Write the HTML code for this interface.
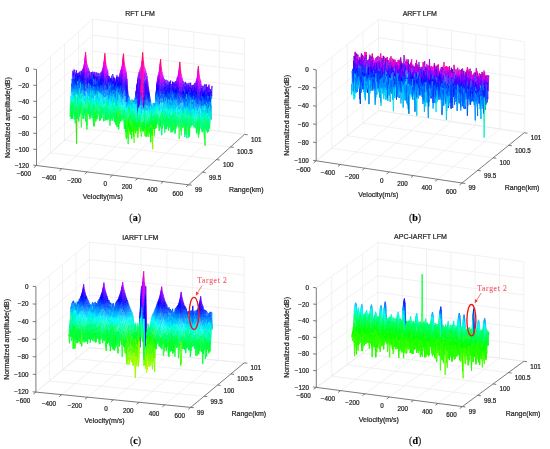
<!DOCTYPE html>
<html><head><meta charset="utf-8"><title>Range-velocity maps</title>
<style>
html,body{margin:0;padding:0;background:#fff;width:550px;height:449px;overflow:hidden}
svg{display:block}
.grid{stroke:#e8e8e8;stroke-width:.6;fill:none}
.ax{stroke:#5a5a5a;stroke-width:.8;fill:none}
.srf path{fill:none;stroke-width:7;stroke-linecap:butt}
.srf{filter:url(#bl)}
text{font-family:"Liberation Sans",Arial,sans-serif;fill:#262626;stroke:#262626;stroke-width:.22px}
.tk{font-size:6.3px}
.lb{font-size:7px}
.ti{font-size:7px;fill:#262626}
.cap{font-family:"Liberation Serif","Times New Roman",serif;font-size:10px;fill:#333}
.tg{font-family:"Liberation Serif","Noto Serif CJK SC",serif;font-size:7.6px;letter-spacing:.66px;fill:#f25563;stroke:#f25563;stroke-width:.1px}
.ar{stroke:#f03c3c;stroke-width:.7;fill:none}
.ah{fill:#f03c3c}
.el{fill:none;stroke:#ee1515;stroke-width:1.35}
.h0{stroke:#ff1300}
.h1{stroke:#ff3900}
.h2{stroke:#ff6000}
.h3{stroke:#ff8600}
.h4{stroke:#ffac00}
.h5{stroke:#ffd200}
.h6{stroke:#fff900}
.h7{stroke:#dfff00}
.h8{stroke:#b9ff00}
.h9{stroke:#93ff00}
.h10{stroke:#6cff00}
.h11{stroke:#46ff00}
.h12{stroke:#20ff00}
.h13{stroke:#00ff06}
.h14{stroke:#00ff2d}
.h15{stroke:#00ff53}
.h16{stroke:#00ff79}
.h17{stroke:#00ff9f}
.h18{stroke:#00ffc6}
.h19{stroke:#00ffec}
.h20{stroke:#00ecff}
.h21{stroke:#00c6ff}
.h22{stroke:#009fff}
.h23{stroke:#0079ff}
.h24{stroke:#0053ff}
.h25{stroke:#002dff}
.h26{stroke:#0006ff}
.h27{stroke:#2000ff}
.h28{stroke:#4600ff}
.h29{stroke:#6c00ff}
.h30{stroke:#9300ff}
.h31{stroke:#b900ff}
.h32{stroke:#df00ff}
.h33{stroke:#ff00f9}
.h34{stroke:#ff00d2}
.h35{stroke:#ff00ac}
.h36{stroke:#ff0086}
.h37{stroke:#ff0060}
.h38{stroke:#ff0039}
.h39{stroke:#ff0013}
</style></head><body>
<svg width="550" height="449" viewBox="0 0 550 449">
<defs><filter id="bl" x="-5%" y="-5%" width="110%" height="110%"><feGaussianBlur stdDeviation="3.5"/></filter></defs>
<path class="grid" d="M36.5 165.5L92.5 115.1M61.8 168.7L117.8 118.3M87.2 171.9L143.2 121.5M112.5 175.2L168.5 124.8M137.8 178.4L193.8 128M163.2 181.6L219.2 131.2M50.5 152.9L202.5 172.2M64.5 140.3L216.5 159.6M78.5 127.7L230.5 147M92.5 115.1L244.5 134.4M92.5 115.1L92.5 19.1M117.8 118.3L117.8 22.3M143.2 121.5L143.2 25.5M168.5 124.8L168.5 28.8M193.8 128L193.8 32M219.2 131.2L219.2 35.2M244.5 134.4L244.5 38.4M92.5 115.1L244.5 134.4M92.5 99.1L244.5 118.4M92.5 83.1L244.5 102.4M92.5 67.1L244.5 86.4M92.5 51.1L244.5 70.4M92.5 35.1L244.5 54.4M92.5 19.1L244.5 38.4M50.5 152.9L50.5 56.9M64.5 140.3L64.5 44.3M78.5 127.7L78.5 31.7M36.5 165.5L92.5 115.1M36.5 149.5L92.5 99.1M36.5 133.5L92.5 83.1M36.5 117.5L92.5 67.1M36.5 101.5L92.5 51.1M36.5 85.5L92.5 35.1M36.5 69.5L92.5 19.1"/>
<g class="srf" transform="scale(0.1)"><path class="h17" d="M1313 1134l7-138"/><path class="h19" d="M1527 1127l7-46"/><path class="h20" d="M1327 1075l7-72m200 78l7 15m0 0l8-30"/><path class="h21" d="M1299 1025l7-27m36 46l7-32m164 57l7 6m0 0l7 52m22-61l7-69"/><path class="h22" d="M1149 961l7-151m150 188l7 136m21-131l8 41m7-32l7-54"/><path class="h23" d="M1284 969l8-2m0 0l7 58m21-29l7 79m179-75l7 69"/><path class="h24" d="M785 861l7-135m314 175l7-130m243 187l7-51m136 66l7 27m50-3l7-63"/><path class="h25" d="M970 862l8-133m14 126l7-119m278 172l7 61m786 20l7-69"/><path class="h26" d="M756 801l7-99m336 134l7 65m257 6l7-51m122 68l7 49m64-39l7-97m143 74l7 10m0 0l7-104"/><path class="h27" d="M806 778l7-70m107 98l8-89m7 74l7-71m200 98l7 143m550-56l7-99"/><path class="h28" d="M735 758l7-62m7 56l7 49m14-59l8-4m0 0l7 123m35-111l8-61m78 85l7-53m43 60l7-57m122 55l7 13m0 0l7 44m57-26l7-26m14 27l8-43m7 38l7-69m171 119l7-52m107 67l8 53m371-37l7-56m28 73l8-76m171 92l7-62m14 60l7 12m0 0l8-17m0 0l7-54"/><path class="h29" d="M728 707l7 51m57-32l7-10m0 0l7 62m307-7l7-14m0 0l7-16m8 27l7 50m21-34l7-31m15 15l7 38m78-16l7 118m100-104l7-53m186 86l7-65m107 65l7-21m50 42l8-39m14 35l7-72m71 85l7-43m29 46l7-20m29 24l7-23m7 26l7-30m7 28l7-46m72 42l7-13m14 14l7-29"/><path class="h30" d="M742 696l7 56m14-50l7 40m43-34l7 42m72-40l7 14m0 0l7 50m7-53l7 85m8-89l7 74m7-71l7 2m0 0l7 59m7-57l7 138m8-133l7 4m0 0l7 122m7-119l7-10m0 0l7 11m0 0l7-29m107 33l8 27m35-15l7 58m22-74l7-31m271 110l7 55m165-72l7 6m0 0l7-6m0 0l7 8m0 0l7 2m0 0l7 28m7-21l8 89m7-99l7 105m14-94l7 7m0 0l7 34m8-39l7-7m0 0l7 42m85-30l8-3m0 0l7 66m7-56l7 39m7-20l7-22m0 0l7 76m8-76l7 46m7-23l7 26m7-30l7 28m15-34l7-30m50 38l7 22m7-13l7 1m0 0l7 13m14-11l8-17m21 14l7-12"/><path class="h31" d="M828 689l7-13m0 0l7-34m36 32l7 13m0 0l7 23m128-2l7-23m50 19l8 75m299-28l8-30m78 41l7 54m100-44l7-25m50 25l7 18m0 0l8 9m178 8l7 6m0 0l7 54m107-38l8 12m7-30l7-31m78 63l7 18m8-17l7 145m21-143l7 72"/><path class="h32" d="M842 642l7-36m21 39l8 29m149 11l8-30m35 34l7 15m129 2l7-14m0 0l7-31m36 34l7 29m0 0l7 66m122-69l7-23m64 32l7 32m114-15l7-30m36 30l7 25m136 10l7-15m0 0l7-25m36 36l7 29m171-20l8 18m0 0l7 44"/><path class="h33" d="M1035 655l7-36m21 39l7 31m150-28l7-39m172 76l7-20m50 27l7 25m128-13l8-38m21 40l7 28m157-5l7-38m22 41l7 33m150 2l7-35"/><path class="h34" d="M849 606l7-85m7 86l7 38m172-26l7-85m7 86l7 38m186 6l7 31m150-17l7-16m0 0l7-53m22 57l7 17m0 0l7 22m521 40l7-85m7 87l7 40"/><path class="h35" d="M1227 622l8-85m7 88l7 39m350 15l7-86m7 87l7 39m171-15l7-85m8 86l7 40"/><path class="h36" d="M1420 609l7-84m7 86l8 55"/><path class="h37" d="M856 521l7 86m186-73l7 86m928 40l7 87"/><path class="h38" d="M1235 537l7 88m364-32l7 87m185-61l8 86"/><path class="h39" d="M1427 525l7 86"/><path class="h18" d="M1306 998l-2 128 7-99"/><path class="h19" d="M1520 1075l-2 46 8-29"/><path class="h20" d="M1527 1127l-1-35 7-60m8 64l-1 5 7-5l2-30-2 30 7-29"/><path class="h21" d="M1284 969l-1 54 7-40m9 42l-2 18 7 83m9 8l-2-107 8 23l1-54-1 54 7-28m16 22l-2-1 7-20m166 46l-2-16 7 68m38-124l-2 70 7-83"/><path class="h22" d="M1327 1075l-1-53 7 0l1-19-1 19 7 21m9-31l-2 11 7-47m180 105l-1-49 7 69"/><path class="h23" d="M992 855l-2 60 7-80m116-64l-1 162 7-87m173 121l-2 16 7 60m209-43l-2 22 7 31"/><path class="h24" d="M1127 741l-1 168 7-112m23 13l-2 92 7-22m195 78l-2 18 7-52m138 49l-2 12 7 37m59-88l-2 50 7-126"/><path class="h25" d="M906 774l-2 69 8-28m251-31l-2 96 8-112m16 0l-2 118 7-116m87 138l-1 15 7 100m423-217l-2 147 7-110m180-15l-1 135 7-95m23-17l-2 136 7-129"/><path class="h26" d="M785 861l-2-54 7-79m123-7l-1 94 7-4l1-5-1 5 7-60m73-15l-2 99 7-72m116-6l-1 89 7 63m51-98l-1 42 7 33m180 21l-2 17 8-53m123 53l-2 15 7 46m187-148l-1 85 7-75m151 20l-1 77 7-83m9-40l-2 127 7-36m187-69l-1 129 7-46"/><path class="h27" d="M763 702l-1 83 7-54m9 7l-2 37 7 32m187 55l-1-71 7-21m37-33l-1 63 7-77m80 113l-2-21 7-33m566 25l-2 77 7-37m45 74l-2-11 7-14l2-79-2 79 8-19m130 10l-2 25 7-65m9 23l-2 36 8-59m51 0l-2 83 8-9l1-46-1 46 7-58m73 8l-2 62 7-43m73 28l-1 21 7-46m16-34l-2 98"/><path class="h28" d="M728 707l-2 29 7-10m23 75l-1-60 7 44m37-69l-2 52 8-7l1 17-1-17 7-2l1-51-1 51 7 3l1-12-1 12 7-38m123-2l-2 51 7-12m9-37l-1 42 7 25m9-62l-2 41 7-6m123 137l-2-119 8 151m23-165l-2 29 7-20m230 79l-1 15 7-52l1-15-1 15 7-52m101 104l-1 15 7 53m80-102l-2 21 8-65m80 12l-2 70 7-47m73-4l-1 53 7-41m16-24l-2 53 7-28m152 37l-2 27 7 86m123-115l-1 31 7 69m8-111l-1 65 7-18l2-64-2 64 7-36m16-14l-2 53 8-36m23 38l-2 15 7 29"/><path class="h29" d="M735 758l-2-32 7 7l2-37-2 37 7-11l2 30-2-30 8 19m15 1l-1-11 7 44m16-49l-2 2 7 40m31-79l-2 35 7-27m52-10l-2 43 7 3l2-23-2 23 7 13l2-22-2 22 7 97m24-126l-2 34 7-6l2 46-2-46 7-1l2-24-2 24 7 29m9 8l-2-20 8 5m23-33l-2 31 7 151m16-189l-2 37 8 37m73-21l-2-14 7-4l2 31-2-31 7 54m45 3l-2-41 7 6l2 178-2-178 7 119m16-149l-1 15 7 85m16-47l-2-36 7-5m73 25l-1 22 7 111m387-124l-2 29 7 56m9-75l-2 38 8 75m8-106l-1 31 7-21m16 85l-2-68 7 67m23-52l-1-22 7 7l2-24-2 24 7 22m9-11l-2-17 7-32m80 19l-1 37 7 87m44-44l-1-36 7 13l2-53-2 53 7 20m37-72l-1 34 7-24m73 19l-2 32 7-24m73 64l-1-37 7 35"/><path class="h30" d="M835 676l-2 21 7-33m38 10l-2 31 7 25m137-22l-1 15 7-13m51-6l-1 42 7 19m116-28l-2 28 7-34m180 20l-1 16 7-2l2-44-2 44 7-23m66-12l-2 44 7 4l2-16-2 16 8 54l1-16-1 16 7 54m151-114l-1 29 7 17l1-28-1 28 7 3l2-22-2 22 7 54m45 30l-2-79 7 127m130-140l-1 27 7 104m30-113l-2 16 7 59m9-56l-1-3 7 116m37-86l-2-19 7 72m24-89l-2-2 7 0l2-28-2 28 7-38m45 48l-2 17 7 67m16-74l-2 7 8 37m30 86l-2-117 7-1l2 49-2-49 7 40m9-65l-1 29 7 64"/><path class="h31" d="M870 645l-1 28 7 32m151-20l-1 25 7-31m37 10l-1 26 7 31m130-40l-2 25 7-15l2-24-2 24 8-31m44 39l-2 23 8 65m130-114l-2 44 7-20m52-17l-2 44 7 25m116-2l-1 21 7-22l1-24-1 24 7-31m37 7l-1 30 7 24m137-19l-2 23 7-10l2-28-2 28 8-29m37 12l-2 22 7 14l2-7-2 7 8 26m173-35l-2 29 7 32"/><path class="h32" d="M842 642l-2 22 7-34m188 25l-2 24 7-37m23 16l-1 26 7 31m187-20l-2 23 7 29m145-69l-2 44 7-16m38-23l-2 44 7 22m137-32l-1 23 7-38m23 17l-2 26 8 32m158-35l-1 24 7-38m23 17l-2 26 7 29m152-20l-2 21 7-34m23 20l-1 18 7 29"/><path class="h33" d="M849 606l-2 24 8-85m8 62l-1 23 7 43m173-54l-2 23 7-85m9 63l-2 23 8 41m158-23l-1 24 7-40m23 19l-2 23 7 31m159-56l-2 44 7-53m24 13l-2 43 7 18m530 18l-2 22 7-83m9 63l-1 23 7 35"/><path class="h34" d="M1227 622l-1 23 7-84m9 64l-2 23 7 39m352-8l-2 23 7-85m9 63l-2 24 7 41m173-41l-1 24 7-85m9 62l-2 25 7 41"/><path class="h35" d="M1420 609l-2 44 8-84m8 42l-1 44 7 54"/><path class="h36" d="M856 521l-1 24 7 85m1122 30l-2 24 8 86"/><path class="h37" d="M1049 534l-2 23 7 86m181-106l-2 24 7 87m366-55l-2 24 7 87m187-85l-1 24 7 87"/><path class="h38" d="M1427 525l-1 44 7 86"/><path class="h16" d="M1304 1126l-1 43 7-126"/><path class="h17" d="M1326 1022l-2 129 7-15"/><path class="h18" d="M1333 1022l-2 114 7-49"/><path class="h19" d="M1126 909l-2 139 7-208m159 143l-2 110 7-31m45-19l-2 44 7-56"/><path class="h20" d="M1297 1043l-2 19 8 107m223-77l-2-7 7-38"/><path class="h21" d="M1311 1027l-1 16 7-15m187-6l-1 37 7 9l1-15-1 15 7-11l1 64-1-64 7 28"/><path class="h22" d="M1319 1050l-2-22 7 123m23-128l-2 8 8-44m180 45l-2 15 7 0l2 54-2-54 7-11l2 60-2-60 7-3l2 34-2-34 8-38"/><path class="h23" d="M747 722l-1 153 7-88m9-2l-2 102 7-138m516 274l-2-50 7 120m66-117l-1 11 7-48m137 46l-2 22 8 52m151-184l-2 119 8-137"/><path class="h24" d="M919 811l-2 69 7-8l2-121-2 121 7-70m630 182l-1 11 7-120m187-10l-2 112 7-69"/><path class="h25" d="M812 759l-2 84 7-34m166-45l-2 85 8-28m8 14l-1 40 7-81m273 129l-2-1 7 51m80-49l-1 15 7-52m123 52l-2 17 7 51m352-146l-2 112 7-100m16-26l-1 129 7-12l1-58-1 58 7-49m151-49l-1 128 7-76m44-7l-1 84 7-26m9-30l-2 74 7-88"/><path class="h26" d="M819 762l-2 47 7-60m73-3l-1 67 7-51m9 53l-2 6 7 59m73 35l-1-94 7 54m101-60l-1 23 7-45m30 4l-2 43 7-51m559 37l-2 91 7-62m31 22l-2 43 7-51m102 75l-2-3 7 32m59-92l-2 70 7-74m159-5l-2 98 8-56m16-39l-2 94 7 44m23-56l-2 22"/><path class="h27" d="M733 726l-1 36 7-16m16-5l-2 46 7 100m45-126l-2 30 7 52m123-98l-2 57 8 5l1-63-1 63 7-38m16-3l-2 40 7-33m9-3l-2 48 7 31m31-49l-2 19 7-57m66 3l-2 55 7-36m59-1l-1 44 7 6l1 69-1-69 7-4l1 51-1-51 7-10l2-51-2 51 7-21m9 88l-2-53 7-15m181 53l-2 16 7-52m109 51l-2 16 7 54m202-109l-2 41 7 29m66-80l-2 71 8-78m66 10l-2 68 7 33m45-94l-2 68 7-37m9-10l-2 56 7 27m45-88l-2 66 7-62"/><path class="h28" d="M726 736l-2 8 8 18m8-29l-1 13 7 129m23-144l-2 18 7-1l2 27-2-27 7 14l2 45-2-45 8-4l1-30-1 30 7-8l1 18-1-18 7 41m23-67l-2 25 7-33m59 17l-1 27 7 53m8 30l-1-81 7 59m37-48l-1-4 7 0l1-8-1 8 7 37m9-15l-2-18 7 45m30-55l-1 31 7 25m80-58l-2 23 8 54m8-56l-1 11 7-5l2 145-2-145 7-2l2 60-2-60 7 262m16-271l-2 12 8 38m30 26l-2-55 7 35m9-63l-2 48 8-30m73 24l-2 18 7 92m102-103l-2 16 7-52m187 75l-1 17 7-59m87 12l-1 29 7-11m8 1l-1 19 7-12m37 56l-1-32 7-24m16-18l-2 33 7 4l2-30-2 30 7 104m109-65l-2-29 8 93m58-118l-1 50 7-30m9 43l-2-12 7 20m80-39l-1 28 7 76m9-91l-2 15 7-19m9 27l-2-2 7-30m16-23l-1 43 7 81m23-102l-2 32 7-9l2 12-2-12 7 63"/><path class="h29" d="M883 730l-2 17 8 13m130-37l-2 39 7-36m173 39l-1 23 7-34m187 11l-2 44 7-23m66-12l-1 44 7-25m9 39l-2 16 7 54m159-84l-2 25 7 2l2-24-2 24 7 149m16-110l-1-38 7 20m9 56l-2-68 7 34m16 65l-2-98 8-3l1-9-1 9 7 26m8 18l-1-42 7 66m94-106l-1 39 7 55m23 40l-2-75 7 10m31 80l-2-85 7 46m16-23l-2-24 8 5l1 105-1-105 7 26m8 22l-1-52 7 31m16-70l-2 28 7-13m52 12l-2 18 7 1l2 48-2-48 8 33m23 54l-2-73 7 25m9-16l-2-14 7 76"/><path class="h30" d="M833 697l-2 19 8-28m37 17l-2 12 7 30m145-37l-2 16 7-22m38 11l-2 23 7 13l2-5-2 5 7 69m123-89l-1 23 7-20m51 13l-1 22 7 61m116-63l-2 16 7 26m9-67l-2 44 8-20m51-17l-1 44 7 25m8-40l-1 15 7 55m102-55l-2 23 7-24m52 9l-2 19 7 23m130-38l-1 25 7-18m44-12l-1 26 7 27m137-14l-2 15 8-29m37 9l-2 21 7 29"/><path class="h31" d="M840 664l-1 24 7-34m23 19l-2 22 7 22m159-38l-2 25 7-39m24 19l-2 25 7 29m144-22l-1 18 7-26m37 10l-1 23 7 28m144-47l-1 44 7-16l1-44-1 44 7-53m23 12l-2 44 7 18l2-44-2 44 8 22m130-22l-2 21 7-28m30-19l-1 22 7 27l2-17-2 17 7 26m144-25l-1 17 7-21l2-25-2 25 7-39m23 19l-2 21 8 34m151-25l-1 24 7-33m23 13l-2 23 7 27"/><path class="h32" d="M847 630l-1 24 7-86m9 62l-2 25 7 40m352-10l-2 23 7-39m23 18l-1 23 7 31m337-1l-2 24 7-40m380 43l-1 25 7-84m9 62l-2 23 7 35"/><path class="h33" d="M1040 642l-2 23 8-84m8 62l-1 25 7 41m166-64l-2 24 7-85m9 64l-2 23 8 39m351-8l-2 22 7-84m9 64l-1 23 7 40m173-39l-2 24 7-85m9 63l-2 23 7 39"/><path class="h35" d="M855 545l-2 23 7 87m558-2l-1 44 7-84m9 42l-2 44 7 54m544-69l-1 24 7 85"/><path class="h36" d="M1047 557l-1 24 7 87m180-107l-2 23 7 87m188-102l-2 44 7 86m173-82l-2 23 8 87m187-84l-2 24 7 86"/><path class="h17" d="M1317 1028l-2 118 7-102"/><path class="h18" d="M1538 1047l-1 105 7-96"/><path class="h19" d="M1338 1087l-1 1 7-29m180 26l-2 38 7-56m373-116l-1 182 7-229"/><path class="h20" d="M1281 973l-1 81 7-39m23 28l-2 14 7 89m16-10l-1-53 7 5"/><path class="h21" d="M1295 1062l-1-18 7 1l2 124-2-124 7 12m16 94l-2-107 8 39m15-52l-1 28 7-58m159 67l-2-5 7 13l2-19-2 19 7 47m9-76l-2 20 8 85m544-157l-2 113 7-186"/><path class="h22" d="M810 843l-2 85 8-110m472 275l-1-78 7 29m209 15l-2-8 7 12m37-27l-1 20 7-7l1-16-1 16 7-36m152-161l-2 187 7-162"/><path class="h23" d="M1353 987l-2 14 7-46m137 52l-1 18 7 26m59-56l-2 18 7-115m487 26l-1 131 7-132"/><path class="h24" d="M903 762l-2 126 7-98m95 4l-2 92 7-89m266 125l-2 23 8 109m387-208l-2 142 7-106m59 38l-2 60 7-95"/><path class="h25" d="M724 744l-1 94 7-46m9-46l-2 89 7-43m180 80l-1-23 7-11m23-69l-2 88 7 15l2-66-2 66 7-57m395 124l-2 16 7-52m123 53l-1 15 7 54m194-137l-2 50 8-63m165 8l-1 78 7-67m30 30l-2 67 8 142m30-255l-2 102 7-29m95 43l-2-5 7-69"/><path class="h26" d="M732 762l-2 30 7 43m9 40l-2-83 7-5m9 100l-2-72 8-44m8-23l-1 71 7-46m37 36l-1 9 7-67m108 51l-1 36 7-47m9-22l-2 67 7 21m30-8l-1-25 7-26m9 77l-2-38 7 49m95-48l-2 22 7-45m9-27l-2 58 7-37m31 18l-2 22 7 13l2-29-2 29 7-45m16-19l-2 71 8-23m8-28l-1 43 7-34m173 60l-2 16 7-52m109 51l-2 15 8 54m258-98l-1 61 7-18m80-8l-2 35 7-9l2 7-2-7 8-42m80 16l-2 40 7 32m9-71l-2 42 7-50m173 78l-1 10"/><path class="h27" d="M753 787l-2 0 7 28m9-66l-1 22 7 48m8-57l-1 11 7 4l2-19-2 19 7-2l2-25-2 25 7 10l2 6-2-6 7 143m81-168l-2 45 7 1l2 7-2-7 7 82m9-67l-2-31 7 6l2 84-2-84 8 53m16-42l-2-16 7 45m23-63l-2 42 8-10l1 13-1-13 7 19m9-3l-2-23 7 39m87-17l-1-2 7-7l1-27-1 27 7 49m9-67l-2 22 7 31m16 202l-2-215 8-22m51 22l-1 13 7 15m9-73l-2 39 7-46m66 49l-2 19 7 96m295-70l-2 23 7-63m66 8l-2 50 8-14m16-22l-2 25 7 106m16-134l-2 55 7 29m66 39l-1-61 7-19l1 11-1-11 7-30m109 97l-2-46 7-20"/><path class="h28" d="M824 749l-1 2 7-16m51 12l-1 24 7 34m123 14l-2-22 7-29m59-17l-1 40 7 27m37-32l-2 23 7 24m9 7l-1-29 7 3l1-25-1 25 7 35m16-20l-2-12 7-1l2 3-2-3 7 53m202-34l-2 16 7-53m9 11l-1 44 7-24l1-43-1 43 7-19m52-17l-2 44 7 25l2-44-2 44 7-53m9 39l-2 15 7 54m166-72l-1 34 7-9l1 124-1-124 7 12m16-16l-2 16 7 27m16 8l-1-42 7 7l1-27-1 27 7 157m9-161l-2-1 7 0l2-23-2 23 7 103m9-111l-2 16 8 49m101 39l-1-81 7 1l1-20-1 20 7 68m9 15l-2-82 7 24m9-3l-2-17 7 3l2-23-2 23 7 90m16-114l-1 27 7-6l2-16-2 16 7 50m23-19l-2-28 8-17m58 0l-1 15 7 6l1-20-1 20 7 8l2 5-2-5 7 76m9-71l-2 2 7 0l2-21-2 21 8 135m8-161l-1 29 7-8l1 55-1-55 7 18l2-19-2 19 7 175m9-139l-2-47 7 14l2 77-2-77 8-17l1 6-1-6 7 17l1-20-1 20 7 53"/><path class="h29" d="M831 716l-1 19 7-24m37 6l-1 35 7 19m137-9l-2 6 8-17l1-25-1 25 7-25m37 12l-2 17 8 36m130-37l-2 27 7-20m52 8l-2 21 7 59m116-66l-2 15 8 55m16-87l-2 44 7-17m37-22l-1 44 7 22m16-44l-2 16 7 54m102-47l-2 19 7-20m45-21l-2 29 7 22l2-25-2 25 7 48m131-63l-2 37 7-31m52 17l-2 12 7 78m123-76l-1 17 7-2l1-28-1 28 7-34m37 7l-1 21 7 23"/><path class="h30" d="M839 688l-2 23 7-33m23 17l-1 24 7 33m158-48l-1 22 7-36m23 19l-2 23 7 23m145-21l-2 27 7-30m38 10l-2 22 7 27m152-40l-2 43 7-52m23 12l-1 44 7 18m137-23l-2 23 8-29m187 26l-2 24 7-22m38 12l-2 20 7 19m145-40l-2 23 7-34m23 14l-2 24 8 24"/><path class="h31" d="M846 654l-2 24 7-86m9 63l-2 23 8 41m351-11l-2 23 7-38m24 17l-2 23 7 30m337 1l-1 22 7-38m23 19l-2 24 7 32m159-32l-2 23 7-39m23 17l-1 22 7 32m159-54l-2 22 7-83m9 62l-2 25 7 34"/><path class="h32" d="M1038 665l-1 25 7-85m9 63l-2 24 7 40m166-63l-2 24 8-85m365 116l-1 24 7-84m9 63l-2 24 7 40m173-39l-2 23 8-85m8 63l-1 24 7 37"/><path class="h33" d="M1238 671l-1 23 7 39"/><path class="h34" d="M853 568l-2 24 7 86"/><path class="h35" d="M1046 581l-2 24 7 87m366 5l-2 44 7-84l2-44-2 44 7 85l2-43-2 43 8 55m165-157l-1 24 7 87m187-84l-1 23 7 87m180-69l-2 23 7 87"/><path class="h36" d="M1231 584l-1 24 7 86"/><path class="h18" d="M1544 1056l-2 103 7-102"/><path class="h19" d="M1315 1146l-1-60 7-4m9 1l-2 8 7-24m187 56l-1 3 7-19m9 45l-2-33 7 40"/><path class="h20" d="M937 791l-2 188 7-110m359 176l-2 17 7 2l2-7-2 7 8 22m8-42l-1 38 7 9m9-3l-2-21 7-6m159-10l-2 39 7 15l2-42-2 42 7-21m16-17l-1 40 7 12"/><path class="h21" d="M1172 869l-1 118 7-121m102 188l-2-18 7-3l2-18-2 18 7 19l2-8-2 8 7 10m45-3l-2 2 7-41m166 56l-2 8 8 42m30-77l-2 8 7-36m288-129l-2 198 7-142"/><path class="h22" d="M958 872l-1 76 7-49m137-84l-2 135 8-2l1-102-1 102 7-76m237 129l-2 19 7-49m138 54l-2 6 7 59m180-181l-1 111 7-76m208 47l-1 67 7-124"/><path class="h23" d="M744 792l-2 98 8-89m37-24l-2 128 7-75m16 98l-1-28 7-58m280 18l-2 64 7 26m23-117l-1 95 7-85m144 102l-1 40 7 51m280-23l-2 8 7-106"/><path class="h24" d="M773 819l-2 35 7-45m187 6l-1 84 7 1l2-95-2 95 7-40m187-44l-1 103 7 68m16-126l-2 47 7-58m166 105l-2 16 8-52m123 52l-2 16 7 44m252-97l-2 50 7-25m109 2l-2 53 7-73m202-26l-2 108 7-64"/><path class="h25" d="M758 815l-1 11 7 19l2-74-2 74 7 9m23-79l-2 55 8-18m16 6l-2 24 7-64m80 110l-1-35 7-43m16 39l-2 17 7-52m16 22l-2 33 8-2l1-10-1 10 7 81m23-124l-2 36 7 2l2-64-2 64 7-5l2-20-2 20 7-31m81-8l-2 64 7-45m30-28l-1 63 7 56m23-79l-2 45 7-57m509 45l-2 70 7-24m23 10l-1 6 7-39m23-28l-2 67 8-32m30 4l-2 43 7-35m259-19l-2 103 7-71m88-1l-2 62 7-39"/><path class="h26" d="M723 838l-2-47 7 19l2-18-2 18 7-15l2 40-2-40 7 95m9-103l-1 14 7 25m23-53l-2 36 7 96m16-120l-1 27 7 88m108-104l-1 24 7 46m87-69l-1 30 7-31m116 15l-2 32 7-7m23-19l-1 37 7 65m16-73l-2 20 7 42m80-59l-1 25 7 111m94-82l-1 16 7-53m108 51l-1 15 7 55m80-89l-2 17 8-58m80 13l-2 46 7 36m9 36l-2-60 8-33m30-13l-2 51 7-34m23 81l-1-47 7 3l1-51-1 51 7 48m16-87l-2 27 7-48m88 17l-2 55 7 66m9-120l-2 47 7-2l2-21-2 21 8-18m30-17l-2 39 7 26l2-71-2 71 7-12l2-9-2 9 8-33m8 27l-1 0 7-29m116 1l-2 54 7 46m38-104l-2 57 7 22"/><path class="h27" d="M823 751l-2 27 7-16m59 43l-2 1 7 6l2-6-2 6 8 41m8-63l-1 20 7 10m16 18l-2-24 7 165m66-93l-2-60 8 1m66-36l-2 20 7 71m9-71l-2 26 7 87m45-110l-2 22 7 58m9-32l-2-25 8 17m37-27l-2 23 7-40m437 83l-1 4 7-4l2-14-2 14 7 23m23-34l-1 13 7 125m16-145l-2 30 7 28m9 106l-2-140 7 45m9-67l-1 35 7 21m101 10l-1-33 7 4l1 20-1-20 7 176m37-192l-1 23 7 1l1-21-1 21 7 136m9 75l-2-199 7 9m23 37l-1-56 7 27m8-50l-1 21 7 0l2-38-2 38 7-17m66 8l-2 24 7 3l2 49-2-49 8 2l1-22-1 22 7 0l1-22-1 22 7-3l2 116-2-116 7 38m16-44l-2 26 7-1l2 150-2-150 8 1l1-37-1 37 7-17l1-6-1 6 7 34m16 13l-2-30"/><path class="h28" d="M830 735l-2 27 7-24m38 14l-2 24 7 6l2-11-2 11 7 24m130-38l-1 28 7-15l2-30-2 30 7-33m37 7l-1 33 7 23m130-30l-2 29 8-27m51 7l-2 23 8 61m108-23l-1 15 7-52m9 39l-2 43 7-23l2-44-2 44 7-20l2-43-2 43 7-16l2-44-2 44 8-53m23 13l-2 44 7 18l2-44-2 44 7 22l2-44-2 44 7 24l2-43-2 43 8-80m8 38l-1 16 7 53m94-97l-1 22 7-23m51 11l-1 15 7 37m130-30l-2 9 7-16m52 5l-2 20 8 25m130-28l-2 23 7-33m38 4l-2 37 7 1l2-15-2 15 7 94"/><path class="h29" d="M837 711l-2 27 7-38m24 19l-2 22 7 35m187-44l-1 24 7 32m144-27l-1 22 7-29m37 9l-2 23 7 27m123-15l-1 16 7 82m80-87l-1 16 7 54m108-64l-1 19 7-26m37 15l-1 25 7 12m144-24l-2 24 8-26m37 12l-2 20 7 19m145-37l-2 24 7-32m23 12l-1 30 7 31"/><path class="h30" d="M844 678l-2 22 8-84m8 62l-1 24 7 39m166-15l-2 22 7-34m180 17l-1 23 7-38m23 17l-2 25 7 28m338 0l-2 22 7-36m23 19l-2 24 8 33m158-34l-1 20 7-35m23 15l-2 26 7 26"/><path class="h31" d="M1037 690l-2 24 7-86m9 64l-2 23 8 41m537-8l-2 24 7-85m9 64l-2 23 7 41m173-40l-1 24 7-85m9 63l-2 24 7 39m166-26l-2 26 8-85m8 63l-1 24 7 40"/><path class="h32" d="M1222 693l-1 23 7-85m9 63l-2 24 7 40"/><path class="h34" d="M851 592l-1 24 7 86m187-97l-2 23 7 87m745-25l-2 24 7 87m180-70l-1 24 7 87"/><path class="h35" d="M1230 608l-2 23 7 87m180 23l-1 43 7-84l1-43-1 43 7 86l1-44-1 44 7 55m166-177l-2 23 7 87"/><path class="h15" d="M1321 1082l-2 117 7-88"/><path class="h17" d="M778 809l-1 237 7-192m744 253l-2 70 7 3l2-61-2 61 7-29m9-94l-1 112 7-143"/><path class="h18" d="M1314 1086l-2 29 7 84m223-40l-2-8 8 18m565-210l-2 236"/><path class="h19" d="M1328 1091l-2 20 7-36m173 30l-1 13 7-19"/><path class="h20" d="M1107 948l-2 76 7-127m173 136l-2 46 8-1l1-26-1 26 7-10l1-6-1 6 7 4l1-8-1 8 7 43m23-48l-2 8 8-9l1-5-1 5 7-34m151 58l-1-1 7 29m8-34l-1 15 7 0l2 27-2-27 7 78"/><path class="h21" d="M1092 924l-1 60 7 8l1-42-1 42 7 32m52-170l-2 132 7-76m116 126l-2 9 7 34"/><path class="h22" d="M721 791l-2 117 8-90m358 19l-1 117 7 30m180 1l-2 29 7 31m73-25l-1 12 7-48m137 47l-2 24 8 34m180-69l-2 14 7-56m38-66l-2 114 7 24l2-117-2 117 7-115m352 24l-2 139 7-133"/><path class="h23" d="M735 795l-1 94 7 7l1-6-1 6 7-80m23 38l-2 31 8 161m173-179l-2 47 7-47m601 154l-1 5 7-93m144-34l-1 111 7-61m151-8l-1 93 7-94m16-18l-2 112 7-76m180 1l-1 92 7-5l1-88-1 88 7 52m23-100l-2 67 7 130"/><path class="h24" d="M764 845l-2 29 7 11m16 20l-1-51 7-23m9-19l-2 68 7-57m116 43l-2 6 7-26m188 26l-2 25 7-34m9-20l-2 79 7-21l2-65-2 65 8-39m23 57l-2-9 7-22m187 83l-1 13 7-50m123 53l-2 14 7 54m166-103l-1 15 7-5m23-18l-2 34 7-46m216 11l-2 57 8-45m8 2l-1 43 7-46m16-32l-2 80 7-47m66 53l-1 21 7-67"/><path class="h25" d="M792 830l-1 1 7 49m16-38l-2 1 7-40m81 50l-2 14 7-17l2-40-2 40 7-12m16-24l-2 32 8 15l1 118-1-118 7-15m16 102l-2-81 7-24m9 57l-2-42 7-13m16 12l-1 20 7-31m173 141l-2-99 7-19m16-19l-1 45 7-63m166 87l-2 15 7-52m109 50l-2 16 7 53m159-108l-2 49 7 7l2-33-2 33 8 18m8-39l-1 34 7-37m30 8l-2 22 8 55m8-66l-1 5 7 77m30-67l-2-7 8-24m294 11l-2 51 7-29m45 15l-2 23 7 66"/><path class="h26" d="M728 810l-1 8 7 71m16-88l-2 15 7 5l2 5-2-5 7 53m45 26l-2-77 7 20m73-37l-1 21 7 8l1-23-1 23 7 32m16-47l-2 18 7 34m23-3l-1-23 7 68m16-15l-2-56 7 15m9 2l-2-15 8 2l1 15-1-15 7 30m8-51l-1 20 7-4l2-15-2 15 7-24m66 64l-2-29 8 101m37-26l-2-65 7 59m16-28l-1-32 7 0l1-25-1 25 7 124m23-120l-2 3 7 6l2 33-2-33 8 20m73-21l-2 15 7 125m294-99l-1 18 7-54m66 18l-2 32 7 13m31-47l-2 30 7 109m16-129l-2 27 7 23m38-19l-2-1 7-8l2 57-2-57 7 25m9-28l-1 4 7-14m66-4l-2 37 7-2l2-31-2 31 7-7l2 152-2-152 7 21l2-11-2 11 8-16l1 71-1-71 7 91m8-95l-1 1 7 2l2-21-2 21 7 92m9 24l-2-100 7-9l2-15-2 15 7 51m9-31l-1-14 7 45m9-76l-2 30 7 5l2-8-2 8 7 43m9-80l-2 33 7-23m66 5l-1 25 7 6l1-28-1 28 7-4l2-22-2 22 7 0l2-22-2 22 7 26m16 33l-1-59 7 87"/><path class="h27" d="M821 778l-2 25 8-11l1-30-1 30 7-33m37 17l-2 12 7 18l2-24-2 24 8 21m130-31l-2 22 7-11l2-26-2 26 7-31m45 35l-2 10 7 32m123-43l-1 22 7-25m266 72l-2 15 7 54m152-88l-2 39 7 30m130-53l-1 38 7-22m51-7l-1 30 7 32m130-42l-2 27 8-34m37 15l-2 25 7 1l2-25-2 25 8 90m44-52l-2-16 8 3m30-22l-2 23 7 34"/><path class="h28" d="M835 738l-1 21 7-34m23 16l-2 25 7 22m195 0l-2 18 7 15m138-38l-2 24 7-30m37 9l-1 24 7 24l1-21-1 21 7 55m109-23l-2 16 7-53l2-15-2 15 7 111l2-44-2 44 7-23l2-44-2 44 8-20l1-44-1 44 7-16l1-44-1 44 7-53m23 13l-2 44 7 18l2-44-2 44 8 21l1-43-1 43 7 26l1-45-1 45 7-110l2-15-2 15 7 54m102-37l-2 22 7-22l2-23-2 23 7-25m38 16l-2 15 7 36m144-39l-1 32 7-32m37 6l-1 27 7 22m144-43l-1 26 7-35m23 19l-2 21 7 35"/><path class="h29" d="M1028 748l-2 28 8-40m23 20l-2 20 7 30m152-52l-2 23 7-37m366 68l-2 24 7-37m23 20l-1 21 7 27m159-29l-2 26 7-38m23 18l-1 26 7 27"/><path class="h30" d="M842 700l-1 25 7-86m9 63l-2 24 7 40m173-52l-1 22 7-84m8 63l-1 24 7 37m187-18l-1 21 7 31m358-36l-1 24 7 38m173-37l-2 23 7-85m9 64l-2 24 8 41m165-26l-1 23 7-85m9 64l-2 21 7 40"/><path class="h31" d="M1221 716l-2 24 7-85m9 63l-2 23 8 38m351-7l-2 23 8-84"/><path class="h33" d="M850 616l-2 23 7 87m187-98l-1 24 7 87m930 16l-2 23 7 85"/><path class="h34" d="M1228 631l-2 24 7 86m366-54l-1 24 7 87m187-84l-2 23 7 88"/><path class="h35" d="M1414 784l-2 44 7-84l2-44-2 44 7 86l2-44-2 44 7 55"/><path class="h15" d="M1512 1099l-2 135 7-118"/><path class="h17" d="M1283 1079l-1 62 7-63m37 33l-1 40 7-43"/><path class="h18" d="M1305 1072l-2 59 7-34m9 102l-2-73 8 25m544-211l-2 219 7-166"/><path class="h19" d="M805 823l-2 170 8-150m351 67l-2 134 8-25m108 26l-1 41 7 55m16-73l-2 20 7 43m9-16l-2-18 7 29m16-51l-1 33 7-25m166 35l-2 16 7 100m9-135l-2 17 7-5m9 69l-1-56 7 0l1 27-1-27 7-7l2 52-2-52 7-67m87-108l-1 175 7-169m287 11l-2 182 8-172"/><path class="h20" d="M905 850l-2 137 8-122m173 89l-2 55 7-94m66 71l-2 37 7 21m9-156l-1 131 7-75m116 134l-2 0 7 10m45-22l-2 17 7-29m152 35l-2 19 7 26m23 43l-2-66 8 13"/><path class="h21" d="M891 835l-2 122 7-69m23-16l-1 98 7-107m423 169l-2 22 7-54m137 55l-1 11 7 42m244-181l-1 141 7-88m144-22l-1 143 7-65"/><path class="h22" d="M734 889l-2 17 7-31m359 117l-2-28 7-83m80-6l-1 94 7-57m80 102l-2 2 8 70m280-60l-2 24 7-98m166 98l-2-9 7-91m152 84l-2 40 8 27m15-101l-1 74 7-98m201 219l-1-110"/><path class="h23" d="M727 818l-2 78 7 10m59-75l-2 58 7-11m138-17l-2 59 7-59m37-16l-1 71 7-48m9 9l-2 54 7-53m9-36l-2 70 7-64m109 15l-1 76 7-31m8-7l-1 27 7-33m37-26l-1 75 7 25m173 15l-2 16 7-50m123 51l-1 15 7 50m223-117l-2 67 7 8l2 2-2-2 7 17m138-7l-2 8 7 117m30-210l-1 87 7 38m116-112l-2 89 7-4l2-79-2 79 7-56m16-1l-1 53 7-8m23 11l-2 25 7-80m16 8l-1 54 7-52"/><path class="h24" d="M741 896l-2-21 7-24m16 23l-1-6 7-23m30 35l-2-2 7 115m81-166l-2 58 7 72m9-90l-2 21 7 99m45-73l-2-21 7-21m9-29l-1 37 7 17l1-39-1 39 7 19m101-63l-1 45 7 111m9-25l-2-69 7 49m30-42l-1-14 7 20m59-33l-2 17 7-58m459 113l-2 14 7-4l2-15-2 15 7-32m16 33l-1 13 7-20l1-39-1 39 7 22l1-38-1 38 7-26m44-15l-1 28 7-3m301-16l-1 74 7-33m9 49l-2-30 7 50"/><path class="h25" d="M719 908l-1-71 7 59m23-80l-2 35 7-8l2-22-2 22 8 25m8 17l-1-40 7-1l2 202-2-202 7 6l2 4-2-4 7 39m23-46l-1 0 7-6l1-34-1 34 7-26m87 27l-1 27 7 105m8-124l-1 17 7 57m9-74l-2 15 7 32m9-26l-2 5 8 8m23-33l-2 21 7 63m9-85l-2 32 7 34m102 112l-2-143 7 0l2 16-2-16 8 58m23-77l-2 33 7 2l2-35-2 35 7 126m109-134l-2 20 7 107m95-82l-2 16 7-53m109 51l-2 16 8 52m80-83l-2 19 7-53m80 50l-1-1 7 33m16-56l-2 20 7 0l2 89-2-89 8 46m23 19l-2-43 7 49m23-81l-2 15 8 118m16-140l-2 49 7-44m66 14l-2 34 7-7l2-29-2 29 8 6l1-42-1 42 7-4l1-17-1 17 7-10l2-23-2 23 7 76m16-100l-2 51 7 81m31-119l-2 21 7 2l2 22-2-22 7 17l2-41-2 41 7 146m81-112l-2-41 7 63m16-87l-2 27 7-7m24-20l-2 38 7 19m23-56l-2 42 8 46m8 12l-1-64 7 84"/><path class="h26" d="M827 792l-2 19 7-28m37 5l-1 27 7 23l1-32-1 32 7 47m130-67l-2 30 8-19m51-8l-1 41 7 36m551 1l-2 16 8 16l1-2-1 2 7 186m123-203l-2 19 7-22m52 4l-2 34 7 32m116 21l-1-33 7-13l1-1-1 1 7-13m51-4l-1 28 7 21m30-24l-2 20 8 59m37 55l-2-107 7 16"/><path class="h27" d="M834 759l-2 24 7-36m23 19l-1 20 7 29m151-8l-1 22 7-31m37 8l-2 30 8 26m130-30l-2 22 7-26m52 6l-2 21 7 54m209-15l-2 16 7 54m95-85l-2 20 7-17l2-25-2 25 8-27m37 8l-2 26 7 26m145-23l-2 19 7-26m38 8l-2 19 7 37m137-17l-1 11 7-23m37 18l-1 14 7 15"/><path class="h28" d="M1026 776l-1 22 7-37m23 15l-2 26 7 34m145-29l-2 21 7-27m38 9l-2 23 7 22m116 27l-2 15 8-52l1-16-1 16 7 138l1-43-1 43 7-22l1-44-1 44 7-20l2-44-2 44 7-16l2-44-2 44 7-53m23 13l-1 43 7 18l1-43-1 43 7 22l2-44-2 44 7 25l2-43-2 43 7-137l2-16-2 16 7 54m116-78l-1 23 7-37m23 18l-2 24 7 29m159-29l-2 25 7-39m24 20l-2 20 7 26m152-14l-2 22 7-33m23 16l-2 24 8 25"/><path class="h29" d="M841 725l-2 22 7-84m9 63l-2 23 8 37m173-50l-2 25 7-86m9 64l-2 22 7 41m159-25l-2 24 8-37m23 15l-2 25 7 29m723 30l-2 24 7-85m9 61l-2 26 7 38"/><path class="h30" d="M1219 740l-1 24 7-86m8 63l-1 24 7 39m351-9l-1 23 7-84m9 64l-2 23 7 39m173-38l-2 24 8-85m8 64l-1 22 7 39"/><path class="h32" d="M848 639l-2 24 7 86m188-97l-2 23 7 86m930 17l-2 24 7 87"/><path class="h33" d="M1226 655l-1 23 7 87m366-54l-2 23 7 87m187-84l-1 24 7 86"/><path class="h35" d="M1412 828l-2 44 7-84l2-44-2 44 8 86l1-44-1 44 7 54"/><path class="h13" d="M1317 1126l-1 129 7-143"/><path class="h14" d="M1289 1078l-2 145 7 17l2-152-2 152 8 3l1-112-1 112 7-107"/><path class="h15" d="M1282 1141l-2 55 7 27"/><path class="h16" d="M1517 1116l-1 102 7-65m9-29l-2 82 7-82m9-7l-2 85 7-133"/><path class="h17" d="M1510 1234l-1-39 7 23"/><path class="h18" d="M903 987l-1 53 7-158m401 215l-1 39 7 119m208-144l-1 42 7 53"/><path class="h19" d="M975 916l-2 121 7-89m345 203l-2-39 7-4l2 0-2 0 7-6l2-19-2 19 7-32m152 38l-2 24 7-10l2 12-2-12 8 73m30-71l-2 0 7 78m366-226l-2 168 7-127m9-22l-1 145 7-90"/><path class="h20" d="M796 878l-1 88 7-73m116 77l-2 21 7-74m252 27l-2 83 7-108m95 167l-2-23 7 133m66-142l-2 16 7-53m716 4l-2 128 8-21"/><path class="h21" d="M753 843l-1 103 7-79m30 22l-1 51 7 26m144-105l-2 98 8-54m173 34l-2 51 7-84m144 110l-1 6 7 41m216 3l-2 16 7 50m59-82l-2 19 8-95m294-8l-2 112 7-85m45 81l-2 31 7 39m166-73l-1 57 7-89"/><path class="h22" d="M739 875l-1 32 7-15m30-48l-2 86 7 3l2-83-2 83 8 7m23-97l-2 87 7-83m80 41l-1 60 7 92m51-168l-1 71 7-47m9 1l-2 52 7 88m9-169l-2 80 7-41m159-10l-2 61 8 20l1 45-1-45 7-16l1 82-1-82 7-50m187 88l-2 17 8-52m123 51l-2 17 7 49m230-58l-1 20 7-60m8-34l-1 104 7-73m137 12l-1 69 7-58m158-20l-1 96 7-19m16-59l-2 85 7 62m23-142l-1 81 7-19"/><path class="h23" d="M725 896l-2 6 7-39m16-12l-1 41 7 54m51 47l-1-100 7 37m73-45l-2 11 7 13l2 48-2-48 8 39m30-85l-2 54 7-20m16-4l-1 12 7 38m144 21l-2-14 8-9l1-60-1 60 7-32m30-14l-2 37 7 26m516 19l-2 36 8-36m30 16l-2 7 7 15l2-48-2 48 7-35m181 121l-2-54 7-9l2-2-2 2 7 67m30 36l-1-91 7-27m80 28l-2 8 8-54m23 38l-2 18 7-34m45 26l-2 16 7-53m9 69l-2-17"/><path class="h24" d="M718 837l-2 23 7 42m9 4l-2-43 8 44m23-39l-2-1 7-1l2-21-2 21 7 64m138-65l-2 17 7 109m16-71l-2-23 7 62m24-79l-2 16 7 53m23-18l-2-24 8-3l1-26-1 26 7-13l1 21-1-21 7-29m73 147l-2-106 7-1l2 13-2-13 7 48m16-69l-1 28 7 81m9-82l-2-2 7 14l2 8-2-8 7 12m31 87l-2-107 7 115m9-58l-2-50 7-9l2 2-2-2 7-36m166 76l-1 15 7-52m108 51l-1 16 7 53m80-81l-1 22 7-52m66 9l-2 53 7 0l2 133-2-133 7-14l2-22-2 22 7-4m16-21l-1 32 7 6l1-38-1 38 7-10l2 18-2-18 7-4m23 47l-2-36 8 64m8-3l-1-57 7 70m9 14l-2-87 7 12l2-13-2 13 7 7l2-23-2 23 7-34m73 8l-1 32 7-20m30 173l-2-141 8 44m8 12l-1-70 7 43m30-69l-2 39 8 123m16-171l-2 54 7-24m109 36l-2-8 7 60m23-96l-1 48 7 49"/><path class="h25" d="M818 837l-2 10 7-6l2-30-2 30 7-34m45 31l-2 28 7 30m130-48l-1 14 7-12m52 12l-2 8 7 24l2 4-2-4 7 9m180 6l-1 21 7 92m358-107l-1 24 7 45m23-3l-2-15 7 47m31-42l-2-2 7 31m66-67l-2 33 8-29m51 12l-1 16 7 12l1 4-1-4 7 29m9-26l-2 6 7 5l2-15-2 15 7 87m9-36l-2-49 7 25m81-62l-2 43 7-31m45-16l-2 32 7 17l2-34-2 34 7 11l2-24-2 24 7 47m9-12l-1-42 7 8l1-22-1 22 7 67m66-79l-2 15 7 52"/><path class="h26" d="M868 815l-2 24 7 27m145-37l-2 21 7-30m37 16l-1 15 7 19m130-16l-2 20 8-20m51 1l-1 20 7 55m208-20l-1 16 7 54m94-81l-1 23 7-18m44-15l-1 23 7 27m144-28l-1 26 7-32m37 7l-2 33 8 20m137-22l-2 25 7-19"/><path class="h27" d="M832 783l-2 24 7-37m24 16l-2 27 7 26m159-41l-2 22 7-36m23 18l-1 21 7 28m144-23l-1 26 7-29m37 8l-2 21 8 21m322 7l-1 22 7-26m30-18l-2 26 8 26m158-27l-1 20 7-36m23 17l-2 25 7 34m152-25l-2 29 7-39m23 17l-1 25 7 32"/><path class="h28" d="M839 747l-2 23 8-83m8 62l-1 23 7 41m173-52l-2 23 7-85m9 62l-1 25 7 37m158-22l-1 24 7-38m23 17l-2 23 7 27m123 43l-1 16 7-52l2-16-2 16 7 164l2-42-2 42 7-20l2-44-2 44 7-21l2-43-2 43 7-15l2-44-2 44 8-53m23 12l-2 44 7 18l2-44-2 44 7 21l2-43-2 43 7 24l2-42-2 42 8-164l1-15-1 15 7 55m116-71l-2 23 7-36m380 45l-2 23 8-84m8 63l-1 22 7 41"/><path class="h29" d="M1218 764l-2 23 7-85m9 63l-2 23 7 39m352-9l-2 24 7-85m9 64l-2 24 7 41m173-40l-1 23 7-84m9 62l-2 23 7 41"/><path class="h31" d="M846 663l-1 24 7 85m1122 30l-1 24 7 85"/><path class="h32" d="M1039 675l-2 24 8 87m180-108l-2 24 7 86m366-54l-2 23 7 88m188-84l-2 24 7 85"/><path class="h35" d="M1410 872l-1 44 7-84l1-44-1 44 7 86l2-44-2 44 7 54"/><path class="h14" d="M1323 1112l-2 134 7-65"/><path class="h16" d="M1330 1108l-2 73 8-33"/><path class="h17" d="M1166 912l-2 193 7-168m109 259l-2-55 8-31m8 130l-1-93 7-10m230 69l-2-13 7-57m380-119l-1 196 7-195m173 51l-2 152 7-52"/><path class="h18" d="M987 907l-1 158 7-145m309 323l-2-106 7-5l2 4-2-4 7 4l2 119-2-119 7 110m16-144l-1 46 7-50m151 34l-1 13 7 8l1-31-1 31 7 0l2 42-2-42 7-11m9 11l-2 2 7 38"/><path class="h19" d="M795 966l-2 29 7-100m116 96l-2 40 8-124m8-10l-1 122 7-107m330 110l-2 55 7 8l2-22-2 22 7 56m9 82l-1-113 7 37m51-77l-1 28 7-55m166 175l-2-76 7 13m16-31l-2 12 8-14l1 80-1-80 7-37m158-105l-1 130 7-104m137 72l-1 59 7-126m23-7l-2 143 7-73m173 13l-1 93 7-140m37-24l-2 153 8-78"/><path class="h20" d="M745 892l-2 86 7-90m230 60l-1 55 7 62m130-75l-2 38 7-29m38-37l-2 72 7 71m323-23l-2 20 8 43m173-168l-2 117 7-99m30 20l-1 81 7 14"/><path class="h21" d="M880 896l-1 59 7-47m16 132l-2-69 7-66m173-2l-1 90 7-27m37-60l-2 93 8-62m51-18l-1 92 7-82m165 88l-1 26 7-50m123 40l-2 28 7 41m66-33l-1 16 7-82m101 10l-1 38 7 43m30-94l-1 73 7 23m323-91l-2 115 7-88"/><path class="h22" d="M716 860l-2 49 8-21m58 45l-1 1 7-16l2 22-2-22 7 77m102-47l-2-15 7 38m45-66l-2 49 7 2l2-13-2 13 7-31m9 24l-2-6 7-31m102-18l-2 63 8 36m8-91l-1 64 7-1l1-15-1 15 7-28m544 33l-1 76 7-17l1-63-1 63 7 22m73 3l-2-15 7 12l2-70-2 70 7 10l2-68-2 68 8-58m94-12l-2 71 8 75m37-90l-2 27 7-10l2-26-2 26 8-48m30 34l-2 13 7-21m80 17l-1 13 7 48m52 8l-2-50 7-42m9 52l-2 8 7 125m16-153l-1 23"/><path class="h23" d="M723 902l-1-14 7 1l1-26-1 26 7 0l2 18-2-18 7 89m9-32l-2-58 7 7l2-28-2 28 7 7l2-36-2 36 8-12l1 40-1-40 7 44m23-41l-2 2 7 13l2 22-2-22 7-13l2-48-2 48 8-34m65 48l-1-1 7 25m16-51l-2 23 7 126m9-114l-1-10 7 112m8-60l-1-47 7 42m16-58l-2 29 7 18m9 94l-2-125 8 91m16-99l-2 16 7 12l2-41-2 41 7-17l2-53-2 53 7-31m88 57l-2-4 7-9l2-19-2 19 7 100m16-108l-1 17 7 4l1-9-1 9 7-5l1 22-1-22 7-3l2 45-2-45 7 101m16-7l-2-90 8 74m80-81l-2 33 7 114m95-112l-2 28 7-53m109 40l-2 27 7 54m81-87l-2 29 7-51m73 32l-2 27 8 35m37-73l-2 35 7-15m31 51l-2-38 7-3m102-26l-2 50 7-17m9-24l-2 42 7 34m95-39l-2 19 7-30m59-11l-2 45 8 3l1-37-1 37 7 23m30-11l-2-15 7-5"/><path class="h24" d="M866 839l-2 31 8 11l1-15-1 15 7 74m180-104l-2 44 7 12l2-37-2 37 7 50m116-47l-1 19 7-11l1-44-1 44 7-30m423 51l-2 29 7 15l2 1-2-1 7 28m38-28l-2 12 7 13m9-39l-2 24 8 80m30-89l-2 19 7 36m23-39l-1 3 7-26m59-12l-2 35 7 27m9-21l-2 4 7 18m23-35l-1 18 7 4l1 3-1-3 7-2l2 49-2-49 7 134m23-42l-1-89 7 3l1 125-1-125 7 194m9-73l-2-122 7 45m16-64l-2 13 8-17m80 18l-2 19 7-1l2 49-2-49 7 15m9-19l-2 14 8 139m8-31l-1-109 7 38m9-39l-2-3 7 60"/><path class="h25" d="M823 841l-1 20 7-22l1-32-1 32 7-33m23 7l-2 34 7 23m152-20l-2 34 7-27m181-3l-2 34 7-28m45 15l-2 33 7 55m209-37l-2 27 7 54m95-85l-2 30 7-14l2-34-2 34 7-25m38-1l-2 31 7 25m137-2l-1 11 7-2l2-38-2 38 7-37m37 7l-1 29 7 26m137-32l-1 27 7-11l1-35-1 35 7-40m30 40l-2 28 7 34"/><path class="h26" d="M1023 820l-2 37 8-39m23 5l-2 34 7 38m152-70l-2 35 7-37m30 31l-1 34 7 20m330-30l-2 35 7-37m23 10l-1 36 7 21m159-38l-2 33 7-34m23 7l-1 36 7 27m180-22l-2 31 7 29"/><path class="h27" d="M837 770l-1 36 7-84m9 50l-2 37 7 38m173-63l-1 34 7-84m9 52l-2 35 7 36m187-30l-1 34 7 27m551-18l-2 37 8 40m165-37l-1 34 7-83m9 50l-2 37 7 35"/><path class="h28" d="M1216 787l-2 36 7-86m9 51l-2 35 8 38m130 52l-2 27 7-52l2-27-2 27 7 184l2-47-2 47 8-26l1-41-1 41 7-17l1-45-1 45 7-17l1-43-1 43 7-52m23 12l-2 43 8 19l1-44-1 44 7 19l1-42-1 42 7 27l1-45-1 45 7-181l2-28-2 28 7 54m123-111l-2 34 8-83m8 52l-1 35 7 42m173-53l-2 35 7-84"/><path class="h30" d="M845 687l-2 35 7 87m187-110l-1 35 7 87m930 5l-2 35 7 87"/><path class="h31" d="M1223 702l-2 35 7 86m366-66l-1 36 7 87m187-95l-2 35 7 87"/><path class="h35" d="M1409 916l-2 44 7-84l2-44-2 44 7 86l2-44-2 44 7 53"/><path class="h12" d="M1278 1141l-1 154 7-155"/><path class="h13" d="M1514 1142l-2 148 8-130m8 33l-1 106 7-135"/><path class="h14" d="M1507 1153l-2 102 7 35"/><path class="h16" d="M800 895l-1 183 7-144m494 203l-2 38 7-37m16 108l-1-60 7-39m173 6l-2 53 7 49"/><path class="h17" d="M1550 1085l-2 84 7-108m345-45l-2 180 7-58"/><path class="h18" d="M907 905l-1 133 7-101m9-30l-2 136 7-86m44-45l-1 135 7-28m309 91l-2 30 7-1l2 8-2-8 7 36m9-43l-2 6 8 7l1-9-1 9 7 41m8-5l-1-34 7-13l2 14-2-14 7 12l2-48-2 48 7-56m145 55l-2 22 7 39m23-51l-1 5 7 139m8-163l-1 28 7-22m102-96l-2 96 7 15l2-128-2 128 7-66m387-45l-1 137 7-47"/><path class="h19" d="M793 995l-2 16 8 67m187-13l-2-19 7-27m173 86l-1-40 7-57m94 69l-1 3 7 18l1-13-1 13 7 197m208-193l-1 40 7 25m52-45l-2 20 7 27m294-107l-1 73 7-31m59-85l-2 119 7-32"/><path class="h20" d="M779 934l-2 45 7-13m95-11l-2 34 7-25m16 7l-2 16 8 51m73-35l-2 16 7 27m9-126l-2 99 7-27m88-26l-2 45 7-22m16-61l-2 92 8-61m8 40l-1 37 7-66m223 73l-2 47 7-47m123 18l-1 46 7 35m173-91l-2 40 7-51m23-47l-1 103 7-77m51 42l-1 34 7-16m102 58l-2-33 7-70m9-19l-2 90 7-52m180-12l-1 95 7-79"/><path class="h21" d="M743 978l-2-30 8-23m23-35l-2 51 7 38m9-61l-2 48 7 45m95-103l-2 56 7 5l2-36-2 36 7 18m38-75l-2 71 7-50m59-1l-2 60 8-60m87 33l-2 24 7-38m38-10l-2 68 7-45m16 70l-2-30 8 61m8-128l-1 71 7-6l2 9-2-9 7-9l2-64-2 64 7-46m66 16l-2 58 8 59m294-77l-2 58 7-52m152-3l-2 60 7 7l2-70-2 70 8-39m23-31l-2 76 7-24m73-45l-2 81 8-3l1-60-1 60 7 47m37 12l-2-55 8-29m30 150l-2-107 7-62m159-8l-2 93 7-42m16 82l-1-42 7-3l2-33-2 33"/><path class="h22" d="M714 909l-1 21 7-20l2-22-2 22 7 13l2-34-2 34 7-8l2-26-2 26 7 33m9-60l-1 37 7-12l1-18-1 18 7 5l1-16-1 16 7 23m37-33l-1 26 7-24m59-29l-2 47 7 61m37 42l-1-94 7 106m9-24l-2-62 7 26m16-27l-2-15 8-6m8 8l-1-3 7 107m94-140l-1 43 7-5m44 83l-1-69 7 77m9-99l-2 33 7 39m9-73l-2 28 7-2l2-29-2 29 7 42m202-11l-2 50 7-53m109 17l-1 49 7 51m151-124l-1 40 7 2l1-14-1 14 7 117m23-48l-2-54 7 0l2-45-2 45 8-14m51 13l-1-5 7-11m23-46l-2 78 7-50m59 22l-2 39 7 25m45-78l-2 40 7 39m9-18l-1-11 7-23m44 2l-1 37 7 7l1-74-1 74 7-20l2-71-2 71 7-45m52 28l-2 24 7 12l2-13-2 13 7-25m66 36l-2-9 8-4l1 138-1-138 7 44"/><path class="h23" d="M814 895l-1 15 7-6l2-43-2 43 7-6l2-59-2 59 7-37m23-14l-1 60 7 6l1-43-1 43 7 15m73 26l-2-21 7 8m9-16l-1 10 7 5m44-25l-1 17 7 11l1-59-1 59 7-27m37-21l-1 51 7 4m8 7l-1-12 7 5l2 43-2-43 7 61m16-74l-2 14 7 69m88-102l-2 29 7 1l2-60-2 60 7-29m45-11l-2 52 7 61m309-69l-2 57 7-14l2-57-2 57 8-27m44 0l-2 43 8 12m51-15l-1 18 7 70m9-23l-2-54 7 1l2 76-2-76 7 8l2 82-2-82 7 38m23-15l-1-28 7 72m66-121l-2 55 7-8l2-21-2 21 7 45m38-55l-2 23 7 71m30-41l-1-24 7 156m23-178l-2 26 7 0l2 19-2-19 8 35m58-67l-1 55 7-19l1-2-1 2 7 25m16 47l-2-60 7 0l2-28-2 28 8-3l1-26-1 26 7 126m16-3l-2-123 7 1l2-18-2 18 7 6l2 14-2-14 7 65"/><path class="h24" d="M1021 857l-1 59 7-43m23-16l-2 50 8 39m151-86l-2 59 8-41m30 10l-2 52 7 20m216-7l-2 50 8 53m108-143l-1 55 7-34m23-12l-2 57 7 10l2-46-2 46 7 22m145-36l-2 30 7-15l2-52-2 52 8-28m23-15l-2 57 7 25m152-45l-2 37 7-25m23-13l-1 45 7 39"/><path class="h25" d="M836 806l-2 55 7-81m9 29l-2 56 8 42m173-89l-2 55 7-81m9 29l-2 54 7 32m188-46l-2 54 7 25m359-60l-2 58 7 41m173-75l-1 58 7-84m180 66l-2 52 7-77m9 29l-2 51 8 29"/><path class="h26" d="M1214 823l-1 55 7-83m8 28l-1 58 7 34m351-39l-1 58 7-84m201 57l-1 54 7 43"/><path class="h28" d="M843 722l-2 58 7 85m188-131l-2 58 7 83m323 65l-2 50 8-52l1-50-1 50 7 177l1-43-1 43 7-28l2-41-2 41 7-15l2-43-2 43 7-17l2-43-2 43 7-52m23 12l-1 44 7 19l2-44-2 44 7 19l2-44-2 44 7 22l2-39-2 39 7-170l2-50-2 50 7 54m509-142l-2 58 7 80"/><path class="h29" d="M1221 737l-1 58 7 86m366-88l-2 57 7 88m187-118l-1 58 7 83"/><path class="h35" d="M1407 960l-2 43 7-83l2-44-2 44 8 85l1-43-1 43 7 54"/><path class="h6" d="M1284 1140l-2 302 7-287"/><path class="h11" d="M1512 1290l-1 58 7-104"/><path class="h13" d="M1305 1138l-1 131 7-102"/><path class="h14" d="M1327 1147l-2 92 7-60"/><path class="h15" d="M1520 1160l-2 84 7-48m16-54l-2 93 7-104m552-4l-2 156 7-192"/><path class="h16" d="M756 913l-2 161 7-126m537 227l-1 7 7 87m16-83l-2 4 7 49m9-105l-2 45 7 4l2-37-2 37 8-43m137 2l-2 56 7-27m45-7l-2 43 7 28m509-99l-2 103 7-79m9-102l-2 183 8-149"/><path class="h17" d="M791 1011l-1 59 7-123m137 36l-2 109 8-82m337 285l-2-139 7 286m9-303l-2 16 8 27m16-37l-2 22 7 23m173-23l-2 4 7 27l2 8-2-8 8 0l1 57-1-57 7 150m16-49l-2-103 7 11"/><path class="h18" d="M806 934l-2 115 7-110m137 2l-1 130 7-104m216 41l-2 68 7-55m88 59l-2 29 7 8l2-19-2 19 7 39m73-66l-1 50 7-49m23 24l-2 21 7-13m59-26l-2 45 7 13l2-36-2 36 8-156m23 108l-2 41 7 50m145-175l-2 117 7-16m30-84l-1 99 7-96m158 48l-1 90 7-32"/><path class="h19" d="M877 989l-2 40 8 5l1-70-1 70 7-20l1-45-1 45 7-11m16-66l-2 92 7-74m45-15l-2 88 7-68m23 59l-1 24 7 5l1-56-1 56 7-24m73-74l-2 106 7 3l2-48-2 48 8-50m37-39l-2 74 7-62m252 105l-2 36 7-15l2-36-2 36 8-13m37-17l-2 35 7 29m109 27l-2-38 8-31m80-75l-2 99 7-41m9 74l-2-42 8 18l1-42-1 42 7 6m173-51l-2 61 7-52m95-18l-2 88 7-89m95-21l-2 106 7-42m16-64l-2 103 7 81m31-158l-2 86 7 114"/><path class="h20" d="M713 930l-2 51 7-44m23 11l-1 20 7-5m73-59l-2 89 7-65m38-15l-2 74 7-1l2-58-2 58 7 43m23-42l-1 16 7 4l2 31-2-31 7 22m30-96l-1 77 7 61m37-25l-2-35 8 32m16-111l-2 92 7-29m59-50l-2 74 7 37m16-67l-1 20 7-18m16-32l-2 53 7 0m23-48l-1 64 7-46m30 20l-2 19 7-2m9-72l-2 88 8-31m58 17l-1 28 7 60m94-66l-1 48 7-51m37 15l-1 40 7-48m23 12l-2 40 7 14m38-57l-2 50 7 42m80-87l-1 39 7-37m80 79l-2-59 7 32m38-19l-2 10 7-24m30-9l-1 25 7-47m9-28l-2 94 7-26l2 4-2-4 7-45m66-25l-1 99 7-47m44 32l-1 13 7-49m23-29l-2 90 7-39m52-25l-2 62 7-52m45-28l-2 94 7-63m23-19l-1 75 7 28m44-34l-1 7 7 10l1-59-1 59 7 23"/><path class="h21" d="M720 910l-2 27 7 22l2-36-2 36 8-18l1-26-1 26 7 27m9-43l-2 38 7 111m9-156l-2 30 7-6l2-1-2 1 7 2l2 35-2-35 8-5m16 139l-2-131 7 102m52-142l-2 57 7 23m66-30l-2 13 7 122m24-157l-2 32 7 61m16-9l-2-48 7 40m31-68l-2 52 7-45m80 1l-1 40 7-17m16 62l-2-24 7 32m59-51l-2 26 7 16m9-87l-1 56 7-37m44-7l-1 63 7 26m308-40l-1 54 7-19m109-18l-2 51 7 29m9-87l-2 63 7-35m66-42l-1 73 7-47m37-2l-2 54 8 37m30 15l-2-38 7-37m52 136l-2-105 7-26m16-21l-1 54 7-1l1-53-1 53 7 70m87-107l-1 57 7 18m16 48l-2-62 7 118"/><path class="h22" d="M784 966l-1-27 7 131m23-160l-2 29 7 54m9-95l-2 30 8-9m87 124l-2-88 7 15m45 77l-2-87 7 11m45-55l-2 34 7-24m23-19l-1 63 7 3l2-27-2 27 7-7l2-16-2 16 7 53m37 1l-1-46 7 38m23-3l-2-27 8 46m8-66l-1 20 7-2l1 24-1-24 7 6l2 79-2-79 7 90m73-136l-2 43 8 40m115-33l-1 50 7-52m37 15l-1 44 7-84m9 42l-2 44 7 50m37-96l-1 49 7 54m101-111l-1 49 7-17l2-59-2 59 7-43m23-5l-1 42 7 0l1-32-1 32 7 6l1-16-1 16 7 113m44-100l-1 3 7 34m23-57l-2 27 7 4l2-23-2 23 8 4l1 11-1-11 7 43m9-64l-2 17 7 66m16-38l-2-33 7 1l2 8-2-8 8 31m58-12l-1 7 7 108m23-77l-2-44 7 15l2-41-2 41 8 43m8-65l-1 16 7 2l1 21-1-21 7-10l2 2-2-2 7 69m16 8l-2-73 8 8l1 33-1-33 7 25m23-12l-2-8 7 50m9-107l-2 55 7-21m31 12l-2 17 7 58m9-69l-2 6 7 3l2 3-2-3 8 35m51-53l-1 28 7 44m30-12l-2-33"/><path class="h23" d="M834 861l-1 58 7-82m8 28l-1 51 7 48m173-91l-2 53 7-77m9 26l-1 61 7 34m158-51l-1 48 7-29m23-23l-2 56 7 12m359-45l-2 57 8 26m165-31l-1 41 7-15l2-54-2 54 7-81m9 26l-2 59 7 24l2-40-2 40 7 39m159-87l-2 59 8-80m8 24l-1 44 7 19l2-34-2 34 7 22"/><path class="h24" d="M1213 878l-2 60 7-85m9 28l-2 57 7 33m138-33l-2 50 7 148m80-187l-1 50 7 53m123-118l-2 50 7-76"/><path class="h25" d="M1412 920l-1 43 7 86"/><path class="h26" d="M841 780l-1 57 7 79m187-124l-2 57 8 87m929-17l-1 56 7 68"/><path class="h27" d="M1220 795l-2 58 7 85m366-88l-2 58 7 87m188-117l-2 57 7 85"/><path class="h11" d="M1275 1156l-1 155 7-91"/><path class="h14" d="M797 947l-2 211 7-155m680 195l-1 66 7-75m23 159l-2-92 7-46m23 25l-1 29 7-100"/><path class="h15" d="M1282 1442l-1-222 7 1l1-66-1 66 7-35m9 83l-2-42 7-19l2-41-2 41 7 10l2-28-2 28 7-12l2 33-2-33 8-24m8 1l-1 45 7-70m358-107l-1 177 7-149m23 38l-2 110 8-156"/><path class="h16" d="M1182 1019l-1 123 7-104m109 144l-2 4 7 41m30-48l-1 3 7 46m37-92l-2 62 8-27m65-16l-1 40 7-147m23 100l-2 56 8 60m15-66l-1 16 7-22m16 52l-2-34 7-23"/><path class="h17" d="M740 968l-2 99 7-108m38-20l-2 135 7-102m23-33l-2 117 8-41m315-33l-1 117 7-89m123 99l-2 33 7 7l2-32-2 32 8 162m73-171l-2 18 7-26m30-9l-1 48 7-27m101 27l-1 18 7 25m9-16l-2-6 7 64m16-60l-2-9 8-5l1 25-1-25 7 82m87-124l-2 32 7-52m45-43l-2 92 7-74m416 188l-2-58 8-115"/><path class="h18" d="M768 942l-1 98 7-42m87-11l-2 56 8-54m73 21l-2 40 7-5l2 26-2-26 7-42m209-17l-2 107 7-8l2-9-2 9 8-52m80 16l-2 52 7 41m95-51l-2 41 7-45m30 21l-1 36 7-1l2-48-2 48 7-54m23 10l-2 49 8 10l1-45-1 45 7 4l1-20-1 20 7 33m23-89l-2 50 7 48m73-73l-1 33 7 0l2-64-2 64 7-76m80-5l-1 69 7-53m101-53l-1 103 7-77m116-3l-2 97 7-79m116-3l-2 97 8 4l1-43-1 43 7-41"/><path class="h19" d="M718 937l-1 60 7 12l1-50-1 50 7-51m30-10l-1 55 7 37m8-96l-1 54 7 76m23-25l-2-46 7 53m9-63l-1 22 7-49m137 62l-2-4 8-13m37 13l-2 17 7-27m9-64l-1 78 7-51m23-7l-2 63 7-42m9-25l-2 81 7-31m24-7l-2 39 7-25m152 0l-2 56 7 22m380 23l-2-4 8 32m165-69l-1 63 7 0l2-26-2 26 7-56m95-17l-2 78 7-26m94-43l-1 83 7-65m23 21l-2 41 8-58m30 32l-2 52 7-58"/><path class="h20" d="M711 981l-1-18 7 34m73 73l-2-98 7 186m73-172l-1 3 7-17m9 62l-2-47 7-1l2 28-2-28 7-11m59-8l-2 36 7 21m9-64l-1 51 7-25m8 25l-1-4 7-22m9 63l-2-46 7 39m9-46l-2 19 8 14m51-9l-2-3 8-15m23-10l-2 32 7 4l2-53-2 53 7 9l2-24-2 24 7-5l2-19-2 19 8-18m23-31l-2 45 7-17m23 11l-1 12 7 109m8-107l-1 3 7-32m9-39l-2 64 7-51m30 3l-1 55 7 41m116-39l-2 47 7-50m38 10l-2 42 7-82m9 42l-2 44 7 55m38-96l-2 50 7 54m95-93l-2 25 7 10l2-54-2 54 7-42m31-35l-2 69 7-21m9-42l-2 60 7 85m23-57l-1-16 7-16l2 50-2-50 7 12l2 44-2-44 7-25m16 36l-2-11 8-21m8-27l-1 60 7 121m23-177l-2 40 7 136m31-149l-2 30 7-37m59 110l-2-65 7-29m9 10l-2 29 8-45m51 10l-1 40 7-43m16 10l-2 27 7-34m30-15l-1 67 7-30m44-34l-1 65 7 21"/><path class="h21" d="M733 941l-2 17 7 109m9-104l-2-4 7 4l2 111-2-111 8 40m65-75l-1 38 7-1l2-46-2 46 7-73m9 24l-2 41 7 7l2 0-2 0 7 79m16-14l-1-57 7 15m16 16l-2-28 7 6l2 26-2-26 7-1l2 49-2-49 8 0l1-25-1 25 7-1l1-9-1 9 7 9l1 104-1-104 7 62m37-79l-1 15 7 21m9 36l-2-58 7 17m30-76l-1 51 7-72m9 31l-2 41 7 56m9-60l-2 18 7 56m16 9l-1-55 7-2l1 60-1-60 7 49m37-4l-1-31 7 86m9-71l-2-18 7 17m9-47l-2 30 7 83m38-89l-2 2 7 25m30-60l-1 34 7 33m337-11l-2 29 7-11m31-24l-2 48 7 18m52-44l-2 27 7 99m16-87l-1-8 7 33m16-52l-2 24 7-8l2 27-2-27 7 20m16 0l-1-20 7 78m8-102l-1 25 7 36m9-77l-2 40 7-13m23-14l-1 34 7 68m16-73l-2 17 7 26m9 33l-2-62 7 39m9-66l-1 21 7 5l1-11-1 11 7 13l2 19-2-19 7 67m9-95l-2 16 7 6l2-32-2 32 7-3l2 40-2-40 8 41m8-66l-1 23 7 63m16-54l-2-6 7 8l2 68-2-68 7-9m9 38l-1-32 7 47m8-88l-1 58 7-78m9 8l-2 62 7-13m45 43l-2-30 7-2l2 60-2-60 7 59m16-2l-1-44 7-3l1 128-1-128 7 4l2-25-2 25 7 71m9-42l-2-16 7-21"/><path class="h22" d="M1211 938l-2 42 7-70m9 28l-1 51 7 16m137-17l-2 49 7 161m81-199l-2 49 7 54m123-118l-2 61 8-79m8 29l-1 49 7 46m173-74l-2 42 7-67m9 29l-1 38 7 20m144 0l-2 12 8 6m37-34l-2 30 7 89m31-64l-2-17 7 5m23 134l-1-135 7 12m37 53l-2-60 7 116m9-134l-1 19"/><path class="h23" d="M1411 963l-2 44 7 86"/><path class="h24" d="M840 837l-2 55 7 65m187-108l-1 56 7 72m744-42l-2 56 8 67m180-83l-2 60 7 70"/><path class="h25" d="M1218 853l-2 57 8 79m365-81l-1 58 7 78"/><path class="h9" d="M1274 1311l-2 64 7-199"/><path class="h11" d="M1295 1186l-2 134 7-131"/><path class="h12" d="M1174 1033l-2 228 7-218m316 171l-2 115 7-123"/><path class="h13" d="M1066 1016l-1 183 7-151m451 139l-1 99 7-86"/><path class="h14" d="M1338 1228l-2 12 7 2l2-84-2 84 7-65m23 21l-1 49 7-23m680-111l-2 191 7-166"/><path class="h15" d="M745 959l-1 157 7-64m123-80l-2 146 7-119m30-19l-1 163 7-97m223-36l-2 158 7-58m123 39l-1 45 7 181m44-157l-1 9 7-30m59-26l-2 53 7-24m52-38l-2 64 7-6m38 44l-2-23 7-15m23 30l-2-16 8-22m30-54l-2 81 7-84"/><path class="h16" d="M809 1056l-1 37 7-70m80-48l-1 133 7-103m380 215l-2-44 7 8l2 37-2-37 7 136m9-93l-2-38 8 3l1 16-1-16 7 35m8-21l-1-9 7 7l2-22-2 22 7 36m52-96l-2 56 7-22m52 17l-2 25 7-123m16 59l-1 45 7 8l1-5-1 5 7 32m9-52l-2 37 7 103m9-137l-2 14 7 34m9-30l-1 8 7 68m351-199l-1 132 7-109m37 15l-2 123 7-73m81-31l-2 106 7-71m45-63l-2 145 7 43"/><path class="h17" d="M717 997l-2 56 7-67m30-23l-1 89 7-38m109-25l-2 92 7 37m137-104l-1 80 7-6l2-60-2 60 7-76m123 15l-2 83 8-58m37-14l-2 74 7-80m52 47l-2 46 7-32m102 39l-2 45 8-41m37 7l-2 35 7-43m23 13l-1 42 7-4l2-28-2 28 7 40m95-44l-2 18 7-2l2 66-2-66 7 47m87-125l-1 51 7-89m187 34l-1 81 7-92m16-24l-2 133 7-73m59 10l-2 52 7 45m73-67l-1 49 7-100"/><path class="h18" d="M781 1074l-2-28 7-58m131-8l-2 66 7-28m16 32l-2 2 7-45m38 0l-2 56 7-46m9-15l-2 52 8-14m87 8l-2 21 7 6l2-52-2 52 8-53m8 14l-1 37 7 18l1-60-1 60 7-56m44 50l-1-4 7 180m87-119l-1-15 7 67m94-107l-1 49 7-50m94 16l-2 50 8 49m87-37l-2-3 7-49m116 57l-1-6 7-68m87-24l-2 81 8-20m151-41l-2 84 8 11l1-87-1 87 7-17m87-64l-2 79 8-58m44 62l-2 4 8-22m8-61l-1 88 7 12l1 16-1-16 7-67"/><path class="h19" d="M760 1003l-2 11 7-26m9 10l-2 5 7 43m38-31l-2 8 7-22m9-36l-2 47 7-68m9 13l-1 56 7-20m73-14l-2 39 7 15l2-45-2 45 7 19m66-11l-1-1 7 54m30-117l-2 67 7-31m9-22l-1 50 7-3l1 9-1-9 7 161m9-198l-2 47 7-28m73-10l-1 42 7 6l1 35-1-35 7 23m66-76l-2 62 7-1l2-28-2 28 7 59m9-24l-2-8 8 34m144-38l-2 46 8-84m8 42l-1 40 7 57m137-102l-2 24 8-3l1-11-1 11 7-28m23-37l-2 62 7 8l2-24-2 24 7-7l2-38-2 38 8 10l1-30-1 30 7 5l1 50-1-50 7 49m23-88l-2 40 7 10l2-38-2 38 8-46m58 4l-1 32 7-32m16 58l-2-16 7-38m9 13l-2 41 7 3m9-94l-1 74 7-81m58 75l-1 21 7 67m9-128l-2 55 7 14l2-56-2 56 7-20m23-45l-1 62 7-7l2-14-2 14 7-34m37-21l-1 79 7-54m9 28l-2 5 7 9l2-44-2 44 7-78m16 13l-1 62 7 76m23-65l-2 14 7-49m31-26l-2 75 7 82m30-131l-1 40 7 27"/><path class="h20" d="M710 963l-2 18 7 72m9-44l-2-23 7 4l2-32-2 32 7-1l2 78-2-78 8 127m23-76l-2-52 7 15m16-31l-2 16 8 13l1 157-1-157 7-12l1 14-1-14 7 104m16-127l-2 35 7 11m23-48l-1 29 7 1l1 49-1-49 7 87m16-94l-2 12 7 6l2-19-2 19 8 103m8-127l-1 24 7 138m37-98l-2-38 8-1l1-3-1 3 7 13l1 5-1-5 7-6l2-2-2 2 7-5l2-22-2 22 7 55m9-78l-2 32 7 37m31-77l-2 35 7-48m16 69l-2-20 8 28m30-42l-2 21 7 49m16-42l-1-5 7 51m16-60l-2 22 7-10l2 74-2-74 7 143m45-26l-2-99 7 69m9-106l-2 26 7 12l2-13-2 13 8-24m16-31l-2 60 7 18m137-30l-1 49 7 161m80-199l-2 49 7 55m116-96l-1 25 7-10m59 81l-2-70 7 2l2 15-2-15 7 39m16-53l-1 17 7 76m8-68l-1 0 7-8m9 20l-2-16 7 2l2 135-2-135 7 0l2-14-2 14 7-1l2-21-2 21 8 31m80 23l-2-43 7 3l2 40-2-40 7 2l2-18-2 18 8 89m44-31l-2-31 8 84m101-114l-2 33 8 16m16 31l-2-55 7 120m16-150l-2 30 7 54m16-22l-1-29 7 46m23-62l-2 21 7 54m31-82l-2 32"/><path class="h21" d="M1209 980l-1 40 7-52m365 77l-1 26 7-47m102 50l-2 13 7 4m37 136l-1-136 7 1l2-21-2 21 7 41m9-61l-2 23 7 54m31-91l-2 32 7 6l2-18-2 18 7 7m30-16l-1 18 7 42m44-54l-1 17 7 42m16-64l-2 23 7 92m38-107l-2 19 7 33m80-45l-1 23 7 7"/><path class="h22" d="M838 892l-2 52 8 69m187-108l-2 59 7 80m373-37l-1 44 7 82m173-167l-2 58 7 82m187-115l-1 60 7 39m180-55l-2 44 7 59"/><path class="h23" d="M1216 910l-1 58 7 81"/><path class="h9" d="M1265 1194l-2 181 7-104"/><path class="h10" d="M1543 1245l-2 118 8-203"/><path class="h12" d="M744 1116l-2 79 7-183m23-9l-1 186 7-30m480-32l-2 159 7 89m459-252l-2 198 7-181"/><path class="h13" d="M1272 1375l-2-104 7-78m45 4l-2 68 7-52m16 29l-1 42 7-43m23 6l-2 39 7-78m66 12l-1 64 7-139m23 64l-2 98 7-11l2-55-2 55 7-63"/><path class="h14" d="M779 1046l-1 113 7-86m80 8l-2 70 7-116m95-22l-2 163 7-140m380 141l-1 64 7-66m159 43l-2 44 7-42m130-97l-1 124 7-113m201 21l-1 118 7-73m180-21l-2 131 7-87m23-31l-1 115 7-153"/><path class="h15" d="M1079 1020l-2 127 8-91m201 128l-2 25 8-6m8-14l-1 27 7-12m23 0l-2 9 7 3l2 24-2-24 8 68m87-98l-2 53 7 2l2-15-2 15 8 43m23-83l-2 27 7 79m16-81l-2 7 8 9l1 87-1-87 7 4l1-40-1 40 7 12l1-18-1 18 7 4m16-62l-2 40 7-36m166-111l-1 156 7-117m173-22l-2 146 7-71m145-59l-2 166 7-140"/><path class="h16" d="M794 1001l-2 94 7-72m59-29l-2 109 7 48m95-132l-2 87 7 70m80-163l-1 115 7-15m80-88l-2 124 8-31m37 143l-2-126 7-20m102 61l-2 17 7 16m9 111l-1-117 7 13m9-24l-2 12 7-2l2 25-2-25 7 63m59-41l-2-16 7-6l2-2-2 2 8 8l1-32-1 32 7-43m23 23l-2 26 7 23m30-87l-1 50 7 26m59 58l-2-66 7 20m30-128l-1 86 7-44m59-32l-2 68 7-63m59-40l-2 123 7-52m138-53l-2 116 7-58m80 85l-1-6 7-44m73-68l-2 121 7-87"/><path class="h17" d="M722 986l-1 84 7-53m58-29l-1 85 7 22m30-94l-2 64 8-29m16-23l-2 74 7-42m66 1l-2 34 7-55m59 38l-1 32 7 0l1-78-1 78 7-49m23 42l-2 8 7-62m16 10l-1 63 7 21m9-87l-2 72 7-42m80 97l-1-50 7-68m23 31l-2 47 7 7m9-92l-2 72 8-44m51-5l-1 61 7-25m116 34l-2 39 7-41m37 1l-1 32 7-73m9 39l-2 47 7 36m116-18l-2 6 7 159m31-282l-2 97 7-66m30-5l-1 55 7 2l2-47-2 47 7 26m144-38l-1 36 7-11m52 20l-2 3 7 21m37-86l-1 65 7-47m30-42l-2 99 8-51m80 71l-2-19 7 40m30-67l-1 29 7 79m23-31l-2-38 7-69m45-12l-2 88"/><path class="h18" d="M765 988l-2 51 8 150m58-177l-1 24 7-43m16 0l-2 52 7 58m38 5l-2-44 7-17l2-42-2 42 7-16m45-25l-2 49 7 51m102-68l-2 33 7-26m30 30l-1 12 7-39m9 25l-2 6 7-8l2 20-2-20 7-19m109 15l-2 21 8 39m8-2l-1-23 7 13l1-22-1 22 7 171m109-200l-2 48 7 152m80-189l-1 48 7 57m94-41l-1-1 7 38m9-89l-2 45 7 24m30-64l-1 23 7 25m87-71l-2 67 8 91m15-157l-1 63 7 166m52-189l-2 45 7-86m30 15l-1 62 7-21m23 0l-2 16 7-32m45 21l-2 33 7-50m30 40l-1 23 7 2l2-14-2 14 7-58m152 55l-2 11 7-47"/><path class="h19" d="M708 981l-2 21 7 9l2 42-2-42 8 59m8-80l-1 27 7-7l1-21-1 21 7 185m9-143l-2-40 7-5l2 7-2-7 7 32m38-50l-2 34 7 0l2 70-2-70 7-8l2 8-2-8 7 50m52 53l-2-83 8-14l1-22-1 22 7 1l1-17-1 17 7 42m16 79l-2-112 7 49m9-62l-2 7 8 21l1-13-1 13 7-8l1 14-1-14 7 3l1-34-1 34 7 14m23-47l-2 28 8 59m15-41l-1-8 7-11l2 5-2-5 7 5l2 54-2-54 7 56m9-84l-2 22 8-27m37 192l-2-154 7 12l2-9-2 9 7 90m9-78l-1-13 7 31m9-65l-2 26 7 31m16-44l-2 17 7 97m16-39l-1-60 7 1l2 1-2-1 7 6l2 1-2-1 7 71m23-16l-1-41 7 0l1-39-1 39 7 9l1-36-1 36 7-27m373 18l-2 41 7-45m9 39l-2 6 8 25m30 34l-2-44 7-4l2-41-2 41 7-14m16 24l-1 1 7 0l2-47-2 47 7-23m9-16l-2 33 7 82m23-117l-1 39 7 23m16-64l-2 49 7-24m9 17l-2 0 8 3l1-41-1 41 7-18m30-28l-2 55 7-23m9-19l-2 52 8 13m8-60l-1 39 7 53m52 19l-2-66 7 103m30-53l-1-44 7 83m44-85l-1 12 7-22m37 103l-2-86 8-17m58-9l-1 48 7 121"/><path class="h20" d="M836 944l-1 49 7 94m187-123l-1 43 7 100m173-87l-2 33 7-32m9 28l-2 8 7 31m181-37l-2 43 7 86m230-96l-2 25 8 138m23-84l-2-52 7 17m59-36l-2 24 7 17m16 16l-1-31 7 70m30-92l-2 26 7 33m45 59l-2-83 7 5l2 5-2-5 8 137m37-128l-2-10 7 75m38-41l-2-27 7 2l2-29-2 29 7-3l2 7-2-7 8 28m8-90l-1 68 7 4l1-13-1 13 7-9l2 12-2-12 7 69m23-32l-1-32 7 3l1-20-1 20 7 63m16-80l-2 19 7 158m16-6l-2-150 8 32m16-16l-2-16 7 54m9 1l-2-48 7 69"/><path class="h21" d="M1215 968l-2 53 7 36m366-33l-2 43 7 45m188-61l-2 40 7 54"/><path class="h9" d="M870 1035l-1 260 7-207"/><path class="h10" d="M1306 1204l-2 145 7-13"/><path class="h11" d="M1277 1193l-1 136 7-65m16-48l-2 107 7 26m9-147l-2 134 8-113m529-87l-1 234 7-96m30-89l-1 193 7-170"/><path class="h12" d="M713 1011l-1 178 7-6l2-113-2 113 7-154m644 257l-1 24 7-31m58-38l-1 73 7-84m30 77l-2 18 8-4l1-25-1 25 7-56m166-18l-2 79 7-142"/><path class="h13" d="M942 1041l-2 144 7-132m316 322l-2-119 8-8m15-39l-1 55 7-7m59-16l-2 39 7-66m23-6l-1 71 7-60m137 1l-2 77 8-66m87-67l-2 107 7-142m195 18l-2 162 7-157"/><path class="h14" d="M792 1095l-2 61 7-120m138 2l-2 127 7 20m73-89l-1 86 7-111m37 0l-2 123 8-57m208 134l-1-23 7 81m16-126l-2 54 7 66m37-107l-1 28 7 17l2 23-2-23 7 19m73-64l-2 55 8-43m58 5l-1 32 7-24m16 17l-2 13 7-34m280-115l-1 157 7-28m59 22l-2 1 7-114m216-6l-2 173 7-140"/><path class="h15" d="M806 1023l-1 94 7 8l1-110-1 110 7-54m30-26l-2 77 8-4m8 33l-1-7 7 151m16-273l-2 110 7-86m202 41l-2 76 7-80m9-4l-2 78 8-65m130 10l-2 76 7-21m73 108l-1-42 7-5l1-5-1 5 7 26m51-42l-1 17 7 23l2-32-2 32 7-41m30 38l-1-11 7 86m9-30l-2-54 7-38m9 10l-2 47 7-6l2-15-2 15 7 82m24-83l-2-1 7 11l2-6-2 6 7 19m9-9l-2-25 7 60m16-93l-1 32 7-29m9-47l-2 80 7-82m16 20l-2 53 8-73m115 0l-1 79 7-96m101 14l-1 96 7-50m102-42l-2 114 7-99"/><path class="h16" d="M742 1195l-2-95 7-46m9-47l-1 87 7-62m80 55l-2 22 7 13m9-19l-1 15 7 26m44-113l-2 82 8-64m8-24l-1 77 7-30m30 34l-2 10 8-7l1 67-1-67 7-13m66 11l-2 19 7-57m23-24l-1 92 7-15l1-65-1 65 7-39m66-33l-2 89 7-53m38-15l-2 65 7-49m59 28l-2 42 7 5m102 13l-2 39 7-32m38-15l-2 34 7-64m9 43l-2 29 7 62m109-31l-1-9 7 5m8 127l-1-156 7 33m52-103l-2 53 7 3l2-31-2 31 7 78m116-131l-2 86 8-36m8-57l-1 79 7-71m9-23l-2 91 7 11l2-32-2 32 7-34m252 27l-2 46 7-80"/><path class="h17" d="M735 1010l-2 50 7 40m9-88l-2 42 8 40m16 95l-2-128 7-27m44 31l-1 6 7-34m52-16l-2 67 7 44m87-96l-1 60 7-14l2 13-2-13 7-25m9-11l-2 38 7-26m123-6l-1 65 7-44m30-16l-2 48 7-7m59-41l-1 69 7 4l1-42-1 42 7-29m23 185l-2-124 7 94m102-122l-2 48 8 128m80-165l-2 47 7 57m123-137l-1 46 7-19m8-27l-1 68 7 10m37-67l-1 65 7-14l1-65-1 65 7 152m9-192l-2 50 7 2l2-52-2 52 7-40m9-18l-2 53 8-46m51-19l-1 74 7 22m30-35l-2 9 7-28m31 10l-2 33 7 108m66-53l-2-60 8 182m8-243l-1 73 7-44m37-22l-2 70 8-25m73-37l-2 81 7 28m45-73l-2 54 7-60m30 50l-1 4"/><path class="h18" d="M706 1002l-1 30 7 157m16-172l-2 12 7 31m30-21l-1-7 7 29m9 98l-2-125 7 4l2 35-2-35 7 118m9-133l-2 13 8 81m23-81l-2 1 7-9m59 36l-2-18 7 21l2-20-2 20 7 46m9-33l-1-31 7 53m9-56l-2 26 7 93m16-110l-2-2 7 63m31-21l-2-38 7 27m9-49l-2 23 7 8l2-26-2 26 8 116m8-148l-1 37 7-24m16 81l-2-59 7-3l2 47-2-47 7 128m23-47l-1-64 7-11l2-16-2 16 7 91m9-115l-2 35 7 74m9-86l-1 21 7 25m16 1l-2-29 7 50m9-88l-2 35 7 19m9 23l-2-30 8-15l1 52-1-52 7 21l1 11-1-11 7 32m9-65l-2 16 7 3l2-10-2 10 7-4l2-33-2 33 7-20m24 61l-2-26 7 77m316 20l-2-40 7-14l2 10-2-10 7 87m16-164l-1 72 7 41m80-69l-2 35 7 35m38-26l-2 1 7-2l2 167-2-167 7 72m52-135l-2 67 8-13m58-14l-1 45 7 194m66-128l-2-68 7-13m9 39l-2 0 7 12m9-68l-1 43 7 4l1-50-1 50 7 10l2-32-2 32 7-39m73-10l-2 37 8 17l1 104-1-104 7-10l1 27-1-27 7-17"/><path class="h19" d="M835 993l-2 35 7 81m188-102l-2 40 7 79m94 23l-1-76 7 16m80-68l-2 45 8 60m187-32l-2 43 7 72m209-19l-2-61 8 4l1-6-1 6 7 55m51 22l-1-75 7 102m9 12l-2-108 7-2l2-7-2 7 7 17m38-20l-2 5 7 68m30-64l-1 0 7 134m30-79l-2-48 7-2l2 71-2-71 8 9l1 4-1-4 7 17m23 24l-2-40 7 0l2-7-2 7 7 36m23 14l-1-46 7 109m16-75l-2-37 7 39m38-53l-2 15 7 4l2-15-2 15 7 0l2-24-2 24 7 5l2 40-2-40 8 2l1 78-1-78 7-2l1-7-1 7 7 8l2-32-2 32 7 52m16 61l-2-113 7 10m23-35l-1 25 7 61m9 67l-2-127 7 147m9-119l-2-21 8 6l1-32-1 32 7 41"/><path class="h9" d="M1319 1223l-2 166 7-146"/><path class="h10" d="M1340 1261l-2 107 7-59"/><path class="h11" d="M755 1094l-2 139 7-168m544 284l-1-26 7-65m158 67l-1 39 7-113m44 46l-1 56 7-44m94-180l-1 222 7-109m244-82l-1 221 7-111m23-106l-2 204 7-162m145-10l-2 195 7-141"/><path class="h12" d="M1347 1280l-2 29 8-40m23 10l-2 28 7-1l2-87-2 87 7-35m109-19l-2 67 8-38m37-74l-2 121 7-47m166-125l-1 168 7-108m173-8l-2 128 7 32"/><path class="h13" d="M726 1029l-2 148 8-84m265-35l-1 151 7-108m101 56l-1 52 7-104m37-19l-1 136 7-71m8-53l-1 126 7-84m109 189l-2-70 7 18l2-13-2 13 7-42m138-7l-2 57 7-16m30-26l-1 62 7 59m59-133l-2 78 7-46m16-23l-2 41 7-102m9-35l-1 135 7-79m423-27l-2 170 7-64"/><path class="h14" d="M897 1067l-1 103 7-99m59 38l-2 63 7-66m52-35l-2 107 7-97m95 36l-2 69 7-83m80-17l-1 118 7-104m59 148l-2-17 7 28m16-2l-2-22 7 2l2 86-2-86 8 86m8 13l-1-78 7 131m9-171l-2 25 7-1l2 2-2-2 7 126m16-154l-1 55 7-41m30 14l-2 29 7-5l2-65-2 65 8-88m15 93l-1 3 7 11m9 29l-2-45 7 5l2-44-2 44 7-47m45 14l-2 41 7 37m9-48l-1 10 7-29m23-16l-2 27 7 65m38-170l-2 84 7-91m16 39l-2 66 7-7l2-56-2 56 8-50m65-18l-1 86 7-78m80 31l-1 67 7-121m30 85l-2 17 7-91m280 10l-1 130 7-89"/><path class="h15" d="M790 1156l-1-38 7 9l1-91-1 91 7-17m73-22l-2 36 7 15l2-7-2 7 8-14l1-79-1 79 7 45m30-98l-2 64 7-51m145-2l-2 89 7-78m102 42l-2 50 7-82m45-3l-2 79 7-44m23 120l-1-49 7 24m94-49l-1 46 7 14l2 68-2-68 7 65m37-98l-1 21 7 44m37-25l-1 4 7 52m16 16l-2-70 7 2l2 12-2-12 7 29m23-45l-1 15 7 101m109-220l-2 109 7-32m9-36l-2 59 7-73m45 77l-2-1 7-30m116 103l-2-50 8-51m58-12l-1 74 7-89m94-15l-1 116 7-89m16-22l-2 108 7-82m38 9l-2 68 7 117m30-64l-1-25 7 15"/><path class="h16" d="M733 1060l-1 33 7-41m30 9l-2 37 7-41m31 60l-2-7 7-47m16-26l-2 69 7-26m9 29l-1 7 7-31m23 210l-2-187 7 16m45-22l-2 21 7 13m52-54l-2 44 7-45m9 3l-1 51 7 74m51-143l-1 71 7-42m16 27l-2 0 7 50m16-9l-2-18 8-53m58 13l-1 46 7 73m9-141l-2 57 7-24m73 41l-1 4 7 27l1-26-1 26 7 19m187-15l-2 35 8 26m115-22l-1-31 7 42m16-62l-2 32 7 44m16 15l-1-72 7 152m16-163l-2 22 7 23m16-49l-2 19 8-10m37-52l-2 65 7-39m16-13l-1 62 7-52m9 26l-2 16 7 2l2 4-2-4 7 23l2-90-2 90 7-65m23-8l-1 65 7-27m44-46l-1 71 7 5l2-67-2 67 7-45m73-7l-2 58 8-30m115-13l-1 63 7 22m16-95l-2 71 7-48"/><path class="h17" d="M705 1032l-2 19 7 2l2 136-2-136 7 9l2 121-2-121 7 115m23-123l-1 14 7 165m9-201l-2 33 7 33m9-64l-2 23 7 1l2-20-2 20 8 60m23 7l-2-62 7-1m16-34l-2 52 8 36m8 6l-1-37 7-5l2 38-2-38 7-3l2 67-2-67 7 31m45-59l-2 47 7 27m16 42l-2-80 8 16l1 84-1-84 7-19l1-29-1 29 7-4m16 18l-2 10 7 20m30-60l-1 35 7-5l2 86-2-86 7 82m16-52l-2-32 7 5l2-30-2 30 8 38m8 57l-1-99 7 15l2 27-2-27 7 12m45-30l-2 13 7 81m9-113l-2 30 7 14l2-28-2 28 7-17m38 4l-2 12 7 70m38-60l-2-5 7 18l2-9-2 9 7 41m9-2l-2-42 8 25m158-24l-1 41 7 52m144-72l-2 21 8 100m101-93l-1 7 7-36m16-22l-2 54 7 47m95-91l-2 51 7-25m30-19l-1 56 7 13m80 52l-2-67 7 26m9-71l-1 41 7-14m23 3l-2 40 7-11l2-19-2 19 7-31m9-23l-1 45 7 71m51-103l-1 57 7 16m59-59l-2 35 7-21"/><path class="h18" d="M740 1100l-1-48 7 16m73 3l-2-9 7 44m80 7l-1-42 7 25m44 20l-1-38 7 94m23-115l-2 24 8 54m37-88l-2 34 7 13m52-22l-2 22 7 51m9-62l-1 9 7 117m37-70l-2-39 8 122m44-135l-2 17 8 6l1-20-1 20 7 94m8-138l-1 34 7 21m366 18l-2 12 7 61m59 114l-2-166 7 43m16-57l-1 11 7 110m30-128l-2 28 8 157m15-98l-1-62 7 42m23 3l-2-43 8 121m8-101l-1-20 7 57m16 56l-2-108 7 97m9-67l-2-24 7 82m31-83l-2 5 7-1l2 190-2-190 7 2l2 92-2-92 7-2l2-20-2 20 8 201m16-3l-2-197 7 155m37-136l-1-12 7 11l1 13-1-13 7-7l2-5-2 5 7 39m16-69l-2 27 8 22m15-40l-1 22 7 150m16-164l-2 18 7-2l2 36-2-36 8 8l1 56-1-56 7 33m37 4l-2-38 7-1l2-21-2 21 8 101m23-68l-2-27"/><path class="h3" d="M767 1098l-1 339 7-357"/><path class="h8" d="M1267 1231l-2 161 7-154"/><path class="h9" d="M1510 1252l-2 170 7-146m537-26l-1 207 7-234"/><path class="h11" d="M939 1101l-2 161 7-161m230 15l-2 155 8-101m8-66l-1 189 7-74m66-12l-2 113 7 72m259-83l-2 44 7-81"/><path class="h12" d="M724 1177l-1 11 7-98m59 28l-2 96 7-114m66-23l-2 139 8-122m294 130l-2 22 7-111m81 26l-2 128 7-88m52 122l-2-10 7-56m37 52l-1 5 7 0l2-45-2 45 7-48m52-36l-2 82 7-11m38-48l-2 62 7-43m30 10l-1 46 7-29m258-133l-1 168 7-133m287 190l-2-37 8 103"/><path class="h13" d="M760 1065l-2 102 8 270m65-357l-1 104 7 3l2-71-2 71 7-90m116 75l-2 43 7-109m38-5l-2 101 7-55m273 130l-1-4 7 2l1-40-1 40 7 12l1-50-1 50 7 26m116-39l-2 27 7-42m16 15l-1 19 7-33m51 59l-1-20 7 16l2-34-2 34 7 107m116-180l-2 40 7-28m31-61l-2 96 7 2l2-134-2 134 7-104m180-5l-1 134 7-86m109-19l-2 115 7-109"/><path class="h14" d="M824 1106l-1 45 7 33m80-88l-2 61 7-49m16-23l-1 100 7 77m137-90l-1 29 7-57m116-34l-2 109 7-81m73 121l-2-21 8 35m30-15l-2-1 7-8l2 140-2-140 7 2l2-8-2 8 8 11l1-20-1 20 7 1l1 105-1-105 7 51m16-86l-2 38 7-8l2-16-2 16 7 2l2 47-2-47 8 15l1 31-1-31 7-14l1 10-1-10 7-3l1 8-1-8 7-36m23 63l-2-26 7 17l2-7-2 7 8 17m8-66l-1 33 7 55m9-10l-2-33 7 11l2 81-2-81 7-9l2-23-2 23 7-4l2-17-2 17 8 58m30 25l-2-77 7 77m9-90l-2 9 8-29m94-33l-2 44 7-78m59 30l-1 68 7-87m9 137l-2-50 7-84m116 36l-2 50 7-66m52 126l-2-55 7-30m131-15l-2 86 7-50m37-71l-1 111 7-70m16-14l-2 87 7-75"/><path class="h15" d="M703 1051l-2 71 7-4l2-65-2 65 8-10l1-46-1 46 7 80m80-78l-2 26 7-10l2-63-2 63 8-35m58 33l-1 8 7-33m116 110l-2-49 7 42m9-106l-2 51 7 4l2 27-2-27 8-3l1-67-1 67 7-39m8-10l-1 51 7-36m23 8l-2 51 8 28m15-56l-1 12 7-40m87 69l-1-16 7 123m23-193l-2 72 7-9m23-27l-1 60 7 93m9-101l-2 13 7 119m280 8l-1-85 7 2l1 36-1-36 7-41m37 8l-1 7 7-41m130-14l-2 69 7-12m9-13l-2 28 8-46m37 6l-2 51 7-44m16-26l-1 88 7-68m73-16l-2 79 7 21m31-79l-2 59 7-12m30-29l-1 59 7-58m30 122l-2-53 7-68m24-19l-2 73 7 46"/><path class="h16" d="M732 1093l-2-3 7 5l2-43-2 43 7-14m9 152l-2-129 7 63m38-40l-2-27 7 36m16-74l-1 29 7 60m23-66l-2 12 7-1l2-16-2 16 7 120m23-77l-1-40 7 6l2 20-2-20 7-10m9-24l-2 48 7 38m9-34l-2-15 8 21l1 7-1-7 7 56m23-107l-2 41 7 96m16-89l-1-6 7-15m9 30l-2-18 7 43m59-65l-2 40 7-15m23-26l-1 50 7 13m16 52l-2-57 7-32m9 66l-2-45 8-17m15-24l-1 55 7-24m73-10l-2 42 7-22m9 39l-1-23 7 39m166-18l-2 44 7 90m144-133l-1 25 7-18m9 14l-2 6 7-30m30 73l-1-47 7-26m37-16l-1 48 7-18m80 16l-2 15 7 15m38-13l-2 11 7 13m38-39l-2 36 7-16l2-7-2 7 7 48m30-96l-1 50 7-18m30 156l-2-117 8-41m8 22l-1 21 7 8m9-73l-2 61 7-5l2-45-2 45 7-22m73-27l-1 73 7 8m16-24l-2 20 7-46"/><path class="h17" d="M746 1068l-2 13 7 23m23-47l-1 23 7 3l1-25-1 25 7 131m80-106l-1-14 7 38m23 38l-2-75 7 24m45-37l-2 19 7 18m16-13l-2 0 8 14m8-39l-1 24 7 12m44-23l-1 15 7 41m9-13l-2-23 7 21m9-25l-2 10 7 53m31-81l-2 25 7 35m9-47l-2 15 7 21m9-38l-1 21 7-1l1-6-1 6 7 32m9 67l-2-91 7-7l2 27-2-27 7 122m9-106l-2-5 7 136m31-67l-2-66 7 34m16-33l-2 2 8 16m330 122l-2-93 7 20m9 36l-2-66 7-7l2-18-2 18 8 50m8 37l-1-78 7 24m9-3l-2-23 7 9l2 166-2-166 7 97m16-49l-2-57 8 32m8-5l-1-13 7 99m16-22l-2-80 7-5l2 7-2-7 7 7l2 47-2-47 8 85m8-107l-1 20 7 87m9-58l-2-26 7 43m23-2l-1-41 7 144m9-47l-2-86 7-8l2-27-2 27 7 41m16-63l-2 32 8-9l1 74-1-74 7 71m8-6l-1-62 7 47m23-63l-2 29 8-9l1-21-1 21 7 115m16 65l-2-169 7-8l2 66-2-66 7 56m23-54l-1 4 7 43m30-61l-2 30 7 3l2 6-2-6 8 54m8-90l-1 32 7 105m9-44l-2-65 7 8l2-32-2 32 7 65m9-11l-2-57 8 10l1-35-1 35 7 36m30 6l-2-48 7 128m16-152l-1 21 7 89m9-10l-2-60 7-16l2 91-2-91 7 89m9-108l-2 33"/><path class="h6" d="M1529 1272l-1 221 7-204"/><path class="h8" d="M1344 1314l-2 114 7-153"/><path class="h9" d="M1287 1275l-2 121 7-94"/><path class="h10" d="M816 1091l-2 182 7-142m559 144l-2 103 7-45m30-32l-1 65 7-85m373-87l-2 195 7-171"/><path class="h11" d="M873 1132l-2 124 7-134m66-21l-2 161 8-59m322 35l-1 86 7-66m80 8l-2 68 8-64m23-9l-2 72 7-63m59 45l-2 43 7 6l2-92-2 92 8-50m15-44l-1 86 7 14l2-42-2 42 7-49m323-77l-2 110 7-92m166 28l-1 86 7-60"/><path class="h12" d="M1101 1152l-2 103 8-77m65 93l-1-22 7-97m116 135l-2 15 7 6l2 5-2-5 7-33m9-26l-1 55 7 15l1-68-1 68 7-8l2-49-2 49 7-34m94-1l-1 36 7-35m37-3l-1 67 7 15m16-57l-2 22 7-38m95-105l-2 131 7-25m130-63l-1 96 7-18m123-69l-2 116 7-86m30-9l-1 103 7-112"/><path class="h13" d="M701 1122l-1 43 7-7m9-50l-2 67 7-57m30-14l-1 63 7-45m23-39l-2 104 7-74m116 6l-1 73 7-42m44-31l-1 84 7-79m16-4l-2 73 7-52m59 9l-2 62 7-65m9-12l-2 74 8-15m137 25l-2 19 7-40m52 3l-2 66 7-10l2 63-2-63 8-10m44 10l-2 18 8 29m23-41l-2 14 7 151m9-114l-2-39 7 59m16-74l-1 24 7 94m30-66l-2-8 8 62m51-83l-1 31 7 27m66-98l-2 46 7-4l2-40-2 40 7-11m9-88l-2 101 7-79m38-6l-2 82 7-75m45-19l-2 93 7 2l2 4-2-4 7-82m23-14l-1 117 7-96m44 26l-1 63 7-62m230-20l-2 119 8-65"/><path class="h14" d="M708 1118l-1 40 7 17m52 262l-2-289 7-42m23-6l-2 66 8-58m123 21l-2 51 7-59m9 141l-2-98 7 98m59-60l-2-23 8-41m51-18l-1 74 7-27m23-10l-2 37 7-45m31-25l-2 83 7-34m16-42l-2 80 7-30m9 65l-1-43 7 3l1-71-1 71 7 43m30-111l-2 60 8 18l1-44-1 44 7-53m8-22l-1 66 7-23m37 208l-1-145 7 77m9-51l-2-15 7 138m80-138l-1 12 7 14m23-26l-2 12 7-10l2-38-2 38 7 44m16-45l-1 22 7 31m9-19l-2-16 7 3l2-20-2 20 7 78m52-43l-2-32 7 2l2 137-2-137 7 2l2-11-2 11 8-9l1 75-1-75 7 215m23-289l-2 70 7 13m31-68l-2 47 7 43m166-108l-2 76 7-42m66 41l-1 1 7-22m16 61l-2-34 7 64m137-124l-1 94 7-69m80-21l-2 88 8-16"/><path class="h15" d="M723 1188l-2-70 7-8l2-20-2 20 7-5m9-24l-2 46 8 40m8 0l-1-45 7 26m44-22l-1 3 7 144m9-122l-2-20 7 2l2 51-2-51 7-15m9-21l-2 52 8-24l1-29-1 29 7-10m30-10l-2 27 7 10l2-47-2 47 8 50m8-35l-1-7 7-30m51-14l-1 58 7 29m9-88l-2 36 7-13m80 45l-1-6 7-22m37-25l-1 58 7-36m16-19l-2 50 7-2l2-16-2 16 7 40m9-87l-2 57 8 22m30 90l-2-120 7 65m38-81l-2 27 7-4m9 109l-2-87 7 65m373 15l-1-45 7-25m8-36l-1 59 7 2l2-29-2 29 7 46m30-101l-1 73 7 51m37-73l-1 4 7 80m16-127l-2 47 7 27l2 70-2-70 7 13m16-43l-2 31 8-20l1 2-1-2 7-27m37 10l-2 34 8 15m8-67l-1 45 7-29m23-14l-2 48 7-31m66-7l-1 44 7-22m37-19l-1 46 7 105m23-108l-2 11 7 13l2-16-2 16 7-38m23 100l-1-58 7-50m9-23l-2 66 7-21m23 47l-1-17 7-28"/><path class="h16" d="M737 1095l-2 10 7 22m31-47l-2 26 7 81m9 27l-2-101 7 53m9-30l-1-28 7 21m30 58l-2-69 7 31m16 67l-1-101 7 10l2-31-2 31 7 131m9-157l-2 23 7 10m30-24l-1 12 7 60m9 5l-2-64 7 43m23 51l-1-91 7 40m23-47l-2 11 7 1l2 31-2-31 7 50m9-32l-1-9 7-3l1 16-1-16 7-4l2 17-2-17 7 2l2-24-2 24 7 79m9-98l-2 33 7 62m24-8l-2-56 7-7l2 6-2-6 7 56m9-77l-2 32 7 106m16-114l-1 1 7 65m59-37l-2-18 7 21m30-10l-1 0 7 44m16-11l-2-16 7 22m323 4l-2 2 8-11l1-21-1 21 7 13l1-41-1 41 7 56m23-90l-2 33 7-7l2-17-2 17 8 35m8 17l-1-42 7 23m30 56l-2-88 8 4l1-20-1 20 7 48m16 19l-2-64 7 19l2-42-2 42 7-15l2 60-2-60 7-4l2-20-2 20 8 27m44-44l-2 42 7 30m16-62l-1 15 7 171m9-124l-2-47 7 7l2-28-2 28 7 129m31-153l-2 25 7 56m23-78l-2 25 8 10l1 21-1-21 7-7l1 49-1-49 7 122m9-144l-2 32 7-6l2 17-2-17 7-3l2 28-2-28 7 1l2 15-2-15 8 5l1 5-1-5 7 27m8-41l-1 19 7-3l2 38-2-38 7-1l2-19-2 19 7 18l2 68-2-68 7 78m31-104l-2 15 7 32m16 43l-2-68 7-5l2 23-2-23 8 21l1-44-1 44 7 26m23 16l-2-44 7-4l2-22-2 22 7 50m16-74l-1 30"/><path class="h17" d="M2051 1457l-2-211 7 43"/></g>
<path class="ax" d="M36.5 69.5L36.5 165.5L188.5 184.8L244.5 134.4M36.5 165.5l-3.2 -0.4M36.5 149.5l-3.2 -0.4M36.5 133.5l-3.2 -0.4M36.5 117.5l-3.2 -0.4M36.5 101.5l-3.2 -0.4M36.5 85.5l-3.2 -0.4M36.5 69.5l-3.2 -0.4M36.5 165.5l-2.4 2.1M61.8 168.7l-2.4 2.1M87.2 171.9l-2.4 2.1M112.5 175.2l-2.4 2.1M137.8 178.4l-2.4 2.1M163.2 181.6l-2.4 2.1M188.5 184.8l-2.4 2.1M188.5 184.8l3.2 0.4M202.5 172.2l3.2 0.4M216.5 159.6l3.2 0.4M230.5 147l3.2 0.4M244.5 134.4l3.2 0.4"/>
<text class="tk" x="29.1" y="167.7" text-anchor="end">−120</text>
<text class="tk" x="29.1" y="151.7" text-anchor="end">−100</text>
<text class="tk" x="29.1" y="135.7" text-anchor="end">−80</text>
<text class="tk" x="29.1" y="119.7" text-anchor="end">−60</text>
<text class="tk" x="29.1" y="103.7" text-anchor="end">−40</text>
<text class="tk" x="29.1" y="87.7" text-anchor="end">−20</text>
<text class="tk" x="29.1" y="71.7" text-anchor="end">0</text>
<text class="tk" x="30.9" y="176.3" text-anchor="end">−600</text>
<text class="tk" x="56.2" y="179.5" text-anchor="end">−400</text>
<text class="tk" x="81.6" y="182.7" text-anchor="end">−200</text>
<text class="tk" x="106.9" y="185.9" text-anchor="end">0</text>
<text class="tk" x="132.2" y="189.2" text-anchor="end">200</text>
<text class="tk" x="157.6" y="192.4" text-anchor="end">400</text>
<text class="tk" x="182.9" y="195.6" text-anchor="end">600</text>
<text class="tk" x="194.9" y="192.2">99</text>
<text class="tk" x="208.9" y="179.6">99.5</text>
<text class="tk" x="222.9" y="167">100</text>
<text class="tk" x="236.9" y="154.4">100.5</text>
<text class="tk" x="250.9" y="141.8">101</text>
<text class="ti" x="140" y="16.2" text-anchor="middle">RFT LFM</text>
<text class="lb" x="102.7" y="199.4" text-anchor="middle">Velocity(m/s)</text>
<text class="lb" x="228.9" y="191.6">Range(km)</text>
<text class="lb" x="0" y="0" text-anchor="middle" transform="translate(9.6 117.6) rotate(-90)">Normalized amplitude(dB)</text>
<text class="cap" x="135.2" y="220.8" text-anchor="middle">(<tspan font-weight="bold" fill="#000">a</tspan>)</text>
<path class="grid" d="M316.2 160.8L378.5 110.5M340.5 164.5L402.8 114.2M364.8 168.2L427.1 117.9M389.1 171.9L451.4 121.6M413.4 175.6L475.7 125.3M437.7 179.3L500 129M331.8 148.2L477.6 170.4M347.3 135.7L493.1 157.8M362.9 123.1L508.7 145.3M378.5 110.5L524.3 132.7M378.5 110.5L378.5 19.5M402.8 114.2L402.8 23.2M427.1 117.9L427.1 26.9M451.4 121.6L451.4 30.6M475.7 125.3L475.7 34.3M500 129L500 38M524.3 132.7L524.3 41.7M378.5 110.5L524.3 132.7M378.5 92.3L524.3 114.5M378.5 74.1L524.3 96.3M378.5 55.9L524.3 78.1M378.5 37.7L524.3 59.9M378.5 19.5L524.3 41.7M331.8 148.2L331.8 57.2M347.3 135.7L347.3 44.7M362.9 123.1L362.9 32.1M316.2 160.8L378.5 110.5M316.2 142.6L378.5 92.3M316.2 124.4L378.5 74.1M316.2 106.2L378.5 55.9M316.2 88L378.5 37.7M316.2 69.8L378.5 19.5"/>
<g class="srf" transform="scale(0.1)"><path class="h21" d="M4832 1050l7-345"/><path class="h22" d="M4213 906l7-239m296 279l6-242"/><path class="h24" d="M4123 845l7-161m7 171l7-183m131 192l7-90"/><path class="h25" d="M4350 852l7-185"/><path class="h26" d="M3986 779l7-173m296 205l6-221m214 257l7 99"/><path class="h27" d="M3669 702l7-35m7 29l7-96m193 131l7-112m199 148l7-22m89 39l7-135m269 160l6-145m193 187l7-111m137 130l7-12m55 20l7-89"/><path class="h28" d="M3546 654l7-24m302 82l7-117m103 135l7-97m124 112l7-57m48 73l7-30m124 43l7 37m199-13l7-94m117 114l7-126m110 148l7-5m0 0l7-109m6 107l7-90m55 115l7-83m62 92l7-113"/><path class="h29" d="M3594 648l7-52m75 71l7 29m337 18l7-61m131 78l7-132m137 147l7-34m344 88l7 51m48-37l7-5m0 0l7-62"/><path class="h30" d="M3553 630l6-41m28 40l7 19m158 14l7-27m110 38l7-1m0 0l7 59m62-50l6-24m248 71l7-54m158 72l7 7m0 0l7-29m14 35l7-5m0 0l6-60m179 86l7-86m41 90l7-52"/><path class="h31" d="M3621 617l7-47m165 72l7-51m28 67l7-32m96 41l7-72m20 79l7 56m296-7l7-82m179 106l7-82"/><path class="h32" d="M3642 609l7-90m110 116l7-63m82 67l7 73m62-54l7-72m27 71l7 17m42-5l7-95m96 114l7-61m20 57l7 171m41-156l7 85m124-72l7-53m62 65l7-52m117 76l7 99m27-99l7-6m0 0l7-5m14 8l7-54m75 79l7 30m35-23l6-73m97 87l7-2m0 0l6 81m49-77l6-10"/><path class="h33" d="M3559 589l7-15m35 22l7-5m0 0l6-57m76 66l7-53m41 66l7 6m0 0l7 43m83-36l6-59m138 81l7 131m41-126l7-31m21 38l7-9m82 21l7 89m21-87l6 25m76-10l7 34m268 11l7 14m14-11l7-39m227 73l7 20m27-16l7-34m34 42l7 95m7-89l7 78"/><path class="h34" d="M3566 574l7-26m138 44l7-16m55 22l7-39m6 49l7 34m97-23l6 6m0 0l7-9m0 0l7-53m62 70l7 15m83 3l6-57m7 49l7-49m124 80l7 232m7-239l7 4m0 0l7-9m171 32l7-23m227 61l7 38m21-30l7-69m48 76l7 93"/><path class="h35" d="M3573 548l7-3m48 25l7-5m0 0l7 44m76-33l6 7m0 0l7-7m0 0l7 37m62-22l7-58m7 66l7-4m0 0l7 63m34-63l7 78m144-58l7 99m14-92l7-71m151 98l7 79m35-66l6-20m83 30l7 5m0 0l7-14m0 0l7-33m13 37l7 79m21-74l7 87m27-81l7 7m0 0l7 8m0 0l7-72m34 78l7-13m0 0l7 112m7-94l7 44m20-44l7 30m28-36l7 47m34-27l7-3m0 0l7 103m131-92l6 107m7-90l7-61m7 49l7 16m0 0l7 24m41-30l7 309"/><path class="h36" d="M3580 545l7 84m69-83l7-25m41 37l7 34m55-20l7 26m151-12l7 81m7-72l7 86m48-75l7 63m110-42l7-34m123 49l7-30m21 29l7 223m41-205l7 13m89-1l7 7m35-13l7 144m110-118l6-14m14 17l7 24m21-26l7-6m68 18l7-17"/><path class="h37" d="M3614 534l7 83m28-98l7 27m7-25l6 181m28-155l7 11m76 1l6 49m55-41l7 72m62-76l7 95m90-84l6 41m35-24l7 69m13-66l7 49m7-49l7 173m28-174l6 252m42-246l7 75m75-62l7 77m90-59l6 222m117-188l7 35m103-22l7 103m42-94l6 98m42-113l7 24m0 0l7 82m13-90l7 127m55-132l7 49m69-26l7 13m0 0l7 75"/><path class="h38" d="M3807 533l7 66m227-48l7 40m247-1l7 156m138-125l7 126"/><path class="h20" d="M3676 667l-1 254 6-313"/><path class="h21" d="M4791 791l-2 248 7-253"/><path class="h23" d="M3759 635l-2 174 7-138m1040 199l-1 94 7-201"/><path class="h25" d="M3704 558l-2 190 7-134m43 48l-2 110 7 37m250-235l-2 221 7-180m29-64l-2 262 7-130m366-12l-1 175 6-115"/><path class="h26" d="M3546 654l-2 59 7-194m118 183l-1 24 7 195m228-305l-1 132 6-54m174-100l-2 187 7-83m9 47l-2 42 7-63m408 123l-2 8 7-177m167 17l-2 182 7-152"/><path class="h27" d="M3780 559l-2 161 7-44m105-57l-2 118 7-20m63-43l-1 76 6-127m215 76l-1 83 7-70m311-8l-2 119 7-82m36 7l-2 74 7-173m160 38l-2 166 7-87m160 112l-1 6 6-131"/><path class="h28" d="M3580 545l-2 117 7-57m16-9l-2 64 7-21m187 3l-2 49 7-121m16 29l-2 108 7-125m64 149l-2-26 7 32m8-112l-1 92 7 31m235 107l-2-116 7-63m16 55l-2 19 7-59m84-79l-2 147 7-92m112 79l-2 30 7-117m36 35l-1 89 7 63m118-112l-2 84 7 4m92-136l-2 127 7-30m22 17l-2 27 7-109m160 57l-2 83 7-39"/><path class="h29" d="M3731 576l-1 93 6-19m30-78l-2 99 7-8m15-55l-1 68 6 15m119-128l-2 131 7-50m16 23l-2 38 7 2l2-112-2 112 7-26m29-48l-2 75 7-82m16-20l-2 110 7-8l2-39-2 39 7 87m22-142l-2 53 7-5m71-13l-2 36 7 7l2-104-2 104 7-56m112-4l-2 73 7-122m57 189l-2-51 7-21m15-27l-2 45 7-39m78 41l-2 7 7-55m77-12l-2 89 7-117m43 33l-1 88 6 26m30-120l-2 103 7-58m22 37l-1 12 6-88m9 14l-2 75 7-34"/><path class="h30" d="M3608 591l-2 48 7-9l1-96-1 96 6-84m16 19l-2 79 7-52m98 21l-2 37 7-45m30-7l-2 65 7 57m167-39l-2 0 7-83m84 24l-2 79 7 112m167-139l-2 52 7-7m29-77l-1 86 6 31m50-169l-1 149 6-75m23 8l-2 77 7-45m16-74l-2 118 7-19m373 18l-2 52 7 10l2 31-2-31 7-52m29-75l-2 122 7-92m57 29l-2 78 7-86"/><path class="h31" d="M3697 547l-2 82 7 119m160-153l-2 60 7-27m181-37l-2 92 7-44m36 128l-2-69 7 89m91-3l-1-72 6-21m9 37l-2-15 7 13m9 180l-2-187 7-6l2-46-2 46 7 31m125 108l-1-123 7-29m221-23l-1 89 7 26m49-8l-1-1 7-75m208 10l-2 89 7-16m29 76l-2-49 7 2l2-66-2 66"/><path class="h32" d="M3587 629l-2-24 7 0l2 43-2-43 7 55m208-127l-2 102 7 72m43 5l-2-71 7 14m208-61l-1 87 6-61m92-21l-2 92 7-37m22-5l-2 42 7 22m71-72l-2 72 7-20m43-34l-2 59 7 31m98-71l-2 53 7-62m64 129l-2-54 7 79m9-75l-2-7 7 114m64-164l-2 62 7 13m29-51l-2 44 7-19m188 49l-2-3 7 178m36-259l-2 93 7 9m9-14l-2-2 7-8"/><path class="h33" d="M3683 696l-2-88 7-15m23-1l-2 22 7 3l2-41-2 41 7-81m146 137l-2-45 7-3m43 33l-2-14 7-25m98 95l-2-63 7 55m92-113l-2 82 7-13m22 10l-2 4 7 4l2 81-2-81 7 70m119 114l-2-171 7-39m50 23l-2 27 7-2l2-39-2 39 7 46m57 6l-2-43 7 72m29-90l-2 28 7-22m112 38l-2 2 7 62m9-56l-2-2 7 10m43 65l-2-78 7-47m91 121l-2-48 7-15m146 32l-1 0 7 101"/><path class="h34" d="M3559 589l-1-15 6-26m78 61l-2-17 7-2l2-71-2 71 7-22m36 32l-2-7 7 36m50-10l-2-14 7 167m98-133l-2-19 7 21m23 31l-2-47 7 80m105 74l-2-135 7 72m132 129l-1-183 7-15m132 76l-2-44 7 34m91-46l-1 33 6 76m78-155l-2 78 7-21m9-13l-2 41 7 9l2 94-2-94 7-3l1-48-1 48 6 76m174-18l-2-27 7 84m64-18l-2-58 7 48m16 36l-2-78 7-23m43 37l-2-6 7 274m22-181l-1-95 6 95"/><path class="h35" d="M3566 574l-2-26 7 0m85-2l-2 22 7-20m167 110l-2-63 7-36m91 27l-2 33 7 86m36 25l-2-107 7 85m9-60l-2-22 7 18m29-29l-1 0 6 36m37 9l-2-21 7-25m70 70l-1-37 6 92m37-65l-2-20 7 128m77-93l-2-22 7 12m43 67l-2-82 7 93m284-63l-2 10 7 89m64 58l-2-133 7-1l2 23-2-23 7 10l2-56-2 56 7 150m9-100l-2-52 7-15m50 16l-2 8 7 7l1 92-1-92 6-15m23 21l-2-15 7 33m91 24l-2-36 7 65"/><path class="h36" d="M3573 548l-2 0 7 114m43-45l-2-71 7 6l2 18-2-18 7 92m30-123l-2 27 7 178m132-135l-2-21 7 65m16-40l-2-13 7 13m15-28l-1 22 6 31m105 37l-1-59 7 152m105-99l-2-37 7 67m8-38l-2-23 7 161m202-7l-2-120 7 106m84-7l-2-94 7-9m50 35l-2-16 7 52m16 26l-2-69 7 28m29-20l-2-15 7 73m30 202l-2-268 7 114m98-100l-2 1 7 120m15-81l-1-24 6 35m50-39l-1 6 6 143m57-110l-2-17 7 78m71 246l-2-317 7 65"/><path class="h37" d="M3553 630l-2-111 7 55m166 9l-1-47 7 133m105-43l-2-67 7 30m394 73l-2-40 7 106m139-4l-2-74 7-4l2 26-2-26 7 120m153-24l-2-93 7 90m222-8l-2-19 7 20"/><path class="h20" d="M4569 753l-2 285 7-310"/><path class="h21" d="M3613 630l-2 210 7-89m517-12l-1 197 6-274"/><path class="h23" d="M3743 605l-2 196 7-185m243 100l-2 127 7-205m277 55l-2 195 7-89"/><path class="h24" d="M3826 595l-2 193 7-45"/><path class="h25" d="M3571 548l-1 172 6-90m43-84l-1 205 7-83m387-53l-2 193 7-4l1-153-1 153 6-159m277 19l-1 193 7-84m435-39l-2 171 7-176"/><path class="h26" d="M3661 548l-2 165 7-97m15-8l-1 114 6-68m92 66l-2 13 7-99m29 73l-2 45 7-89m16-104l-2 184 7-88m676 23l-2 182 7-105m36 46l-2 56 7-105m325 68l-2 92"/><path class="h27" d="M3592 605l-2 75 7-23m174 6l-2 50 7 20m70-113l-1 112 7-118m77 91l-2 37 7-82m29-37l-1 131 6-71m71 130l-2-58 7-95m140 52l-2 69 7-159m15 104l-2 55 7-88m57 20l-2 90 7 85m9-234l-2 145 7-78m57 27l-2 59 7-155m22 7l-2 151 7-124m209 106l-2 54 7-88m29-65l-2 146 7-46m16-85l-2 137 7-83m15-44l-2 133 7-117m91-8l-1 147 7-6l1-63-1 63 6-102m16 0l-2 112 7-81m16 168l-2-97 7-125m15 77l-2 67 7-80m23-15l-2 95 7-87"/><path class="h28" d="M3585 605l-2 57 7 18m36-128l-1 116 6-46m23-54l-2 103 7 42m16 208l-2-240 7 41m29-108l-2 74 7-9l2-62-2 62 7-117m394 113l-2 66 7-31m29-30l-2 68 7 6l2-4-2 4 7-109m64 99l-2 12 7-67m15 70l-1 17 6-80m57 61l-1 16 6-44m9 20l-2 39 7-56m71-21l-2 77 7-15m29-52l-2 69 7-110m263 173l-1-21 6-82m71-18l-2 111 7 34"/><path class="h29" d="M3558 574l-2 77 7-94m36 103l-2-3 7-56m132 49l-1 20 6 131m64-166l-2 50 7 67m257-71l-2 34 7-4m284-11l-2 62 7-71m43 92l-2-10 7-11m91-21l-2 40 7-79m29 120l-1-31 6-54m9 2l-2 53 7 65m50-98l-2 45 7-16m78-63l-2 83 7-44"/><path class="h30" d="M3544 713l-2-80 7-30m29 59l-2-32 7 32m105-69l-2 61 7-39m9 133l-2-104 7 44m112-106l-2 81 7 125m236-174l-2 87 7 14m8-95l-1 91 7-66m43 17l-2 48 7-49m284 185l-2-84 7-20m43-27l-2 45 7-93m132 126l-2-13 7 24m9-64l-2 48 7 51m9-26l-2-20 7-25m187 90l-1-38 6 66m44-2l-2-63 7 1l1-69-1 69 6-26"/><path class="h31" d="M3633 644l-2-22 7-24m202-9l-2 66 7 77m15-77l-2 3 7 2l2-32-2 32 7-89m98 137l-2-25 7-22m264 67l-2-8 7 56m43-16l-2-39 7-61m22 58l-2 11 7 59m9-84l-2 28 7-11m84 10l-1 11 6-73m30 37l-2 46 7 8m194 67l-2-40 7 64m71-42l-2-19 7-27m57 276l-2-243 7-65m36 2l-2 73 7-14"/><path class="h32" d="M3551 519l-2 84 7 48m112 75l-2-110 7 65m112-5l-2-42 7-20m98 123l-2-80 7-25m43 75l-2-47 7-21m9-41l-2 63 7-36m22 1l-2 35 7-62m71 40l-2 36 7 26m36 86l-2-99 7-44m236 58l-2 19 7 86m153 16l-2-77 7 35m23 11l-2-37 7-63m36 51l-2 9 7 286m22-334l-1 54 6 22m37 3l-2-15 7 77m8-102l-1 19 6 25m188 11l-2-6 7-66m16 57l-2 16 7 22m15-3l-2-22 7 116"/><path class="h33" d="M3606 639l-2-38 7 239m29-248l-2 6 7-19m50 50l-2-14 7 29m30 25l-2-49 7 50m15 102l-2-156 7-35m291 102l-2-23 7 15m160 44l-2-26 7-22m16-49l-2 67 7 31m15-53l-2 29 7-24m133 94l-2-53 7 75m50-110l-2 41 7 33m36-8l-2-15 7 17m50-97l-2 88 7 55m133 85l-2-118 7 49m9-98l-2 54 7 68m36-75l-2 6 7 142"/><path class="h34" d="M3791 691l-1-77 6-12m57 39l-1-27 6 44m23 47l-2-80 7 32m9 60l-2-85 7-49m15 61l-2-14 7-8l2-3-2 3 7 120m16-61l-2-42 7 22m50 47l-2-70 7-45m22 113l-2-61 7-14m99 16l-2 14 7 275m8-260l-2-14 7 86m23-94l-2 8 7-16m22 67l-2-37 7 105m16-68l-2-42 7 85m139 20l-1-85 6 119m16-164l-2 49 7 18m188 53l-2-38 7 118m125-80l-2-16 7-39m9 88l-2-48 7 39m43-78l-2 53 7 78"/><path class="h35" d="M3564 548l-1 9 7 163m77-130l-2-11 7 92m105 138l-2-228 7 2l2 88-2-88 7 130m29-143l-2 32 7 83m105 9l-1-79 6 15m44 120l-2-125 7 129m70-53l-2-70 7 124m43 26l-1-136 6-14l2 67-2-67 7 57m9 36l-2-80 7-7l2 94-2-94 7 104m50-50l-2-46 7 17m9 120l-2-136 7 135m77-102l-2-7 7 131m30-64l-2-79 7 197m77-207l-2 36 7 9m98-24l-2 22 7 36m23 126l-2-153 7 158m153-143l-2 17 7-32m78 39l-2-12 7 144m57-110l-2-21 7 78"/><path class="h36" d="M3723 536l-2 26 7 58m174 128l-2-165 7 32m77 29l-2-45 7 244m360-114l-2-77 7 110m70-93l-2 0 7 121m9-91l-2-19 7 39m29 69l-1-115 6 20m50 125l-1-126 7 99m139-64l-2-25 7 57m36-8l-2-40 7 40m78 35l-2-55 7 136m43-60l-2-81 7 160"/><path class="h37" d="M3874 625l-2-54 7 54m126 170l-2-202 7 215m180-117l-1-69 6 54m271 36l-2-45 7 6"/><path class="h21" d="M4189 622l-2 335 7-166"/><path class="h22" d="M3948 661l-2 213 7-175"/><path class="h23" d="M4147 748l-2 122 7-167"/><path class="h24" d="M3549 603l-2 150 7-106m456 161l-2 17 7-120m318 16l-2 160 7-132m160 32l-2 135 7-123"/><path class="h25" d="M3583 662l-2 71 7-133m621 93l-2 131 7-88m57 152l-2-55 7-138m298 33l-2 148 7-103m77 78l-1 42 6-32"/><path class="h26" d="M3721 562l-2 165 7-148m187 51l-1 124 6-121m9 109l-2 22 7-145m30 135l-2 10 7-78m84-11l-2 102 7-22m84-93l-1 137 6 71m112-198l-1 149 6-34m37 70l-2-25 7-52m77-85l-2 145 7-147m353 212l-2-6 7-154m112 54l-2 108 7-125"/><path class="h27" d="M4023 645l-1 105 7-21m29-28l-2 54 7-4m22-120l-1 126 6 2l2-71-2 71 7 0l2-115-2 115 7-62m64-35l-2 115 7-54m22-47l-1 115 7-108m63 120l-2-16 7 46m78-181l-2 150 7-45m174-65l-2 138 7-31m15-7l-2 42 7-53m50 23l-2 33 7-134m57 31l-2 127 7-58m64-40l-2 95 7 41m23-32l-2 13 7-70m43-68l-2 143 7-87"/><path class="h28" d="M3576 630l-1 42 6 61m64-154l-2 90 7-20m140-35l-2 79 7-36m43-2l-2 44 7-47m187-21l-1 98 6-77m30 63l-2 36 7-72m64 257l-2-192 7 55m98-79l-2 59 7-64m64 58l-2 7 7-45m91 38l-2 10 7-72m15-42l-1 117 7-43m22 9l-2 44 7-32m64-9l-2 55 7 20m64-72l-2 59 7-30m98-23l-2 68 7-64m57 105l-2-37 7 44m43-13l-2-3 7 21"/><path class="h29" d="M3542 633l-2 18 7 102m9-102l-2-4 7-114m77 65l-2 68 7 3m133 64l-2-50 7-28m29 97l-2-74 7-23m140-30l-2 74 7 65m43-171l-2 115 7 117m119-164l-2 79 7 4m50 37l-2-32 7 208m63-261l-1 56 7 69m187-102l-2 66 7 11m29-103l-1 97 7-70m22-18l-2 91 7-9l2 76-2-76 7 26m16-19l-2 8 7-79m84 73l-2 10 7-16m16-25l-2 43 7-34m56-21l-1 66 7-15"/><path class="h30" d="M3652 671l-2-22 7-24m16 56l-2-26 7-55m15 15l-2 41 7-88m37 102l-2-8 7-29m249 210l-2-148 7-40m23 149l-2-99 7 45m139-105l-2 79 7 53m9-131l-2 77 7 26m36-78l-2 65 7-2l2 22-2-22 7 3l2-48-2 48 7 42m57-119l-2 79 7 93m29-100l-2 10 7 139m9-74l-2-58 7 53m9-40l-2-5 7-19m98 22l-2 4 7-24m29 6l-2 28 7 142m57-59l-2-76 7-89m36 88l-1 7 6 50m30-69l-2 19 7-31m36-54l-2 101 7-50m36-42l-1 90 6-47m50 11l-1 45 6-38m16 24l-2 21 7-48m43 23l-2 27 7-23m9 90l-2-54 7 75m22-111l-1 42 7-35"/><path class="h31" d="M3631 622l-1 3 6 41m30-50l-2 24 7 15m15-1l-1-18 6 20m16 32l-2-52 7-41m71 39l-2 21 7 38m8-91l-1 55 7-25m15 31l-2-8 7-3l2 136-2-136 7-9m36 17l-2 2 7-6m23-24l-2 33 7-22m43-4l-2 38 7 197m22-191l-1 3 7-64m105 23l-2 50 7 62m22-120l-2 60 7-6m43 63l-2-51 7 21m85 52l-2-61 7 37m63-23l-1 6 6-23m44-21l-2 47 7-39m29 89l-2-38 7 33m29 7l-1-47 6-6m147 109l-2-73 7 44m139-27l-2 5 7 63"/><path class="h32" d="M3659 713l-2-88 7 15m77 161l-1-168 7-10m84 120l-2-100 7 56m9 33l-2-80 7-14m22-67l-2 85 7-56m30 15l-2 46 7 93m70-155l-2 64 7 32m85 16l-2-32 7 16m36 46l-2-50 7-6l2 25-2-25 7 55m249-54l-2 41 7 113m57-160l-2 57 7 48m23-118l-2 73 7-5m98 303l-2-277 7 115m77-89l-1-16 7 122m160-73l-2-22 7-78m22 6l-2 70 7 36m36 80l-1-109"/><path class="h33" d="M3590 680l-2-80 7-23m153 39l-1 7 6 2l2-44-2 44 7 0l2-42-2 42 7-2l2 90-2-90 7 60m29 2l-1-53 6 46m44-64l-2 24 7-57m43 2l-2 60 7 18m91-23l-2 17 7 53m201 73l-1-98 6 141m71-25l-2-104 7-4m36 97l-2-76 7 30m147-69l-2 62 7 55m160 55l-2-89 7 49m43 3l-2-51 7 75m9 0l-2-64 7 48m70 27l-2-71 7-22m85 71l-2-39 7-17"/><path class="h34" d="M3597 657l-2-80 7 11l2 13-2-13 7-3l2 255-2-255 7-21m9 104l-2-89 7 46m50 97l-2-122 7 36m29 43l-2-84 7 132m201-105l-2 11 7 131m112-9l-2-103 7-8l2 16-2-16 7 133m236-56l-2-30 7 48m77 71l-1-111 6 28m37 35l-2-51 7 1l2 30-2-30 7 74m63-57l-1-9 6 54m50-37l-1-17 6 114m71 5l-2-100 7 64m57-44l-2-6 7 4m36-6l-2 3 7 41m71-64l-2 38 7 95m29-58l-2-36 7 49"/><path class="h35" d="M3570 720l-2-161 7 113m43 79l-2-187 7 15m105 41l-2-41 7 83m146-37l-2-25 7 5l2 52-2-52 7 60m43-5l-2-41 7 58m36-16l-1-39 6 41m408 50l-2-20 7 57m353-21l-2 16 7 91m29 41l-2-127 7 67m85 5l-2-57 7 73"/><path class="h36" d="M3563 557l-2-24 7 26m132 85l-2-76 7 68m153 22l-1-77 6 81m697 90l-2-60 7 69m43 27l-2-85 7 36"/><path class="h37" d="M4821 886l-1-166 6 50"/><path class="h18" d="M3691 656l-1 385 7-327"/><path class="h20" d="M4249 752l-2 248 7-243"/><path class="h21" d="M3685 636l-2 232 7 173m868-349l-2 325 7-249"/><path class="h22" d="M4723 795l-2 209 7-45"/><path class="h23" d="M4407 711l-2 208 7-74m318 13l-2 101 7-159m9-55l-2 220 7-197"/><path class="h24" d="M3843 652l-2 148 7-84m15-54l-1 145 7-109m194 53l-2 98 7-205m77 226l-1-16 7-161m696 139l-2 116 7-112"/><path class="h25" d="M3760 625l-2 127 7-123m270 23l-1 147 6 10l2-165-2 165 7-112m250 135l-2 15 7-165m126 61l-2 112 7-78m180-38l-2 157 7-155m30 30l-2 123 7-49m15-42l-2 89 7-109m16 49l-2 64 7-170m77 46l-1 138 6-129m16-12l-2 157 7-148"/><path class="h26" d="M3540 651l-2 48 7-24m43-75l-2 110 7-16m374-8l-2 94 7-124m442 56l-2 133 7 0l2-59-2 59 7 10m235 6l-1 21 6 10m119-75l-2 84 7 25"/><path class="h27" d="M3561 533l-2 147 7-87m29-16l-2 117 7-125m16-5l-2 129 7-15m77-110l-1 146 6-71m16 84l-2-19 7-108m463 357l-2-169 7-29m346-39l-2 117 7-42m43 22l-2 21 7-45m64 100l-2-48 7 37m180-86l-2 88 7 64"/><path class="h28" d="M3547 753l-2-78 7-40m71-56l-2 99 7-65m8 53l-1 7 7-56m29 38l-2 39 7-39m57 7l-2 29 7-28m112-25l-2 78 7 6l2-141-2 141 7 85m63-43l-1-50 6-59m9 22l-2 58 7-32m78 47l-2-23 7-59m167 123l-2-32 7-68m29 46l-2 25 7-56m222 58l-2 42 7-38m91 13l-2 35 7 201m85-212l-2 21 7 68m119-84l-2 34 7 66m91-128l-2 86 7-96"/><path class="h29" d="M3808 678l-1 8 6-48m16 5l-2 53 7-53m36 13l-1 42 6-5l2-93-2 93 7-37m64 218l-2-171 7-74m9 135l-2-60 7 76m29-125l-2 61 7-39m9 148l-2-106 7-48m71 86l-2-25 7-40m29-7l-2 42 7-31m36 28l-2 22 7-20m50 10l-2 12 7-28m37 101l-2-64 7-16m15-46l-2 67 7-7l2-64-2 64 7-80m57 127l-2-40 7-70m22 35l-1 49 7-14m22 21l-2-8 7 144m29-182l-1 40 6-26m44-31l-2 65 7 2l1-13-1 13 6-124m50 171l-1-39 6 21m50 21l-1-30 7-40m153 113l-2-44 7 8"/><path class="h30" d="M3554 647l-2-12 7 45m119-80l-2 55 7 213m57-235l-2 30 7-17m8-21l-1 33 6 94m16-69l-2-15 7 5l2-18-2 18 7-6l2 26-2-26 7-39m9 4l-2 40 7 14m173-23l-1 33 6 8l2-9-2 9 7 12m105 43l-1-46 6-12m37 98l-2-77 7 132m22-77l-2-51 7-34m91 95l-1-46 6-54m112 153l-1-78 6-20m9 8l-2 8 7 17m64-35l-2 28 7-35m57 97l-2-55 7-47m64 59l-2 6 7 14m222-87l-2 100 7-4m29 91l-2-71 7 32"/><path class="h31" d="M3575 672l-2-51 7-9m77 13l-2 15 7-22m43 18l-2 7 7-1l2-47-2 47 7 66m30-85l-2 23 7 12m139 7l-2 11 7-16m9 1l-2 15 7-20m139 121l-2-80 7-42m23 40l-2-1 7 38m22-35l-2 4 7-73m112 106l-2-14 7 42m16-47l-2 12 7 273m64-265l-2 3 7-34m70-11l-2 49 7 16m50 27l-2-34 7-14m30 53l-2-36 7 31m22 8l-2-33 7-8m57 9l-2 7 7-34m57 53l-2-9 7-29m43 4l-2 30 7-3m23 36l-2-25 7-9m29 117l-2-99 7 165m71-167l-2 7 7 15m8-50l-1 46 7-23m43 45l-2-20 7-36"/><path class="h32" d="M3581 733l-1-121 6 98m44-85l-2-12 7 60m8-4l-1-52 6-13m16 36l-2-22 7 76m153-42l-2-2 7 46m9 3l-2-56 7 157m43-195l-2 51 7 20m9-33l-2 17 7 16m9 78l-2-98 7-17m84 69l-2-31 7 42m9-14l-2-34 7 56m70 32l-1-67 7 21m29 27l-2-44 7-14m22 21l-1-10 6 53m78 33l-2-73 7 21m98 22l-2-29 7 42m105 34l-2-59 7 69m57-22l-2-32 7-17m91-32l-1 64 6 129m71-139l-2 23 7 116m23-95l-2-19 7 6l1-34-1 34 6 216m85-119l-2-90 7 10m22 14l-1-26 6 91"/><path class="h33" d="M3568 559l-2 34 7 28m36-36l-2 9 7 99m36-44l-2-45 7 36m112-17l-2 6 7 39m23-11l-2-29 7 44m15-17l-2-17 7 12m112-31l-2 36 7 80m37-113l-2 34 7 40m50 33l-2-61 7 131m98-55l-2-62 7 40m36 1l-2-31 7 0l2 57-2-57 7 96m16-105l-2 8 7 0l1 133-1-133 6 57m105-36l-1-8 7-31m8 208l-2-171 7 10m133 15l-2-2 7 21m43 56l-2-75 7 40m112-19l-2-7 7 77m112 10l-2-68 7 68m22-86l-2 31 7 120m16-37l-2-86 7 17"/><path class="h34" d="M3726 579l-2 21 7 91m187-58l-1 6 7 75m132 41l-2-100 7 194m208-16l-2-146 7 75m78-5l-2-65 7 4l2 42-2-42 7-3l2 6-2-6 7 83m160 23l-2-71 7 109m36 39l-2-142 7-20m43 89l-2-62 7 37m243-13l-2 7 7 46m9-15l-2-21"/><path class="h35" d="M3602 588l-2-19 7 25m346 105l-2-70 7 75m112-25l-2-35 7 50m215 45l-2-64 7 172m9-67l-2-98 7 56m15 4l-1-69 6 37m250 63l-2-59 7 124m112-70l-2-42 7 65"/><path class="h36" d="M4111 691l-2-63 7 99"/><path class="h37" d="M4496 916l-2-253 7 97"/><path class="h20" d="M3669 694l-2 195 7-277m937 284l-1 171 6-207m92-78l-2 266 7-258m125 94l-1 233 6-246"/><path class="h23" d="M3958 704l-2 142 7-141m71 94l-2 64 7-114m352 9l-2 172 7-179m484 31l-2 211"/><path class="h24" d="M3566 593l-2 178 7-188m449 144l-2 103 7-170m724 108l-2 173 7-157"/><path class="h25" d="M3648 604l-1 141 6-83m202 60l-2 59 7-101m9 18l-2 82 7 9l1-96-1 96 6-12l2-121-2 121 7-77m9-40l-2 125 7-164m23 93l-2 87 7-135m449 96l-2 107 7-177m118 68l-1 112 6-103m257 75l-2 78 7-166"/><path class="h26" d="M3614 693l-2 33 7-26m71 341l-2-319 7-126m36 95l-2 37 7 20l2-85-2 85 7 0l2-102-2 102 7-13l2-77-2 77 7-76m387 195l-2-45 7-54m57-64l-2 112 7-112m98 47l-2 83 7-108m160 41l-2 92 7-23m84-55l-2 94 7-79m64-34l-2 123 7-10m43-82l-2 102 7-61m91-40l-1 118 7-25m29-69l-2 101 7-146"/><path class="h27" d="M3580 612l-2 88 7-72m22-34l-2 107 7 25m9-48l-2 22 7-13m9-14l-2 18 7-69m70 20l-2 61 7-17m50-57l-2 93 7-47m78 41l-2 8 7 57m119-125l-2 103 7-32m22-50l-2 87 7-45m119-23l-2 78 7-44m57 58l-2-12 7-107m50 58l-2 70 7-96m9 56l-2 32 7-22m167 88l-2-39 7-46m29-2l-2 66 7-21m16-28l-2 38 7-26m119-30l-2 79 7 221m8-326l-2 119 7-25m16-9l-2 36 7-7l2 39-2-39 7-16m132 62l-1-27 6-80"/><path class="h28" d="M3628 613l-2 74 7 4m84 17l-2-22 7-2l2-84-2 84 7 44m50-55l-2 39 7-55m57 143l-2-98 7 22m91 11l-2-12 7 7l2-27-2 27 7-55m30 21l-2 31 7 2l1-25-1 25 6 3l2-16-2 16 7 32m43 45l-1-60 7-42m29-13l-2 47 7-82m16 54l-2 37 7-54m50-3l-2 62 7-125m22 62l-2 75 7 9m43-14l-2 10 7-101m30 70l-2 26 7 0l1-80-1 80 7-67m29-18l-2 101 7 38m22-111l-1 76 6-57m23-33l-2 89 7-2l2-90-2 90 7-5m98-45l-2 80 7 33m153-68l-2 57 7 37m23-27l-2-6 7 2l2 41-2-41 7-49m8-9l-2 56 7 43m43 122l-1-155 7-67m77 13l-2 62 7 49m36 42l-2-77 7-94"/><path class="h29" d="M3552 635l-2 11 7-17m36 65l-1-46 6-54m57 46l-2 22 7-6m43-13l-1 33 6 27m64-35l-2 7 7 37m112-36l-2 24 7 85m71-5l-2-75 7 54m36-40l-2 0 7-83m43 19l-2 75 7-9l2 128-2-128 7-34m43-59l-2 103 7 2l2-6-2 6 7 41m9-92l-2 48 7-22m36-16l-2 47 7 28m119 80l-2-91 7 27m50-91l-2 83 7 10m16-9l-2 2 7 91m36-24l-2-73 7-53m29 18l-2 53 7-60m37 57l-2 10 7-27m194 126l-2-75 7-46m50 190l-2-129 7 105m50-163l-2 52 7 27m30-64l-2 42 7 282"/><path class="h30" d="M3559 680l-2-51 7 142m98-153l-2 38 7 233m16-21l-2-211 7 65m70 30l-1-93 6 63m57-72l-1 20 6-40m37 177l-2-127 7 100m180-83l-1 10 6 23m112-4l-2-3 7 16m30-48l-2 39 7 73m77-48l-2-10 7-30m147 62l-2-7 7-17m56-90l-1 107 7 102m29-144l-2 49 7 8l2 52-2-52 7-39m29-12l-2 49 7-29"/><path class="h31" d="M3545 675l-2-57 7 28m36 64l-1-82 7 20m194 19l-2-10 7-26m16 55l-2-21 7-25m22 3l-2 20 7 39m71-46l-2 24 7-4l2-37-2 37 7 125m29-172l-2 46 7 171m181-124l-2-14 7 101m77-89l-2 3 7 49m174 3l-2-24 7-35m36 35l-1 2 6 37m64-38l-2 17 7-27m9 33l-2-6 7 8m139 115l-1-100 6 47m154-23l-2 3 7 16m36-63l-2 46 7-33"/><path class="h32" d="M3538 699l-2-90 7 9m99-1l-2 5 7 123m153-73l-2-26 7 19m8-27l-1 2 7 30m111-15l-1 11 6 57m133-79l-2 43 7 54m29-40l-1-5 6 35m181-56l-2 40 7 41m43-36l-2 9 7-1l2 34-2-34 7 47m201 41l-1-63 7 0l1 264-1-264 6 109m37-55l-2-39 7 78m91-120l-2 49 7-29m16 42l-2 2 7 59m8 110l-1-177 6-33m23 87l-2-52 7 138m29 4l-2-132 7 36"/><path class="h33" d="M3600 569l-2 25 7 107m71-46l-2-43 7 45m112-29l-2 3 7 15m29 50l-2-66 7 33m195 5l-2-8 7 203m180-115l-1-57 6 32m30 277l-2-299 7 88m22-27l-1-62 6 45m37-41l-2 9 7-12m84 218l-2-203 7 56m9 73l-2-126 7 97m29-10l-2-76 7 104m57-99l-2 7 7 27m23 26l-2-49 7 7m29-39l-2 40 7-33m9 72l-2-46 7 21"/><path class="h34" d="M3573 621l-2-38 7 117m119 14l-2-118 7 80m380 56l-2-73 7-2l2 35-2-35 7 93m98 9l-2-90 7 61m126-57l-2 28 7 85m373 5l-2-45 7 302m64-138l-2-154 7 143m77-63l-2-59 7-21m16 62l-2-33 7 208"/><path class="h35" d="M3903 676l-2-55 7 59m105-9l-2-35 7 194m215-124l-2-35 7 126m146-55l-1-50 6 238m195-92l-2-117 7 26m146 53l-2-51 7 87m78-16l-2-60 7 59m36 49l-2-112 7 62"/><path class="h36" d="M4157 746l-1-116 6 93"/><path class="h18" d="M3812 640l-2 384 7-202"/><path class="h20" d="M3860 680l-2 241 7-304"/><path class="h21" d="M4548 753l-2 263 7-173"/><path class="h22" d="M4094 750l-2 153 7-152m132-80l-2 251 7-176m64 37l-2 137 7-176m119 72l-2 135 7-141"/><path class="h23" d="M3578 700l-2 91 7-113m160 70l-2 80 7-27m71-131l-2 152 7-125m22 27l-2 102 7-100m497 49l-2 137 7-149m16 15l-2 133 7-61m297-11l-1 116 7-140m132 91l-2 70 7-127"/><path class="h24" d="M3612 726l-2 37 7-75m85-12l-2 121 7-123m43 61l-2 66 7-148m146-32l-2 208 7-83m140-39l-2 132 7-140m98 56l-2 89 7-125m119-19l-2 181 7-46m194 11l-2 64 7-50m64-114l-2 160 7 110"/><path class="h25" d="M3592 648l-2 104 7-58m77-82l-2 145 7-66m50 37l-2 34 7-96m160 119l-2-7 7 51m30-163l-2 135 7-108m29 12l-2 92 7-98m29 65l-1 40 6-29m57-54l-2 97 7-116m105 37l-1 85 6-97m78 62l-2 52 7-54m22-42l-1 90 6-43m92 77l-2-19 7-100m57 3l-2 116 7-136m118 129l-1 27 6-116m30-5l-2 135 7-147m15 104l-1 48 7-104"/><path class="h26" d="M3763 722l-1 22 7-59m187 161l-2-68 7 19m43-78l-2 56 7 7l2-146-2 146 7-67m23 34l-2 29 7 61m36-180l-2 136 7-25m77-47l-1 93 7 8m43-133l-2 118 7-111m50 69l-2 50 7 64m208-58l-2 37 7-12l2-51-2 51 7-108m153 115l-2 31 7-26m36-39l-2 72 7-33m30-11l-2 34 7-86"/><path class="h27" d="M3536 609l-1 84 7-133m29 23l-2 104 7 104m22-197l-1 100 6-62m30 59l-2 12 7-43m146-3l-2 74 7-4l2-96-2 96 7-114m43 89l-2 30 7 94m9-45l-2-55 7 195m50-241l-2 66 7-8l2-62-2 62 7-69m64 60l-2 35 7 2l1-34-1 34 7 38m91-147l-2 113 7 133m132-131l-1 30 6 120m57-207l-2 77 7-88m43 25l-1 89 6-67m195 34l-2 53 7 68m16-153l-2 90 7 46m15-135l-2 92 7-79m9-20l-2 95 7 61m57-64l-2 21 7-36m36-49l-2 85 7-52m50 133l-2-71 7-28m105-86l-2 144 7-82"/><path class="h28" d="M3585 628l-2 50 7 74m29-52l-2-12 7-25m23 82l-2-55 7-26m29-7l-2 34 7-27m9-68l-2 91 7 110m77-85l-2-3 7 22m98 46l-1-61 6-19m57 33l-1 5 6-51m85 179l-2-115 7 30m64-82l-2 55 7-33m8 15l-2 21 7-67m9 43l-2 26 7-13m57-74l-2 91 7-8m64 15l-2 20 7 30m167-47l-2 40 7 59m29-56l-2-9 7 106m36-141l-1 38 6-29m16-1l-2 50 7 11m222-54l-2 58 7 21l2 59-2-59 7-56m57 12l-2 41 7-60"/><path class="h29" d="M3626 687l-2-24 7 40m9-81l-2 38 7 30m8-28l-1 2 6-7m30 65l-2-58 7 23m15 16l-1-29 7-54m56 55l-1 10 6 24m50-79l-1 67 6-9l2-25-2 25 7 44m50-32l-2-3 7 81m126 52l-2-115 7-1l2-54-2 54 7 34m105-40l-2 35 7-46m57 33l-2 22 7-46m160 77l-2-2 7 130m84-181l-1 52 6-72m64 59l-2 24 7 34m85 240l-2-253 7 94m43-67l-2-17 7-42m15 100l-1-67 6 78m30-103l-2 37 7 56m57 16l-2-55 7-76m8 26l-1 39 6-47m9 71l-2-17 7 136m9-216l-2 89 7 11"/><path class="h30" d="M3550 646l-2-11 7-5l2-1-2 1 7-32m98 58l-2 1 7-21m57 48l-2-27 7 105m9-14l-2-82 7 162m194-105l-1-30 7 42m29 24l-2-60 7-11m132 43l-1-13 6 36m64 13l-2-40 7-20m57 90l-2-51 7-35m64 110l-2-77 7 0m9-43l-2 46 7-6m15-13l-2 23 7 161m9-127l-2-22 7 18m43-65l-2 51 7-26m92 131l-2-98 7 33m8-65l-2 36 7 15m105 42l-1-31 6-8l2 76-2-76 7 9l2 57-2-57 7 81m57-140l-2 62 7-26m29-33l-1 66 6-29m133-1l-2 45 7-6"/><path class="h31" d="M3605 701l-2-69 7 131m57 126l-2-253 7 121m85-98l-2-6 7 91m187-69l-2 9 7 94m23-51l-2-39 7 76m70-34l-1-31 6 119m9-131l-2 15 7-31m85-41l-2 89 7 97m153-103l-2 31 7 3m9 39l-2-45 7 77m50-126l-2 58 7 4l1 176-1-176 7-27m173 56l-2-10 7 73m154-64l-2 15 7 18m36-59l-2 51 7 37m64 273l-2-294 7 1l1 47-1-47 7-22m15 16l-2 0 7 12m9 163l-2-169"/><path class="h32" d="M3922 801l-2-132 7 132m215 8l-2-112 7 147m36-68l-2-69 7 53m16 43l-2-97 7 103m36-108l-2 10 7 130m160-69l-2-31 7-15m167-5l-2 46 7 75m78-50l-2-10 7 173m36 93l-2-266 7 45m29 9l-2-50 7 84m85-35l-2-35 7 23m15-46l-1 25 6 98"/><path class="h33" d="M3564 771l-2-173 7 89m146-1l-1-66 6 37m85 8l-2-34 7 393m263-283l-2-70 7 124m43-21l-2-87 7 69m91-33l-1-25 7 104m70-46l-2-52 7 216m98-169l-1-24 6 40m16-48l-2 7 7 225m22-161l-1-57 7 49m43-12l-2-30 7 34m105 72l-2-90 7 58m187 16l-2-44 7 54"/><path class="h34" d="M3798 646l-2-33 7 18m979 243l-2-106 7 65"/><path class="h35" d="M3543 618l-1-58 6 75m319 145l-2-163 7 4l2 168-2-168 7 95m579 118l-2-124 7 94"/><path class="h20" d="M3652 664l-2 225 7-110m290-95l-1 265 6-233m408 65l-2 221 7 30l2-121-2 121 7-118m277-54l-2 202 7-242"/><path class="h21" d="M3535 693l-2 151 7-128m201 112l-2 57 7-255m339 140l-2 147 7-193"/><path class="h22" d="M4119 687l-1 215 6-67m305-25l-2 135 7-210m277 92l-2 159 7-157"/><path class="h23" d="M3727 762l-2 62 7-46m133-161l-2 232 7-169m36 66l-2 114 7-168m201 62l-1 119 7 29m256-52l-2 64 7-128m298 29l-2 157 7 2l1-81-1 81 6-164"/><path class="h24" d="M3638 660l-2 112 7-129m15 14l-1 122 7-127m8 105l-2 17 7-84m9-26l-2 111 7-150m16 49l-2 111 7-167m256 81l-2 132 7-88m126 8l-2 85 7-57m43 65l-2 10 7-109m304-35l-1 202 6-37m112-29l-1 70 6-139m250 23l-2 155 7-78"/><path class="h25" d="M3555 630l-2 117 7-92m174 11l-2 112 7 107m16-232l-2 112 7 8l2-29-2 29 7-95m8 31l-1 67 6-161m99 101l-2 79 7-22m15 56l-2-47 7 78m57-63l-2-8 7 42m23-65l-2 28 7-101m132 63l-2 79 7-12l2-80-2 80 7-64m78-61l-2 129 7-39m194-62l-2 155 7-88m30-11l-2 83 7 47m8-108l-2 71 7-95m64 58l-2 64 7-111m250 42l-2 94 7-68m70-41l-2 116 7-87"/><path class="h26" d="M3542 560l-2 156 7-26m70-2l-2 45 7-100m215 99l-2 18 7-25m16 196l-2-154 7 82m22-152l-1 76 7-28m153 94l-2-49 7 3l2-94-2 94 7-137m22 139l-2-9 7 131m105-157l-2 50 7-15m50-84l-2 106 7-15m9-15l-2 25 7-13m43-55l-2 83 7-126m78 53l-2 90 7 8l2-125-2 125 7-29m105-16l-2 46 7-60m8 0l-2 60 7-46m85 7l-2 68 7-39m15-47l-1 76 6-38m9 52l-2-9 7 185m16-280l-2 106 7-117m29 37l-2 85 7-47m43 24l-2 20 7-45m71 15l-2 48 7 47m50-131l-2 81"/><path class="h27" d="M3548 635l-1 55 6 57m44-53l-2 15 7-50m249 67l-2 20 7 21m36 11l-1-33 6 37m119-67l-2 45 7-16m9 4l-2 25 7 1l2 4-2-4 7 16m29-119l-2 100 7 15m30-68l-2 61 7 94m84-121l-2 43 7-73m23 80l-2-14 7-4m22 57l-2-39 7 10m9 5l-2-18 7-48m15 41l-1 13 6-26m37-38l-2 59 7-9m70-24l-1 56 6-3l2-79-2 79 7 61m64-21l-2-17 7-60m112 120l-2-61 7-43m208 177l-2-100 7-5"/><path class="h28" d="M3679 691l-2-1 7 85m16 22l-2-98 7 86m91-172l-2 92 7-13m43 134l-2-101 7 21m92-11l-2-9 7 223m29-261l-2 55 7-22m29 61l-2-50 7 28m9-46l-2 30 7 29m112-76l-2 62 7 95m16-38l-2-52 7-28m15-29l-2 67 7 36m43 112l-1-138 6-77m57-3l-2 75 7-11m23-21l-2 50 7 3m9 18l-2-27 7-57m84 217l-2-158 7 152m71-171l-2 47 7 32m63-80l-1 54 7 89m43-8l-2-65 7-63m15 25l-2 29 7 43m64-95l-2 64 7 140m29-200l-1 56 6 48m9-48l-2 3 7-59m16 58l-2 18 7 4l2-98-2 98 7 61m8-141l-1 73 7-21m15 11l-2 22 7 37m16-85l-2 54 7-15l2-38-2 38 7 2l2-62-2 62 7-26"/><path class="h29" d="M3562 598l-2 57 7-23m9 159l-2-139 7-23m22 3l-1 27 6-18m23 62l-2-43 7 112m133-87l-2-7 7 98m15-49l-2-44 7 22m9-74l-2 61 7-16m146 102l-2-62 7 73m23-25l-2-43 7 73m15-19l-1-60 6 17m147-13l-2 26 7 19m139 156l-2-152 7 59m50-64l-2 6 7 233m23-252l-2 36 7 58m105-104l-2 54 7 27m15-43l-1 15 6 60m9-26l-2-20 7 95m16 114l-2-210 7-19m36 55l-2-27 7 27m64-18l-2-4 7 68m57-5l-2-54 7 6l2-38-2 38 7-24m70 29l-1-2 6 38m64-46l-2 17 7 58"/><path class="h30" d="M3590 752l-2-107 7 64m15 54l-2-122 7 92m50-97l-1 16 6 122m50-117l-1 12 6 155m85 200l-2-348 7 5l2 141-2-141 7-52m50-8l-2 59 7 115m36-57l-2-46 7-39m146 49l-2 14 7 55m23 132l-2-179 7 112m71-12l-2-88 7-9l1 0-1 0 6 47m30 35l-2-68 7 86m57 54l-2-130 7-2l2 86-2-86 7 56m187 105l-2-130 7 63m9 5l-2-65 7 11m50 112l-2-115 7 15m9 37l-2-56 7-10m43-21l-2 43 7 83m84-22l-2-50 7 83m37-78l-2-4 7 31m118 58l-1-62 6 96"/><path class="h31" d="M3569 687l-2-55 7 20m9 26l-2-49 7 16m36 18l-2-30 7 27m16 30l-2-47 7 246m277-88l-2-127 7 9l2 10-2-10 7 43m57 78l-2-111 7 22m201-9l-2 16 7 19m353 148l-2-112 7 50m15-60l-2 10 7 38m37-11l-2-24 7 92m139-65l-2 4 7 51"/><path class="h32" d="M3693 687l-2-62 7 74m538 47l-2-39 7 110m98-66l-1-17 7-3l1 181-1-181 6 38m92-36l-2 16 7 116"/><path class="h33" d="M3714 620l-2-2 7 51m29 132l-2-171 7 135m77-77l-1-44 6 106m85-81l-2-16 7 21m511 195l-2-134 7 14m229 206l-2-184 7 201m84-109l-2-77 7 25"/><path class="h34" d="M3782 731l-2-116 7 68m37 14l-2-68 7 15m228 174l-1-162 6 60m250 28l-2-43 7 96"/><path class="h20" d="M3533 844l-2 34 7-216m9 28l-2 218 7-176m710 67l-2 223 7-175"/><path class="h21" d="M3787 683l-1 193 6-25m621 30l-2 114 7-228"/><path class="h22" d="M3794 705l-2 146 7-32m78-24l-2 73 7-37m504 13l-2 106 7-155m50-46l-2 212 7-148m36-30l-2 175 7-143m387 90l-2 119"/><path class="h23" d="M3677 690l-2 129 7-97m215 60l-1 65 6-40m85-13l-2 59 7-71m70-66l-1 149 7-164m132 21l-2 170 7-91m153 201l-2-77 7-11l2 118-2-118 7-92m174-16l-2 143 7-47m208-116l-2 193 7-118"/><path class="h24" d="M3774 776l-2 36 7-104m22-16l-2 127 7-2l2-141-2 141 7-128m22 61l-1 59 7-83m22 123l-2-24 7-133m16 81l-2 58 7-118m284 14l-2 143 7-153m256 18l-2 154 7 72m16-49l-2-9 7-134m235 124l-1 42 6-14"/><path class="h25" d="M3553 747l-1-15 7-56m36 33l-2 33 7-85m153 108l-2 14 7-80m146 161l-2-53 7-77m16-56l-2 110 7-80m50 17l-2 98 7 34m16-138l-2 98 7-88m43 68l-2 35 7-11l2-161-2 161 7 48m29-141l-2 90 7 4l2 18-2-18 7-45m84 37l-2 19 7-41m78-37l-2 96 7-97m36-49l-2 168 7-130m64 47l-2 77 7 87m91-107l-2 43 7 72m71-171l-2 115 7-102m84 77l-2 17 7-86m37 166l-2-50 7-71m15-7l-2 75 7-20m43-56l-1 67 6 67"/><path class="h26" d="M3615 733l-1-12 6-27m16 78l-2-48 7-98m16 153l-2-51 7-27m70 77l-2-23 7-46m9-79l-2 115 7 34m167-126l-2 117 7 14m16-58l-2 57 7-6l2 172-2-172 7-1l1-60-1 60 6-32m9 87l-2-48 7-27m23-63l-2 89 7 31m22-69l-2 39 7-71m57 205l-2-123 7 20m57 40l-2-42 7-68m16-8l-2 72 7 62m235-50l-1 25 6 150m92-142l-2 10 7-34m70-52l-1 106 6-74m50 25l-1 40 6 20m16-74l-2 65 7-21m50 122l-2-85 7-43m71 69l-2-25 7-82m9 18l-2 78 7-54m15 46l-2 2 7-41"/><path class="h27" d="M3574 652l-2 42 7-23m29-30l-1 69 7 11m36 168l-2-185 7 24m9-76l-2 49 7-15m15 89l-2-53 7-89m9 66l-2 17 7-51m9-47l-2 91 7-30m8 145l-1-106 6 37m37-77l-2 51 7 83m57-168l-2 82 7 83m15-63l-2-16 7-60m119 73l-2 13 7 63m57-45l-2-7 7-50m64 62l-2-6 7-10m22 60l-2-47 7-31m57 50l-2-7 7 104m9-151l-2 60 7-16l2 42-2-42 7 19l2-16-2 16 7 4l2-24-2 24 7-5l1-96-1 96 7-37m43 39l-2-2 7-79m84 190l-2-92 7 41m23-40l-2-6 7 28m22 100l-2-109 7 53m105-98l-2 43 7 115m30-33l-2-56 7 23m43-103l-2 86 7-23m36 45l-2-24 7 7l2-100-2 100 7-60m50 24l-2 39 7-11l2-52-2 52 7 2l2-23-2 23 7-19m70 25l-2 18 7 21m50-63l-2 57 7 120"/><path class="h28" d="M3540 716l-2-54 7 246m15-253l-1 21 6-36m16-11l-2 42 7-22m36-16l-2 61 7-48m43 128l-1-88 6 133m64 66l-2-176 7 36m16 28l-2-74 7 30m15-114l-1 93 7 168m36-247l-2 81 7 16m15-1l-1 1 6 4m44 15l-2-32 7 134m15-155l-2 38 7 40m43 19l-2-45 7 39m147 90l-2-110 7-23m43 24l-2 4 7 40m132-40l-1 20 6-1l2 40-2-40 7 82m16-69l-2-15 7-40m64 107l-2-57 7 22m50 48l-2-52 7 90m15-123l-1 38 6 68m16-92l-2 21 7 6l2 0-2 0 7 42m9-70l-2 36 7-17l1 41-1-41 7-21m84 91l-2-57 7 1l2 17-2-17 7 40m9 6l-2-29 7 31m56-64l-1 43 7 82m22-106l-2 29 7 16m22 16l-1-44 7 66m15-101l-2 50 7-50m9 55l-2 3 7 33m22-26l-1-14 6 27m16 66l-2-86 7-16m9 9l-2 10 7-6l2-2-2 2 7-54m8 122l-1-53 6 23"/><path class="h29" d="M3602 659l-2-2 7 53m112-41l-2 10 7 39m91-37l-2 8 7 21m112-27l-2 21 7 79m70-51l-1-7 7-17m63 78l-2-48 7 56m37 108l-2-162 7 4l1 91-1-91 6 32m9-17l-2-14 7 67m9-67l-2-1 7 24m84 49l-1-51 6-35m9 81l-2-56 7 266m298-245l-2 23 7-11m22 26l-2-6 7-10m243 78l-2-24 7 19"/><path class="h30" d="M3567 632l-2 8 7 54m16-49l-2 4 7 93m36-82l-2-14 7 78m71 61l-2-120 7 44m160-29l-2 12 7 176m139-108l-1-52 6 75m9-10l-2-61 7 55m9 23l-2-73 7 111m229-79l-2 1 7 53m64-72l-2 24 7-17m70 55l-2-26 7 69m98-29l-1-16 6-3l2 114-2-114 7 46m30-7l-2-38 7 71m22-18l-2-43 7-21m50 284l-2-254 7 77m23 87l-2-161 7 113"/><path class="h31" d="M3856 767l-2-97 7 155m208-54l-1-70 6 37m105 36l-1-57 6 112m64-27l-2-71 7 25m64 41l-2-58 7 46m9 6l-2-46 7 6l2-17-2 17 7 4m118 120l-1-106 7 49m132-19l-2-21 7 47m167 37l-2-51 7 58m16-10l-2-39 7 96"/><path class="h32" d="M3643 643l-2-17 7 78m43-79l-2 8 7 83m593 63l-1-55 7 64m56-19l-1-31 6 187m498-87l-2-26 7 69"/><path class="h19" d="M3600 657l-2 335 7-320m476 122l-2 258 7-311m442 47l-1 290 6-249"/><path class="h20" d="M4068 701l-2 296 7-38l1-221-1 221 6 93m381-283l-2 266 7-216"/><path class="h21" d="M3682 722l-2 156 7-97m50-72l-1 160 6-108m436-44l-2 227 7-185m263 54l-2 182 7-74"/><path class="h22" d="M3586 649l-2 187 7-118m353 59l-2 112 7-80m284-6l-2 122 7-165m91-15l-2 200 7-53m360 43l-2 60 7-145m36 15l-2 141 7-83"/><path class="h23" d="M3641 626l-2 188 7-45m133-61l-2 133 7-46m50 14l-2 19 7-64m22 61l-2 16 7-119m71 61l-2 68 7 38m208-145l-2 138 7-14m153 1l-2 55 7-127m85 20l-2 96 7-103m311 48l-2 125 7-161"/><path class="h24" d="M3531 878l-2-102 7-42m84-40l-1 91 6-33m37-51l-2 77 7-143m22-2l-2 148 7-95m64 13l-2 115 7-50m23 112l-2-81 7-24m15 46l-2-12 7-92m36 17l-1 80 6-16m37-81l-2 118 7-5l2 21-2-21 7-111m8 15l-2 96 7-88m64 81l-2 15 7-3l2 22-2-22 7 8l2-57-2 57 7-130m160 59l-2 100 7-105m133 25l-2 92 7-78m36-51l-2 141 7-92m112 103l-2 18 7 114m36-214l-2 93 7-151m16 49l-2 105 7-12l2-114-2 114 7 173m15-129l-2-30 7-111m9-8l-2 127 7-75m71 22l-2 55 7-81m70 53l-2 49 7 33m16-120l-2 79 7 64"/><path class="h25" d="M3538 662l-2 72 7-100m16 42l-2 74 7-86m63-18l-2 106 7 14l2-42-2 42 7 48m9-110l-2 65 7-71m57 11l-2 51 7-34m29 19l-2 16 7-66m16 34l-2 35 7 17l2 31-2-31 7 60m15 10l-1-80 6-59m30 14l-2 48 7 54m22-158l-2 124 7 47m92-65l-2 33 7-156m15 103l-2 54 7 24m57-67l-2 49 7-54m57 56l-2-5 7-39m16-34l-2 97 7-48m77 103l-2-52 7-130m16 94l-2 48 7-32m64-96l-2 121 7 35m132-44l-2 37 7-102m78 58l-2 53 7 35m91-92l-2 86 7-28m50-19l-2 37 7-57m78 2l-2 77 7-63m57 2l-2 70 7-99m22 20l-2 95 7-54m23-13l-2 64 7-121"/><path class="h26" d="M3552 732l-2-9 7 27m36-8l-2-24 7 274m105-327l-2 80 7 15m112-50l-2 46 7 18m16-48l-2 38 7 46m84-106l-2 73 7 74m84-68l-1 17 6-58m23 86l-2-43 7-33m57 11l-2 45 7 29m77-49l-1 20 6 32m16-55l-2 44 7 23m9-44l-2 12 7 105m22-169l-2 67 7-6l2 205-2-205 7-21m119 154l-2-97 7-58m22 200l-1-138 7-110m56 139l-1-35 6 2l2 105-2-105 7-16m98-28l-1 64 6-24m23-23l-2 57 7-46m167 65l-2 3 7-72"/><path class="h27" d="M3717 679l-2 47 7-24m8 53l-1-26 7 140m139-1l-2-118 7-37m43 71l-2-28 7 21m112-60l-2 45 7 23m57-12l-2 1 7 34m16-64l-2 45 7-69m8 25l-2 40 7-20m30 105l-2-82 7 156m70-213l-1 62 6 30m16 24l-2-51 7-91m29 82l-1 15 6 122m16-139l-2 38 7 122m23-207l-2 82 7-48m8 142l-2-95 7-9l2 12-2-12 7 0m112 5l-2 22 7 77m71-125l-2 63 7 6l2 2-2-2 7-80m15 21l-2 50 7-3l2-68-2 68 7 65m23-68l-2 21 7 65m43-118l-2 49 7 3l2 61-2-61 7-21m84-31l-2 78 7-87m64 70l-2 22 7-47m9-35l-2 72 7 61"/><path class="h28" d="M3572 694l-2-19 7-4l2 0-2 0 7 165m23-126l-2-38 7-1m43 57l-2-30 7 80m15 41l-1-134 6 193m16-162l-2-30 7 59m23-27l-2-16 7 27m22 50l-2-84 7 119m43 5l-2-107 7 93m9-116l-2 24 7 43m50-64l-2 30 7 28m43 20l-2-32 7 18m43 27l-1-45 6 72m37-85l-2 12 7-49m15 24l-2 30 7 74m23 1l-2-65 7-42m84 102l-2-47 7 117m16-74l-2-45 7 25m112 15l-2-14 7 56m29-106l-2 58 7 26m23-68l-2 45 7 20m29 43l-2-53 7 43m9-58l-2 0 7 118m9-68l-2-35 7 47m57-39l-2 1 7 32m63-17l-2-5 7 90m78-53l-2-29 7 27m15 30l-1-46 7-17l1-23-1 23 6-24m16 64l-2-27 7 16m16-7l-2-11 7 153m8-74l-1-71 6 100m44-38l-2-52 7-37m43 93l-2-45 7 61m22-63l-2-9 7 88m43 76l-1-152"/><path class="h29" d="M3565 640l-1 24 6 11m44 46l-2-50 7 114m263 46l-2-118 7 118m15-24l-1-92 6 111m181-12l-2-73 7 72m91 16l-1-70 7 49m50-42l-2-6 7 33m111 132l-1-153 6 47m188 83l-2-94 7 119m263-17l-2-59 7 9m23 6l-2-19 7 37"/><path class="h30" d="M3545 908l-2-274 7 89m449 90l-2-104 7 28m428 152l-2-118 7-15m215 129l-2-78 7 94m64-27l-2-52 7 120m29 37l-1-156 6-6m30 3l-2 13 7 38m15 18l-1-56 6 18"/><path class="h31" d="M4061 865l-2-155 7 287m63-221l-1-56 6 65m305 176l-2-205 7 239m133-112l-2-105 7 95m180-12l-2-44 7 72m98 15l-1-80 7 48"/><path class="h32" d="M3669 686l-2-51 7 50m339 23l-2-20 7 112m187 1l-2-91 7 119m208-62l-1-20 6 126m78-10l-2-100 7 119m270-13l-2-67 7 103"/><path class="h33" d="M4274 750l-2-45 7 84"/><path class="h34" d="M3957 744l-1-91 7 85"/><path class="h19" d="M4485 837l-2 242 7-255"/><path class="h20" d="M3832 828l-2 108 7-120m442-27l-2 241 7-286"/><path class="h21" d="M3612 671l-2 190 7-182m194 34l-2 173 7-103m50-61l-2 187 7-98m92-73l-2 165 7-91m91-102l-2 232 7-144m401 21l-2 164 7-229m36 128l-2 134 7-120m119 33l-2 90 7-96m9-92l-2 177 7-137"/><path class="h22" d="M3701 745l-2 108 7-75m30 91l-2-8 7-100m84 13l-2 88 7 74m84-198l-1 137 6-137m271 70l-2 106 7-154m125 63l-2 111 7-95m367 156l-2 10 7-83m105 10l-2 91 7-169m50 91l-2 85 7-101"/><path class="h23" d="M3564 664l-2 138 7-104m36-26l-2 147 7 42m22-95l-1 36 6-100m30-67l-2 173 7-28m22-94l-2 128 7 39m16-127l-2 104 7-97m139 108l-1 5 6 63m23-78l-2 23 7-103m146 11l-2 123 7-31m71-17l-2 58 7-133m236 10l-2 150 7-91m139-68l-2 168 7 85m236-93l-2 64 7-101m15-69l-1 171 7-70m63 30l-2 38 7-117"/><path class="h24" d="M3536 734l-2 24 7-58m16 50l-2 36 7 16m15-131l-2 117 7-74m92-29l-2 95 7-30m160 14l-2 52 7-83m8 61l-1 28 7 24m15-96l-2 61 7-24m29 39l-1-12 7 61m36-66l-2 11 7-85m70 7l-1 113 6-46m16-24l-2 69 7-100m29 298l-1-199 7-118m56 30l-1 93 6-126m9 136l-2 0 7-6l2-99-2 99 7-35m91-10l-2 54 7-11m9-155l-2 174 7 151m23-228l-2 87 7-93m29 96l-2-2 7-71m36-9l-2 77 7-2l2-32-2 32 7-71m9 99l-2-6 7 8l2-105-2 105 7-88m36 168l-2-79 7-96m71 85l-2 5 7-90m43 38l-2 57 7-66m9 24l-2 42 7-25m77-46l-2 103 7-10l2-77-2 77 7-32"/><path class="h25" d="M3598 992l-2-251 7 78m77 59l-1-128 7-77m22 87l-2 18 7 52m16-101l-2 42 7 90m8-100l-1 0 6 12l2-78-2 78 7-7l2 48-2-48 7 21l2-23-2 23 7-51m9 105l-2-74 7-62m36 51l-2 27 7 79m57-149l-2 74 7 67m16-139l-2 75 7 24m63-4l-1 2 6-48m9 67l-2-33 7-41m9-48l-2 114 7-115m16 92l-2 25 7 30m8-39l-2-7 7 76m37 74l-2-122 7 16m29-45l-2 27 7 60m57-107l-2 39 7 23l2 94-2-94 7-32m22-108l-2 131 7-57m57 12l-2 64 7 19m160-108l-2 120 7-93m78 119l-2-21 7 14m29-102l-2 92 7-101m36 50l-1 41 7 20l1-64-1 64 6-96m37 34l-2 75 7 85m36-145l-2 42 7-10m16-45l-2 72 7 11l1 17-1-17 6-124m9 13l-2 97 7-72m43 42l-1 29 6-66"/><path class="h26" d="M3584 836l-2-122 7 16l2-12-2 12 7 11m195 30l-2-22 7-5m215-56l-2 93 7 44m50 172l-2-199 7 39m22-24l-2-5 7-7l2-27-2 27 7 34m78-76l-2 59 7 96m125-117l-1 40 6 97m9 11l-2-106 7 51m36-80l-1 29 6 48m160-58l-1 34 7 14l1 42-1-42 6 23m112 1l-2-18 7 64m23-105l-2 53 7 110m174-181l-2 105 7-94"/><path class="h27" d="M3529 776l-2-87 7 69m9-124l-2 66 7-8l2 31-2-31 7 94m15-111l-1 23 6 90m50-36l-1-48 7 98m8 12l-2-112 7 13l2 54-2-54 7-62m9 125l-2-70 7 100m57-106l-2 31 7 38m43 10l-2-45 7 31m22-55l-1 32 6-30m44 96l-2-77 7 89m43 4l-2-75 7 39m43 99l-2-125 7 56m29 14l-2-70 7 34m9 41l-2-82 7 66m133-103l-2 74 7-30m84 88l-2-45 7-35m23 21l-2 18 7-3l1 15-1-15 6 63m85-71l-2 19 7-58m15 58l-1 12 7 8m43 18l-2-30 7-25m8 71l-1-34 6 52m30 144l-2-202 7 150m15-130l-1-16 6 242m78-227l-2-11 7 74m9-137l-2 71 7 66m36-78l-2 14 7 7l2 6-2-6 7 161m22-212l-1 64 6 12m78 123l-2-134 7 115m9-127l-2 26 7-8l2-55-2 55 7 110m36-117l-2 23 7 129m15-172l-1 50 7-50"/><path class="h28" d="M3619 785l-2-106 7 25m160 91l-2-90 7 44m15 56l-2-91 7 172m112-130l-2-18 7-23m9 136l-2-115 7 28m16-111l-2 82 7 168m91-151l-2 2 7 188m64-153l-2-27 7 32m8-9l-1-21 7 94m70-29l-2-45 7 23m9 13l-2-48 7-9m9-3l-2 31 7 20m50 69l-2-87 7 96m8 35l-1-128 7 41m77-42l-2 19 7 93m23-160l-2 55 7 37m29 82l-2-101 7 13m36 81l-2-90 7 107m30 147l-2-258 7 43m77 20l-2-45 7 13m112 91l-2-95 7 25m43-70l-2 50 7 20l2 33-2-33 7-46m50 68l-2-25 7 1l2-23-2 23 7-7"/><path class="h29" d="M3687 781l-1-108 6 141m236-37l-2-62 7 21m153 5l-1-6 6 73m105 32l-1-80 6 81m30 84l-2-162 7 28m201-35l-2 42 7 118m160-5l-2-97 7 24m202-5l-2 21 7 47m8-41l-1-9 6 135m23-102l-2-21 7 167"/><path class="h30" d="M3653 698l-2-45 7 55m346 29l-2-29 7 73m139 101l-2-150 7 136m195-48l-2-59 7 161m201 5l-2-128 7 42m229-8l-2-7 7 68"/><path class="h31" d="M4286 845l-2-101 7 49m421 190l-2-174 7 110m154-47l-2-37"/><path class="h32" d="M4472 851l-2-97 7 83"/><path class="h18" d="M4422 839l-2 309 7-233"/><path class="h20" d="M3624 704l-2 190 7-98m15-81l-2 205 7-244m50 177l-2 81 7-168m209 109l-2 64 7-208m125 123l-2 100 7-193m759 93l-2 216 7-140"/><path class="h21" d="M3603 819l-2 40 7-175m477 51l-2 219 7-24l1-122-1 122 6-117m181 217l-2-77 7-173m215 151l-2 71 7-147m16 55l-2 88 7-179m105 200l-2 5 7-198m71 107l-2 113 7-48"/><path class="h22" d="M3582 714l-1 124 6-72m140 5l-2 93 7-91m22-7l-2 100 7-38m43-114l-1 149 7-4l1 27-1-27 6-149m160 54l-1 120 6-152m167 0l-1 188 6-37m57-99l-2 138 7-106m188 99l-2 29 7-109m71 2l-2 145 7-97m228-76l-1 189 7-125m50 45l-2 89 7-154"/><path class="h23" d="M3720 733l-2 90 7 41m36-77l-2 41 7 6l2-98-2 98 7 0l2-67-2 67 7-47m50 149l-2-81 7-117m29 171l-1-52 6-56m64-65l-2 121 7-58m57 24l-2 32 7-46m36 76l-1-16 6 85m16-12l-2-65 7-49m50 67l-2 3 7-80m36 50l-2 15 7-80m37-43l-2 129 7-97m98 97l-2 22 7-78m132-35l-2 128 7-60m23 117l-2-53 7-29m77-1l-1 41 6-67m16 41l-2 33 7-23m119 80l-2-36 7-91"/><path class="h24" d="M3527 689l-2 84 7-61m16-20l-2 92 7 0l2 2-2-2 7-102m9 16l-2 80 7-90m15 42l-2 36 7-82m37 118l-2-6 7-89m56 107l-1-10 6 130m147-201l-2 73 7-65m9 105l-2-35 7 46m318-39l-2 63 7-63m57-7l-2 60 7-41m15 30l-1 26 6-113m85 149l-2-34 7-38m29-36l-2 78 7 17l2-2-2 2 7 35m29-53l-1 24 6 11m16-106l-2 90 7-12l2-65-2 65 7 32m9-176l-2 147 7 81m15-158l-1 85 6 93m78-153l-2 76 7-52m91 64l-2 19 7-79m57-5l-2 74 7-82"/><path class="h25" d="M3617 679l-2 79 7 136m36-186l-2 59 7-102m43 113l-2-12 7 18l2 46-2-46 7 39m16 38l-2-88 7-21m8 21l-1-1 6 94m30-161l-2 82 7-39m9-4l-2 35 7 84m70-52l-2-10 7-33m9 86l-2-48 7-31m50-11l-2 35 7-55m16 159l-2-91 7-2l2 2-2-2 7 74m29-176l-2 101 7-38m9 54l-2-21 7 9l2 42-2-42 7-18m36 3l-2 30 7-20m36 27l-2-2 7 65m23-134l-2 80 7-67m36 73l-2-15 7 46m50-118l-2 89 7-18m22 37l-1-20 7 35m50-49l-2 29 7-7l1 75-1-75 6-62m23-36l-2 96 7 31m132 191l-1-194 7 24m43-46l-2 41 7-46m63-44l-1 87 6 11l2-74-2 74 7-19m37-22l-2 40 7-83m132-2l-2 97 7-20m23-2l-2 29 7-63m36 163l-2-93 7-20"/><path class="h26" d="M3534 758l-2-46 7-24m133 92l-2-33 7 4l2-1-2 1 7 0l2-78-2 78 7 53m50-43l-2-9 7 20m43-23l-2-1 7 31m29 83l-2-94 7 87m50-68l-2-19 7 38m9-55l-2 24 7-3l2 18-2-18 7 14l2 28-2-28 7 153m43-204l-2 41 7 36m70-3l-1-14 7 74m36-32l-2-29 7-30m22 23l-2 12 7 20m16-71l-2 56 7-5l2-19-2 19 7 31m29 18l-2-59 7 2l2 22-2-22 7 30m16 79l-2-96 7 71m22-82l-2 9 7-40m16 15l-2 43 7 37m9-63l-2 22 7 21m50-55l-2 37 7 33m50-35l-2 19 7-37m77 103l-2-50 7 44m105-111l-2 75 7-26m23 67l-2-42 7-16m29-6l-2 42 7-73m43 127l-2-51 7 60m112-84l-2 40 7 11m9-29l-2 9 7-6m64 32l-2-12 7-40"/><path class="h27" d="M3541 700l-2-12 7 96m91-82l-1 5 6 213m195-104l-2-78 7 68m9 16l-2-81 7 70m70-96l-2 36 7 106m57-100l-2 3 7 95m16-74l-2-10 7 33m64 49l-2-75 7 176m118-113l-1-49 6 130m85-129l-2 22 7 96m36-21l-2-61 7-29m43 85l-2-52 7 59m23-65l-2 8 7-25m91 206l-2-161 7-8l2 49-2-49 7 151m23-121l-2-19 7 83m15-100l-2 7 7 100m23-58l-2-33 7 9l2 44-2-44 7 35m77 4l-2-28 7-45m16 90l-2-44 7 168m15-127l-1-46 6-12m78 162l-2-126 7 173m36-200l-2 36 7 2l2-45-2 45 7 29"/><path class="h28" d="M3562 802l-2-120 7 96m8 10l-1-100 7 150m15-97l-2-57 7 175m9 2l-2-177 7 74m201 25l-2-73 7 58m98-30l-1-7 6 20m23 69l-2-76 7 32m98-22l-2 7 7 116m85-19l-2-81 7 143m77-148l-2 4 7 76m57-108l-2 36 7 35m36 24l-2-42 7 32m9-10l-2-19 7 57m23-18l-2-26 7-7l1 81-1-81 6 27m37-31l-2 8 7 338m105-328l-2-1 7 85m112 104l-2-155 7 58m77-64l-2 14 7 85m9 41l-2-123 7-3l2 25-2-25 7 0l2 17-2-17 7-14m64 4l-2 16 7-49m43 17l-2 42"/><path class="h29" d="M3651 653l-2 23 7 91m325 31l-2-66 7 28m284 119l-2-106 7 180m346-95l-2-38 7 204m9-101l-2-97 7 27m15 30l-1-55 6 68m23-1l-2-63 7 137m71 19l-2-141 7 160m8-155l-1 1 6 59m57-43l-2-17 7 54"/><path class="h30" d="M3665 808l-2-143 7 82"/><path class="h31" d="M4827 986l-1-168 6 34"/><path class="h18" d="M4151 883l-1 234 7-245"/><path class="h19" d="M3759 828l-1 145 6-175m1013 114l-1 247 6-202"/><path class="h20" d="M3615 758l-2 154 7-194m373 137l-2 124 7-89m23-77l-2 161 7-150"/><path class="h21" d="M3663 665l-2 217 7-26m311-124l-1 196 7-116m77 16l-2 104 7-145m160 65l-2 130 7-77m236-4l-2 88 7-148m16 68l-2 99 7-80m70 20l-2 50 7-89"/><path class="h22" d="M3670 747l-2 109 7-76m77 86l-1-4 7 111m77-235l-2 130 7-114m160 55l-2 81 7-120m78 184l-2-37 7-38m462-5l-1 109 6-26m30-100l-2 122 7-108m132-10l-1 145 6-83m92-56l-2 168 7-44"/><path class="h23" d="M3608 684l-2 119 7 109m23-205l-2 104 7-63m43 3l-2 74 7-11l2-10-2 10 7 20l1 100-1-100 7-7l1-61-1 61 6-102m16 139l-2-23 7-8l2-60-2 60 7-55m9-6l-2 68 7 22m57-3l-2-7 7-29m84-51l-2 91 7-83m16-49l-2 141 7-6l1-115-1 115 7-130m8 63l-2 54 7-80m9 3l-2 77 7-73m57 24l-2 67 7 103m22-20l-1-85 6-94m44 155l-2-51 7-81m77 37l-2 60 7-53m23-50l-2 103 7-81m29 20l-2 71 7-10l2-24-2 24 7-64m84-2l-2 99 7-101m23 23l-2 67 7-12m9-99l-2 116 7-98m153 80l-2 51 7-66m22-41l-2 109 7 41m50-105l-1 68 6-103m119 6l-2 127 7-151m50 63l-2 94 7-43m30-136l-2 173 7 7l1-146-1 146 7-38"/><path class="h24" d="M3525 773l-1-9 7-20m8-56l-2 97 7-26m43 7l-1 12 6 12l2-106-2 106 7-8l2 77-2-77 7 21m160 31l-2-36 7-26m30 91l-2-39 7 28m8-142l-1 113 6-54m9 86l-2-41 7 54m30-11l-2-39 7-75m8 25l-2 55 7-26m30 142l-2-112 7 45m50-62l-2 20 7-25m64 64l-2-28 7 28m36-91l-2 70 7 69m77-114l-1 69 6-43m50-13l-1 58 6-44m37 21l-2 18 7 21l2-4-2 4 7-58m8 121l-2-78 7-34m37 18l-2 42 7-69m43-19l-2 92 7 17m15-30l-1 17 6-103m43 120l-1-29 7-37m15 38l-2 10 7-43m36 137l-1-74 6-19l2-54-2 54 7-46m16-44l-2 104 7 32m16-14l-2-7 7 49m29-110l-2 62 7 44m16-78l-2 35 7-14m91-44l-2 77 7-65m84 33l-2 34 7 40m9-100l-2 57 7 23l2 93-2-93 7-98m29 27l-1 54 6-20m16-23l-2 67 7-90"/><path class="h25" d="M3532 712l-1 32 6 41m9-1l-2-25 7-37m9-40l-2 79 7-34m9-39l-2 50 7 0m50 58l-2-29 7 44m8 109l-1-172 6 15l2-87-2 87 7-6l2 10-2-10 7 125m16-131l-2 29 7 45m36-2l-2-46 7 64m16-89l-2 26 7 62m29-6l-2-62 7-18m71-13l-2 48 7-87m29 104l-2-9 7-20m85 107l-2-79 7 123m8-168l-1 52 6 167m37-184l-2 29 7 17m22 36l-2-61 7 116m43-99l-2 6 7-23m30-39l-2 52 7 11l2 80-2-80 7 277m15-312l-2 24 7 66m9-14l-2-39 7-48m9 95l-2-53 7 59m98 16l-2-41 7-46m9 42l-2-5 7 40m29-44l-2 15 7-76m57 39l-2 43 7-37m9 307l-2-258 7-39m22 59l-2-27 7 25m64 90l-2-99 7 24m16-65l-2 31 7 45m29-9l-2-16 7 26m29-23l-1 10 7 39m29-108l-2 52 7 22l2-16-2 16 7-49m64-5l-2 42 7 91m8-60l-2-23 7 68m37-138l-2 88 7 218m70-251l-2 32 7-1l2-2-2 2 7 45"/><path class="h26" d="M3553 784l-2-62 7 39m9 17l-2-51 7 11m9 100l-2-100 7 40m194 9l-2-33 7-3l2-3-2 3 7 11l2 17-2-17 7 62m22-56l-2 1 7 45m64-39l-2 2 7 86m9-77l-2-6 7 47m36-83l-2 29 7 80m9-41l-2-32 7 50m132-17l-1-15 6 41m9 59l-2-82 7-45m9 42l-2 2 7-2l2 31-2-31 7 16m70 93l-1-108 7 60m8-98l-2 54 7 152m23-152l-2 1 7 38m15-96l-1 59 6 43m9-95l-2 61 7-14l2-12-2 12 7 43m29-73l-1 35 6 96m99-13l-2-64 7 46m8-31l-1-6 6 23m16 47l-2-65 7 124m16-104l-2-29 7 152m22-161l-2 16 7 36m112 125l-2-141 7-13m29 26l-1 1 7-16m36 165l-2-156 7 4l2 104-2-104 7 21m36-54l-2 45 7-35"/><path class="h27" d="M3622 894l-2-176 7 49m84 17l-2-59 7 52m126 29l-2-52 7 35m22 12l-1-58 6 80m133-52l-2-1 7 101m36-110l-2 14 7 41m16-8l-2-21 7 61m112-30l-2-24 7 42m112-3l-2-9 7 37m29-61l-2 27 7 45m36-39l-1-9 7 85m29-99l-2 31 7 49m57 92l-2-141 7 15m112 10l-2 5 7 65m22-116l-2 38 7 25m9-57l-2 44 7 35m16-77l-2 50 7 19m8 59l-1-75 6-67m195 63l-2 17"/><path class="h28" d="M3931 857l-1-121 6 117m181-35l-2-47 7 44m229 73l-2-92 7 121m36-8l-2-103 7 2l2 136-2-136 7 70m277-46l-2 26 7 3l2 108-2-108 7 94m64-108l-2 24 7-32m50 91l-2-51 7 156"/><path class="h29" d="M3856 811l-2-109 7 116m882 43l-2-21 7 66m16 101l-2-168 7 102"/><path class="h30" d="M4674 877l-2-63 7 44"/><path class="h18" d="M4755 871l-2 333 7-316"/><path class="h20" d="M3558 761l-2 165 7-156m112 10l-2 145 7 3l2-103-2 103 7-111m201-40l-2 177 7-53m43-48l-1 129 6-181m140 116l-2 73 7-254m146 169l-2 134 7-180m374 102l-2 87 7-185m36 15l-2 211 7-196"/><path class="h21" d="M3703 827l-2 42 7-71m146-96l-2 203 7-22m36-20l-2 38 7 15l2-136-2 136 7-109m16 59l-2 53 7-199m91 254l-2-26 7-90m119-18l-2 102 7-84m119-26l-2 132 7-146m167 42l-2 150 7-103m50 21l-2 67 7-154m139 64l-2 112 7-67"/><path class="h22" d="M3572 738l-2 85 7-53m15 20l-1 60 6-89m16 151l-2-71 7-27m112 19l-2 14 7-74m98 95l-2-4 7 7l2-117-2 117 7-52m16-1l-2 65 7-48m91-55l-2 116 7-8l2-58-2 58 7-25m16-51l-2 82 7-83m187 31l-2 79 7-48m23-59l-2 111 7-37m146 29l-2 32 7-119m91 78l-2 53 7-65m98 61l-1 24 7-35m153-31l-2 98 7-113m91-21l-2 134 7-110"/><path class="h23" d="M3620 718l-2 96 7-35m64 35l-2 3 7 10l2 7-2-7 7 42m22-28l-2-2 7 8m85-24l-2 8 7-58m98 99l-2 1 7 46m50-114l-2 58 7-41m146-7l-2 83 7-108m36 39l-1 59 6-47m30 54l-2-1 7 31m194-117l-2 132 7-44m112 3l-2 63 7-71m43 107l-1-52 6-58m105-74l-1 148 6-78m30 10l-2 95 7 24m64 146l-2-170 7-96m77 91l-2 24 7-164"/><path class="h24" d="M3531 744l-2 35 7 7l1-1-1 1 6-53m23-6l-2 43 7 53m9-85l-2 32 7-11m43 8l-2 12 7-39m29 142l-2-100 7 15l2 59-2-59 7 128m36-200l-1 73 6 5l2-26-2 26 7 36m37 134l-2-164 7-15m15-40l-2 55 7-66m16 81l-2-3 7-108m43 76l-2 30 7 86m16-162l-2 92 7-40m153 29l-2 34 7-55m36-16l-2 81 7-78m78 327l-2-259 7-37m29-27l-2 79 7-15m23 16l-2 14 7-50m8 144l-2-116 7 173m50-198l-2 45 7-10l2-49-2 49 7-24m112 26l-2 18 7-18m23 19l-2 11 7 102m8-127l-1 24 6 54m16 28l-2-60 7-67m16 146l-2-92 7 79m112-73l-2 2 7 124m15-165l-2 45 7 16l2-74-2 74 7 73m9-90l-2 23 7 139m50-199l-2 75 7 24m64-48l-2 23 7 25"/><path class="h25" d="M3586 778l-2-19 7 91m8-68l-2-21 7-33m43 35l-1 14 7-18l1-2-1 2 6 23m78-4l-2-5 7 5l2 62-2-62 7 10l2 74-2-74 7 21m8-11l-1-4 6-36m105 65l-1-28 7 9l1-7-1 7 6 150m23-127l-2-20 7 66m29-100l-2 28 7-40m30 167l-2-106 7 72m8 85l-1-168 6 0l2 79-2-79 7 10l2-51-2 51 7-36m36-10l-1 46 6-32m119 106l-2-54 7 80m16-85l-2 22 7 36m22-64l-1 8 6 28m16 29l-2-36 7-30m9 40l-2-6 7-22m36 29l-2-18 7 13l2-41-2 41 7 3l2-7-2 7 7 8l2 25-2-25 7-53m8 105l-1-69 7 22l1-54-1 54 6-9l2 0-2 0 7-26m23 76l-2-46 7-9l2-43-2 43 7 6l2 36-2-36 7-36m22 4l-2 37 7-41m43 28l-2 31 7 33m16-73l-2 29 7 31m36 7l-2-32 7-2l2 66-2-66 7-11m57-7l-2 26 7-17m71 1l-2 45 7 36m22-7l-2-25 7 35m36 26l-2-67 7-6l2-78-2 78 7 2l2-14-2 14 7 284m50-227l-2-27 7 63m36-73l-1-1 6-54"/><path class="h26" d="M3544 759l-2-26 7-5l2-6-2 6 7 198m50-123l-2-75 7 113m23-30l-2-71 7-11l2 19-2-19 7 48m125-5l-2-14 7 51m43-40l-1 4 6-7l2 48-2-48 7 98m181 7l-2-86 7 163m16-107l-2-38 7-16m22 145l-2-130 7 66m36-29l-1-27 7-27m50 87l-2-51 7 67m84-57l-2-2 7 34m9 27l-2-49 7 123m84-168l-2 50 7 103m119-108l-2 21 7 23m29-22l-2 8 7 91m23-73l-2-11 7 4l2 52-2-52 7-32m22 59l-2-21 7-43m23 91l-2-56 7 44m57-27l-2-4 7 33m22-65l-2 28 7 41m30 76l-2-106 7-57m70 111l-2-34 7 30m23 41l-2-68 7 7l2 68-2-68 7-18l2 48-2-48 7 27"/><path class="h27" d="M3524 764l-2-54 7 69m256-28l-2-8 7-6l2 25-2-25 7 84m153 32l-2-92 7 135m85-27l-2-82 7 34m8-5l-2-27 7 13m16 46l-2-58 7 200m16-192l-2-13 7 27m8 4l-1-31 6 4l2-18-2 18 7 109m9-85l-2-23 7-7l2 46-2-46 7 159m132-67l-1-57 6 68m44-54l-2-9 7 36m36 46l-2-75 7 46m22-70l-1 31 6 103m23-50l-2-53 7-4l2 18-2-18 7 75m70 1l-1-68 6 30m44 112l-2-133 7 131m29-2l-2-121 7 39m29-39l-1 5 6 65m57-70l-2 26 7 5m78-50l-2 49 7 76m15-7l-1-64 7-17m29 159l-2-132 7 20"/><path class="h28" d="M3806 852l-2-139 7 118m765 104l-2-90 7 13m208 139l-1-121 6 44m57 19l-2-54 7 123"/><path class="h29" d="M3930 736l-2-16 7 262m792-59l-1-80 6 81"/><path class="h30" d="M4088 879l-2-143 7 49m772 109l-2-50"/><path class="h17" d="M4285 876l-1 301 6-289"/><path class="h18" d="M3604 728l-1 311 6-210"/><path class="h19" d="M3542 733l-1 261 7-267m524 63l-2 244 7-131m257-22l-2 203 7-195m173 73l-1 124 6-138m57-103l-2 264 7-113"/><path class="h20" d="M3577 770l-2 147 7-108m71-50l-2 185 7-101m111-85l-1 188 7-179m118 134l-2 53 7-130m50-63l-2 200 7-165m98-7l-1 214 7-190m70-23l-2 187 7-122m367-14l-2 191 7-97m352 73l-2 91 7-105"/><path class="h21" d="M3522 710l-2 151 7-45m187-13l-1 88 6-80m119 60l-2 40 7-42m126-6l-2 67 7-129m174 57l-2 82 7-13m36-69l-2 106 7-57m29-41l-1 103 7-28m84-65l-2 108 7-159"/><path class="h22" d="M3536 786l-2 33 7 175m50-144l-2-20 7-58m15 69l-2-12 7-34m30-18l-2 64 7 103m8-162l-1 61 6-90m37 116l-2-11 7-26m22 15l-2 13 7-39m85-48l-2 100 7-108m22 54l-2 50 7 15l2 21-2-21 7-94m57 83l-2 6 7-65m9-94l-2 183 7-49m8-53l-1 78 6 82m37-67l-2 2 7 2l2-87-2 87 7-32m84 124l-2-87 7-66m36 61l-2 26 7 53m30-156l-2 106 7-56m8-30l-1 90 6-89m30 83l-2 21 7-21l2-37-2 37 7-5m15 119l-1-98 6-29m23-71l-2 105 7-5l2 23-2-23 7-69m29-7l-2 83 7-112m71 31l-2 103 7 1l2-98-2 98 7-55m50 94l-2-54 7-12m50 51l-2-32 7 69m64-86l-2 38 7-55m15-71l-2 138 7-139m105 73l-2 66 7-125m16 142l-2-4 7-11l2-98-2 98 7-76m29 282l-2-191 7-44"/><path class="h23" d="M3529 779l-2 37 7 3m50-60l-2 50 7 21m91 98l-2-105 7-26m23 1l-2 34 7 59m22-118l-2 48 7-47m23 20l-2 49 7 103m63-82l-1-23 6 70m37-116l-2 69 7-113m8 203l-1-90 6 90m16-147l-2 59 7 13m23 103l-2-128 7 25m56-68l-1 55 7-16m36-63l-2 94 7-7l2-53-2 53 7 129m146-109l-2 13 7 39m16-108l-2 82 7 49m15-110l-2 53 7 9l2-92-2 92 7-78m98 3l-2 73 7-43m16 0l-2 59 7 35m36-92l-2 54 7-2l2-93-2 93 7 11l2-108-2 108 7-76m16 42l-2 37 7-57m29-2l-2 66 7-32m36-28l-2 57 7-48m23-50l-2 121 7-99m57 176l-2-93 7 15l2-107-2 107 7-4l1-38-1 38 6-86m57 9l-1 82 6 25m16-7l-2-2 7 22m57-45l-2 41 7-31m91-130l-2 150"/><path class="h24" d="M3563 770l-2 20 7-66m50 90l-2-19 7-79m9 24l-2 57 7-29m50 49l-2-20 7-25m29 67l-2-28 7 49m23-72l-2 23 7-34m29-34l-2 62 7 20l2-88-2 88 7-7l2 3-2-3 7-26m9 39l-2-25 7 67m84 43l-2-92 7 42m98-45l-1 29 6-44m23-3l-2 53 7 25m57-96l-2 66 7-2l2-37-2 37 7 5l2-69-2 69 7-24m22-47l-2 72 7-54m23 87l-2-17 7 60m111-45l-1 8 7 283m8-325l-2 36 7 60m43-76l-1 17 6 30m44-82l-2 79 7-18l1 42-1-42 6-2l2 0-2 0 7 36m57-3l-2 1 7-45m16 31l-2 3 7 44m15-92l-1 64 7 151m56-198l-1 41 6 180m92-183l-2 9 7-9m8-42l-1 79 7 8m77-83l-2 81 7 36m9-16l-2-15 7-73m9-25l-2 103 7-74m29 18l-2 47 7-11"/><path class="h25" d="M3556 926l-2-183 7 47m36-29l-1 11 7 267m36-310l-2 39 7 73m50-14l-2-55 7 86m43-80l-2-4 7 37m9-2l-2-32 7 66m43-130l-2 79 7 14m50 77l-2-93 7-27m57 156l-2-105 7 89m36-15l-2-62 7 104m50 18l-2-112 7-15l2 37-2-37 7 35m57-120l-2 101 7 14m22-62l-1 41 6 94m57-3l-2-79 7-13m92-11l-2 54 7 22m77 55l-2-73 7-41m91 126l-1-74 7-33m15 8l-2 23 7 66m50-62l-2 11 7 0l2-22-2 22 7 14l2-32-2 32 7 57m126-9l-2-36 7 37m50-120l-2 79 7-8m8 4l-1 11 6-15m85 16l-2 29 7-26m9 6l-2 1 7 21l1-76-1 76 6 138"/><path class="h26" d="M3549 728l-1-1 6 16m16 80l-2-99 7 193m91-120l-2-44 7-16l2 188-2-188 7 86m98-14l-1-42 6 38m43-39l-1-1 7 76m125 55l-2-100 7 30m16-4l-2-21 7 95m29-111l-2 21 7 30m43-34l-1 11 6-24m119 84l-2-44 7 135m64-101l-2-20 7 103m50-78l-2-32 7 148m119-76l-2-43 7 91m119 25l-2-109 7 112m36-104l-2-5 7 7l2 42-2-42 7 73m36-5l-2-65 7 2l2 202-2-202 7 1l2 5-2-5 7 47m70-11l-1-10 7 15m8-9l-2-6 7 99m50-63l-2-37 7 9l2 91-2-91 7 8l2-27-2 27 7 40m16-58l-2 21 7 7"/><path class="h27" d="M3625 779l-2-63 7 81m236 38l-2-72 7 101m9-60l-2-53 7 113m180 4l-2-79 7 245m71-92l-2-141 7 139m174-117l-2 2 7-3l2 37-2-37 7 262m29-254l-2 5 7 100m91-39l-1-42 6 76m126-33l-2-40 7 18m36 69l-2-64 7-11l2 148-2-148 7 16m57 80l-2-94 7 116m78-94l-2 8 7 78m8-59l-1-15 6 8"/><path class="h18" d="M3754 777l-2 270 7-314m325 104l-2 253 7 47l2-286-2 286 7-200"/><path class="h19" d="M3520 861l-2 85 7-34m16 82l-2-36 7-154m318-41l-2 232 7-166m64 25l-2 145 7-65m215-7l-2 130 7-111m311-61l-2 224 7-258m202 112l-2 194 7-104"/><path class="h20" d="M3527 816l-2 96 7-42m22-127l-1 148 6-16m57-80l-2 131 7-176m181 42l-2 183 7-98m43 7l-2 70 7-62m112 38l-2 66 7-69m50-106l-2 168 7-48m30-128l-2 189 7-4l1-209-1 209 6-117m99 50l-2 51 7-92m63 22l-1 92 6-130m92 210l-2-55 7-132m15-21l-2 155 7-121m133 53l-2 97 7-137"/><path class="h21" d="M3534 819l-2 51 7 88m22-168l-2 85 7-45m71-62l-2 119 7-119m36 55l-2 49 7-93m9-7l-2 129 7-93m201 16l-2 99 7-25m37-19l-2 55 7-140m29 7l-2 126 7-10l2-21-2 21 7-60m43-1l-2 85 7 3l2-63-2 63 7-36m36-5l-2 28 7 159m16-241l-2 88 7-58m29-24l-2 103 7-110m23 23l-2 75 7 36m22-18l-2-14 7-55m332 5l-2 133 7-165m64 7l-2 159 7-126m50-21l-2 145 7-100m30 39l-2 82 7-138m56-1l-1 138 6-97"/><path class="h22" d="M3568 724l-2 106 7 18l2 69-2-69 7-5l2-34-2 34 7-36m9-35l-2 67 7-114m29 72l-2 62 7 28m71-55l-2 17 7-38m36 0l-2 54 7 182m57-241l-2 71 7-62m9-50l-2 121 7-107m8 132l-1-30 6-66m16-25l-2 102 7 103m16-244l-2 128 7-2l2-13-2 13 7-32m15 21l-2 32 7-41m9-43l-2 73 7-46m119 33l-2 34 7-78m98 110l-2-2 7 119m105-111l-2-12 7-12m9-50l-2 63 7 0l2-41-2 41 7 10l2 232-2-232 7-36m8 39l-2-12 7-58m133 78l-2 3 7-77m16-28l-2 113 7-66m22 18l-2 47 7 94m222-51l-2-8 7-105m78 9l-2 123 7-36m29-33l-2 75 7-9l2-92-2 92 7-105m15 179l-1-73 7 18l1-50-1 50"/><path class="h23" d="M3548 727l-2 77 7 87m36-61l-2-23 7 32m15-10l-1-10 6 107m44-83l-2-16 7-35m63 68l-1-20 6-11l2-8-2 8 7-8m50 4l-2 14 7 12l2-33-2 33 7 124m112-96l-2-22 7 30m36-91l-1 75 6-65m50 0l-1 76 6-68m57 220l-2-153 7 50m30-77l-2 25 7-22m8 67l-1-17 6-46m50-19l-1 48 7-23m15 40l-2-12 7-86m16 111l-2-5 7-13l2 67-2-67 7-8m22-51l-2 77 7 14m9 7l-2-19 7 13m22-47l-1 21 6 27m119-6l-2 15 7-55m98 58l-1 14 6 71m23-62l-2-19 7-31m22 188l-1-139 6-25m9-88l-2 97 7 80m23-64l-2-12 7-39m146 86l-2-6 7-32m29-54l-1 79 6 15l2-85-2 85 7-49"/><path class="h24" d="M3651 944l-2-139 7 22m8-74l-1 39 6 13l2-68-2 68 7 67m23-14l-2-50 7 41m9 42l-2-80 7-30m22-7l-2 47 7 44m23 81l-2-124 7-32m8 15l-1 21 6 13m30 34l-2-58 7 71m22-17l-2-54 7 139m23-90l-2-35 7 50m15 75l-1-109 6 78m30-20l-2-62 7 158m57-101l-2-41 7-10l2 19-2-19 7-58m112 41l-2 27 7 50m8 70l-2-116 7 97m50-129l-1 38 6 83m23-25l-2-33 7 23m16 26l-2-47 7 110m8-83l-2-47 7 46m92-31l-2 8 7-34m15-28l-2 75 7-6l2 31-2-31 7-13m9 80l-2-71 7-64m112 196l-2-109 7-64m50 13l-2 49 7-30m22 105l-2-51 7 9m43-74l-1 74 7 2l1-87-1 87 6-72m57-13l-2 96 7-34m23-11l-2 32 7-2l2-38-2 38 7 16l2-39-2 39 7 84m8-39l-2-58 7-44m16 63l-2-7 7-47m71 41l-2 13 7 52"/><path class="h25" d="M3644 841l-2-73 7 37m36-8l-2-18 7 122m29-90l-1-30 7 59m50-73l-2 23 7 36m180 0l-2-20 7 190m50-160l-2-22 7 175m30 14l-2-173 7 172m84-201l-2 47 7 90m160-102l-2 42 7-22l2 128-2-128 7 22l2-53-2 53 7-68m22 109l-1-56 6 168m23-61l-2-79 7 9m16-2l-2-21 7-24m22 88l-2-51 7-13l2-12-2 12 7 82m9-15l-2-62 7-29m15 77l-1-29 6 208m71-195l-2 2 7 36m23-23l-2-29 7 70m29-88l-2 26 7-44m16 102l-2-47 7 35m29-66l-2 44 7-76m9 70l-2 1 7 230m15-161l-1-81 6 52m9 20l-2-54 7 68m78-22l-2-49 7 98m22-98l-2 28 7-81"/><path class="h26" d="M3623 716l-2 34 7 109m202-18l-2-62 7 102m111 80l-1-167 7 77m50-21l-2-61 7 93m393 14l-1-43 7 10l1 69-1-69 6 82m119-45l-2-32 7 48m23 68l-2-93 7 9m77-15l-2-1 7 148m71-34l-2-102 7 58m36 15l-2-58 7 88m16-98l-2 19 7 10m57 10l-2-20 7 54"/><path class="h27" d="M3603 1039l-2-314 7 94m153 24l-2-110 7 89m435 124l-2-137 7 83m181 24l-2-80 7 41m57 10l-2-34 7 114m22-16l-2-100 7 115m23-31l-2-76 7-1l2 228-2-228 7 104m91-7l-2-91 7 94"/><path class="h28" d="M4325 822l-2-12 7 219m332-94l-2-79 7 71m153 43l-2-93 7 157"/><path class="h18" d="M4034 944l-2 130 7-231"/><path class="h19" d="M3518 946l-2-1 7-72m126-68l-2 171 7 27l2-176-2 176 7-188m242 83l-1 119 6-95m381-13l-2 157 7-43m132-146l-2 245 7-228m380 64l-1 230 6-185"/><path class="h20" d="M3539 958l-2-47 7-129m15 93l-1 39 6 15l2-99-2 99 7-114m305 64l-2 103 7-94m9-43l-2 102 7-89m153-28l-2 152 7-50m15-51l-1 118 7-2l1-66-1 66 6-127m50 88l-1 40 6-125m112 47l-2 102 7-39m43-47l-1 87 7-171m139 30l-2 174 7-90m181-12l-2 108 7-29m8-149l-1 199 6-187m181 138l-2 50 7-184"/><path class="h21" d="M3525 912l-2-39 7-155m64 121l-2 48 7-75m36 75l-2 0 7-20l2-99-2 99 7 109m22-171l-1 89 7-41m15 48l-2-10 7-89m9 47l-2 32 7 29l2-99-2 99 7-17l2-112-2 112 7-83m8 19l-1 75 6-77m23-94l-2 164 7-126m29 80l-2 70 7-77m50 110l-1-37 6-91m57 31l-2 65 7-86m57 91l-2 9 7-32m36-90l-1 109 6 8l2 58-2-58 7-76m30 147l-2-70 7-27m43-26l-2 67 7-108m15 23l-1 107 7 30m43-108l-2 82 7-132m77 94l-2 49 7-165m133 59l-2 120 7-96m9-38l-2 119 7-107m8 15l-2 117 7 115m43-13l-1-88 6-59m99 8l-2 63 7-107m57 30l-2 77 7 50m15-151l-2 108 7-102"/><path class="h22" d="M3608 819l-2 39 7-42m63 56l-1-19 6 4l2-78-2 78 7 34m57-26l-2 13 7-42m30-10l-2 59 7-100m29 30l-2 70 7-9l2 10-2-10 7 0l2-97-2 97 7-44m8-17l-1 58 7 44m15 78l-2-114 7-67m16 63l-2 11 7 59m91-30l-2-13 7-6l2-41-2 41 7 16l2-67-2 67 7-34m64 118l-2-93 7 94m77-61l-2-19 7-17m50-93l-2 136 7-84m112 17l-2 79 7-12l2-135-2 135 7-81m9 33l-2 70 7-35m15-22l-1 42 6 14l2-62-2 62 7-3l2-72-2 72 7-18m71-92l-2 113 7-73m36 167l-2-92 7-87m16-23l-2 115 7-62m43-20l-2 96 7-12m22-21l-1 27 6-89m126 4l-2 105 7-64m23 115l-2-38 7-58"/><path class="h23" d="M3553 891l-2-74 7 97m15-66l-2-33 7-21m23-69l-2 87 7 46m8 68l-1-110 7-50m43 26l-2 23 7 79m70-73l-2 6 7 51m9 169l-2-211 7 61m43 78l-2-131 7 4l2 29-2-29 7 37m84 38l-1-65 7 159m22-176l-2 26 7-62m9 129l-2-60 7-30m9 27l-2-7 7 10l1-68-1 68 6-47m37-38l-2 91 7-58m146 235l-2-155 7-45m57 58l-2-14 7-3l2 4-2-4 7 5l2-9-2 9 7 5l2 96-2-96 7-16m29 43l-2-14 7-28m71-30l-2 69 7-45m29 13l-2 45 7-62m78 18l-2 37 7 83m8-170l-2 111 7-2l2 6-2-6 7 8m43-100l-1 84 6 18l2-54-2 54 7-58m9 9l-2 30 7 36m9-87l-2 75 7 58m50-114l-2 45 7 98m43-135l-2 59 7-50m9 117l-2-66 7-70m8 50l-1 6 6-9m78-44l-2 82 7-40m16 30l-2 8 7-34m15-89l-2 126 7 81"/><path class="h24" d="M3546 804l-2-22 7 35m29 26l-2-49 7-30m112 44l-2-6 7 79m23-41l-2-30 7 94m43-114l-2 30 7 65m57-4l-2-49 7 41m15 19l-2-66 7 55m57 6l-2-51 7 31m23-73l-2 50 7 20m77 77l-2-86 7 219m50 16l-2-220 7 0l2 267-2-267 7-16l2 83-2-83 7 92m16-39l-2-49 7 110m15-120l-2 25 7 46m43 31l-1-66 6 3l2 8-2-8 7 58m43-71l-1 18 6 130m30-87l-2-42 7-62m29 25l-2 36 7 65m85-104l-2 48 7 81m98-123l-2 62 7 52m70-28l-1-19 7 55m22-117l-2 72 7 2l2 20-2-20 7 26m43-108l-2 82 7 48m36-53l-2 31 7 3l2 34-2-34 7 34m16-49l-2 8 7 14l2-6-2 6 7 40m8-59l-1 1 7-26m15 37l-2-6 7 41m9-72l-2 32 7-3l2 69-2-69 7 41m8 7l-1-41 7 222m29-268l-2 58 7-8l2 4-2-4 7 23l2 33-2-33 7-53"/><path class="h25" d="M3587 807l-2-43 7 123m29-137l-1 16 6-9l2 102-2-102 7 130m153-48l-1-54 6 136m78-92l-2-15 7 168m57 17l-2-194 7 69m29 122l-2-169 7 109m37-54l-2-60 7 101m29-15l-2-65 7 139m64-125l-2-19 7 20m43 88l-2-89 7 3l2 122-2-122 7 112m9-105l-2-27 7 44m22 8l-2-31 7 40m119 128l-2-165 7 103m15 64l-1-144 7 65m29-116l-2 47 7 114m22-52l-1-70 6 132m16-48l-2-65 7 162m16-89l-2-74 7 45m57 24l-2-51 7-8l1 130-1-130 7 49m15 0l-2-40 7 39m50-43l-2 9 7 19m71 221l-2-221 7 51m9-72l-2 2 7 56m29-19l-2-17 7 23m29-49l-1 19 6 14l2 55-2-55 7 17"/><path class="h26" d="M3532 870l-2-152 7 193m229-89l-2-51 7 49m511 125l-2-114 7 235m15-188l-1-26 6 40m188 31l-2-42 7 40m91 113l-2-142 7 25m50 115l-2-136 7 144m209 4l-2-104"/><path class="h27" d="M4261 922l-2-104 7 103m566 104l-2-125 7 78"/><path class="h16" d="M4844 970l-2 407 7-393"/><path class="h18" d="M3812 885l-2 173 7-127m119-57l-2 238 7-224m229 84l-2 184 7-245m70 111l-1 96 7-135m215 38l-2 178 7-243"/><path class="h19" d="M3551 817l-2 160 7-200m139 25l-2 183 7-113m57 25l-2 110 7-106m78-28l-2 118 7-48m15-62l-2 116 7-101m16-8l-2 121 7-158m126 72l-2 112 7-93m242-124l-2 247 7-69m98-30l-1 155 6-126m50 12l-1 84 6-176m188 23l-2 168 7-93"/><path class="h20" d="M3523 873l-2 25 7-79m119 157l-2-29 7-113m146 10l-1 135 6-101m16-2l-2 55 7-46m23 32l-2 26 7-29m98-50l-2 116 7-8l2-98-2 98 7-127m15 59l-2 64 7-70m9 16l-2 50 7-47m29-62l-1 150 6-75m9-87l-2 158 7-40m16-56l-2 90 7-141m9 143l-2 24 7-99m22 24l-2 41 7-91m380 72l-2 75 7-41m57-51l-2 97 7-115m98 107l-2 24 7-68m147-30l-2 126 7-37m29-77l-2 158 7 241"/><path class="h21" d="M3544 782l-2 93 7 102m43-90l-2-23 7-2l2-50-2 50 7-84m36 89l-2 20 7 60m23-53l-2 6 7-29l2-18-2 18 7-19m50 52l-2 0 7-107m29-26l-2 130 7-5l2-76-2 76 7-73m77 3l-1 88 6 83m44 20l-2-82 7-107m22-23l-2 120 7 187m84-181l-1 11 7 63m8 69l-2-144 7 71m9-19l-2-21 7-72m43-35l-2 96 7 37m16-129l-2 85 7-53m29 12l-2 66 7-26m30-58l-2 101 7-44m15-80l-2 94 7-75m43 103l-1 0 6 82m9-144l-2 75 7-131m71 67l-2 76 7-123m9 67l-2 27 7 142m8-158l-2 32 7 19l2-69-2 69 7-109m112-24l-2 121 7-43m71 74l-2-19 7 19l2-107-2 107 7-64m194 33l-2 61 7-90m30 215l-2-133 7-28m8 57l-2-21 7-106"/><path class="h22" d="M3516 945l-1-102 6 55m16 13l-2-68 7 32m22 54l-1-100 7 19l1-33-1 33 6-11l2-43-2 43 7-4l2-69-2 69 7 31m30-98l-2 75 7-10m36-16l-2 43 7 42m15-43l-1-5 6-8m16 37l-2-9 7-32m9 53l-2-42 7-64m22 91l-2-3 7-57m43 103l-1-39 7 97m8-131l-2 30 7 180m16-182l-2 9 7 6l2-59-2 59 7 100m29-177l-2 82 7-64m23 26l-2 27 7 50m22-68l-2 23 7 35m16-81l-2 44 7 92m36-82l-2 0 7 66m9-84l-2 37 7-74m77 27l-1 52 6 3l2-55-2 55 7 25m50-31l-2 13 7 36m9-111l-2 85 7-23l2-59-2 59 7 237m22-269l-1 54 6-85m106-4l-2 109 7-1l1-68-1 68 6-26m92 48l-2-14 7 5l2-98-2 98 7 118m29-125l-2 10 7-4l2-79-2 79 7-1l2-33-2 33 7 228m125-307l-1 92 6-83m23 63l-2 49 7-105m22-12l-1 102 6 66m9-126l-2 58 7-22m36-10l-1 49 7-111m8 99l-2 17 7-110m16 66l-2 44 7-37m16-51l-2 80 7 25l1-91-1 91 6-75m50 43l-1 24 6 36"/><path class="h23" d="M3530 718l-2 101 7 24m91-86l-1 74 6-36m23 208l-2-169 7 24m29 33l-2-47 7 141m16-75l-2-70 7 11m174 96l-2-96 7 34m22-49l-2 30 7 24m133 42l-2-43 7 106m50-157l-2 58 7 47m9 25l-2-78 7-17m50-33l-2 71 7 74m36-87l-2 17 7-20m9 13l-2 11 7-17l2-10-2 10 7 216m36-287l-2 83 7-17m9 126l-2-89 7 27m15-4l-2-23 7-35m9-35l-2 69 7-48m105 171l-2-105 7 25m29-14l-1-6 7-11l1 15-1-15 6 98m16-122l-2 38 7-64m16 8l-2 58 7 6l2-15-2 15 7-76m50 90l-2-12 7 15m77 2l-2-12 7-12m23 11l-2 12 7 28m43 1l-2-33 7-19"/><path class="h24" d="M3558 914l-2-137 7 52m70 58l-2-92 7 92m112-51l-2-18 7 189m23-122l-2-62 7-14l2-24-2 24 7 73m84 100l-2-150 7 177m29-87l-1-94 6 38m50-39l-1 18 6 13l2 78-2-78 7 110m30-146l-2 21 7 192m57-36l-2-145 7 167m57-23l-2-125 7 12l1-12-1 12 6 47m71-31l-2-21 7 35m9-12l-2-8 7 24m57 147l-2-169 7 37m29 11l-2-46 7 34m57-50l-2 22 7-34m36 251l-2-207 7 14l2-35-2 35 7 22m119 36l-2-54 7-5l2 47-2-47 7 86m64 19l-2-92 7-4l2 146-2-146 7 61m29-62l-2 26 7-15l2 40-2-40 7-9m64 18l-2 6 7 48m15-49l-2-1 7 103m9-101l-2 11 7 8l2-22-2 22 7-31m57 43l-2-9 7-9l2-35-2 35"/><path class="h25" d="M3606 858l-2-80 7-12l2 50-2-50 7 75m105-31l-2-23 7 117m8-77l-1-30 6 78m456 70l-2-89 7 99m71-62l-2-28 7 49m57 53l-2-82 7 123m9-121l-2-2 7 94m36 18l-2-126 7 12l2 18-2-18 7 85m105 5l-2-78 7 22l2-6-2 6 7 44m22-49l-2-2 7 138m57-112l-2-28 7 198m16-44l-2-154 7 33m57-24l-2 21 7 47m36-25l-2-22 7 80m64-18l-2-50 7 142m29-192l-2 57 7 179"/><path class="h26" d="M4534 970l-1-79 6 19m57 7l-2-16 7 7m105 59l-1-65 6 116m9-81l-2-29 7 30"/></g>
<path class="ax" d="M316.2 69.8L316.2 160.8L462 183L524.3 132.7M316.2 160.8l-3.2 -0.5M316.2 142.6l-3.2 -0.5M316.2 124.4l-3.2 -0.5M316.2 106.2l-3.2 -0.5M316.2 88l-3.2 -0.5M316.2 69.8l-3.2 -0.5M316.2 160.8l-2.5 2M340.5 164.5l-2.5 2M364.8 168.2l-2.5 2M389.1 171.9l-2.5 2M413.4 175.6l-2.5 2M437.7 179.3l-2.5 2M462 183l-2.5 2M462 183l3.2 0.5M477.6 170.4l3.2 0.5M493.1 157.8l3.2 0.5M508.7 145.3l3.2 0.5M524.3 132.7l3.2 0.5"/>
<text class="tk" x="308.8" y="163" text-anchor="end">−100</text>
<text class="tk" x="308.8" y="144.8" text-anchor="end">−80</text>
<text class="tk" x="308.8" y="126.6" text-anchor="end">−60</text>
<text class="tk" x="308.8" y="108.4" text-anchor="end">−40</text>
<text class="tk" x="308.8" y="90.2" text-anchor="end">−20</text>
<text class="tk" x="308.8" y="72" text-anchor="end">0</text>
<text class="tk" x="310.6" y="171.6" text-anchor="end">−600</text>
<text class="tk" x="334.9" y="175.3" text-anchor="end">−400</text>
<text class="tk" x="359.2" y="179" text-anchor="end">−200</text>
<text class="tk" x="383.5" y="182.7" text-anchor="end">0</text>
<text class="tk" x="407.8" y="186.4" text-anchor="end">200</text>
<text class="tk" x="432.1" y="190.1" text-anchor="end">400</text>
<text class="tk" x="456.4" y="193.8" text-anchor="end">600</text>
<text class="tk" x="468.4" y="190.4">99</text>
<text class="tk" x="484" y="177.8">99.5</text>
<text class="tk" x="499.5" y="165.2">100</text>
<text class="tk" x="515.1" y="152.7">100.5</text>
<text class="tk" x="530.7" y="140.1">101</text>
<text class="ti" x="419.7" y="16" text-anchor="middle">ARFT LFM</text>
<text class="lb" x="378.2" y="196.9" text-anchor="middle">Velocity(m/s)</text>
<text class="lb" x="504.7" y="189.7">Range(km)</text>
<text class="lb" x="0" y="0" text-anchor="middle" transform="translate(289.3 115.4) rotate(-90)">Normalized amplitude(dB)</text>
<text class="cap" x="415" y="220.8" text-anchor="middle">(<tspan font-weight="bold" fill="#000">b</tspan>)</text>
<path class="grid" d="M35.9 392.1L89.4 347.6M61.7 394.7L115.2 350.2M87.5 397.2L141 352.7M113.3 399.8L166.8 355.2M139.1 402.3L192.6 357.8M164.9 404.8L218.4 360.3M49.3 381L204.1 396.3M62.6 369.9L217.4 385.1M76 358.7L230.8 374M89.4 347.6L244.2 362.9M89.4 347.6L89.4 242.1M115.2 350.2L115.2 244.7M141 352.7L141 247.2M166.8 355.2L166.8 249.8M192.6 357.8L192.6 252.3M218.4 360.3L218.4 254.8M244.2 362.9L244.2 257.4M89.4 347.6L244.2 362.9M89.4 330L244.2 345.3M89.4 312.4L244.2 327.7M89.4 294.9L244.2 310.1M89.4 277.3L244.2 292.6M89.4 259.7L244.2 275M89.4 242.1L244.2 257.4M49.3 381L49.3 275.5M62.6 369.9L62.6 264.4M76 358.7L76 253.2M35.9 392.1L89.4 347.6M35.9 374.5L89.4 330M35.9 356.9L89.4 312.4M35.9 339.4L89.4 294.9M35.9 321.8L89.4 277.3M35.9 304.2L89.4 259.7M35.9 286.6L89.4 242.1"/>
<g class="srf" transform="scale(0.1)"><path class="h15" d="M1386 3316l7-61"/><path class="h17" d="M1343 3276l7-34m14 34l8-10m0 0l7-33m14 22l7 16m0 0l8-34m86 45l8-10m0 0l7-41"/><path class="h18" d="M1350 3242l7-15m0 0l7 49m15-43l7 83m79-69l8-9m0 0l7 0m0 0l7 9m0 0l7 35"/><path class="h19" d="M1335 3196l8 80m166-45l7-55"/><path class="h20" d="M1516 3176l7-22"/><path class="h21" d="M714 3117l7-55m600 67l7 22m0 0l7 45m188-42l7-15"/><path class="h22" d="M765 3075l7-59m144 96l8-89m14 97l7-93m362 69l7 16m0 0l7 17m209 10l8-13m0 0l7-18"/><path class="h23" d="M721 3062l8-48m14 49l7 8m0 0l8-21m0 0l7 25m14-26l7-30m174 51l7-37m173 49l8-11m151 6l8 19m238 12l7-17m181 48l7-9m340 45l7-45"/><path class="h24" d="M729 3014l7-5m0 0l7 54m29-47l7 33m7-30l8-31m101 47l7 8m0 0l7 6m0 0l7 63m15-83l7 91m29-87l7 15m0 0l7-38m130 42l8-18m29 37l7-44m130 13l7 19m0 0l7 18m253 14l7-18m0 0l8-19m144 54l7 20m0 0l8-40m14 42l7-14m0 0l7-33m116 54l7 12m0 0l7-33m15 17l7-24m15 34l7-84m7 92l7-37m152 48l7-43"/><path class="h25" d="M794 2988l7 3m0 0l7-27m72 36l8 22m0 0l7 13m29-12l7 6m14-2l8-6m0 0l7 49m21-60l8-14m108 47l7-16m0 0l7 25m8-18l7 11m0 0l7-10m0 0l7 47m15-55l7 10m0 0l7-28m109 10l7 21m282 14l7-21m101 49l7 17m0 0l7-25m0 0l8 30m0 0l7-14m0 0l7 18m15-20l7 51m21-56l8-2m0 0l7-14m115 49l8-4m0 0l7 21m7-24l7-3m0 0l8 37m21-29l7-7m0 0l8 4m0 0l7 4m0 0l7-17m94 14l7 8m0 0l8 55m7-45l7 32m7-43l7 21m0 0l8-17m0 0l7 5"/><path class="h26" d="M808 2964l7-16m51 22l7 19m0 0l7 11m109-4l7-8m0 0l7-18m72 11l8 23m0 0l7 1m0 0l7 38m72-34l8-9m0 0l7-12m86 12l8 19m130 218l7-376m159 172l7-19m87 35l7 33m94-15l7-10m0 0l7-9m65 13l8 12m0 0l7 15m0 0l7 49m101-39l7-6m0 0l8-33m50 29l7 15m0 0l8-1m0 0l7 5m0 0l7 5"/><path class="h27" d="M815 2948l8-27m36 33l7 16m137 0l7-19m0 0l8-20m50 28l7 22m109 7l7-22m0 0l7-17m65 28l7 23m311 14l7-20m65 28l8 15m0 0l7 12m115-1l8-23m0 0l7-29m43 56l7 9m80-2l7 92m51-92l7-21m29 7l7 18m0 0l7 25"/><path class="h28" d="M823 2921l7-29m21 34l8 28m159-23l7-26m36 29l7 25m130-10l7-24m51 30l7 22m325 17l8-24m0 0l7-25m43 55l7 22m145-26l7-28m22 33l7 24m0 0l7 27m152-14l7-26m0 0l7-49m7 52l8 30"/><path class="h29" d="M830 2892l7-49m7 51l7 32m174-21l7-30m22 34l7 25m144-9l8-26m36 31l7 25m347-10l7-31m22 33l7 28m0 0l7 25m159-32l7-49m7 50l8 32"/><path class="h30" d="M837 2843l7 51m188-19l7-49m7 50l8 33m159-10l7-30m22 34l7 27m166-69l7 0m0 0l7-36m0 0l8-112m7 113l7 38m0 0l7 1m0 0l7 382m145-333l7-48m7 50l8 31m375 16l7 52"/><path class="h31" d="M1039 2826l7 50m174-7l7-49m7 51l8 32m570 16l7 50"/><path class="h32" d="M1227 2820l7 51m383-5l7 50"/><path class="h36" d="M1437 2713l7 113"/><path class="h11" d="M1364 3276l-1 186 7-162"/><path class="h14" d="M1473 3238l-2 124 7-75"/><path class="h16" d="M1350 3242l-2 54 8-48m16 18l-2 34 7-40m88-13l-1 64 7 51m23-80l-1 27 7 15l2-52-2 52 7-84"/><path class="h17" d="M1379 3233l-2 27 7 8l2 48-2-48 8 6l1-19-1 19 7-22m81-14l-2 49 8-6l1-34-1 34 7 28"/><path class="h18" d="M1335 3196l-1 29 7 22l2 29-2-29 7 49m9-69l-1 21 7 214m37-191l-1-19 7 8m103-29l-2 9 7-43"/><path class="h20" d="M714 3117l-1 36 7-124m608 122l-1 20 7 54m182-49l-2 21 8-22m601-47l-2 156"/><path class="h21" d="M1314 3112l-2 21 7 16l2-20-2 20 8 22m196-17l-1 21 7-12l1-24-1 24 7-18"/><path class="h22" d="M772 3016l-2 63 8-55m167 3l-1 74 7-47m168-20l-2 87 7-66m175 22l-1 22 7 18l2-21-2 21 7 16m226-7l-2 19 7-15l2-22-2 22 8-19m182 28l-2 55 7-57m197 14l-2 45 8-56m131-20l-1 98 7-4l2-39-2 39 7-14"/><path class="h23" d="M758 3050l-2-7 7 5l2 27-2-27 7 31m125-44l-2 35 7-7l2-20-2 20 8-3l1-11-1 11 7 19l1 33-1-33 7-36m189 9l-1 46 7 23m23-39l-1 16 7-13l2-14-2 14 7-4m139-22l-1 21 7 19m254-8l-1 20 7-16m160 33l-1 16 7-13m189-25l-1 66 7-51m168 9l-2 70 7-37m24-40l-2 84 7 77"/><path class="h24" d="M721 3062l-1-33 7 1l2-16-2 16 7-2l2-19-2 19 7 8l2 27-2-27 8-8l1 43-1-43 7 15m23 6l-1-25 7-8l1 3-1-3 7-8m88-8l-1 42 7-14l2-6-2 6 7 42m31-47l-2 20 7 16l2-30-2 30 8-4l1 65-1-65 7 46m9-80l-2 33 7-16l2 32-2-32 7-2l2-3-2 3 8 26l1-14-1 14 7-21l1-31-1 31 7-25m117 11l-1 45 7 26m16-53l-2 10 8-1l1-19-1 19 7 44m16-71l-2 54 7-41m125 0l-2 20 8 20m268-7l-1 22 7-20m117 24l-1 13 7-18m9 10l-2 18 7-3l2-29-2 29 8 7l1-18-1 18 7 18m9-56l-2 43 7 63m9-64l-2 7 8-8l1-13-1 13 7 11l1-57-1 57 7-33m117 42l-1-9 7-23m9-5l-2 21 7 18l2-18-2 18 8-25m37-12l-1 26 7-14m9-15l-2 37 7-10l2-23-2 23 8-33m95 7l-2 57 8 49m23-56l-2 1 8 12l1-56-1 56 7-3l1-32-1 32 7 35"/><path class="h25" d="M794 2988l-2 20 7 2l2-19-2 19 8-18l1-28-1 28 7-30m59 27l-1 13 7 40m110-46l-2 20 7-3l2-25-2 25 8-20m81 11l-2 13 7 19l2-31-2 31 7-1l2 8-2-8 8 37m59-35l-2 3 8-6l1-25-1 25 7-18m103 3l-2 21 7 20m284-6l-2 21 7-21l2-21-2 21 7-19m89 14l-2 29 7 15l2-11-2 11 8 19m8-38l-1 20 7 28m67-41l-2 26 7-1l2-39-2 39 8-34m81 1l-2 26 7 18l2-29-2 29 7-4l2 24-2-24 8 27m8-24l-1 1 7 16m16-24l-1 17 7 46m9-29l-2-22 7-34m23 20l-1 19 7 22m16-50l-1 7 7 7l1-20-1 20 7-24m52 0l-1 24 7 3l1-12-1 12 7 21l2-34-2 34 7-10l2-19-2 19 7 43"/><path class="h26" d="M815 2948l-1 14 7-22m38 14l-2 13 7 21l2-18-2 18 8 14m131-32l-1 23 7-21m66 9l-1 14 7 22m96-17l-2 16 7-7l2-21-2 21 7-20m74-12l-1 19 7 21l1-17-1 17 7 23m132 197l-2 23 7-367m168 121l-2 21 8-24m74 26l-2 26 7 15m110-21l-1 15 7-10l1-14-1 14 7-18m52 8l-1 20 7 16l1-27-1 27 7 11m74-40l-2 28 7 109m53-137l-2 29 7-31m38 6l-2 20 8 29"/><path class="h27" d="M823 2921l-2 19 7-29m23 15l-1 19 7 22m153-16l-1 21 7-22l2-19-2 19 7-25m38 9l-2 18 8 23l1-16-1 16 7 20m117-29l-2 23 8-22l1-18-1 18 7-23m52 11l-2 17 8 24m326-2l-1 17 7-21m52 10l-2 18 8 17l1-13-1 13 7 28m132-38l-2 19 7-26m38 7l-2 18 8 29m153-34l-2 19 7-28m24 16l-2 16 7 22"/><path class="h28" d="M830 2892l-2 19 7-49m9 32l-1 19 7 32m175-40l-2 20 7-31m24 15l-2 19 7 24m146-27l-1 19 7-25m38 11l-2 19 7 23m342-2l-2 20 7-26m38 11l-2 19 7 24m154-22l-2 22 7-31m24 14l-2 17 7 25m168-31l-2 17 8-47m8 33l-1 18 7 28"/><path class="h29" d="M1032 2875l-2 19 8-49m8 31l-1 19 7 33m161-29l-2 20 7-31m24 15l-2 18 7 28m356-4l-2 19 7-31m24 14l-2 20 7 27m168-26l-2 19 8-49m8 31l-1 18 7 31m182-55l-1 19 7 51"/><path class="h30" d="M837 2843l-2 19 8 51m377-44l-2 19 8-49m8 32l-1 18 7 32m175-60l-2 32 8 1l1-33-1 33 7-37l1-32-1 32 7-111m9 80l-2 33 7 37l2-32-2 32 8 1l1-32-1 32 7 414m146-397l-2 19 8-49m8 32l-1 19 7 32m182-48l-1 19 7 49"/><path class="h31" d="M1039 2826l-1 19 7 50m572-29l-1 18 7 51"/><path class="h32" d="M1227 2820l-1 19 7 50"/><path class="h35" d="M1437 2713l-2 33 7 113"/><path class="h13" d="M1471 3362l-1 52 7-48"/><path class="h14" d="M1392 3274l-2 78 7-79m81 14l-1 79 7 19l2-104-2 104 7 2l2-78-2 78 7-106"/><path class="h15" d="M1356 3248l-2 85 7-7l2 136-2-136 7-8l2-18-2 18 8-2"/><path class="h16" d="M1377 3260l-1 56 7-42"/><path class="h17" d="M1341 3247l-1 20 7 15l1 14-1-14 7 51m30-65l-1 6 7 78m9-100l-2 21 8 68m59-30l-2-27 8 130m30-90l-2-43 8-23"/><path class="h18" d="M1334 3225l-2 15 8 27m167-27l-1 18 7-45"/><path class="h19" d="M1514 3197l-1 16 7-14"/><path class="h20" d="M929 3059l-1 110 7-69m384 49l-1 21 7 18l2-17-2 17 7 52m190-65l-2 24 7-16l2-20-2 20 8-17"/><path class="h21" d="M713 3153l-2-40 7-54m9-29l-2 92 8-36m572 31l-2 21 8 16l1-21-1 21 7 16m218-25l-1 21 7-16m182-19l-2 98 8-105m203 72l-1 37 7-85m182 136l-1-34"/><path class="h22" d="M734 3028l-1 58 7 12l1-62-1 62 7 5l2-75-2 75 7-39m9-16l-1 38 7-23m131 0l-1 43 7-10l2-36-2 36 7-17m9-36l-1 66 7 60m9-114l-2 45 7-35m190-11l-2 79 7-10l2-25-2 25 7-55m147 12l-2 21 7 18l2-20-2 20 7 19m240-8l-1 20 7-17l2-22-2 22 7-19m182 23l-1 45 7 1l2-54-2 54 7-60m139 10l-1 80 7-73m175 78l-2 15 7-71m24 13l-2 40 7-52m9 44l-2 25 8 18"/><path class="h23" d="M720 3029l-2 30 7 63m31-79l-2 21 8 22m8-7l-1-16 7-20m103-1l-2 19 7 20l2-53-2 53 8-28m23 26l-2 0 8 30m23-8l-2-36 7 25l2-36-2 36 8-7l1-45-1 45 7-20m131-28l-1 46 7-16m9 33l-2-19 8-7m37 9l-1 20 7-28m124-13l-1 20 7 21m269-6l-2 19 7-21m118 19l-2 31 7-29m31 30l-2 20 7 65m161-112l-2 63 8 33m59-87l-2 63 8-16l1-25-1 25 7-26m95-21l-1 51 7 22l1-30-1 30 7 34"/><path class="h24" d="M778 3024l-2 19 7-4l2-23-2 23 7 8l2-39-2 39 8-21l1-16-1 16 7-20m67-4l-2 36 7 23m16 9l-1-17 7 53m66-70l-1 27 7-9l2 8-2-8 7-11l2-2-2 2 8 10l1-37-1 37 7-23m95 6l-1 25 7 20m9-9l-2-7 7 14m9 42l-1-49 7 2l1-19-1 19 7 59m16-48l-2-17 8 33m8-61l-1 33 7-18l2-21-2 21 7-18m103 3l-1 20 7 20m283-5l-2 18 8-18m102 18l-1 24 7 26m9-49l-2 20 7 13l2-5-2 5 8-6l1-2-1 2 7 4l2 1-2-1 7 39m16 30l-1-70 7 58m16-42l-2-17 8 19l1-35-1 35 7-36m88-7l-2 36 8 2l1-20-1 20 7 14l1-38-1 38 7 3l2-14-2 14 7 26m16-29l-1-11 7 6l2-20-2 20 7 11l2 15-2-15 7-12l2-24-2 24 8-42m16 37l-2 8 7 41m16-51l-1 9 7-24m74-8l-2 41 7 6l2-26-2 26 8 15m23 37l-2-52 8-4l1 42-1-42 7-1l1 6-1-6 7 58m9-43l-2-9 7 69"/><path class="h25" d="M807 2992l-2 14 7-25m52 7l-1 28 7 22m124-25l-1 17 7-19l2-18-2 18 7-20m74 26l-2 20 8 24m88-45l-2 21 8-16m88-4l-2 21 8 22m297-6l-1 21 7-22m81 10l-2 20 8 6l1-11-1 11 7 28m95-11l-1 0 7-7l2-27-2 27 7-19m67 8l-2 16 7 31m74-48l-1 16 7 130m38-128l-2 18 7 4l2-15-2 15 7-25m45-19l-1 28 7 19l2-18-2 18 7 26"/><path class="h26" d="M814 2962l-2 19 7-22l2-19-2 19 8-29m23 15l-2 18 8 26l1-22-1 22 7 27m146-44l-2 19 7-24m53 8l-2 21 7 17l2-18-2 18 7 24m103-28l-1 12 7-12l1-20-1 20 7-23m67 10l-2 18 7 24m139 222l-1 81 7-416m167 110l-1 18 7-21l2-21-2 21 7-23m60 26l-2 24 7 24m125-21l-2 18 7-23l2-13-2 13 8-23m37 9l-1 23 7 22l2-16-2 16 7 16m139-16l-2 14 8-26l1-19-1 19 7-27m23 12l-1 19 7 31"/><path class="h27" d="M828 2911l-1 19 7-49m9 32l-2 18 7 32m168-13l-2 17 8-24m37 9l-1 22 7 22m132-29l-2 19 7-23m52 9l-1 19 7 23m334-24l-2 19 8-27m37 12l-1 20 7 23l1-19-1 19 7 22m146-41l-1 16 7-28m23 12l-1 21 7 27m167-37l-1 20 7-48m9 32l-2 19 8 28"/><path class="h28" d="M1023 2925l-1 18 7-30m23 15l-1 18 7 28m146-30l-2 19 7-26l2-18-2 18 8-30m23 14l-2 19 8 28l1-19-1 19 7 23m348-27l-1 18 7-29m23 14l-2 19 8 28m167-27l-1 19 7-49m9 30l-2 19 8 33"/><path class="h29" d="M835 2862l-1 19 7 50m189-37l-1 19 7-49m9 31l-2 20 8 31m167-58l-1 19 7-49m9 31l-2 20 7 31m175-47l-1 32 7 1l2-32-2 32 7-36m23 6l-1 33 7 0l2-32-2 32 7 355m146-351l-1 20 7-50m9 32l-2 19 7 32m378-4l-2 19 7 51"/><path class="h30" d="M1038 2845l-2 19 7 51m385-58l-2 33 7-112m9 81l-1 32 7 38m363 9l-2 19 7 49"/><path class="h31" d="M1226 2839l-2 19 7 51m385-25l-2 19 7 51"/><path class="h34" d="M1435 2746l-2 32 8 113"/><path class="h13" d="M1462 3284l-1 110 7-44m9 16l-2 43 7-36"/><path class="h14" d="M1368 3318l-1 35 7 15l2-52-2 52 7 4l2-98-2 98 8-76m95 89l-2-12 8-71m8-21l-1 87 7-80"/><path class="h15" d="M1347 3282l-2 58 7-20l2 13-2-13 8 14l1-8-1 8 7 19m30-80l-1 76 7 35m67 30l-2-64 7 59"/><path class="h16" d="M1340 3267l-2 20 7 53m45 12l-1-56 7 53m95 38l-1-85 7 66"/><path class="h17" d="M1332 3240l-1 38 7 9m168-29l-2 30 7-52"/><path class="h19" d="M1318 3170l-2 22 7 22l2-26-2 26 8 64m182-65l-2 23 8-17l1-20-1 20 7-15"/><path class="h20" d="M913 3079l-1 96 7-59m392 38l-2 21 7 17m211-9l-1 21 7-16l2-22-2 22 7-17m356-31l-2 129 7-102m197 48l-2 64 8-77m16 48l-2 48"/><path class="h21" d="M769 3063l-2 47 7-43m154 102l-2-26 7-60m24 0l-2 57 7-52m168 45l-2 15 8-16m160-13l-1 21 7 17l1-19-1 19 7 18m233-25l-2 21 7-18m168 11l-1 69 7-52m16 1l-2 29 7-49m190 71l-2 20 8-83m174 62l-1 27 7 39"/><path class="h22" d="M733 3086l-2 16 7-29m24 13l-2 11 7 13m16-71l-1 47 7-25m117 35l-1-1 7 80m9-66l-2 7 7 27m16-78l-1 58 7-36m168-15l-2 55 7 10l2-63-2 63 7 11m9-25l-1 9 7-27m146-4l-2 19 8 20m254-7l-2 20 8-19l1-20-1 20 7-19m124-1l-1 59 7-22m9-30l-2 53 7-28m16 83l-1-48 7 11l2-68-2 68 7 19m211-22l-1 12 7-15m110 13l-2 9 8 7l1 18-1-18 7-43m9-14l-2 71 7-47"/><path class="h23" d="M711 3113l-2-48 8 3l1-9-1 9 7 2l1 52-1-52 7 32m9-4l-2-25 8-5l1 35-1-35 7 0l1-4-1 4 7 29m16-54l-2 24 8 19m8-39l-1 14 7-14m74-9l-2 20 8-4m8 27l-1-19 7 9l2-18-2 18 7 2l2 33-2-33 8 22m30 5l-2-17 8 40m8-33l-1-3 7 53m9-77l-2 25 8 3l1-37-1 37 7-21l1-27-1 27 7-3m110 14l-2 5 8-4l1-17-1 17 7 16l1-19-1 19 7 29m30-59l-1 37 7 11l2-15-2 15 7-21l2-22-2 22 8-13m110-22l-2 19 7 22l2-21-2 21 7 19m276-27l-1 22 7-21m110 49l-2 3 8 27m8-46l-1 24 7 23m9-49l-2 21 8 87m30-50l-2-21 8 6l1-45-1 45 7-4l2-22-2 22 7-39m96 12l-2 35 7-25m9 7l-1 12 7 10l1 4-1-4 7-8l2 45-2-45 7 101m9-123l-2 21 8-4l1-6-1 6 7-4m23-11l-1 22 7 31m9-28l-2 13 7-31m132 2l-2 25 7 97m9-116l-1 39 7 57"/><path class="h24" d="M798 3026l-2 21 7-28m60-3l-2 13 7 29m9 3l-1-7 7 8m103-9l-2 14 7-18l2-19-2 19 7-23m81 11l-1 22 7 19l2-17-2 17 7 8m74-31l-1 27 7-24l1-21-1 21 7-10m88-10l-1 20 7 21m298-4l-2 19 7-20m89 15l-2 29 7 15l2-16-2 16 7 13m89-40l-2 19 7-13m74-8l-1 23 7 17l1-9-1 9 7 28m9-21l-2-4 8 19m44-21l-1 14 7-44m38 32l-2 8 7 7l2-39-2 39 8-25l1-10-1 10 7-13m59 32l-1 5 7 8l1-7-1 7 7-4l2 12-2-12 7 43m16-46l-1 10 7 57"/><path class="h25" d="M805 3006l-2 13 8-13l1-25-1 25 7-26m38 9l-2 17 7 23m139-18l-2 15 8-15l1-20-1 20 7-22m52 7l-2 22 8 14l1-19-1 19 7 27m103-38l-2 27 7-24m74-10l-2 22 8 22m312-5l-2 21 8-22m66 7l-1 21 7 11l1-8-1 8 7 27m110-19l-2 13 8-17l1-15-1 15 7-14m52 7l-2 16 8 23m81-24l-2 12 7 138m52-151l-1 22 7-30m38 17l-2 14 7 13l2-8-2 8 8 23"/><path class="h26" d="M819 2959l-1 21 7-31m23 14l-1 18 7 25m160-39l-1 22 7-27m38 12l-2 19 7 25m125-9l-2 15 7-19l2-19-2 19 8-24m52 10l-2 21 7 24m147 305l-2 43 7-426m175 74l-1 20 7-24m52 9l-2 16 8 27m138-23l-1 24 7-26m38 11l-2 19 7 19m154-28l-2 18 7-27m24 13l-2 22 7 23"/><path class="h27" d="M827 2930l-2 19 7-49m9 31l-2 20 8 30m175-38l-2 19 7-30m24 14l-2 19 7 28m146-30l-1 18 7-25m38 12l-2 19 7 25m341-3l-1 19 7-27m38 13l-2 17 7 22m154-19l-2 21 7-31m24 15l-2 19 7 27m168-36l-2 18 8-47m8 32l-1 17 7 33"/><path class="h28" d="M834 2881l-2 19 7 51m190-38l-2 19 8-49m8 32l-1 18 7 32m160-28l-1 19 7-30m23 14l-1 19 7 28m168-62l-2 33 7 0l2-32-2 32 8-36m23 7l-2 32 8 1l1-33-1 33 7 432m139-412l-2 19 7-29m23 14l-1 18 7 27m168-25l-2 18 8-48m8 30l-1 21 7 31m182-57l-1 19 7 49"/><path class="h29" d="M1217 2907l-2 19 7-49m9 32l-1 18 7 32m370-6l-2 19 7-50m9 32l-1 19 7 31m182-47l-1 19 7 51"/><path class="h30" d="M1036 2864l-1 19 7 50m182-75l-2 19 8 50m196-37l-1 32 7-112m9 81l-2 32 7 38m168-58l-2 19 8 51"/><path class="h33" d="M1433 2778l-1 32 7 113"/><path class="h12" d="M1389 3296l-2 147 7-121"/><path class="h14" d="M1338 3287l-2 82 8-47m30 46l-2 2 8-38m88 18l-2 30 8-57"/><path class="h15" d="M1345 3340l-1-18 7 4l1-6-1 6 7-5l2 13-2-13 7 2l2 30-2-30 7 47m9 2l-1-40 7 111m9-94l-2-27 7 50m81 1l-1-21 7-27"/><path class="h16" d="M1331 3278l-2 20 7 71m125 25l-2-74 7 60m9 29l-1-86 7 29m9-50l-2 23 7 4l2 39-2-39 8-6l1-35-1 35 7-64"/><path class="h18" d="M1323 3214l-1 21 7 63m182-62l-1 23 7-20"/><path class="h19" d="M746 3068l-2 110 7-96m558 93l-2 22 8 16l1-21-1 21 7 22m197-16l-2 20 7-14l2-21-2 21 7-17"/><path class="h20" d="M738 3073l-1 69 7 36m161-83l-2 79 7-68m392 51l-2 22 7 18m226-9l-2 20 8-16l1-21-1 21 7-18m175 7l-2 80 7-90"/><path class="h21" d="M774 3067l-1 49 7-38m146 65l-1-5 7-37m16-14l-2 46 7 16l2-9-2 9 8-57m153 35l-2 38 8-48m167 3l-1 22 7 18l2-20-2 20 7 19m247-26l-1 21 7-19m153-9l-1 84 7-27m23 8l-1 23 7-57m197-7l-2 56 7 3l2-28-2 28 7-38m110 17l-1 31 7-47m45 67l-2 12 8-73"/><path class="h22" d="M709 3065l-1 22 7 3l2-22-2 22 7-3l2-17-2 17 8-4l1 19-1-19 7 59m16-74l-2 14 7-1l2 16-2-16 8 3l1 26-1-26 7 32m117-45l-2 37 8-14l1-21-1 21 7 80m9 1l-2-69 7-8l2 18-2-18 8 40m8-55l-1 18 7 15l2 7-2-7 7 17m24-42l-2 37 7-24l2-34-2 34 7-16m125 10l-2 33 7 34m9-28l-1-20 7 9l1 22-1-22 7-16m9-5l-2 34 8-24m131-14l-1 20 7 21m269-8l-2 21 7-20m117 11l-1 34 7-15m31 68l-2-30 7 58m23-99l-1 15 7 10l2-19-2 19 7-22m110-18l-1 46 7-18m38-12l-2 31 7-13m45-26l-1 43 7-36m81 7l-2 39 8-24m23-12l-2 58 7 0l2-1-2 1 8-13l1-35-1 35 7 4l1 58-1-58 7-22"/><path class="h23" d="M782 3086l-2-8 7-13l2-4-2 4 8-2l1-16-1 16 7-21m66 16l-1 9 7 7l2-20-2 20 7 6l2-18-2 18 7 28m74-20l-1 4 7 36m16-61l-2 21 8-19m95 9l-1 18 7-3l1-7-1 7 7 6l2-17-2 17 7 32m31 1l-2-22 7 29m9-23l-1-1 7-21l1 1-1-1 7-2l2-10-2 10 7-16m103 3l-2 20 8 22m283-6l-2 20 8-21m117 59l-2-8 7-6l2-8-2 8 8 11l1 4-1-4 7 60m23-38l-2-21 8 63m23-70l-2 1 8-23m88 2l-2 19 7-2l2 11-2-11 8 32m9-27l-2 9 7 10l2-9-2 9 7-9l2-8-2 8 8 8l1 85-1-85 7-2l1-15-1 15 7 12m9-35l-2 22 8-47m8 119l-1-72 7 45m16-40l-2 5 8 7m95-33l-1 19 7 55m9-24l-2-23 7 38m31-28l-2-3 7 72m9 27l-1-100"/><path class="h24" d="M803 3019l-1 23 7-22m45-14l-2 20 8 28l1-25-1 25 7 13m124-18l-1 20 7-17l1-26-1 26 7-25m67 5l-2 23 7 17l2-13-2 13 8 24m88-38l-2 18 7-18l2-10-2 10 8-13m81 13l-2 18 7 23m298-5l-1 20 7-21l1-19-1 19 7-24m74 22l-2 23 7 16l2-12-2 12 8 5l1-2-1 2 7 45m88-55l-1 17 7-2l1-28-1 28 7-21l2-24-2 24 7-22m52 7l-1 22 7 10l2-9-2 9 7 27m74-48l-1 19 7 47m37-19l-1 0 7-9l2-16-2 16 7-11l2-18-2 18 8-28m37 11l-1 18 7 29l1-34-1 34 7 0l2-11-2 11 7 36"/><path class="h25" d="M811 3006l-2 14 7-21l2-19-2 19 7-31m24 13l-2 21 7 24m154-15l-2 16 7-20m52 11l-1 16 7 21m117-31l-1 21 7-22m66 13l-1 19 7 21m320-24l-2 17 7-22m60 33l-2 19 7 15m132-33l-2 16 7-25m38 13l-1 19 7 22m153-32l-1 20 7-26m23 14l-2 15 8 26"/><path class="h26" d="M825 2949l-2 19 8-49m8 32l-1 18 7 33m168-13l-2 18 8-26l1-19-1 19 7-30m30 42l-1 17 7 24m131-29l-1 18 7-22l2-20-2 20 7-26m38 12l-2 18 8 24l1-17-1 17 7 26m146 329l-2-12 8-382m182 38l-2 19 7-26m38 10l-1 18 7 24l1-20-1 20 7 26m146-44l-2 17 8-29m23 15l-2 19 8 27m167-37l-1 21 7-49m9 30l-2 19 7 29"/><path class="h27" d="M1049 2965l-2 19 8 26m153-54l-2 19 8-30m23 14l-2 19 7 27m168-47l-1 32 7 1l1-33-1 33 7-37m23 7l-1 32 7 1l2-32-2 32 7 326m139-319l-2 20 8-31m23 14l-2 19 8 26m167-25l-1 19 7-48m9 32l-2 17 7 33"/><path class="h28" d="M832 2900l-1 19 7 50m189-37l-1 19 7-50m9 32l-2 19 7 32m168-58l-1 19 7-49m9 31l-2 19 7 32m370-6l-1 18 7-49m9 32l-2 18 7 32m378-3l-2 19 7 49"/><path class="h29" d="M1035 2883l-2 18 7 51m385-30l-2 32 7-111m9 80l-1 33 7 37m363-17l-2 19 7 49"/><path class="h30" d="M1222 2877l-1 19 7 50m384-24l-1 19 7 50"/><path class="h32" d="M1432 2810l-2 33 8 113"/><path class="h11" d="M1459 3320l-1 162 7-96"/><path class="h13" d="M1344 3322l-2 76 7-39m132-7l-2 52 8-12"/><path class="h14" d="M1336 3369l-1 8 7 21m9-72l-2 33 7-25m110 46l-1 6 7-36m16-25l-1 67 7-47"/><path class="h15" d="M1329 3298l-1 21 7 58m23-56l-2 13 8 17l1-28-1 28 7-16l1 35-1-35 7 0l2-3-2 3 7 9l2 99-2-99 8-6l1-16-1 16 7-2m74-13l-2 27 7 54m16-75l-1 16 7-23"/><path class="h16" d="M1503 3323l-2-1 7-47"/><path class="h17" d="M1322 3235l-2 20 8 64m182-60l-2 16 7-17"/><path class="h18" d="M730 3083l-2 134 7-34m580 30l-2 20 7 22m197-16l-2 19 8-13l1-20-1 20 7-17"/><path class="h19" d="M737 3142l-2 41 7-39m558 35l-1 21 7 17l1-20-1 20 7 16m218-25l-1 20 7-15"/><path class="h20" d="M744 3178l-2-34 8-42m23 14l-2 29 8-21m117-30l-2 83 7-63m219 3l-2 68 7-1l2-58-2 58 8-19m160-5l-2 21 8 19m240-8l-2 21 7-18l2-21-2 21 8-20m174-4l-1 87 7-67m153-15l-1 96 7-68m16-10l-2 65 8-56m153-11l-2 89 8 6l1-57-1 57 7 5l1-62-1 62 7-73"/><path class="h21" d="M708 3087l-2 35 8 11l1-43-1 43 7 3l1-49-1 49 7 81m52-139l-1 46 7-17m102 1l-1 16 7 53m45-61l-2 20 8-20m8 33l-1-10 7-27m9 16l-2 18 8-17m124-30l-2 55 8 18l1-41-1 41 7-39m23-23l-1 55 7-2l1-24-1 24 7-25m132-17l-2 21 7 20l2-20-2 20 7 19m262-26l-1 20 7-22m124 12l-1 49 7 6l1-61-1 61 7-39m45-4l-2 53 8-37m124-18l-2 67 8-50m59 34l-2 9 8 13l1-19-1 19 7-16l1-41-1 41 7-43m146 10l-1 50 7-18"/><path class="h22" d="M751 3082l-1 20 7-1l1-20-1 20 7-3l2-14-2 14 7 47m16-80l-1 42 7-36m74-4l-2 24 7 16l2-33-2 33 8 10l1-37-1 37 7 7m16 50l-2-60 8 7l1-15-1 15 7 1l1-24-1 24 7-3l2 19-2-19 7 0l2-18-2 18 7 17m9-3l-1-17 7 23m9-47l-2 20 7 34m9-42l-1 25 7-19l1-22-1 22 7-31m96 17l-2 21 7 21l2-45-2 45 7 16m16 11l-1-32 7 52m31-70l-2 23 7-24m117-15l-1 21 7 22m283-7l-1 18 7-22m132 39l-2 11 7 4l2 45-2-45 7 3l2 15-2-15 8 4l1 69-1-69 7 66m9-24l-2-43 7 39m9-43l-1 6 7-14l1-14-1 14 7 5l2-42-2 42 7-35m96 44l-2 0 7 49m9-57l-1 7 7 80m9-88l-2 20 7-6l2-16-2 16 7 61m9-78l-1 22 7-40m9 18l-2 23 7 31m110-27l-1 24 7-15l2-33-2 33 7 2l2 20-2-20 7 62m24-64l-2 2 7-2l2 4-2-4 8 32m8 22l-1-40 7-15l2-18-2 18"/><path class="h23" d="M795 3063l-2 8 7-11l2-18-2 18 7-19m53 13l-2 17 7 20m125-22l-2 10 7-15m81 8l-1 15 7 30m74-23l-2 20 7-8l2-14-2 14 8-13l1-17-1 17 7-14m88-3l-1 21 7 23m298-6l-2 17 7-22m88 21l-1 17 7 16l2-28-2 28 7 7l2 10-2-10 8 44m88-74l-2 9 7-8m67-5l-2 32 8 7l1-12-1 12 7 7l1-21-1 21 7 11m96 5l-2-9 7-9l2-18-2 18 8-11l1-16-1 16 7-11m52 14l-2 5 8 13l1-18-1 18 7 42"/><path class="h24" d="M809 3020l-2 21 8-23m37 8l-1 16 7 29m139-19l-2 12 7-14l2-23-2 23 8-24m52 8l-2 21 8 17l1-17-1 17 7 15m102-29l-1 21 7-14l2-20-2 20 7-24m67 14l-2 18 8 24m312-4l-2 16 7-20m67 10l-2 15 8 14l1-14-1 14 7 19m117-28l-2 22 8-23m52 8l-2 12 7 30m82-34l-2 29 7 41m52-62l-1 16 7-24m38 9l-2 22 7 12"/><path class="h25" d="M816 2999l-1 19 7-32m23 16l-1 17 7 23m160-35l-1 19 7-27m38 11l-2 20 7 25m132-32l-2 18 8-21m52 9l-2 21 7 23m327-4l-2 20 8-24m52 8l-2 18 7 23m139-17l-1 21 7-26l1-20-1 20 7-29m23 14l-1 19 7 24l2-16-2 16 7 18m154-24l-2 20 7-28m23 11l-1 24 7 24"/><path class="h26" d="M823 2968l-1 18 7-48m9 31l-2 19 8 31m175-38l-2 18 7-29m23 14l-1 19 7 27m146-29l-1 19 7-26m37 11l-1 19 7 26m153 322l-1-36 7-314l2-32-2 32 7 1l2-32-2 32 7-36m24 6l-2 33 7 0l2-32-2 32 8 456m131-435l-1 18 7-26l1-18-1 18 7-30m31 40l-2 19 7 23m161-48l-2 20 7-49m9 30l-1 20 7 32m175-8l-2 18 7-48m9 30l-1 19 7 34"/><path class="h27" d="M831 2919l-2 19 7 50m190-37l-2 19 7-50m9 32l-1 19 7 32m160-28l-1 19 7-30m23 14l-1 19 7 27m384-1l-1 19 7 26m370-29l-2 19 8 49"/><path class="h28" d="M1214 2945l-2 19 7-50m9 32l-2 19 8 32m189-43l-2 33 8-112m9 81l-2 32 7 38m161-36l-2 19 7-49m9 31l-1 20 7 31m182-47l-2 19 8 50"/><path class="h29" d="M1033 2901l-2 19 8 51m182-75l-2 18 7 51m385-24l-2 19 8 51"/><path class="h32" d="M1430 2843l-1 32 7 113"/><path class="h9" d="M1385 3344l-1 258 7-228"/><path class="h11" d="M1465 3386l-2 110 7-101"/><path class="h12" d="M1378 3335l-1 93 7 174"/><path class="h13" d="M1472 3350l-2 45 8 23l1-14-1 14 7-55"/><path class="h14" d="M1335 3377l-2-20 7-4l2 45-2-45 8 7l1-1-1 1 7 20l1-46-1 46 7-25l2-4-2 4 7 0l2-20-2 20 8 73m16-90l-2 36 7 99m60 9l-2-93 7 107m31-151l-2 27 7-19"/><path class="h15" d="M1328 3319l-2 17 7 21m154 35l-2-29 7 9m9-50l-2 31 8-52"/><path class="h17" d="M728 3217l-2 24 8-120m586 134l-1 17 7 64m182-61l-1 26 7-19l1-24-1 24 7-15"/><path class="h18" d="M923 3119l-2 107 8-87m377 78l-2 20 8 17l1-21-1 21 7 18m204-27l-2 22 7-18l2-21-2 21 7-17"/><path class="h19" d="M742 3144l-1 53 7-16l2-79-2 79 7-2l2-78-2 78 8-60m174 17l-1 73 7-40m348 12l-1 21 7 19l2-21-2 21 7 16m233-24l-2 19 8-18m558 35l-2 62 7-2l2-78-2 78 7-72"/><path class="h20" d="M706 3122l-1 36 7-29m175-5l-2 51 8 5l1-3-1 3 7 1l1-67-1 67 7-46m9-13l-2 67 7 37m24-110l-2 53 7-35m154 38l-2 10 7-17m175-3l-1 20 7 20m254-7l-1 19 7-18m139 24l-2 19 7-38m9-16l-1 77 7-58m23-13l-1 52 7 7l1-20-1 20 7-38m312 7l-1 61 7-20m23-41l-1 76 7 4l1-82-1 82 7 12"/><path class="h21" d="M714 3133l-2-4 7-5l2 12-2-12 7 117m9-58l-1-62 7 76m23-99l-1 21 7 2l1 24-1-24 7-7l2 10-2-10 7 13l2-20-2 20 7-24m89 14l-2 38 7 20m24-54l-2 14 7 54m16-70l-1 20 7 70m16-70l-2-5 8 28l1-50-1 50 7 0l1-16-1 16 7-14l2-19-2 19 7-24m117 30l-1 18 7 10m9-49l-2 32 8-14l1 34-1-34 7 24l1 9-1-9 7-29m9 17l-2-5 7 15l2-35-2 35 8-14l1-45-1 45 7-25m117 8l-2 20 8 20m269-7l-2 21 7-22m117-4l-1 45 7-8l2 7-2-7 7 32m60-46l-2 19 7-24m103-6l-2 38 8-2m8 24l-1-20 7 25l2-55-2 55 7-30m9-13l-2 44 8 0l1-50-1 50 7 8l1 3-1-3 7-29l2-24-2 24 7-44m16 52l-1 11 7-28m9 14l-2 10 7 2l2-55-2 55 8-24m81 12l-2 17 7 10l2-42-2 42 8 21m8 1l-1-21 7-29m9 61l-2-46 8 49"/><path class="h22" d="M793 3071l-2 32 8-28m66 16l-1 12 7 9l1-5-1 5 7 43m103-45l-2 14 7-20l2-25-2 25 8-17m88 30l-2 7 8 6l1 8-1-8 7 42m38-7l-2-19 7 12m23-52l-1 28 7-22m103 8l-2 20 7 22m284-9l-2 21 7-23m96-4l-2 25 8 0l1-9-1 9 7 43m23-34l-2 20 8 61m8-74l-1 16 7-4l2-8-2 8 7 0l2 58-2-58 8 43m23-64l-2 9 7 0l2-4-2 4 8-15m73-5l-1 22 7 18l2-33-2 33 7 12m9-27l-1 25 7 4m16 50l-2-55 7 31m38-44l-1 15 7 27m9 2l-2-30 7 24m16-62l-1 40 7-31m67 1l-2 31 7 28m31 38l-2-56 7 15m38-30l-2 21"/><path class="h23" d="M800 3060l-1 15 7-17l1-17-1 17 7-21m38 5l-2 24 7 19l2-14-2 14 8 18m131-39l-1 23 7-18m67 3l-2 22 7 11l2-18-2 18 7 19m89-31l-2 19 7-15l2-18-2 18 8-14m73-10l-1 20 7 22l2-18-2 18 7 25m298-9l-2 20 8-23l1-19-1 19 7-20m74 20l-2 24 7 20m110-23l-1 24 7-11l1-21-1 21 7-28m52 4l-1 20 7 32m81-27l-2 20 8 36m45-50l-2 20 7-16l2-15-2 15 7-19m38 11l-1 14 7 22l1-24-1 24 7 20"/><path class="h24" d="M815 3018l-2 19 7-31m24 13l-2 20 7 27m153-16l-1 19 7-24l2-19-2 19 7-27m38 12l-2 19 8 25l1-19-1 19 7 20m117-29l-1 18 7-21m59-12l-1 19 7 24m326-4l-1 19 7-24m52 7l-1 21 7 20l1-18-1 18 7 20m132-34l-2 16 7-22m38 8l-2 20 8 18m153-24l-2 20 8-30m23 17l-2 19 8 19"/><path class="h25" d="M822 2986l-2 20 8-49m8 31l-1 19 7 32m175-40l-2 19 8-30m23 15l-2 18 7 28m139-8l-1 21 7-23l2-19-2 19 7-26m38 11l-2 19 8 26m341-4l-2 19 7-25m38 9l-2 20 8 24m153-20l-2 20 8-30m23 14l-2 18 7 26m168-34l-1 18 7-47m9 30l-2 18 7 35"/><path class="h26" d="M1024 2970l-1 18 7-49m9 32l-2 19 7 31m161-27l-2 19 7-30m24 14l-2 19 7 27m161 293l-2 137 7-418l2-33-2 33 8 0l1-32-1 32 7-36m23 7l-1 32 7 1l1-33-1 33 7 330m139-350l-2 20 8-31m23 14l-2 19 7 27m168-25l-1 19 7-50m9 32l-2 18 7 32"/><path class="h27" d="M829 2938l-1 19 7 50m377-43l-2 19 8-50m8 32l-1 19 7 32m189-29l-1 32 7-112m9 81l-2 32 8 38m160-49l-1 19 7-49m9 32l-2 18 7 32m182-47l-1 18 7 50m189-24l-1 19 7 48"/><path class="h28" d="M1031 2920l-1 19 7 51"/><path class="h29" d="M1219 2914l-1 19 7 51m384-24l-1 19 7 50"/><path class="h32" d="M1429 2875l-2 32 7 113"/><path class="h10" d="M1355 3380l-2 183 8-130"/><path class="h11" d="M1377 3428l-2 53 7-95m103-23l-2 128 8-58"/><path class="h12" d="M1362 3355l-1 78 7-49m95 112l-1-51 7-61m23-12l-1 61 7-70"/><path class="h13" d="M1348 3360l-2 45 7 158m38-189l-2 13 8 42m59-40l-2 26 8 30m16-27l-2 1 7 72"/><path class="h14" d="M1333 3357l-1 9 7 14l1-27-1 27 7 25m23-50l-1 29 7 97m9 121l-2-216 7 1m81 8l-1-11 7 35"/><path class="h15" d="M1326 3336l-2 8 8 22m167-13l-1 10 7-39m601-15l-1 123 7-169"/><path class="h16" d="M705 3158l-2 105 7 30l2-164-2 164 8-76m601 55l-2 25 7 47m183-43l-2 23 7-20"/><path class="h17" d="M929 3139l-2 117 7-42m370 23l-1 21 7 19l2-23-2 23 7 20m197-15l-2 22 7-18l2-19-2 19 8-14"/><path class="h18" d="M719 3124l-1 93 7-15m9-81l-2 90 7 8l2-22-2 22 8-29m550 31l-1 20 7 17m225-9l-1 23 7-18l1-22-1 22 7-18"/><path class="h19" d="M726 3241l-1-39 7 9m16-30l-1 9 7-51m146 42l-2 25 7 0l2-71-2 71 8 0l1-17-1 17 7-51m16 54l-2 5 8-57m167 8l-1 57 7 7l2-78-2 78 7-24m161-23l-2 21 7 21l2-22-2 22 8 17m247-27l-2 22 7-21m139 24l-1 35 7-55m9 43l-2 18 7-59m31 29l-2 24 7-59m161 41l-2 42 8-64m167 12l-1 61 7-54"/><path class="h20" d="M763 3119l-2 46 7-29m110 19l-1 22 7-30m9 33l-2-14 7 40m52-72l-1 44 7 7l2-23-2 23 7-10l2-13-2 13 7-13m132 20l-2 23 8 17m16-47l-2 30 7-33m9-14l-1 32 7-10m131-18l-1 20 7 21m269-7l-2 19 8-22m124 14l-2 49 8 18m30-74l-1 48 7-9m9 4l-2 4 7 27m132-52l-2 53 7-23m24-4l-2 37 7 13m31-52l-2 42 7-51m110 22l-1 15 7 12l2-6-2 6 7-26m9-29l-2 48 8 28m16-8l-2-17 7-21"/><path class="h21" d="M755 3179l-1-40 7 26m9-44l-2 15 7 9l2-31-2 31 8-23l1 5-1-5 7-2l1-17-1 17 7-15m74 7l-2 20 8 45m8-2l-1-28 7 19m30 60l-1-71 7 101m16-87l-1-12 7 21m23-30l-2 14 8-32m110 0l-2 18 7 8l2 16-2-16 7 49m31-59l-2 26 8 18m8-17l-1 7 7-27l2 6-2-6 7-1m110-12l-1 20 7 22m283-8l-1 19 7-20m131 28l-1 18 7 61m9-76l-2 17 8 27m8-48l-1 39 7 8m16-35l-2 3 8 18l1-45-1 45 7-35m103 20l-2 15 7 42m9-28l-2 5 8-14l1-21-1 21 7-4l1 14-1-14 7 51m16-58l-1 7 7-41m9 26l-2 18 7 51m9-70l-2 19 8 23l1-18-1 18 7-29m110 29l-2 0 7 19m17 16l-2-42 7 29m9 29l-2-50 8 171m8-195l-1 26"/><path class="h22" d="M799 3075l-2 30 7-29m52 9l-1 20 7 13l2-15-2 15 7 14m110-8l-1 6 7-3l1-23-1 23 7-18l2-22-2 22 7-26m67 11l-2 21 8 16l1-26-1 26 7 6l1-13-1 13 7 11m74-14l-2 18 7-13l2-27-2 27 8-24m88 0l-2 21 8 24m297-9l-1 22 7-25m81 4l-1 21 7 21l1-22-1 22 7 0l2-22-2 22 7 7l2 14-2-14 7 55m81-68l-1 10 7 4l2-29-2 29 7-21m67 9l-2 17 8-2l1 3-1-3 7 10l1 5-1-5 7 18m95 11l-1-13 7-13l2 2-2-2 7-10l2-19-2 19 8-10m52 3l-2 11 7 26l2-17-2 17 8-5l1 16-1-16 7 41"/><path class="h23" d="M806 3058l-2 18 8-20m37 10l-1 14 7 25m146-36l-2 14 8-19m52 10l-2 17 7 24m110-18l-1 18 7-16l2-16-2 16 7-20m67 14l-2 19 7 24m313-8l-2 20 7-21m67 5l-2 22 8 19m124-11l-2 19 8-27l1-20-1 20 7-24m37 10l-1 21 7 24l2-27-2 27 7 22m81-24l-1 10 7 44m52-64l-1 25 7-23l1-21-1 21 7-31m31 35l-2 25 7 8"/><path class="h24" d="M813 3037l-1 19 7-31m23 14l-2 16 8 25m160-35l-1 19 7-26m37 11l-1 17 7 25m132-29l-2 17 7-22m53 12l-2 18 7 25m327-4l-2 19 7-25l2-18-2 18 8-24m37 10l-1 20 7 22l2-18-2 18 7 24m146-42l-1 18 7-29m23 13l-1 19 7 28m168-37l-2 20 7-48m9 29l-2 21 8 28l1-14-1 14 7 30"/><path class="h25" d="M820 3006l-1 19 7-49m9 31l-2 19 7 29m175-37l-1 20 7-31m23 14l-1 20 7 25m146-27l-2 18 8-25m37 11l-1 19 7 25m348-28l-1 19 7-31m23 14l-1 19 7 28m168-26l-2 19 7-50m9 31l-2 19 8 32"/><path class="h26" d="M828 2957l-2 19 7 50m190-38l-2 19 7-49m9 32l-2 18 8 33m160-28l-1 19 7-31m23 15l-1 19 7 27m160 411l-1-44 7-342l1-32-1 32 7 1l2-33-2 33 7-37l2-32-2 32 8-111m8 80l-1 33 7 37l2-32-2 32 7 1l2-32-2 32 7 324m147-387l-2 19 7-49m9 31l-2 19 8 32m377-3l-2 19 7 50"/><path class="h27" d="M1030 2939l-2 19 7 50m175-25l-1 18 7-49m9 32l-2 19 8 32m572-3l-2 19 7 50"/><path class="h28" d="M1218 2933l-2 19 7 51m385-24l-2 19 7 50"/><path class="h32" d="M1427 2907l-1 33 7 113"/><path class="h10" d="M1375 3481l-2 93 8-133m88-57l-2 161 8-121"/><path class="h11" d="M1353 3563l-1-65 7-47"/><path class="h12" d="M1332 3366l-2 86 7-15l2-57-2 57 8 1l1-33-1 33 7 60m9-65l-2 18 7-51m16-14l-1 55 7-19l1-35-1 35 7-16m59 9l-1 64 7-29l2-5-2 5 7 95m16-54l-1-50 7-25"/><path class="h13" d="M1324 3344l-1 43 7 65m38-68l-2 16 7 174m103-155l-1 5 7 17m9-8l-2-17 7-5l2-48-2 48 7-72"/><path class="h15" d="M1505 3324l-2 15 8-18"/><path class="h16" d="M1310 3277l-2 19 8 19l1-18-1 18 7 72m189-83l-1 17 7-12"/><path class="h17" d="M732 3211l-2 42 8-63m167 16l-1 65 7-94m385 64l-2 22 7 17l2-22-2 22 7 16m211-10l-1 23 7-18l2-19-2 19 7-16m544 32l-2 67 7-71m9-21l-1 113 7-50"/><path class="h18" d="M718 3217l-2-12 7-34m31-32l-2 78 7-30m363 18l-1 54 7-19m160-16l-1 20 7 19m240-9l-2 21 8-19l1-20-1 20 7-21m334 3l-2 91 7-45m45 4l-1 46 7-40m160-33l-1 84 7-40m9-42l-2 90"/><path class="h19" d="M703 3263l-1-69 7 6l1 93-1-93 7 5m23 14l-1-29 7-25m16 0l-2 22 8-33m117-7l-2 68 7-25l2-24-2 24 8 1l1 15-1-15 7 80m30-57l-1-5 7-29m9-2l-2 34 7-7l2-20-2 20 8-16m131-33l-1 60 7 17l1-28-1 28 7-27m23-34l-1 68 7-18l2-32-2 32 7-19m132-21l-2 21 8 22l1-22-1 22 7 19m261-29l-1 20 7-23m175 35l-2 49 8-60m175-2l-2 84 7-105m23 24l-1 57 7 10l2-44-2 44 7-23m110-21l-1 60 7-52"/><path class="h20" d="M725 3202l-2-31 7 82m17-63l-2-25 7 52m16-81l-1 18 7 4l1-13-1 13 7-14m88-12l-1 37 7-6l2 14-2-14 7 52m31-9l-2-29 7 3l2-25-2 25 8-3l1 79-1-79 7 32m9-52l-2 23 7 32m16-37l-1 14 7-16l1-11-1 11 7-20m132 69l-2-16 7-3l2 26-2-26 8 56m23-79l-2 23 7-27m118-16l-2 20 7 23m284-10l-2 19 7-20m132 27l-2 41 8-1l1 21-1-21 7-20l1-18-1 18 7 6l2 3-2-3 7 1l2-7-2 7 7 50m24-63l-2 14 7-8m117 13l-1 32 7 45m9-95l-2 50 8-21l1 22-1-22 7-8m23-18l-2 53 8 44m23-103l-2 50 8-16l1-47-1 47 7-24m74-8l-2 56 7-3l2-12-2 12 7-22m31-11l-2 50 8 92m16 37l-2-127 7 48"/><path class="h21" d="M783 3122l-2 22 7-15l2-9-2 9 8-15m59-9l-2 24 8 18l1-29-1 29 7 22m110-39l-2 23 7-5l2-21-2 21 8-21m88 10l-2 21 7 14l2-24-2 24 8 44m59-63l-2 23 8-3l1-21-1 21 7-12l1-22-1 22 7-24m88-1l-1 20 7 24m298-7l-2 19 7-26m89 28l-2 21 7 18l2-39-2 39 8-14l1-18-1 18 7 6l1 31-1-31 7 6l2 43-2-43 7 29m45 14l-1-38 7-1l1-20-1 20 7 12m9-49l-2 41 8-23l1-14-1 14 7-17m66 8l-1 20 7-3l2-19-2 19 7 11l2-20-2 20 7 10l2-12-2 12 8 0l1 30-1-30 7 39m30 14l-1-43 7 63m59-110l-1 33 7-21m52-8l-1 36 7-4l1-6-1 6 7 45m16-3l-2-22 8 56m8-41l-1-11 7 106"/><path class="h22" d="M797 3105l-1 9 7-15l1-23-1 23 7-26m38 7l-2 24 7 25m139-20l-1 18 7-25m66 13l-1 20 7 11l2-15-2 15 7 12m96-43l-2 22 7-18m74-7l-1 19 7 25m312-8l-2 18 8-20m66 8l-1 18 7 24l2-23-2 23 7 19m117-34l-1 18 7-27m52 13l-1 11 7 31m81-34l-2 20 7 77m53-92l-2 22 7-30m38 14l-2 18 8 26"/><path class="h23" d="M812 3056l-2 17 7-29m23 11l-1 23 7 26m153-21l-1 19 7-19l2-19-2 19 7-27m38 10l-2 20 8 23l1-18-1 18 7 26m117-36l-2 20 8-19l1-21-1 21 7-23m52 10l-2 20 8 24m326-4l-1 19 7-23m52 7l-2 21 8 21m139-18l-2 18 7-23m38 12l-2 19 8 16m153-21l-2 15 7-28m24 12l-2 23 7 25"/><path class="h24" d="M819 3025l-2 19 7-49m9 31l-1 19 7 33m175-40l-2 18 7-29m24 14l-2 19 7 26m146-29l-1 20 7-26m38 11l-2 20 7 25m341-5l-1 21 7-27m38 12l-2 17 7 26m154-21l-2 19 7-30m24 14l-2 18 7 29m168-36l-2 18 8-47m8 31l-1 17 7 34"/><path class="h25" d="M1021 3007l-2 20 8-50m8 31l-1 20 7 32m161-28l-2 19 7-31m24 15l-2 19 7 28m356-4l-2 18 7-30m24 14l-2 18 7 27m168-24l-2 18 8-49m8 31l-1 20 7 30m182-55l-1 19 7 48"/><path class="h26" d="M826 2976l-2 19 8 50m377-44l-2 19 7-49m9 32l-1 19 7 32m168 375l-2-23 7-287l2-32-2 32 8 1l1-32-1 32 7-36l1-33-1 33 7-112m9 81l-2 32 7 38l2-33-2 33 8 0l1-32-1 32 7 356m146-432l-2 19 8-49m8 31l-1 19 7 31m182-47l-1 19 7 51"/><path class="h27" d="M1028 2958l-1 19 7 51m572-30l-1 19 7 50"/><path class="h28" d="M1216 2952l-2 19 8 51"/><path class="h32" d="M1426 2940l-2 32 7 113"/><path class="h10" d="M1467 3545l-1 1 7-96"/><path class="h11" d="M1345 3438l-2 50 7-1l2 11-2-11 7-27m96 19l-2 13 8-33"/><path class="h12" d="M1330 3452l-1-3 7-23l1 11-1-11 7 62m16-37l-2 9 8-23l1-37-1 37 7 16l1 121-1-121 7-19l2 7-2-7 7 38l2-50-2 50 8-48m66 26l-1 9 7 87m9-122l-2 26 7 5l2-14-2 14 7-28"/><path class="h13" d="M1323 3387l-2-1 8 63m160-33l-2 11 8-14l1-2-1 2 7-48"/><path class="h15" d="M709 3200l-2 102 7-52m9-79l-1 144 7-121m587 121l-2 22 7 49m182-47l-1 26 7-21l2-23-2 23 7-14"/><path class="h16" d="M702 3194l-2 77 7 31m219-125l-2 110 7-92m370 85l-1 20 7 18l1-22-1 22 7 19m204-28l-2 21 8-16l1-23-1 23 7-19"/><path class="h17" d="M716 3205l-2 45 8 65m23-150l-2 84 8-64m536 59l-2 20 7 19l2-20-2 20 8 17m232-25l-1 20 7-18m572 76l-1 28"/><path class="h18" d="M759 3187l-1 33 7-18m132-11l-2 34 7-34m45 21l-1 16 7 4l1-27-1 27 7-16m139 17l-2 10 8-5m175-13l-2 20 7 19m255-8l-2 21 7-21m139-25l-2 74 8-48m23-12l-2 75 8-60m146-15l-2 78 7 11l2-50-2 50 8-58m174-12l-1 79 7-43m31 95l-2-30 7-75"/><path class="h19" d="M730 3253l-1-59 7-5l2 1-2-1 7 60m9-32l-1-32 7 35m9-66l-2 48 7-32m139 7l-1 46 7-28l1-15-1 15 7 92m9-78l-2-14 7 17l2-32-2 32 8 16m16-39l-2 27 7-21m139 11l-1 32 7-21l1-14-1 14 7-12m9 35l-2 2 7-24l2 4-2-4 8 7l1-22-1 22 7-30m124 8l-1 21 7 21m269-10l-2 21 7-24m125-7l-2 67 7 13m53-69l-2 68 7-11l2-58-2 58 7-49m139 40l-1 26 7-27m45 11l-2 22 8-12l1 0-1 0 7-10m117-26l-2 59 8 11l1 36-1-36 7-49m23 16l-2 27 8 49"/><path class="h20" d="M774 3158l-2 12 7 6l2-32-2 32 8-29m74 0l-2 13 7 18l2-9-2 9 7-1l2-14-2 14 8 10l1 28-1-28 7 0l1 3-1-3 7 38m9 46l-2-80 8 32m59-50l-2 22 8-29m102-8l-1 32 7-5l1-13-1 13 7 8l2 23-2-23 7 50m24 16l-2-54 7 37m23-66l-1 19 7-7l2-15-2 15 7-8m103 0l-2 20 8 24m283-12l-2 20 8-23m110 10l-2 42 7 31m16-32l-1-3 7 13l2-11-2 11 7-7l2-24-2 24 7 57m9-74l-1 14 7 13l1 23-1-23 7 31m23-65l-1 15 7-21m88 2l-1 39 7 2l1-31-1 31 7 47m16 6l-1-53 7 34m9-47l-2 20 7-2l2-26-2 26 7-3l2 40-2-40 8-40m8 52l-1-7 7-9l2 60-2-60 7 42m16-35l-1 13 7-13l2-16-2 16 7-36m74 44l-2 5 8-12l1 4-1-4 7 61m9-23l-2-20 7 27m16-24l-1-14 7 76m9-20l-2-55 7 42"/><path class="h21" d="M788 3129l-1 18 7-11l2-22-2 22 7-22m52 15l-1 20 7 11m117-7l-1 13 7-11l1-7-1 7 7-9l2-19-2 19 7-25m67 14l-2 18 7 13l2-20-2 20 8 24m88-29l-2 19 8-19l1-24-1 24 7-25m81 20l-2 19 7 25m298-8l-1 17 7-20m81 7l-2 12 8 16l1-9-1 9 7 9l1 0-1 0 7 28m81-14l-2-3 8 10m9-38l-2 17 7-15l2-19-2 19 7-26m60 35l-2 7 7 12l2-22-2 22 8 28m66-61l-1 25 7 45m45-42l-2 4 7-6l2-19-2 19 8-27m37 10l-1 19 7 21l2-14-2 14 7 3l2-21-2 21 7 29"/><path class="h22" d="M803 3099l-2 15 7-21l2-20-2 20 8-31m23 16l-2 16 7 24l2-14-2 14 8 31m146-47l-2 19 7-21m53 9l-2 17 7 27m117-34l-1 17 7-19m67 14l-2 20 7 24m312-9l-1 23 7-25l2-18-2 18 7-22m60 30l-2 14 7 22m132-36l-2 20 8-23m37 11l-1 17 7 21l2-22-2 22 7 16m146-44l-1 22 7-30m23 15l-1 18 7 26"/><path class="h23" d="M817 3044l-1 18 7-48m9 31l-2 20 7 29m168-11l-2 17 8-25m37 11l-1 19 7 21m132-26l-2 17 7-23m52 13l-1 18 7 26m334-28l-2 19 8-26m37 9l-1 19 7 23l1-16-1 16 7 19m146-37l-1 20 7-31m23 13l-1 21 7 25m167-35l-1 20 7-48m9 29l-2 20 8 32"/><path class="h24" d="M1012 3056l-1 19 7-30m23 15l-1 18 7 27m146-28l-2 17 7-24l2-19-2 19 8-31m23 15l-2 19 8 27l1-18-1 18 7 25m348-29l-1 20 7-31m23 13l-2 20 8 26m167-25l-1 19 7-49m9 32l-2 18 8 33"/><path class="h25" d="M824 2995l-1 19 7 51m189-38l-1 18 7-49m9 32l-2 18 8 32m167-58l-1 19 7-49m9 32l-2 19 7 32m370-7l-1 19 7-49m9 31l-2 19 7 32m378-3l-2 19 7 49"/><path class="h26" d="M1027 2977l-2 19 7 50m363 360l-1 18 7-272l1-33-1 33 7 0l2-32-2 32 7-36l2-32-2 32 7-112m9 81l-1 32 7 38l1-32-1 32 7 1l2-33-2 33 7 336m349-422l-2 19 7 50"/><path class="h27" d="M1214 2971l-1 19 7 51m385-24l-2 19 7 50"/><path class="h32" d="M1424 2972l-2 32 8 113"/><path class="h8" d="M1365 3437l-2 200 7-144"/><path class="h10" d="M1343 3488l-2 59 8 11l1-71-1 71 7-94"/><path class="h11" d="M1336 3426l-2 49 7 72m31-94l-2 40 7-41m89 94l-2-53 7-43m9 5l-1 33 7 2l1-63-1 63 7-54"/><path class="h12" d="M1321 3386l-1 73 7-19l2 9-2-9 7 35m23-15l-1 4 7 173m16-203l-2 18 8-9l1 29-1-29 7-1m59 50l-1-21 7-8l2-4-2 4 7 30m9-43l-2 0 8 38m16-75l-2 23 7-27"/><path class="h13" d="M1314 3337l-2 50 8 72m182-94l-2 44 8-15"/><path class="h14" d="M729 3194l-2 142 8-50m572 32l-2 51 7 18m197-43l-1 50 7-13l1-51-1 51 7-20"/><path class="h15" d="M1292 3283l-1 51 7 15l2-49-2 49 7 20m219-55l-2 47 7-17m558 21l-2 73 8-109"/><path class="h16" d="M700 3271l-2 5 8-56m30-31l-1 97 7-88m146-11l-2 110 7-70m212 11l-2 76 7-86m168 17l-2 49 8 22l1-52-1 52 7 18m240-39l-2 49 7-19l2-48-2 48 8-22m153-33l-2 111 8-72m175-33l-2 125 7-31m9-87l-2 130 8-79m182-45l-2 134 7 15"/><path class="h17" d="M714 3250l-1 16 7-59m31-22l-2 84 7-70m117-22l-1 84 7-56m31 18l-2 48 7-15m23-44l-1 52 7 14l2-50-2 50 7-35m175-1l-1 36 7-31m139-23l-2 50 7 20m269-38l-1 47 7-18m334 25l-2 60 7 43m16-135l-1 78 7-81m197 106l-2 12"/><path class="h18" d="M707 3302l-1-82 7 46m9 49l-2-108 7 129m139-158l-1 57 7 26m23-36l-2 2 8-7m16-25l-2 61 7-43m31 19l-2 11 8 0l1-27-1 27 7-6l1-42-1 42 7-6l2-65-2 65 7-33m103-13l-2 78 8 9l1-79-1 79 7-14l1-15-1 15 7 56m160-114l-1 48 7 26m283-42l-1 53 7-31m124 51l-1 12 7-25m16-29l-1 46 7-21m23 16l-2 22 8 2l1-35-1 35 7-1l1-83-1 83 7-59m110 55l-1 9 7-19m30-32l-1 53 7 22m131-62l-1 68 7-56"/><path class="h19" d="M743 3249l-1-51 7 71m9-49l-2-21 7 10l2-7-2 7 8-1l1-38-1 38 7 2l1-34-1 34 7-29m9-45l-2 55 8-34m59 3l-2 50 8 25m16-48l-2 18 7 92m16-106l-1 29 7 51m16 16l-2-74 8 0l1-18-1 18 7 51m131-98l-1 49 7 19l2-44-2 44 7 29m31-46l-2 11 7 4l2-27-2 27 8 46m8-60l-1 29 7-22l2 0-2 0 7 23l2-53-2 53 8-11l1-49-1 49 7-31m95-31l-1 49 7 24m298-39l-2 45 7-18m103 25l-2 11 8 1l1 19-1-19 7 44m9-60l-2 35 7 89m16-61l-1-32 7 1l2-29-2 29 7 1l2-17-2 17 7 36m31-93l-2 55 8-40m66-14l-1 61 7-7l1-42-1 42 7 22l2-36-2 36 7-16l2-18-2 18 8 38m8 2l-1-21 7 88m45-118l-2 29 8 3l1-41-1 41 7-14l1 15-1-15 7 3l2 0-2 0 7-14m9-9l-2 44 8-44m95 19l-1 15 7-9m9 32l-2-27 7 112m16-133l-1 39 7-7l1 10-1-10 7 71"/><path class="h20" d="M787 3147l-2 34 7 10m9-77l-1 43 7-17m37-22l-1 43 7 19l2-31-2 31 7 30m125-55l-2 43 7-6l2-46-2 46 8-27m66-12l-1 36 7 26m95-35l-1 26 7-9l2-36-2 36 7-17m74-29l-2 50 8 23m312-35l-2 47 8-21m66-29l-1 55 7 10l1-43-1 43 7 1l2-28-2 28 7 9l2-28-2 28 7 11m89-18l-2 14 7 20m67-70l-2 51 8 26m81-57l-2 37 7 37m31-18l-2-4 7 35m9-80l-1 36 7-8l1-34-1 34 7-12m38-20l-2 46 7 0l2-25-2 25 8 7l1-29-1 29 7 68m9-80l-2 24 7-3l2 40-2-40 8 12m8 12l-1-21 7 5"/><path class="h21" d="M808 3093l-1 47 7-29m23-17l-1 45 7 22m153-40l-1 44 7-17l1-48-1 48 7-26m38-17l-2 49 7 19l2-47-2 47 8 16m117-53l-2 44 7-17l2-46-2 46 8-20m52-18l-2 47 7 29m327-37l-1 51 7-26m52-22l-2 50 8 24m131-23l-1 30 7-4l1-52-1 52 7-28m38-19l-2 39 7 33m154-57l-2 49 7-33m24-13l-2 48 7 24"/><path class="h22" d="M816 3062l-2 49 7-49m9 3l-2 48 8 26m175-64l-2 47 7-29m24-15l-2 49 7 27m146-60l-1 49 7-26m38-17l-2 48 7 24m341-30l-1 47 7-26m38-19l-2 46 7 27m154-48l-2 47 7-29m24-15l-2 43 7 21m168-54l-2 46 8-46m8 1l-1 50 7 30"/><path class="h23" d="M1018 3045l-2 48 8-49m8 2l-1 48 7 33m160-57l-1 47 7-29m23-15l-1 48 7 27m356-32l-2 47 7-30m23-15l-1 48 7 24m168-52l-2 49 7-49m9 1l-1 50 7 26m182-81l-1 48 7 51"/><path class="h24" d="M823 3014l-2 48 7 51m378-74l-2 49 7-49m9 2l-1 49 7 31m370-36l-2 48 7-49m9 2l-1 49 7 31m182-77l-2 49 8 51"/><path class="h25" d="M1025 2996l-1 48 7 50m572-58l-2 48 8 51"/><path class="h26" d="M1213 2990l-2 49 8 51m175 334l-2 18 7-258l2-32-2 32 7 1l2-33-2 33 8-37l1-32-1 32 7-111m9 80l-2 33 7 37l2-32-2 32 8 1l1-32-1 32 7 283"/><path class="h32" d="M1422 3004l-1 33 7 113"/><path class="h9" d="M1377 3452l-1 146 7-86"/><path class="h10" d="M1471 3450l-1 98 7-12m9-46l-2 83 8-38"/><path class="h11" d="M1334 3475l-1 41 7-59m30 36l-1-16 7 121m9-155l-2 69 7-48m74 29l-1 21 7 34m9-60l-2 48 7 37m9-137l-1 99 7-54"/><path class="h12" d="M1305 3369l-1 59 7 18l1-59-1 59 7 5l2 8-2-8 7 11l2-22-2 22 8 54m8 31l-1-90 7 13l2 88-2-88 7-4l2-2-2 2 7-4l2 175-2-175 8 15m23-35l-2 22 8-248m52 255l-2 2 7-1l2-9-2 9 8 42m37-105l-1 72 7-19l2-68-2 68 7-14l2-67-2 67 7-17"/><path class="h13" d="M893 3227l-1 158 7-146m392 95l-2 58 7 26l2-69-2 69 8 10m218-67l-2 70 8-19l1-68-1 68 7-18"/><path class="h14" d="M713 3266l-2 66 8-83m225 29l-2 83 8-124m167-5l-1 140 7-112m153 34l-1 64 7 23l2-65-2 65 7 11m247-67l-1 69 7-27"/><path class="h15" d="M872 3261l-2 66 7-20m392-33l-1 66 7 18m269-55l-2 64 7-25m146 39l-1 22 7-51m161-20l-2 84 7-10m74-102l-2 134 8-87m102-48l-1 134 7-91m52 47l-1 51"/><path class="h16" d="M706 3220l-2 52 7 60m38-63l-2 17 8-68m110 17l-2 51 7 41m9-122l-2 102 8-64m37-30l-1 85 7-58m38-3l-2 63 7-69m291 17l-2 61 8 31m283-55l-2 57 8-15m160-38l-2 96 8-50m146-22l-2 93 7 3l2-8-2 8 8-29m203 58l-1-13 7-95"/><path class="h17" d="M698 3276l-1-35 7 31m16-65l-1 42 7-9l1 96-1-96 7-10m124-20l-1 44 7 32m52-30l-1 23 7 19m38-55l-2 31 7 26m110-66l-1 41 7-13m16-4l-2 41 7-46m9-25l-1 77 7 67m16-125l-2 54 8-41m16-23l-2 55 7-47m96-21l-2 62 7 23m298-55l-1 73 7-43m124 8l-1 59 7 52m9-94l-2 43 7-53m38 28l-2 43 8-17l1-85-1 85 7-13m124 30l-1 10 7-38m16 14l-2 15 8-54m44 8l-1 37 7-43m59-32l-1 87 7-22m9 10l-2 12 8-26m37 75l-1-33 7 35"/><path class="h18" d="M735 3286l-2-56 7-6l2-26-2 26 7 62m9-87l-1 19 7 2l1-11-1 11 7-1l2-11-2 11 7 6l2-15-2 15 8 2l1-46-1 46 7-2l1-34-1 34 7-18m88 90l-1-54 7 142m9-165l-2 19 7 7l2 25-2-25 8 33m16-66l-2 27 7 3l2 21-2-21 7 118m9-118l-1-6 7 37m110-59l-2 33 8 27m8-12l-1-1 7-18l2 28-2-28 7 55m9 15l-2-61 8 52m16-27l-2-18 7 41m9-76l-1 35 7-13m102-46l-1 54 7 31m392-35l-2 58 7-22m16-15l-1 56 7-23l2-32-2 32 7 8l2 4-2-4 8 38m37-61l-1 45 7-13l1 4-1-4 7-20m23-14l-1 52 7-10l2-82-2 82 7-27m74 7l-2 31 8-34m37 106l-1-71 7-2l2-6-2 6 7 31m16-59l-1 38 7-26m9-23l-2 48 7 89m9-148l-1 61 7 11m74-68l-2 58 7 22m9-68l-1 42 7 89m9-122l-2 31 7 5l2-45-2 45 7-7l2-33-2 33 8 46m23-68l-2 48 8 74"/><path class="h19" d="M800 3157l-2 50 7-11l2-56-2 56 7-21m24-36l-2 52 7 22l2-52-2 52 8 2l1-35-1 35 7 39m117-23l-2 0 8 1l1-34-1 34 7-11l1-29-1 29 7 14l2-70-2 70 7-21l2-66-2 66 8-26m44-15l-1 48 7 17l2-49-2 49 7 10m81 0l-1-1 7 45m9-86l-2 39 7-8l2-40-2 40 8-2l1-55-1 55 7-5l1-67-1 67 7-30m52-28l-1 67 7 16m153-71l-1 32 7 1l1-32-1 32 7-36m23 6l-1 33 7 0l2-32-2 32 7 253m117-237l-1 48 7-21l2-48-2 48 7-11m52-35l-1 52 7 4l2-32-2 32 7 36m9-57l-2 35 8 1l1-27-1 27 7 40m45-40l-2 11 7 86m24-57l-2-26 7 68m31-126l-2 59 7-29m45-5l-1 25 7 22l2-21-2 21 7-6l2-22-2 22 7 31m9-47l-1 13 7 109m52-141l-1 42 7 33m9-35l-2 9 7 25m31-68l-2 38 7-5l2-41-2 41 8-12l1-41-1 41 7-22m23-17l-2 65 8-16l1-25-1 25 7 62m74-45l-2 1 7 40"/><path class="h20" d="M814 3111l-2 64 8-48m8-14l-1 61 7 17m175-69l-1 66 7-29m23-32l-2 57 8 19l1-49-1 49 7 18m139-78l-2 57 7-18m38-34l-2 66 8 25m175-91l-2 33 7-112m9 81l-2 32 8 38m146-31l-2 63 7-24m38-38l-1 55 7 24m153-53l-2 58 8-23m23-36l-2 61 8 7l1-47-1 47 7 11m160-66l-1 52 7-33m9-14l-2 57 7 38"/><path class="h21" d="M821 3062l-1 65 7 47m189-81l-1 66 7-50m9-15l-2 62 7 28m161-67l-2 65 8-31m23-30l-2 61 7 32m356-51l-2 65 8-29m23-33l-2 65 8 14m167-58l-1 64 7-49m9-13l-2 56 7 31m183-94l-2 65 7 43"/><path class="h22" d="M1204 3088l-1 63 7-47m9-14l-2 64 7 28m370-49l-1 66 7-51m9-13l-2 63 7 33m182-93l-1 64 7 43"/><path class="h23" d="M1024 3044l-2 65 7 47m182-117l-1 65 7 50m384-70l-1 64 7 50"/><path class="h24" d="M1421 3037l-2 32 7 113"/><path class="h9" d="M1354 3466l-1 113 7-84m124 78l-1 45 7-123"/><path class="h10" d="M1325 3462l-1 62 7-44m45 118l-2-62 8-11m8-61l-1 113 7-329m52 225l-1 107 7-91"/><path class="h11" d="M1304 3428l-2 49 7 22l2-53-2 53 8 12l1-60-1 60 7 13m9-8l-2-36 7 19l2-42-2 42 7-6l2-23-2 23 8 86m8-117l-1 33 7 26l2-44-2 44 7 15m9-24l-1 13 7 52m66-105l-1 17 7 18l2 7-2-7 7 15l2 26-2-26 7-10l2 24-2-24 8 106m9-83l-2-40 7-1l2-13-2 13 7 33l2-65-2 65 8-29l1-50-1 50 7-20"/><path class="h12" d="M1275 3358l-2 70 7 19l2-66-2 66 8 19l1-74-1 74 7-13l1-35-1 35 7 24m218-46l-1 47 7-21l2-45-2 45 7-20"/><path class="h13" d="M906 3246l-1 162 7-98m356 30l-2 66 7 22m262-34l-2 43 8 2l1-72-1 72 7-38m341-59l-2 152 7-25m197-139l-1 187 7-165"/><path class="h14" d="M856 3254l-2 94 7-78m233 29l-1 73 7-58m45-67l-2 130 7-55m399 20l-1 59 7-19m298-75l-2 166 7-54m38-79l-2 129 8-133"/><path class="h15" d="M935 3243l-1 85 7-52m319 33l-1 46 7 51m291-79l-2 55 7-26m146-57l-1 109 7-92m30 54l-1 48 7-57m110 55l-2 3 8-85m81 17l-2 96 7-35"/><path class="h16" d="M733 3230l-2 65 8-26m8 17l-1 14 7-30m146-31l-1 55 7 114m9-129l-2 31 7-53m9-17l-2 65 8 23m30-28l-1 18 7-40m9-46l-2 75 7-38m67-48l-2 87 7 23l2-93-2 93 8-2l1-81-1 81 7-59m9-8l-2 60 7-37m16-32l-1 61 7 3l2-12-2 12 7 0l2 55-2-55 8-49m30 24l-2 30 8-55m95 19l-1 39 7 30m305-71l-2 72 7-33m81-36l-1 88 7-48m38 76l-2-19 7-61m146 18l-1 49 7 83m103-111l-2 50 7-65m9-33l-1 100 7-84m74 107l-2-24 7-66m9 4l-1 55 7-21"/><path class="h17" d="M704 3272l-1-18 7-12l1 90-1-90 7 24l2-17-2 17 7-29m16-13l-1 45 7 31m9-82l-2 52 7 0l2-50-2 50 8-24l1-27-1 27 7-7m9-12l-2 33 7 0l2-35-2 35 7-12l2-41-2 41 8 5l1-57-1 57 7-25m38-13l-2 57 7 76m9-62l-2-16 8-20m73 111l-1-85 7-4l2-35-2 35 7-17m16-24l-1 47 7 29m9-86l-2 48 7 16l2-50-2 50 8-41m45-41l-2 72 7 33m38-64l-2 41 8 87m37-71l-1-16 7 16l2-41-2 41 7 76m103-122l-2 53 8 17m319-62l-2 60 8-21m175 51l-2 8 7-2l2-19-2 19 7-6l2-23-2 23 8-6l1-44-1 44 7-40m38-24l-2 82 7-43m110 27l-1 21 7 18l1 50-1-50 7 59m67-135l-2 86 7-59m9 13l-1 21 7-24m37-5l-1 41 7 18l2-13-2 13 7-56m24 97l-2-39"/><path class="h18" d="M697 3241l-2-4 8 17m23-14l-2-3 7 58m45-70l-1 14 7 21m30-85l-1 53 7-40m9-14l-2 61 8-2l1-42-1 42 7 17l1-37-1 37 7 22m23 55l-1-77 7 4l1 53-1-53 7-5l2-6-2 6 7 5l2 131-2-131 8 40m23 4l-2-41 7 48m31-31l-2-19 8 63m37-104l-1 30 7-1l2-55-2 55 7-25m23-34l-1 71 7 20m31 0l-2-5 7 52m45-62l-1 8 7 17m30-40l-1 22 7 1l1-31-1 31 7-5l2-28-2 28 7-3l2-30-2 30 8-6m44-40l-1 56 7 13l2-44-2 44 7 25m154-92l-2 32 7 1l2-32-2 32 7-36m24 7l-2 32 7 1l2-33-2 33 8 327m131-328l-1 50 7-11m38-46l-2 74 7-21m9-25l-2 46 8 5l1-15-1 15 7 51m9-87l-2 39 7-2l2 3-2-3 8 0l1-20-1 20 7-9l1-3-1 3 7 1l2 34-2-34 7 67m9-32l-2-29 8 85m8-23l-1-69 7 3l2 16-2-16 7-1l2 4-2-4 8 1l1-17-1 17 7 99m45-167l-2 66 7-57m31 34l-2 28 7 6l2-12-2 12 8-1l1-17-1 17 7 63m23 16l-1-72 7-1l1 76-1-76 7-3l2 50-2-50 7 164m16-123l-1-35 7-8l2-11-2 11 7 28l2-6-2 6 7-23l2-9-2 9 8 37m30-51l-2 28 8 67m30-124l-1 68 7 0l1-30-1 30 7 40m9-24l-2-35 8 34m8 1l-1-25 7-7l2 6-2-6 7 71m9-67l-2 1 8 59m23 19l-2-78 8 170m8-147l-1-18 7 53"/><path class="h19" d="M1015 3159l-2 59 7-47m9-15l-1 57 7 42m153-55l-1 54 7-8l1-64-1 64 7-30m23-34l-1 59 7 29m182-89l-2 32 8-112m8 81l-1 32 7 38m153-24l-1 63 7-35m23-25l-1 55 7 33m9-50l-2 29 7 21m146-45l-1 33 7 10m16-72l-1 60 7 10l1-39-1 39 7 50m161-63l-2 28 7-7l2-43-2 43 7-21"/><path class="h20" d="M820 3127l-2 61 7 47m378-84l-2 65 7-48m9-14l-2 60 8 27m370-42l-2 57 7-42m9-16l-1 63 7 25m182-84l-2 58 8 45m189-58l-2 55 8 56"/><path class="h21" d="M1022 3109l-2 62 8 42m182-109l-2 64 7 46m385-66l-2 66 8 47"/><path class="h23" d="M1419 3069l-1 32 7 113"/><path class="h8" d="M1454 3489l-2 155 7-80"/><path class="h9" d="M1389 3577l-2 48 7-344"/><path class="h10" d="M1288 3466l-2 60 7-31m31 29l-2 3 7 18l2-65-2 65 8-23m16 57l-2-44 7-5l2-35-2 35 8-17m8 23l-1-2 7 31l2-40-2 40 7 60m60-45l-2-40 7 104m9-137l-2 57 8-48m16 102l-2-61 7 31l2-93-2 93 8-76m8 15l-1 49 7-5l2-73-2 73 7-68"/><path class="h11" d="M1280 3447l-1 62 7 17m9-73l-2 42 8-4l1-14-1 14 7 4l1 4-1-4 7 4l2 12-2-12 7 28m16-28l-1 23 7-12l1-17-1 17 7 25m16-14l-1-8 7 21m95-12l-1-6 7 13l1-17-1 17 7 28m16-63l-1 18 7 64m16-98l-2 25 7 12l2-58-2 58 8-25"/><path class="h12" d="M1122 3268l-2 200 7-111m146 71l-1 48 7 33m254-72l-1 53 7-44m529-61l-2 183 8-140"/><path class="h13" d="M717 3266l-2 144 8-55m182 53l-2 20 7-155m190 41l-2 142 7-156m161 106l-2 25 8 45m269-37l-2 7 7-1l2-44-2 44 7-67m118-53l-2 144 7-107m31 46l-2 109 7-180m9-18l-1 162 7-85m131 23l-1 112 7-54m240-72l-2 108"/><path class="h14" d="M724 3237l-1 118 7-39m139-66l-2 104 7-83m16-17l-1 103 7-83m74 4l-2 106 7-110m9-5l-1 116 7-30m66-24l-1 60 7-92m9-29l-2 124 8-80m175 11l-2 63 7 4l2-37-2 37 7 39m500-78l-1 103 7-110m74 44l-2 69 8-79m16-46l-2 143 7-33m96-30l-2 58 7-33"/><path class="h15" d="M731 3295l-1 21 7-56m38-21l-2 80 7-5l2-54-2 54 8-55m8-11l-1 75 7-31m153-37l-1 99 7-76m30 7l-1 70 7-17l2-94-2 94 7-68m125 15l-2 72 7-66m9 86l-1-24 7-28m9-58l-2 99 7-41m16-65l-1 92 7-67m59 23l-1 44 7 36m305-6l-2-4 8 5l1-27-1 27 7-33m95-25l-1 99 7 45m67-150l-2 93 7-30m9-21l-2 65 8-71m66-33l-1 100 7-31m45-58l-2 111 7-90m96-24l-2 109 8-75m117-12l-2 118 7 43"/><path class="h16" d="M753 3270l-1 27 7 4l1-31-1 31 7-3l2-52-2 52 7 21m31-66l-2 39 7-40m24-19l-2 72 7-40m9 7l-2 35 8 2l1 39-1-39 7-4l1-35-1 35 7 49m16-105l-1 47 7 61m30-100l-1 43 7-17m117-8l-2 48 8-30m30 29l-1-8 7-15m9 73l-2-55 7 139m52-134l-1 3 7 41m9-98l-2 57 8-19m59-36l-2 69 8-27m406 12l-2 41 7-31m52-11l-1 58 7 136m23-199l-1 78 7 16m9 6l-2-36 7 44m81-98l-1 63 7-44m59 122l-1-51 7-13l2-69-2 69 7-6l2-71-2 71 8-23m16-6l-2 27 7-42m9 92l-2-26 8-29m45-34l-2 56 7-52m31-13l-2 73 7-53m38 34l-1 25 7-62"/><path class="h17" d="M695 3237l-1 31 7-11l2-3-2 3 7 3l2-18-2 18 7 150m24-141l-2-9 7-2l2 42-2-42 8 39m37-37l-1-1 7 64m16-95l-2 24 8-3m8-14l-1 19 7 51m9-55l-2 15 7 42m31-53l-2 17 8 25m16-2l-2-20 7 154m9-118l-2-37 8 27m8 5l-1-22 7 2l2 43-2-43 7 5l2-14-2 14 8-13l1-5-1 5 7 77m9-36l-2-40 7 106m9-77l-2-33 8 111m45-172l-2 61 7 16l2-35-2 35 7 33m9-15l-1-15 7 98m9-62l-2-30 7 95m16-109l-1 14 7 18m16 0l-2-17 8-10l1 27-1-27 7 178m16-167l-2-10 8 62m30-90l-1 43 7 46m16-106l-2 51 7-19m38 5l-1 29 7 40m153-104l-2 33 8 1l1-33-1 33 7-37m23 7l-1 32 7 1l1-32-1 32 7 255m124-217l-1 27 7-1l2-47-2 47 7-2l2-56-2 56 7-27m24-34l-2 61 7-12l2-16-2 16 8-5m23 45l-2-41 8 14l1-21-1 21 7 76m16-108l-2 46 7-10l2-35-2 35 8-9l1 41-1-41 7 38m59-22l-1-4 7 101m9-109l-2-1 7 23l2-62-2 62 8-38m16-26l-2 51 7-18m9 27l-2 9 8 48m30 51l-1-93 7 151m30-37l-1-133 7 57m23-62l-1 20 7-22m30 58l-1-20 7-15l1-30-1 30 7 95m52-133l-1 34 7 12l2-12-2 12 7 37"/><path class="h18" d="M818 3188l-1 61 7 5m182-11l-2 27 8-13l1-39-1 39 7-27m168 24l-2 31 7 12m9-81l-2 62 8-46m8-18l-1 55 7 12l2-40-2 40 7 58m182-126l-1 32 7-111m9 80l-2 33 8 37m160-28l-2 64 8-50m9-9l-2 49 7 37m16-49l-1 32 7-3l1-8-1 8 7 38m74-49l-2 21 8 144m66-164l-1 14 7-20m16 4l-2 23 7 36m24-47l-2 20 7 112m38-129l-2 24 8 7m37-28l-1 21 7 43m9-9l-2-33 7 66m38-98l-1 41 7-21l1-41-1 41 7 71m9-56l-2 4 7 2l2 34-2-34 8 9m23-31l-2 27 8 3l1 41-1-41 7-8l1-17-1 17 7 5l2 37-2-37 7 199m16-221l-1 19 7 9l2 142-2-142 7 95"/><path class="h19" d="M1020 3171l-1 59 7 44m182-106l-1 64 7 37m384-55l-1 56 7 40m189-50l-1 51 7 45"/><path class="h22" d="M1418 3101l-2 33 7 113"/><path class="h7" d="M1474 3529l-2 170 8-156"/><path class="h8" d="M1337 3522l-2 127 7-123"/><path class="h9" d="M1387 3625l-1-28 7-284m59 331l-1-3 7-106m45 41l-2 69 7-116"/><path class="h10" d="M1272 3476l-2 74 7-37m31-18l-2 41 7-9l2-28-2 28 8-2m8 20l-1-1 7 105m16-114l-1-4 7-5m9-13l-2 59 7-41m74 9l-2 30 8 71m30-84l-1-14 7 6l1 39-1-39 7-10"/><path class="h11" d="M1264 3431l-1 79 7 40m9-41l-2 4 8 11l1 2-1-2 7-9l1-20-1 20 7 0l2-24-2 24 7 21m16-9l-1-2 7 19m16-34l-2 16 8 5m8-1l-1-4 7 46m9-38l-2-3 7-3l2 37-2-37 8 69m73-33l-1-29 7 1l2-20-2 20 7 163m24-187l-2 27 7 106m9-74l-2-42 8 11l1-37-1 37 7-18l1-7-1 7 7-18"/><path class="h12" d="M1105 3300l-1 211 7-60m421 39l-2 14 7 5l2-63-2 63 8-35m146-131l-2 223 7-213"/><path class="h13" d="M737 3260l-2 156 8-40l1-118-1 118 7-55m30-7l-1 72 7-108m52-13l-1 130 7-58m16-32l-2 112 8-121m95-18l-2 146 8-49m146-85l-2 161 7-114m24 16l-2 90 7-101m16-17l-1 138 7-153m81 78l-2 38 8-1l1-33-1 33 7 85m283-65l-1 29 7-60m160-77l-1 133 7-92m182 27l-1 102 7-28"/><path class="h14" d="M874 3271l-1 81 7-36m38-16l-2 60 7-69m31 63l-2 18 7 52m9-40l-1-9 7-54m23 17l-1 56 7-96m124 59l-1 37 7 11l1-114-1 114 7 38m413-65l-1 36 7-20m67-64l-2 110 7-93m16-13l-1 107 7-17m81-12l-2 28 8-81m37 10l-1 77 7-51m88 49l-1 29 7-67m30-7l-1 80 7-40m88-77l-1 116 7-60m95 95l-1-40"/><path class="h15" d="M694 3268l-2 38 7-17m53 8l-2 24 7-25m74 9l-2 27 8 63m8-88l-1 30 7-18l2-10-2 10 7 98m52-144l-1 57 7 30m31-83l-2 54 7 41m31 13l-2-48 7-28m38-35l-2 76 8 15l1-75-1 75 7-32m30 61l-1-50 7-42m23 154l-1-113 7 168m74-159l-2 16 7-51m45 22l-1 29 7 2l2-58-2 58 7 5l2-23-2 23 7 51m313-43l-2 11 7-16m16-31l-1 70 7-77m67 8l-2 76 7-54m23-18l-1 67 7 147m59-140l-1 0 7-51m132-14l-2 85 7-73m24 3l-2 63 7-68m23 50l-1 9 7-55m31-11l-2 93 7-29m38-43l-2 50 8-46"/><path class="h16" d="M701 3257l-2 32 8-14l1-15-1 15 7-2m9 82l-2-70 7 8l2 23-2-23 7 123m24-115l-2-5 7 0l2 2-2-2 8-16l1 39-1-39 7 106m16-63l-2-42 8 11l1 0-1 0 7 7l1-47-1 47 7 10l2-60-2 60 7-23l2-32-2 32 7 46m38 22l-1-58 7 56m9-56l-2 20 7 5l2 36-2-36 7-17l2-30-2 30 8-13m30-6l-1 12 7 15l1-22-1 22 7 19m30-57l-1 47 7 16m9 18l-2-46 8 85m44-71l-1 10 7-13l2-27-2 27 7 13l2 58-2-58 8-11l1-23-1 23 7 22m16-45l-2 26 7-16m31 159l-2-131 8 57m23-69l-2 17 7-27m38-18l-1 24 7 14l1-57-1 57 7-43m9-23l-2 56 8 26l1-70-1 70 7 17m167-87l-1 32 7 1l2-32-2 32 7-36m24 6l-2 33 7 0l2-32-2 32 7 253m125-220l-2 28 7-26m67 13l-2 16 8 60m16-17l-2-54 7-18m38 165l-1-138 7 91m9 11l-2-103 7-22m60-25l-2 64 7-39m9 0l-2 53 8-48m8 13l-1 28 7-34m23 91l-1-52 7-36m30-17l-1 52 7 40m74-69l-2 34 8 6l1 55-1-55 7-13l1 35-1-35 7 53m9-114l-2 85 7-39m16-25l-1 54 7-15l2-30-2 30 7 32m16-66l-1 64 7 0l2-61-2 61 7-51m9-13l-2 52 8-18m16-37l-2 68 7-30"/><path class="h17" d="M715 3410l-1-137 7 12m67-26l-2 19 7 3m110 147l-1-137 7 39m16-47l-2 8 8 6m73-27l-1 28 7-8l2-33-2 33 7-10l2-50-2 50 7 70m53-36l-2-12 7 23m9-8l-2-8 8 34m59 23l-2-51 8 148m9-157l-2 4 7 58m9-83l-2 32 8 4m16-89l-2 60 7 33m197-80l-2 33 8-112m8 81l-1 32 7 38m146 32l-2 3 8 65m8-97l-1 20 7 0l2-70-2 70 7 2l2-32-2 32 8 11l1-6-1 6 7 6l1-24-1 24 7 81m9-113l-2 20 7 34m31 88l-2-117 8 2l1 8-1-8 7 65m16-38l-2-28 8 26m23 17l-2-40 7 84m9-58l-1-23 7 67m9-71l-2 20 7-12l2 93-2-93 8-2l1-15-1 15 7 85m16-135l-2 45 7 53m9-71l-1 23 7 41m9 20l-2-54 7-2l2 25-2-25 8-2l1-17-1 17 7 43m9-27l-2-9 7 2l2 158-2-158 7 0l2 104-2-104 8 100m23-55l-2-45 8 134m23-153l-2 17 7 14l2 12-2-12 8-9l1-21-1 21 7 54m9-38l-2-17 7 36m38 3l-2-25 8 89m30-56l-1-33 7 44m16-69l-2 18 7 39m9 147l-1-165 7-18l2 43-2-43 7 49m9-59l-2 29 8-18l1 84-1-84 7 87"/><path class="h21" d="M1416 3134l-1 32 7 113"/><path class="h8" d="M1458 3535l-2 154 8-102"/><path class="h9" d="M1270 3550l-2 65 8-45m16-55l-2 79 7-29m45-39l-1 92 7-18l2-69-2 69 7-26m31 23l-2 10 7-262m52 225l-1 30 7-47m45-14l-2 58 8-38m16-19l-2 72 7-67"/><path class="h10" d="M1277 3513l-1 57 7-31l2-15-2 15 7 55m9-79l-2 50 8-25l1-4-1 4 7 0l1-13-1 13 7 3l2-18-2 18 7 9l2-8-2 8 8 11l1 86-1-86 7 55m16-92l-2 48 7-17l2 15-2-15 8 7l1-33-1 33 7 10l1-46-1 46 7 33m67 34l-2-88 7 136m9-153l-1 51 7-30l1 142-1-142 7 1l2-15-2 15 7 6l2-15-2 15 7 33m9 48l-1-86 7 29l1-59-1 59 7 24m23-103l-1 60 7-114"/><path class="h11" d="M1523 3522l-2 23 8-23l1-18-1 18 7 47m493-180l-2 252 7-100"/><path class="h12" d="M772 3280l-2 152 7-120m356 93l-2 89 7-113m118 44l-2 26 7 27l2 32-2-32 7 137m638-136l-2 91 7-62"/><path class="h13" d="M844 3337l-2 51 8-75m23 39l-2 48 7-75m190 19l-2 87 7 4l2-133-2 133 8-16l1-94-1 94 7-39m16 131l-2-92 8-87m117 36l-2 81 7-70m16 47l-1-14 7 39m291 23l-2-19 7-29m139 140l-2-48 8-107m45-52l-2 158 7-90m24-66l-2 119 7-90m139 49l-2 69 8-106m73-13l-1 119 7-20m38-55l-2 108 7-70m24-68l-2 110 7-109"/><path class="h14" d="M692 3306l-1 36 7 11l1-64-1 64 7-56m38 79l-2-21 7-11l2-23-2 23 8-46m45-6l-2 86 7-72m81 15l-1 40 7-54m30-16l-1 87 7 7l2-88-2 88 7-68m31 58l-2-3 7-44m16-19l-1 59 7-40m52-8l-1 56 7-56m37-11l-1 71 7 10l2-47-2 47 7 29m38 24l-2-62 8-22m30 9l-1 22 7-5l1-68-1 68 7 7l2-71-2 71 7-21m45 4l-1 22 7 15m305 2l-2 12 7-7l2-25-2 25 8-34m23-45l-2 86 8-70m88 63l-2 36 7 63m24-48l-2-19 7-70m45-18l-1 77 7 40m16-85l-2 74 8-61m30-40l-1 106 7-62m9-48l-2 118 7-71m31 62l-2-4 7 12l2-75-2 75 8-1l1-34-1 34 7-86m37-9l-1 80 7-73m67 86l-2 10 7-70m38 15l-2 38 8 22l1-111-1 111 7-92"/><path class="h15" d="M721 3285l-2 28 8-18m37 1l-1 30 7 106m9-46l-2-74 7-12m53 95l-2-60 7 53m24-92l-2 30 7 74m9-84l-2 9 8 36m73 63l-1-83 7 31m38-74l-2 40 7-24m16 36l-1-14 7 13l2 16-2-16 7-30m89 75l-2-42 7 142m16-152l-1 17 7 20l1-64-1 64 7-48m38 4l-2 36 7-36m9-10l-1 52 7-27m16 20l-2 9 8 18m153-84l-2 32 8 1l1-32-1 32 7-36m23 7l-2 32 8 1l1-33-1 33 7 250m160-258l-1 53 7-19m16 64l-2-43 8-30m16 74l-2-15 7-3l2 1-2-1 8-37m37-33l-1 58 7-23m23-32l-1 51 7-18m16 37l-2 1 8 0l1-52-1 52 7 13m204-23l-2 35 7 1l2-49-2 49 7-47m45 29l-1 9 7 197m52-207l-1 33 7-47m16 53l-2 0"/><path class="h16" d="M707 3275l-2 22 7-3l2-21-2 21 7 19m9-20l-1 2 7 4l1 117-1-117 7 56m16-59l-1 2 7 28m23-48l-2 22 8 0l1-19-1 19 7 78m9-79l-2 7 7-6l2 9-2-9 8 9l1-23-1 23 7-8l1 31-1-31 7 34m16-16l-1-6 7-9l1 113-1-113 7 22m30-22l-1 3 7 1l2-17-2 17 7 4l2 18-2-18 8 3l1 45-1-45 7 63m16-66l-2 5 7-7l2 21-2-21 8 12l1 50-1-50 7 19m16-20l-2 7 8-4l1 13-1-13 7 44m9 26l-2-66 7 10m9-48l-2 24 8-5l1-29-1 29 7 27m16-3l-2-14 8 57m8-43l-1-13 7 9l2-7-2 7 7 102m45 20l-1-119 7-7l1 12-1-12 7 27m38 111l-2-132 7-3l2-18-2 18 8 62m30-98l-2 43 8 42m9-26l-2-1 7 99m182-171l-1 32 7-112m9 81l-2 32 7 38m139 29l-1 7 7-13l1-20-1 20 7-7l2 52-2-52 7 61m24-73l-2 23 7 6l2-23-2 23 7 15m9-50l-1 20 7 4l1 10-1-10 7 55m16-56l-1 16 7 11l1-45-1 45 7-15l2-28-2 28 7 73m24-76l-2 9 7 63m9-73l-2 3 8 26m8 33l-1-51 7 128m38-71l-2-56 7 79m9-113l-1 52 7-5l1 6-1-6 7-11l2-31-2 31 7-9l2 19-2-19 8 91m8-108l-1 46 7 70m9-75l-2 4 7 1l2-41-2 41 8-16l1-23-1 23 7-10m30-13l-1 21 7 16l2 97-2-97 7 160m16-199l-1 31 7 63m16-35l-2-22 8 6l1-39-1 39 7-20m23 63l-2-51 8 20l1 2-1-2 7 82m16-90l-2 0 8-19m73 5l-1 16 7-16"/><path class="h17" d="M1595 3340l-1 16 7 39m261-22l-1 13 7 83m67-93l-2 16 7 16m16 3l-1-17 7 58m52-49l-1-4 7 45m37-23l-1-20 7 112m9-128l-2 19 8 63m16-81l-2 18 7 69"/><path class="h20" d="M1415 3166l-2 32 7 113"/><path class="h6" d="M1355 3574l-1 206 7-212"/><path class="h8" d="M1268 3615l-1 22 7-80m23 8l-1 77 7-76m31-3l-2 95 7-88m45 37l-1 57 7-286m52 222l-2 55 8-52m23-46l-2 96 7-47m16-9l-1 68 7-69"/><path class="h9" d="M1290 3594l-1 7 7 41m23-99l-2 76 8 9l1-76-1 76 7 30m16-58l-2-10 8 190m95-227l-1 50 7 18l1 68-1-68 7 14l2-48-2 48 7 18m9-95l-2 48 8-30m45-54l-2 108 7-106"/><path class="h10" d="M1276 3570l-2-13 7-3l2-15-2 15 8 47m16-61l-2 26 7-2l2-24-2 24 7 55m24-1l-2-48 7 20m16-33l-1 11 7-1l2-3-2 3 7 11l2-4-2 4 8 86m102-100l-1 12 7 89m9-106l-2 37 7-13l2 5-2-5 8 13l1 16-1-16 7-1l1-50-1 50 7 35"/><path class="h11" d="M741 3355l-1 132 7-173m435 71l-2 148 7-184m67 102l-2 80 8-28l1-25-1 25 7 134m269-68l-2-45 7-6m9-92l-1 155 7-93"/><path class="h12" d="M1146 3359l-2 144 7-20l2-104-2 104 8-129m384 101l-2 63 8 63m413-129l-2 106 8-69"/><path class="h13" d="M756 3298l-2 102 7-81m9 113l-2-22 8 17l1-115-1 115 7-62m9-65l-2 119 7-96m9-17l-1 82 7-46m30 46l-1 35 7-66m16-31l-2 84 8 0l1-10-1 10 7-27m168-7l-2 34 7-58m31 67l-2 12 7-53m38-26l-2 85 8-9l1 66-1-66 7-52m38 14l-2 48 7 95m16-162l-1 92 7-77m16-36l-2 95 8-84m16 36l-2 69 7-41l2-13-2 13 7 106m305-112l-1 69 7-93m38 0l-2 72 7 7l2-98-2 98 8-10l1-82-1 82 7-46m38-32l-2 83 7-59m45 41l-1 50 7 6l1-126-1 126 7 1l2-101-2 101 7-107m9 116l-2 6 8-117m88 76l-2 6 8-84m8 8l-1 86 7-10l2-92-2 92 7-84m125 22l-2 106 7-72m24-61l-2 113 7 3l2-71-2 71 7-93"/><path class="h14" d="M691 3342l-2 13 7-12l2 10-2-10 7 22l2-68-2 68 8-37m8-15l-1 57 7-23l2-52-2 52 7-30m52-17l-1 65 7 54m45-84l-2 34 8 54m9-110l-2 44 7-34m23 2l-1 58 7-52m9-24l-2 78 7-22l2-55-2 55 8-23m9-25l-2 75 7-34m16-39l-1 45 7-33m30-1l-1 58 7-17l2-45-2 45 7-34m16 3l-1 38 7-1l1-61-1 61 7-22m16-4l-1 53 7-34m23-39l-2 44 8-21m23 28l-2-2 8-36m138 37l-1 36 7 51m153-121l-1 33 7 1l2-33-2 33 7-37m23 7l-1 32 7 1l2-32-2 32 7 273m132-283l-2 66 8-51m52-20l-2 73 7-26m16 9l-1 15 7 31m117-79l-1 75 7-31m16-31l-2 57 7-24m24-24l-2 36 7 40m38-19l-1 6 7-60m16-21l-2 64 7-17m16 67l-1-40 7-40m23-20l-1 54 7 26l2-74-2 74 7-75m16 40l-1 36 7-5l1-78-1 78 7 48m52 9l-1-54 7-52m16-34l-2 79 8-52"/><path class="h15" d="M712 3294l-1 34 7 42m16-71l-2 18 8 170m8-143l-1-30 7 86m9-74l-2-7 7 91m31-32l-2-55 8 65m8-88l-1 42 7-16l2-17-2 17 7-3l2-22-2 22 7 46m24-65l-2 19 7 87m24-49l-2-30 7 54m16-73l-1 28 7 50m9-12l-2-22 7-23l2 52-2-52 8 29m16-40l-2 24 7-15l2 10-2-10 8 24l1 17-1-17 7 31m16-18l-2-33 7 26l2-33-2 33 8 15m16-67l-2 44 7-10l2-7-2 7 8 59m8-83l-1 49 7 42m9-90l-2 32 7 21m9 58l-1-79 7 8l1 75-1-75 7 71m23-12l-1-73 7 10l2-24-2 24 7-11m23 36l-1-5 7 127m16-172l-1 23 7-6m37-13l-1 51 7-29l2 20-2-20 7 88m9 4l-1-88 7 54m175-105l-2 32 7-111m9 80l-1 33 7 37m139 4l-2 10 7 43m24-82l-2 65 7 46m23-70l-1 21 7 22m9-69l-2 43 8-22m23 5l-2 13 7 0l2-28-2 28 8 23l1 22-1-22 7-28l1 113-1-113 7-13m9-4l-2 37 8 76m59-21l-2-62 8 47m8 4l-1-35 7-15l2-11-2 11 7 41m9-68l-2 44 8 8l1-61-1 61 7-26l2 56-2-56 7 30m74-38l-2 31 8-14l1 143-1-143 7 41m9-66l-2 26 7-15m67 95l-2-48 8-40m88 0l-2 39 7-34"/><path class="h16" d="M943 3310l-1 19 7 17m146 44l-1-48 7 4m16-21l-2 20 7 92m45-109l-1 20 7 90m16-46l-2-43 8 114m384-98l-1 22 7 2l1 37-1-37 7 32m52 5l-1-34 7 46m45-27l-2-19 7 33m31-36l-2 12 7 122m9-96l-1-21 7-11l2 32-2-32 7 4l2 41-2-41 7 19m74-7l-1-7 7 94m16-112l-2 18 8 71m8 6l-1-66 7 5l2 60-2-60 7 38m38 7l-2-52 8 0l1-21-1 21 7 49m16-68l-2 19 7 145m38-70l-1-68 7 12l1-14-1 14 7 80m16 129l-2-219 8 65m8-16l-1-36 7-10l2 68-2-68 7 55m9 33l-1-85 7-3l1-21-1 21 7 0l2 42-2-42 7 34m9-55l-2 21 8 3l1 45-1-45"/><path class="h19" d="M1413 3198l-2 33 8 113"/><path class="h7" d="M1469 3653l-1 75 7-132"/><path class="h8" d="M1281 3554l-1 96 7-71m52-9l-1 77 7-44m23-36l-2 95 8-71m88 44l-2 20 8 73m45-132l-2 61 7-74m9 47l-2 64 8-84m16-29l-2 136 7-276"/><path class="h9" d="M1296 3642l-2-60 7 7l2-23-2 23 8 6l1-31-1 31 7-4l1 28-1-28 7-1l2 38-2-38 7 13l2 55-2-55 8 44m8-57l-1 13 7 7l2 170-2-170 7-10l2-32-2 32 7 62m9-84l-1 13 7-3l2 76-2-76 7-178m60 193l-2-5 7-3m31-19l-2 27 7-2l2 64-2-64 8-1m8-17l-1 49 7 25"/><path class="h10" d="M1267 3637l-2-84 8 18l1-14-1 14 7 79m9-49l-2-22 7 3m146 73l-1-61 7 4m9 23l-2-26 7 60m16-49l-1-10 7 7m16-7l-1 4 7 32m16-37l-2-12 7 111m9-170l-1 86 7-51m269-115l-2 213 7-18l2-221-2 221 8-197"/><path class="h11" d="M732 3317l-1 170 7-84m16-3l-2 83 8-77m464-45l-2 209 7-168m23 129l-1-18 7 9l2-19-2 19 7 31m276-35l-1 41 7 158m240-298l-2 166 8-150"/><path class="h12" d="M696 3343l-1 90 7-74m103 29l-2 50 7-42m9-70l-2 138 8-57m232-34l-1 102 7 31l2-154-2 154 7-132m175 51l-1 43 7 45m384-99l-1 143 7-41m45-111l-2 154 8-49m37-109l-1 138 7-88m16-56l-2 169 8-94m218 14l-2 72 8-116m73 40l-1 110 7-82"/><path class="h13" d="M740 3487l-2-84 7-66m16-18l-1 87 7-23l1 27-1-27 7-43m38 2l-2 54 7 68m9-141l-1 84 7-29m45 5l-2 55 7-48m31 0l-2 7 8-38m8-26l-1 76 7-59m9-21l-2 87 7-25m9-60l-1 91 7-37m30-24l-1 72 7 8l2-65-2 65 7-81m24 42l-2 30 7-76m45 75l-1-12 7-53m45 62l-2 7 7-54m16 102l-1-55 7-8l2-66-2 66 7-50m226 8l-2 32 7 1l2-32-2 32 8-36m23 6l-2 33 7 1l2-33-2 33 8 179m124-199l-1 98 7-77m23 5l-2 41 8-58m23 14l-2 74 8-87m16-13l-2 124 7-33l2-45-2 45 7-40m9-33l-1 101 7-101m23-18l-1 118 7-98m23 96l-2-18 8 49m73-103l-1 82 7 139m23-169l-1 2 7-68m52 36l-1 43 7-20m66 77l-1-34 7-91m23 27l-1 83 7-102m23 74l-1-9 7-38m9 19l-2 40 7-33m52-69l-1 110 7-43"/><path class="h14" d="M689 3355l-2-6 8 84m8-68l-1-6 7-9l2-22-2 22 7-18m9 15l-1 0 7 140m59-68l-1-36 7-4l1-56-1 56 7 59m30-69l-1 9 7-35m31 67l-2-19 7 47m9-107l-2 59 8-17l1 12-1-12 7 19l1-29-1 29 7-46m45 0l-2 45 8 31m9-67l-2 30 7-28m45-4l-1 40 7-28m81-19l-2 38 7-17m31 9l-2 5 8-16m30 73l-2-23 8-46m16 94l-2-71 7 15l2-21-2 21 8-27m8 65l-1-42 7 167m9-155l-2-13 7 10l2 54-2-54 8 56m160-126l-1 33 7-112m9 81l-2 32 7 38m132 74l-2-47 8 52m23-104l-2 52 7 21m24 2l-2-22 7 50m38-23l-2-26 8 68m52-4l-2-62 7 45m16 33l-1-72 7-34m16-18l-1 71 7-52m88 70l-2-25 8 12l1-71-1 71 7-41m30 7l-1 40 7 4l2-58-2 58 7-55m24-17l-2 48 7-6m74 57l-2-28 8 22m23-71l-2 59 8-34m16-32l-2 80 7-10l2-73-2 73 7-4l2-69-2 69 8-11l1-24-1 24 7 52m9-107l-2 64"/><path class="h15" d="M718 3370l-2-38 8 15m23-33l-2 23 7 146m24-56l-2-87 7-3l2 28-2-28 8 46m52 40l-2-80 7 0l2 14-2-14 8 5l1-25-1 25 7-7l1 69-1-69 7 50m38-51l-2 6 7 51m9-41l-1 3 7 50m9-47l-2-12 7 66m31-30l-2-29 7-4l2 16-2-16 8 7l1-25-1 25 7 73m16-58l-2-15 8 33m8-50l-1 22 7 67m9-64l-2-12 7 2l2 52-2-52 8 4l1-10-1 10 7 113m16-115l-2 14 8 45m8-41l-1-12 7-4l2-20-2 20 7 22m9-28l-2 11 8 11l1-33-1 33 7-12l1 71-1-71 7 69m16 68l-1-138 7 63m16-80l-2 22 7 45m9 118l-1-164 7-1l1-19-1 19 7 24m16-35l-1 23 7 23m355 35l-1-22 7-11l2-18-2 18 7 36m16 26l-1-63 7 0l1 70-1-70 7 38m16-2l-1-35 7 152m37-147l-1 0 7 13l2 10-2-10 7 136m16-134l-1-13 7 8l2 81-2-81 7 25m31-39l-2 11 7 147m16-146l-1 0 7-1l2 48-2-48 7 17l2 0-2 0 7 151m9-125l-1-25 7 83m23-70l-1-6 7 48m9-86l-2 18 7 21l2 55-2-55 7 20m17 12l-2-41 7-3l2-16-2 16 7-1l2-10-2 10 8 71m23-33l-2-38 8 18l1-20-1 20 7-19l1-16-1 16 7 32m9 1l-2-7 7-24l2 57-2-57 8 8l1-26-1 26 7 85m9-35l-2-56 7 123m9-24l-1-92 7 103m9-123l-2 21 7-2l2-7-2 7 7 45m16-62l-1 46 7 59m16-102l-1 35 7 130"/><path class="h18" d="M1411 3231l-1 32 7 113"/></g>
<path class="ax" d="M35.9 286.6L35.9 392.1L190.7 407.4L244.2 362.9M35.9 392.1l-3.2 -0.3M35.9 374.5l-3.2 -0.3M35.9 356.9l-3.2 -0.3M35.9 339.4l-3.2 -0.3M35.9 321.8l-3.2 -0.3M35.9 304.2l-3.2 -0.3M35.9 286.6l-3.2 -0.3M35.9 392.1l-2.5 2M61.7 394.7l-2.5 2M87.5 397.2l-2.5 2M113.3 399.8l-2.5 2M139.1 402.3l-2.5 2M164.9 404.8l-2.5 2M190.7 407.4l-2.5 2M190.7 407.4l3.2 0.3M204.1 396.3l3.2 0.3M217.4 385.1l3.2 0.3M230.8 374l3.2 0.3M244.2 362.9l3.2 0.3"/>
<text class="tk" x="28.5" y="394.3" text-anchor="end">−120</text>
<text class="tk" x="28.5" y="376.7" text-anchor="end">−100</text>
<text class="tk" x="28.5" y="359.1" text-anchor="end">−80</text>
<text class="tk" x="28.5" y="341.6" text-anchor="end">−60</text>
<text class="tk" x="28.5" y="324" text-anchor="end">−40</text>
<text class="tk" x="28.5" y="306.4" text-anchor="end">−20</text>
<text class="tk" x="28.5" y="288.8" text-anchor="end">0</text>
<text class="tk" x="30.3" y="402.9" text-anchor="end">−600</text>
<text class="tk" x="56.1" y="405.5" text-anchor="end">−400</text>
<text class="tk" x="81.9" y="408" text-anchor="end">−200</text>
<text class="tk" x="107.7" y="410.6" text-anchor="end">0</text>
<text class="tk" x="133.5" y="413.1" text-anchor="end">200</text>
<text class="tk" x="159.3" y="415.6" text-anchor="end">400</text>
<text class="tk" x="185.1" y="418.2" text-anchor="end">600</text>
<text class="tk" x="197.1" y="414.8">99</text>
<text class="tk" x="210.5" y="403.7">99.5</text>
<text class="tk" x="223.8" y="392.5">100</text>
<text class="tk" x="237.2" y="381.4">100.5</text>
<text class="tk" x="250.6" y="370.3">101</text>
<text class="ti" x="140.3" y="239.5" text-anchor="middle">IARFT LFM</text>
<text class="lb" x="104.6" y="423.1" text-anchor="middle">Velocity(m/s)</text>
<text class="lb" x="231.5" y="416.4">Range(km)</text>
<text class="lb" x="0" y="0" text-anchor="middle" transform="translate(9 339.4) rotate(-90)">Normalized amplitude(dB)</text>
<text class="cap" x="135.5" y="444.2" text-anchor="middle">(<tspan font-weight="bold" fill="#000">c</tspan>)</text>
<path class="grid" d="M316.3 387.4L377.8 342.1M340.6 390.6L402.1 345.3M365 393.8L426.5 348.5M389.3 397L450.8 351.7M413.6 400.2L475.1 354.9M438 403.4L499.5 358.1M331.7 376.1L477.7 395.3M347.1 364.8L493.1 384M362.4 353.4L508.4 372.6M377.8 342.1L523.8 361.3M377.8 342.1L377.8 242.5M402.1 345.3L402.1 245.7M426.5 348.5L426.5 248.9M450.8 351.7L450.8 252.1M475.1 354.9L475.1 255.3M499.5 358.1L499.5 258.5M523.8 361.3L523.8 261.7M377.8 342.1L523.8 361.3M377.8 325.5L523.8 344.7M377.8 308.9L523.8 328.1M377.8 292.3L523.8 311.5M377.8 275.7L523.8 294.9M377.8 259.1L523.8 278.3M377.8 242.5L523.8 261.7M331.7 376.1L331.7 276.5M347.1 364.8L347.1 265.1M362.4 353.4L362.4 253.8M316.3 387.4L377.8 342.1M316.3 370.8L377.8 325.5M316.3 354.2L377.8 308.9M316.3 337.6L377.8 292.3M316.3 321L377.8 275.7M316.3 304.4L377.8 259.1M316.3 287.8L377.8 242.5"/>
<g class="srf" transform="scale(0.1)"><path class="h12" d="M4216 3226l6-483m0 0l7 540"/><path class="h13" d="M3886 3324l7-155m824 287l6-143"/><path class="h14" d="M3735 3269l7-41m27 44l7-108m7 97l7-94m233 131l7-85m55 110l7-86m48 98l7-60m7 40l7-162m116 186l7-56m165 65l7-103m7 113l6-98m337 168l7-45"/><path class="h15" d="M3632 3238l7-97m103 87l7-75m75 94l7 10m0 0l7-88m62 79l7-75m61 108l7-139m21 135l7-94m144 92l7 40m75-32l7-67m48 67l7 28m0 0l7-56m123 56l7-52m144 79l7-62m124 85l7-74m61 84l7-149m35 161l6-86"/><path class="h16" d="M3701 3200l7-135m164 135l7-15m48 22l7-31m7 37l7-30m68 62l7 53m35-56l7-32m6 33l7-27m14 21l7-2m0 0l7-75m20 72l7-23m48 30l7-20m55 56l7-63m48 43l7-31m34 35l7 0m41 9l7-24m48 37l7 67m48-43l7-55m55 45l7-37m48 56l6-49m42 38l6 18m0 0l7 1m0 0l7-25m41 16l7 25m0 0l7-254m14 234l7-6m7 27l6 32m62-43l7-123"/><path class="h17" d="M3570 3154l7-45m28 47l7-91m41 91l7-34m34 49l7 29m27-36l7 105m41-105l7 97m7-94l7-10m82 28l7 139m69-136l7-3m48 16l6 44m14-32l7-185m28 182l6 33m7-27l7 107m28-112l6 7m0 0l7 14m7-23l7 126m48-116l7 17m0 0l7-19m0 0l7 3m0 0l7 6m48-1l6 1m0 0l7 113m69-80l7-29m7 13l7 5m0 0l6-6m0 0l7 8m0 0l7 18m7-24l7-135m27 150l7 9m0 0l7 13m27-21l7-9m14 12l7 42m21-37l6-10m21 5l7-7m27 20l7-121m41 137l7-102m48 107l7-21m21 11l7 169m41-144l7 27m61-24l7 13m41-15l7 1m0 0l7 34"/><path class="h18" d="M3591 3116l7 19m0 0l7 21m34-15l7-5m0 0l7 20m20-19l7 5m0 0l7 0m0 0l7 29m55-18l7-34m41 38l7-82m34 94l7-108m20 110l7 29m21-31l7 79m7-75l7-31m6 31l7 34m7-31l7 37m7-30l7 5m7-3l6 96m35-98l7 18m226 15l7 59m7-63l7-26m48 38l7-2m0 0l6-79m35 87l7 13m96 2l7 113m13-107l7-42m21 41l7 0m0 0l7 18m6-10l7-13m0 0l7-37m14 48l7 39m7-37l6 80m35-78l7 54m6-49l7 27m28-16l7 27m27-27l7-1m0 0l7 86m41-80l7 37m48-23l7 133m13-131l7 18m35-16l7-2m0 0l6 16"/><path class="h19" d="M3577 3109l7-32m76 45l6-22m0 0l7 37m83-18l7 14m0 0l6 139m145-130l6 31m55-31l7-23m7 33l7 125m110-117l7 51m144-25l7 39m219-16l7 54"/><path class="h20" d="M3584 3077l7 39m391 3l7 33m172 1l6-21m7 28l7 79m357-31l7 55m233-41l7-24"/><path class="h21" d="M3612 3065l6-22m7 25l7 170m76-173l7-18m6 23l7 94m76-89l7-23m6 27l7 168m343-115l7 28m158-12l7 111m295-69l7-44m7 45l7 85m137-56l7 75"/><path class="h22" d="M3550 3040l7-12m0 0l7 14m0 0l6 112m48-111l7 25m90-21l6 23m597 73l7-23m460 78l7 22m48-15l7-24m7 27l7 91"/><path class="h23" d="M3811 3052l6 27m28-18l7-44m7 45l6 109m460-51l7 28m254 7l7-24m7 26l7 103m240-79l7 27"/><path class="h24" d="M4401 3109l7-43m7 44l6 201m172-180l7 26m41-11l7 45"/><path class="h25" d="M3852 3017l7 45"/><path class="h26" d="M4037 3028l7-43m7 45l7 212m350-176l7 44"/><path class="h27" d="M4044 2985l7 45m686 54l7 197"/><path class="h11" d="M3900 3248l-2 187 7-236"/><path class="h12" d="M4236 3216l-2 217 7-192m146 27l-2 187 7-206m270 54l-2 214 7-229"/><path class="h13" d="M3865 3171l-1 169 7-151m482 41l-2 192 7-178m91 104l-2 59 7-67m118-2l-1 81 6-142"/><path class="h14" d="M3632 3238l-2 12 7-97m325 32l-2 123 7-115m91 49l-2 63 7 17l2-112-2 112 7-83m84 76l-2 0 7-144m304 187l-2-2 7-84m249 184l-2-34 7-78m29-26l-2 82 7-2l2-86-2 86 7 22l2-81-2 81 7-124"/><path class="h15" d="M3646 3136l-2 90 7-70m43 15l-2 41 7-16m29-32l-2 54 7-26m91 55l-1 10 6-1l2 1-2-1 7-78m98-2l-2 68 7 0l2-31-2 31 7-22m9-34l-2 86 7 34m56-63l-1 22 7-65m56 14l-2 81 7-89m64 67l-2 9 7 31m43-79l-2 57 7-9l2-67-2 67 7 24l2-88-2 88 7-67m36-29l-2 75 7-75m57 10l-2 98 7-159m104 150l-1-5 6-50m30-11l-2 95 7 16m36-51l-2 27 7-23m16-41l-2 55 7-45m36 17l-2 52 7-68m111 43l-1 24 6-1l2-48-2 48 7-27m36-5l-1 31 6 26l2-32-2 32 7-270m64 195l-2 76 7-60m57-12l-2 61 7 23l2-86-2 86 7-56"/><path class="h16" d="M3701 3200l-2-4 7-113m29 186l-2-77 7-23m43 92l-2-65 7-27m91 16l-2 16 7-13m43 19l-2 2 7 35m16-61l-2 39 7 52m77-61l-2 22 7-191m36 199l-1-4 6 58m23-62l-2 10 7-70m29 34l-2 38 7-7l2 95-2-95 7 44m77-541l-1 517 6-30m43-4l-1 37 6-30m9 50l-2-7 7-35m9 14l-2 24 7 1l2-56-2 56 7 40m63-78l-1 53 6-46m126 1l-2 59 7-18l2-41-2 41 7 32m29-60l-2 25 7-16m64 42l-2-9 7-6l1-34-1 34 7 0l1-7-1 7 6-97m57 74l-2 42 7-1l2-42-2 42 7 5l2 39-2-39 7-32m111 7l-1 43 7-21"/><path class="h17" d="M3570 3154l-1-8 6-27m16-3l-2 25 7 9l2-15-2 15 7 3l2 3-2-3 7-71m29 59l-2 12 7 73m9-70l-2 0 7-21m15 2l-1 18 6 12l2-25-2 25 7-8l2-17-2 17 7 53m50 16l-2-59 7-17m22 120l-1-102 6 13l2-19-2 19 7 13m9-29l-2 2 7 10l2-22-2 22 7-84m36 74l-2 9 7-101m29 123l-1-11 6 12m9 123l-2-136 7-5l2-14-2 14 7 252m9-262l-2 26 7-37m8 11l-1 26 6 10m43 72l-1-88 6-33m23 117l-2-81 7 3l2-16-2 16 7-1l2 3-2-3 7 69m8 31l-1-96 6 33m57 88l-2-115 7 15l2 14-2-14 7 22m22-27l-1 2 6 0l2 12-2-12 7 27m50-8l-2-17 7 17l2-20-2 20 7 54m23-67l-2 15 7 19m8 23l-2-53 7 203m9-158l-2-34 7 46m16-62l-2 3 7 35m8 76l-2-106 7 43m9 35l-2-70 7 38m43-20l-2-12 7 5l2 7-2-7 7 170m9-179l-2 1 7 4l2 0-2 0 7 47m8-45l-2-1 7 206m9-211l-2 5 7-124m29 134l-2-3 7-1l2 13-2-13 7 16l2 10-2-10 7 136m22-147l-1 12 7 3l1-24-1 24 6-50m9 38l-2 13 7 56m29-74l-1 20 6-8l2-25-2 25 7-41m16 27l-2 16 7 75m9-89l-2 21 7 140m8-143l-2 1 7-104m23 87l-2 14 7 31m43-29l-2 9 7 232m8-196l-1-33 7 58m36-59l-2 3 7 132m29-141l-2 30 7 89m22-29l-1-75 6-63m30 195l-2-117 7-8l2 80-2-80 7 37m8-25l-1 4 6-13l2 22-2-22 7-85m36 92l-1 14 6-10l2-3-2 3 7 5l2 26-2-26"/><path class="h18" d="M3577 3109l-2 10 7-30m78 33l-2 13 7-27m84 45l-2-1 7-15l2-18-2 18 7 11l2-15-2 15 7 22m146-28l-2 20 7 37m194 12l-2-5 7 14m139-34l-2 26 7 16"/><path class="h19" d="M3666 3100l-1 8 7 47m303-13l-2 18 7-25m9 17l-2 4 7 40m112-36l-2 15 7 31m50-53l-2 18 7-25m8 14l-1 9 6 53m304-13l-2 16 7 51m50-68l-2 21 7 59"/><path class="h20" d="M3584 3077l-2 12 7 52m23-76l-2 17 7-22m8 8l-2 18 7 164m352-131l-2 16 7 21m180-24l-1 14 7 23m605 53l-2 11 7-20m9 7l-2 15 7 136"/><path class="h21" d="M3550 3040l-2 19 7-15l2-16-2 16 7 14l2-16-2 16 7 88m49-103l-1 17 6 26m85-21l-2 18 7-20m8 7l-1 12 6 136m78-143l-2 20 7-26m8 10l-1 14 7 164m495-114l-1 18 7-24m8 11l-2 15 7 84m297-57l-2 12 7-40m9 29l-2 13 7 81m132-87l-2 15 7 22m50-30l-2 16 7-25m9 12l-2 16 7 136"/><path class="h22" d="M3715 3047l-2 16 7 19m91-30l-2 17 7 24m29-32l-2 16 7-44m9 29l-2 15 7 263m461-220l-1 17 6 26m256-8l-2 18 7-25m9 9l-2 17 7 100m242-93l-2 15 7 28"/><path class="h23" d="M4401 3109l-2 16 7-43m9 28l-2 17 7 179m173-175l-2 17 7 26m43-28l-2 16 7 42"/><path class="h24" d="M3852 3017l-2 16 7 44"/><path class="h25" d="M4037 3028l-2 16 7-43m9 29l-2 16 7 259m352-239l-2 16 7 45"/><path class="h27" d="M4044 2985l-2 16 7 45m688 38l-2 16 7 211"/><path class="h10" d="M4763 3420l-2 210 7-311"/><path class="h11" d="M3871 3189l-2 245 7-182"/><path class="h12" d="M4221 3260l-2 165 7-179m290 77l-2 129 7-157"/><path class="h13" d="M4708 3290l-2 145 7-94m98-38l-2 177 7-112m63-51l-1 136 6-125"/><path class="h14" d="M3651 3156l-2 115 7-124m77 45l-2 87 7-64m153-32l-2 96 7-19m64 48l-2 1 7-102m50 60l-2 60 7-74m180 31l-2 54 7-90m9-7l-2 103 7 81m125-173l-2 114 7-105m16-13l-2 121 7-64m50 1l-2 63 7-101m29 72l-2 43 7-98m167 14l-2 78 7-159m228 142l-2 62 7-31"/><path class="h15" d="M3685 3159l-2 72 7-60m36 47l-1 26 6 35m9-110l-2 46 7-28m36 9l-1 48 6-7l2-68-2 68 7-41m84 5l-1 51 6-55m16 238l-2-175 7-63m50 77l-2-17 7 52m64-107l-2 51 7 28l1-46-1 46 6-221m23 245l-2-43 7 33l2 27-2-27 7-40m43-49l-2 59 7-7m70-19l-2 57 7 19l2-22-2 22 7 23m36 95l-2-127 7-41m30-2l-2 35 7-10l1-55-1 55 7 30l1-42-1 42 6 9l2-86-2 86 7-73m16 66l-2-8 7-136m43 68l-2 75 7 50m9-74l-2 10 7-42m132 28l-2 39 7 122m139-167l-2 87 7-9l2 154-2-154 7-65m57 46l-2 4 7-42m29 92l-2-17 7 249m57-290l-2 28 7-8l2-41-2 41 7-31m36 54l-2 8 7-16l2-48-2 48 7 78"/><path class="h16" d="M3596 3150l-2 43 7-31m29 88l-1-61 6-19l2-17-2 17 7 23l2 33-2-33 7 78m29-104l-1 13 6 51m16-35l-2-11 7-85m43 52l-2 35 7-37m9-2l-2 46 7-14m29-1l-2 17 7-90m29 150l-1-56 6-12m85 11l-2 10 7 14l1-14-1 14 7-2l1 23-1-23 6 7l2 16-2-16 7-6l2 0-2 0 7 35m43-61l-2 37 7-16l2-18-2 18 7 9l2-28-2 28 7 101m57-88l-2 16 7 3l1 39-1-39 6-12l2-38-2 38 7 9l2-32-2 32 7-37m23 2l-2 38 7-21l1-17-1 17 7 9l1 1-1-1 6-17m9 55l-2-31 7-10l2 72-2-72 7-62m22 41l-1 49 6 25m23 12l-2-60 7 96m29-103l-2 24 7 9l2 13-2-13 7-41m9-5l-2 28 7 42m125-49l-2 45 7-153m36 114l-1 31 6 11l2-26-2 26 7-28m16 87l-2-71 7 9l2-22-2 22 7-10l2-9-2 9 7-38m8 30l-2 11 7 20l2 25-2-25 7-18l2 20-2-20 7 41m16-52l-2 17 7-20m22-3l-2 35 7-20m9-8l-2 36 7-10l2 114-2-114 7-19m29-12l-2 22 7-5m9 8l-2 14 7 64m50-31l-2-16 7-15l1 30-1-30 6 10l2-7-2 7 7-21m9 18l-2 18 7 95m9-13l-2-81 7 7m29 52l-2-61 7 42m16-85l-2 23 7-66m56 53l-1 23 6-93"/><path class="h17" d="M3569 3146l-2-3 7 0l1-24-1 24 6-29m9 27l-2 7 7 45m9-40l-2 9 7-67m64 60l-2 8 7 17m15 32l-2-41 7 14m71-15l-2 10 7 1l1 2-1-2 7 63m43 13l-2-70 7 13m8-22l-2 10 7-95m23 247l-2-148 7 242m15-246l-2 9 7 82m16-80l-2-2 7-32m57 28l-2 14 7-33m125 71l-2-27 7-13m36 35l-2-11 7 24m84-23l-1 16 6 60m23-94l-2 21 7 23m36 23l-2-25 7-5l2 31-2-31 7 63m29-65l-2 10 7 109m9 56l-2-161 7 58m22-70l-1 14 6 0l2 192-2-192 7 31m36-38l-1 12 7 18m15 121l-2-138 7 114m77-113l-1 5 6-35m9 48l-2-11 7 30m9 40l-2-60 7 28m15-38l-1 9 7-99m29 118l-2-14 7 22m50-25l-2 10 7 32m22-13l-2-13 7 36m29 30l-1-64 7-190m8 195l-2-4 7 32m50 32l-2-56 7 5l2-9-2 9 7 160m77-158l-2 6"/><path class="h18" d="M3658 3135l-2 12 7-25m91 15l-2 13 7 44m153-32l-2 3 7 44m56-49l-1 14 7-19m8 1l-2 15 7 62m112-58l-2 30 7 60m372-40l-1 21 6 41"/><path class="h19" d="M3582 3089l-2 25 7 34m23-66l-2 13 7-18m8 9l-1 17 7 86m36-81l-2 14 7 41m310-28l-1 20 6 16m174 0l-2 10 7-17m9 5l-2 23 7 79m358-42l-2 11 7 37m235-44l-1 20 7-25m8 7l-2 21 7 59"/><path class="h20" d="M3548 3059l-2 17 7-17m9-1l-2 17 7 68m50-83l-2 17 7 26m84-20l-2 17 7-19m9 1l-2 20 7 142m77-149l-2 11 7-22m9 9l-2 16 7 78m345-41l-2 18 7 28m146-31l-2 15 7-25m8 12l-1 14 6 80m297-55l-1 16 6-40m9 26l-2 17 7 151m132-159l-1 15 6 28m50-35l-2 15 7-23m9 11l-2 14 7 184"/><path class="h21" d="M3555 3044l-2 15 7 16m153-12l-2 18 7 21m91-33l-2 15 7 25m29-32l-2 16 7-44m9 28l-2 18 7 97m462-55l-2 14 7 26m255-4l-1 14 6-23m9 10l-2 15 7 107"/><path class="h22" d="M4399 3125l-2 16 7-43m9 29l-2 16 7 226m173-221l-2 16 7 25m43-27l-2 16 7 43m201-25l-2 17 7 25"/><path class="h23" d="M3850 3033l-2 16 7 46"/><path class="h24" d="M4035 3044l-2 16 7-43m9 29l-2 16 7 200"/><path class="h25" d="M4406 3082l-2 16 7 45"/><path class="h26" d="M4042 3001l-2 16 7 45m688 38l-1 16 6 191"/><path class="h12" d="M3594 3193l-2 152 7-173"/><path class="h13" d="M3677 3180l-2 136 7-134m255 46l-1 125 6-87m112-4l-2 82 7-47m77-68l-1 166 6-105m215 29l-2 97 7-140m400 354l-2-166 7-141m50 45l-2 76 7-103"/><path class="h14" d="M3690 3171l-2 118 7-95m139-6l-1 104 6-184m37 144l-2 49 7-83m139 35l-2 66 7-92m105 19l-2 73 7 76m49-99l-1 31 7 28l1-40-1 40 6-69m16 58l-2-4 7-14l2 99-2-99 7-67m57 59l-2 43 7-100m15-12l-2 98 7-76m64 34l-2 60 7-9l2-93-2 93 7-60m77-11l-2 68 7-68m29 22l-2 58 7-8m16 95l-2-70 7-86m98 17l-2 86 7-92m57 8l-2 76 7-71"/><path class="h15" d="M3567 3143l-2 51 7-43m63 19l-1 65 6-52m9 88l-2-49 7-45m84 38l-1 1 6-13m50-7l-2 38 7-108m30 74l-2 31 7 61m36 142l-2-178 7 45m43-92l-2 34 7-7m22-14l-2 44 7-6l2-3-2 3 7-42m9-11l-2 61 7-77m91 104l-2 2 7-65m22 23l-1 8 6-28m16 30l-2 9 7 31l2-47-2 47 7-7l2-61-2 61 7 21m15-66l-2 37 7-47m50 95l-2-52 7-30m43 18l-2 24 7-68m23 58l-2 14 7 59m15-107l-2 62 7 31m43 19l-2-37 7-13l2-55-2 55 7 100m64-47l-2-42 7-18l2-41-2 41 7-14m15-26l-2 46 7 2l2 66-2-66 7 36m29-66l-1 31 6 47m9-76l-2 68 7-67m23-15l-2 51 7-75m15 56l-2 15 7-25m105 66l-2-10 7 1l2-56-2 56 7-25m22-25l-1 43 6-32m30-9l-2 56 7-230m8 175l-1 48 6-32m9 58l-2-21 7 104m36-149l-2 49 7-35m30 0l-2 54 7-131m36 123l-2-4 7 24l2 58-2-58 7-53"/><path class="h16" d="M3601 3162l-2 10 7-61m23 78l-2-12 7 58m8-42l-2-10 7 39m9-75l-2 30 7-38m9 24l-2 27 7 126m8-85l-1-49 6 107m9-104l-2 9 7-81m23 131l-2-61 7 9l1 87-1-87 7 24m8-29l-2 16 7-49m16 26l-2 23 7-6l2-16-2 16 7-3l2 50-2-50 7 2l1 41-1-41 6 38m30-47l-2 13 7 31m36-39l-2 39 7 25m15-59l-1 21 7-7l1 68-1-68 6 3l2 46-2-46 7 20l2-37-2 37 7-55m16 44l-2 13 7-17l2 2-2-2 7 134m22-44l-2-91 7 50m29-35l-2 2 7-12l2-6-2 6 7 0l2 3-2-3 7 2l2 102-2-102 7 94m9-38l-2-54 7-151m36 179l-2-23 7 9l2 17-2-17 7-3l1 8-1-8 7 25m8-45l-2 17 7-20m50 28l-2 0 7-39m23 67l-2-25 7 81m22-79l-2 8 7 84m16-94l-2 13 7 3l1 44-1-44 7-1l1 4-1-4 6 37m16-42l-2 18 7-14l2 38-2-38 7 42m15 25l-1-66 6 55m16-4l-2-41 7-77m22 63l-1 25 6 47m23 40l-2-93 7 89m15-102l-1 33 7-19l1 17-1-17 6-120m37 129l-2 9 7 4l1-2-1 2 6 16m23-21l-2-9 7 17l2-18-2 18 7-30m29 58l-2-40 7 92m9-87l-2 1 7 30m15-49l-1 20 6 25m9-35l-2 10 7 9l2 9-2-9 7 9l2-10-2 10 7-12l2-17-2 17 7-100m22 93l-2 31 7-23l2-13-2 13 7 95m9-22l-2-70 7-72m22 137l-2-60 7 41m16-23l-2-1 7 62m8-66l-1-5 7 27m8-7l-2-25 7 3l2 117-2-117 7 2l2 21-2-21 7-2l2 30-2-30 7 44m22-23l-2-16 7 37m16-41l-2 4 7-58m29 55l-2 9 7 13l2 138-2-138 7 102m9-84l-2-19 7 42m29 39l-2-85 7 14l2 40-2-40 7 20m15-43l-1 14"/><path class="h17" d="M3574 3143l-2 8 7-22m8 19l-1 1 6 196m167-151l-2-17 7 26m208-29l-2 17 7-21m125 35l-2 10 7 59m146-41l-2-3 7 44m222-28l-2 26 7 46"/><path class="h18" d="M3580 3114l-1 15 7 20m77-27l-2 17 7 51m84-40l-2 4 7 23m153-12l-2 14 7 64m64-88l-2 15 7 20l1-19-1 19 6 45m167-54l-2 23 7-28m9 16l-2 8 7 46m358-6l-1 11 7 46"/><path class="h19" d="M3546 3076l-2 13 7-13m9-1l-2 16 7 103m43-99l-2 16 7-22m9 14l-2 14 7 60m77-77l-2 13 7-19m9 8l-2 16 7 65m77-77l-2 20 7-25m9 8l-2 16 7 75m345-36l-2 12 7 24m146-24l-2 18 7-26m9 9l-2 18 7 87m297-64l-2 17 7-41m8 27l-2 14 7 77m126-59l-2 12 7-20m8 11l-1 10 6 98"/><path class="h20" d="M3553 3059l-2 17 7 15m57-14l-2 12 7 28m91-36l-2 13 7 24m91-34l-2 17 7 24m29-32l-2 15 7-43m9 30l-2 14 7 122m462-80l-2 17 7 27m256-8l-2 16 7-25m8 11l-2 16 7 122m181-99l-2 17 7 21m49-30l-1 16 7-24m8 10l-2 18 7 81"/><path class="h21" d="M4637 3178l-1 16 6 41m201-22l-1 15 6 28"/><path class="h22" d="M4397 3141l-2 16 7-43m9 29l-2 15 7 169m173-163l-1 14 6 27"/><path class="h23" d="M3848 3049l-2 16 7 44m180-49l-1 16 7-43m8 29l-2 16 7 266"/><path class="h24" d="M4404 3098l-2 16 7 44"/><path class="h25" d="M4734 3116l-2 16 7 223"/><path class="h26" d="M4040 3017l-1 16 6 45"/><path class="h11" d="M3942 3266l-1 179 6-130"/><path class="h12" d="M4011 3225l-2 178 7-95m180-22l-1 125 6-128"/><path class="h13" d="M3963 3268l-2 86 7-146m249 118l-2 42 7-65m50-1l-2 88 7-88m400 89l-2 61 7-126"/><path class="h14" d="M3771 3197l-2 87 7-43m57 51l-2 14 7-182m29 132l-2 52 7-66m9-24l-2 102 7-36l2-73-2 73 7 21l1-91-1 91 6-87m30 1l-2 98 7 7l2 29-2-29 7 121m8-185l-2 55 7-73m50-19l-2 95 7 85m9-84l-2-11 7 0l2-81-2 81 7-216m105 303l-2-83 7-22m98-29l-2 69 7 10l1-42-1 42 6-76m57 7l-2 81 7-146m23 76l-2 79 7 10l1-42-1 42 7-39m104-15l-2 66 7-18l2-12-2 12 7-33m242-14l-2 73 7 1l2-72-2 72 7-15m29-54l-1 110 6-20l2-53-2 53 7-59m36 10l-1 57 7-80m56-4l-2 75 7-62m23-8l-2 111"/><path class="h15" d="M3565 3194l-2 1 7-32m22 182l-1-107 6-52m50 36l-2-16 7-14m30-10l-2 68 7-40l1 79-1-79 7 7l1-23-1 23 6-86m23 52l-2 71 7-18l2-44-2 44 7 23l2-43-2 43 7-59m22 3l-2 49 7 32m9-90l-2 47 7-12l2-33-2 33 7-22m36 24l-2-2 7 77m29-75l-2 32 7 45m9-7l-2-59 7 78m187-88l-2 58 7-41m16 14l-2 12 7 7l1-47-1 47 6-60m9 52l-2-8 7-4m9 36l-2 9 7-54m15 37l-1 0 7-25m43 90l-2-43 7 99m8-155l-2 27 7-16m16-8l-2 44 7-19l2-22-2 22 7 46m22-56l-2 25 7-1l2-38-2 38 7 92m9-29l-2-59 7 16l2-57-2 57 7-28l1 26-1-26 7 2l1 55-1-55 6 60m43-36l-1 16 6-35m37-20l-2 52 7-157m22 155l-2-16 7-16m9 0l-2 19 7-20m29-9l-2 47 7 0l2-30-2 30 7-56m22 81l-1-37 6 3l2-33-2 33 7-12m43-14l-2 45 7-16l2-20-2 20 7-12m43-10l-2 67 7-54m9-10l-2 30 7-84m22 59l-1 53 6-40m16 4l-2 12 7 111m22-137l-1 71 6 5m16-73l-2 59 7-13l2-2-2 2 7-216m9 207l-2 24 7 54m15 31l-2-110 7 15l2-46-2 46 7-84m43 159l-2-71 7-25m50 23l-2 6 7 31l2-13-2 13 7 45"/><path class="h16" d="M3586 3149l-2 38 7 51m8-66l-2 14 7-57m23 48l-2 16 7-5l2 47-2-47 7 3l1-8-1 8 6 15m9-29l-2 15 7-33m9 31l-2-7 7 21l2 112-2-112 7 46m63-47l-1-3 6-19m9-4l-2 38 7 37m29-18l-1-27 6-66m23 59l-2 13 7 16m77 5l-2-16 7-24m9 49l-2-30 7 21l2 2-2-2 7 83m29-99l-2 24 7 112m29-119l-1 3 7 7l1-22-1 22 6 73m50 26l-2-96 7-3l2 52-2-52 7 45m9-49l-2 8 7-2l2-9-2 9 7 28m29 30l-2-43 7 45m9 12l-2-66 7 59m15-69l-1 22 6-46m23 27l-2 23 7-9l2 67-2-67 7 52m22 28l-2-73 7 101m36-138l-2 34 7 35m98 117l-2-119 7-10l2-11-2 11 7 2l2 76-2-76 7 4l2 63-2-63 7-3l2 6-2-6 7 39m36-20l-2-14 7 19m9-15l-2-5 7 1l1 20-1-20 6 88m37-65l-2-12 7 5l1 54-1-54 7 9m15 62l-2-71 7-6l2-9-2 9 7-5l2 26-2-26 7-31m9 28l-2 4 7 9l1 12-1-12 6 32m16-27l-2-1 7-6l2-5-2 5 7-88m22 107l-2-9 7 53m9 28l-2-82 7 20m36 16l-2-28 7 1l2 28-2-28 7 15m16-21l-2 6 7 9l2 12-2-12 7 51m104-57l-1 12 6 8l2-7-2 7 7 24m9-32l-2 7 7 8l2 27-2-27 7-87m29 82l-2-1 7 27"/><path class="h17" d="M3572 3151l-2 12 7-22l2-12-2 12 7 46m77-48l-2 20 7 24m84-29l-2 27 7 34m153-36l-2 15 7 19m57-22l-2 17 7-19m9 1l-2 10 7 38m111-23l-2 7 7 44m50-62l-2 15 7-28m318 81l-2 4 7 30m50-55l-2 18 7 32"/><path class="h18" d="M3606 3111l-2 18 7-22m9 10l-2 11 7 65m352-23l-2 19 7 11m187 0l-2 14 7 55m599-4l-2 20 7-26m9 7l-2 23 7 132"/><path class="h19" d="M3544 3089l-1 17 6-16m9 1l-2 18 7 86m50-106l-2 18 7 21m84-15l-2 18 7-18l2-19-2 19 7 19l2-14-2 14 7 122m77-128l-2 15 7-24m9 8l-2 14 7 74m345-37l-2 15 7 23m146-20l-2 12 7-23m9 12l-2 16 7 150m297-126l-2 18 7-43m8 25l-1 21 7 109m132-120l-2 14 7 30m50-37l-2 17 7-24m8 11l-1 15 6 141"/><path class="h20" d="M3551 3076l-2 14 7 19m249-8l-2 16 7 22m29-31l-1 16 7-43m8 28l-2 18 7 136m462-95l-2 15 7 28m256-8l-2 17 7-26m8 11l-1 17 6 96m37-124l-2 16 7 46m201-28l-2 17 7 26"/><path class="h21" d="M4395 3157l-1 15 6-42m9 28l-2 17 7 136m174-133l-2 16 7 28"/><path class="h22" d="M3846 3065l-1 16 6 46m181-51l-2 16 7-43m8 29l-1 16 6 154"/><path class="h23" d="M4402 3114l-2 16 7 45"/><path class="h24" d="M4732 3132l-2 16 7 231"/><path class="h25" d="M4039 3033l-2 16 7 45"/><path class="h11" d="M3645 3206l-1 248 7-236m29 32l-2 180 7-17l2-203-2 203 7-180m763 132l-1 185 6-189"/><path class="h12" d="M3879 3320l-2 87 7-127m70-38l-1 161 6-158m311 145l-2 65 7-48m153-93l-2 145 7-92m269 24l-1 110 6-143"/><path class="h13" d="M3872 3242l-2 96 7 69m201-160l-2 113 7-49m50 1l-2 64 7-14l2-72-2 72 7-91m132 31l-2 105 7-64m16-51l-2 96 7-80m84 21l-2 73 7-214m125 117l-2 124 7-58m174 15l-2 47 7 68m36-122l-2 57 7-79"/><path class="h14" d="M3597 3186l-1 81 7-121m70 58l-2 78 7 148m105-201l-2 45 7-52m29-9l-2 71 7-41m174 2l-2 58 7 5l1 10-1-10 6 9l2 86-2-86 7-61m36-8l-1 78 6-47m30-4l-2 36 7-14m22-35l-2 77 7-13l2-19-2 19 7-34m71 119l-2-63 7-56m8-25l-2 73 7 9l2 19-2-19 7 8l2-54-2 54 7-73m16 56l-2 27 7-109m36 60l-2 25 7-54m63 8l-1 65 6-9l2-66-2 66 7-7l2-57-2 57 7-43m64-9l-2 73 7-29m22-6l-2 29 7-60m23 10l-2 49 7 33l2-73-2 73 7 9l1-79-1 79 6-76m16-26l-2 71 7-89m22 60l-1 31 6 10l2-57-2 57 7-59m98 2l-2 67 7-18m23-40l-2 55 7 43m22-56l-2 38 7 14l2-65-2 65 7-265m22 249l-1-1 7 25l1-83-1 83 6-62m64-19l-2 74 7-144m36 91l-2 34 7 16l2-19-2 19 7-15l2 41-2-41"/><path class="h15" d="M3563 3195l-2 2 7 8l2-42-2 42 7-52m9 34l-2 14 7-2l2 39-2-39 7 68m29-74l-2 46 7-34l2-17-2 17 7-1m15-12l-1 26 6-38m9 3l-2 32 7 67m23-65l-2 16 7-87m22 108l-2-7 7-1l2-10-2 10 7 9l2 4-2-4 7-46m22 43l-2-23 7-10m9 22l-2-9 7 42m43-45l-2 14 7 20l2 43-2-43 7-123m29 168l-2-51 7 81m16-54l-2-4 7-44m8-18l-1 45 6-34m16 5l-2 41 7-33m16 203l-2-172 7-29m70 64l-2-52 7 16l2 36-2-36 7-164m29 137l-2 34 7 19l2-8-2 8 7-36l2-13-2 13 7 98m16-78l-2 15 7-61m8 30l-1 23 6 50m16-86l-2 39 7 84m57-64l-2-15 7 51m8-65l-1 9 6 48m23-56l-2 0 7 27l2 19-2-19 7 56m15-68l-1-6 6 15l2-10-2 10 7 147m36-103l-1-44 6-83m23 136l-2-23 7-35l2 68-2-68 7 32l2-3-2 3 7 27m22-69l-2 10 7 28l2-41-2 41 7 71m29-91l-2 8 7-14m23-10l-2 43 7-29m63 2l-2 15 7 103m23-128l-2 56 7-33l2-14-2 14 7 49m22-65l-2 58 7-132m22 84l-1 34 7-23m8-12l-2 46 7-7l2-19-2 19 7-90m23 99l-2-18 7 2l1-24-1 24 6 44m9-52l-2 34 7-19l2 96-2-96 7-16m29 52l-2-34 7 57m30 18l-2-76 7 55m15-43l-2 6 7-80m23 126l-2-41 7-26m8-5l-1 38 6 14l2-28-2 28 7-36l2-17-2 17 7 65m29-18l-1-12 6-33l2-17-2 17 7 44"/><path class="h16" d="M3639 3191l-2 13 7 250m15-295l-2 21 7 35m78-15l-2 9 7-20l1-8-1 8 6 17l2 9-2-9 7 23m9 55l-2-65 7 13m16-25l-2 15 7-69m63 110l-2-29 7 23m30 48l-2-69 7 27m8-69l-2 35 7 0l2-16-2 16 7 46m9 42l-2-75 7 1l2 81-2-81 7 30m8 42l-1-71 7 159m8-49l-2-109 7-21l2-16-2 16 7-19m9-5l-2 21 7 29l2-12-2 12 7 53m104-81l-1 14 7 53m43-24l-2 6 7-43m22 41l-2 2 7 3l2-14-2 14 7 23m63-33l-1-6 7 35m36-3l-2-1 7 99m125-93l-2 10 7 154m22-76l-1-74 7 241m15-218l-2-31 7-1l2-24-2 24 7 6l2 0-2 0 7 54m77-46l-2 10 7 42m36 5l-1-42 6 34m71-37l-2 14 7 50m112-49l-2 13 7 33"/><path class="h17" d="M3577 3141l-2 12 7 48m22-72l-1 17 6-25m366 68l-2 16 7 16m173-2l-1 9 6-21m9 7l-2 24 7 33m359-2l-2 13 7 75"/><path class="h18" d="M3543 3106l-2 13 7-14m8 4l-2 16 7 72m57-69l-2 16 7 95m77-108l-1 15 6-18m9 4l-2 12 7 103m77-106l-1 12 7-20m8 6l-2 17 7 128m345-93l-2 16 7 31m146-32l-2 19 7-24m9 10l-2 14 7 113m297-85l-2 13 7-41m9 31l-2 11 7 80m125-62l-2 10 7-21m9 15l-2 12 7 79m43-111l-2 17 7-25m9 10l-2 17 7 112"/><path class="h19" d="M3549 3090l-1 15 6 20m57-18l-2 14 7 23m91-31l-2 15 7 16m91-27l-1 16 6 23m30-32l-2 16 7-43m8 30l-1 14 6 93m462-51l-2 18 7 24m256-5l-2 14 7-23m9 11l-2 16 7 114m180-93l-2 15 7 27"/><path class="h20" d="M4394 3172l-2 16 7-43m8 30l-1 15 6 129m174-125l-2 17 7 27m43-28l-2 15 7 42m201-22l-2 16 7 27"/><path class="h21" d="M3845 3081l-2 16 7 44"/><path class="h22" d="M4030 3092l-2 16 7-43m9 29l-2 16 7 216m351-196l-1 15 7 45"/><path class="h24" d="M4037 3049l-2 16 7 45m688 38l-2 16 7 272"/><path class="h11" d="M4200 3292l-2 213 7-144m91 27l-2 101 7-165m201 78l-2 161 7-218m152 48l-1 149 7-182m49 55l-1 145 6-158"/><path class="h12" d="M3925 3242l-2 184 7-163m139-1l-2 139 7-66m297-32l-2 145 7-112"/><path class="h13" d="M3623 3239l-2 52 7-37m16 200l-2-158 7-87m29 221l-2-119 7-47m201 16l-2 73 7-99m98-4l-2 100 7-5l2-42-2 42 7-42m8 14l-1 25 6-8m37-8l-2 36 7-83m8 19l-1 95 6 8m16-90l-2 48 7 11l2-73-2 73 7-78m15 47l-1 49 6-53m215 3l-2 49 7-79m180 121l-1 7 6-69m30 6l-2 62 7-92m63 13l-2 84 7-139m235 66l-1 94 7-63"/><path class="h14" d="M3630 3205l-2 49 7-15m50 174l-2-149 7-23m50-32l-2 56 7-51m8-8l-1 75 7-24m15-25l-2 67 7-65m119 29l-2 52 7-79m50 167l-2-90 7-34m43 29l-2-5 7 39m8-86l-2 78 7-18l2-44-2 44 7-168m50 212l-2-25 7 24m36-33l-2 9 7-51m16 78l-2-45 7-12m63 35l-1 21 7-52m8 48l-2 6 7-66m30-4l-2 56 7-46m8 152l-2-114 7-6l2 72-2-72 7-3m64 3l-2 7 7 16l2 4-2-4 7 6l1-11-1 11 7-27m56-32l-2 61 7-31m9 32l-2 14 7-31m16 200l-2-167 7-27m8-55l-2 87 7-77m9-5l-2 56 7-33m36 42l-2-4 7-32m9 22l-2 51 7-33l2-51-2 51 7 60m63-72l-1 39 6 38m57-84l-2 36 7 17l2-69-2 69 7-47m9 71l-2-43 7 19l2 92-2-92 7-50m15 70l-2-27 7-197m9 231l-2-37 7-29m16 67l-2-36 7-17m36-30l-2 65 7-50m22 61l-2 12 7-118m23 76l-2 24 7 37"/><path class="h15" d="M3561 3197l-1 19 6 24l2-35-2 35 7-53m9 14l-2 0 7 19l2-21-2 21 7 15l2 32-2-32 7-59m36 28l-2 35 7 57m9-78l-2-9 7 12l1-41-1 41 6-8l2 2-2-2 7 26l2 43-2-43 7 72m16-78l-2 8 7-63m22 69l-2-4 7 14l2-11-2 11 7-12l2 10-2-10 7 20m22-36l-1 28 6-25l2-13-2 13 7 67m9-25l-2-40 7 1l2-13-2 13 7-38m22 87l-2-15 7-16l2-10-2 10 7-11l2 21-2-21 7-66m22 58l-1 30 7-14l1 7-1-7 6 23l2 65-2-65 7 5l2 129-2-129 7 75m9-117l-2 18 7 61m15-86l-1 25 6 4l2 17-2-17 7 168m9-183l-2 20 7-5l2 15-2-15 7-2l2-12-2 12 7 57m8-68l-1 34 6-14l2-41-2 41 7-35m84 49l-1 0 7 114m36-157l-2 56 7-17l2 14-2-14 7 113m15-96l-2-8 7 5l2 87-2-87 7 28m9-46l-2 34 7-34m22 0l-2 18 7 0l2-15-2 15 7 0l2 8-2-8 7 6l2 53-2-53 7 210m15-156l-1-40 6 54m9-79l-2 13 7 9l2 5-2-5 7 2l2 59-2-59 7-26m15 26l-1-5 6 38m16 2l-2-11 7-16l2-27-2 27 7 173m9-181l-2 16 7-63m29 42l-2 5 7 34m22 4l-1-9 6 111m9-117l-2 5 7-22l2 88-2-88 7-86m22 91l-1 20 6 27m9 93l-2-124 7 46m9-43l-2 12 7-22l2-19-2 19 7 55m8-22l-1-5 6 32m23-28l-2-31 7 1l2 63-2-63 7 233m8-237l-1 19 7 91m15-154l-2 53 7 73m22-25l-1-40 7-2l1-17-1 17 6 8l2 17-2-17 7-74m23 77l-2 7 7-10l2-20-2 20 7 53m36-55l-2 1 7 11l2-10-2 10 7 183m8-167l-1-15 6 32m16-2l-2-28 7 28m15-32l-1 1 7 201m29-203l-2 13 7-4l2 46-2-46 7 35m8-26l-1 9 6-45m23 41l-2 19 7 20m9-32l-2-18 7 11l1 21-1-21 6-9l2-6-2 6 7 71m43-31l-1-13 6-2l2 31-2-31 7-14l2 30-2-30"/><path class="h16" d="M3575 3153l-2 34 7 14m23-55l-2 30 7-19m8-13l-2 45 7 102m91-147l-1 45 6 54m30-54l-2 25 7 67m43-128l-2 44 7-23m104 55l-1 7 7 18m63-49l-2 25 7 13l2-22-2 22 7 107m167-122l-2 43 7-20l1-44-1 44 6 7l2-20-2 20 7 31m78-31l-2 24 7 67m70-124l-2 44 7 118m146-87l-2 11 7 51m160-95l-2 42 7 39m125-53l-2 44 7-27m9-11l-2 43 7 55"/><path class="h17" d="M3541 3119l-2 38 7-12l2-40-2 40 7 15l1-35-1 35 7 56m49-95l-1 36 6 32m85-43l-2 32 7-9l1-41-1 41 7 20m91-56l-2 41 7 20l1-38-1 38 6 75m37-128l-2 43 7 80m454-39l-1 36 6-19l2-41-2 41 7 27m270-31l-2 41 7 80m29-93l-2 35 7-37m146 10l-2 38 7 32m50-58l-2 38 7-25m9-11l-2 41 7 95"/><path class="h18" d="M3836 3140l-2 36 7-38m551 50l-2 40 7-42m9 4l-2 42 7 107m166-105l-2 41 7-24m50-26l-2 39 7 45m201-48l-2 38 7 30"/><path class="h19" d="M3843 3097l-2 41 7 46m736 27l-2 40 7 28"/><path class="h20" d="M4028 3108l-2 40 7-42m9 4l-2 41 7 211m352-217l-2 41 7 46"/><path class="h22" d="M4035 3065l-2 41 7 45m688 13l-2 41 7 194"/><path class="h11" d="M4136 3317l-2 159 7-144m352-2l-2 212 7-176m167-6l-2 201 7-177m194 14l-2 188 7-154"/><path class="h12" d="M3594 3235l-2 155 7-180m84 54l-2 130 7-159m91-1l-2 154 7-130m43-16l-2 144 7-168m98 45l-2 128 7-123m50 82l-2 75 7-143m16 60l-2 83 7-107m91-43l-2 153 7-131m70-8l-2 130 7-116m57 5l-2 131 7-81m22-17l-1 137 6-68m153-75l-2 115 7-25m249-16l-2 88 7-128m78 15l-2 149 7-170"/><path class="h13" d="M3738 3265l-2 49 7-80m22-2l-1 110 6-79m85 1l-2 61 7-10m214 20l-2 19 7-67m146 10l-2 117 7-97m43 18l-2 75 7-44m64-24l-2 83 7-75m9 14l-2 51 7 1l2-79-2 79 7-82m63 47l-2 44 7 2l2-77-2 77 7-88m16 17l-2 49 7-55m43-5l-2 64 7-54m22 53l-2 19 7 30l2-82-2 82 7-44m208-12l-2 56 7 76"/><path class="h14" d="M3566 3240l-1 5 6-19m57 28l-2 4 7 26l2-45-2 45 7-29l2 41-2-41 7-11m29 67l-2-48 7 131m43-137l-2 10 7 16l2-38-2 38 7 31m77-45l-1 26 7-17l1-25-1 25 6 108m37-136l-2 65 7-56m8 19l-2 35 7 0l2 40-2-40 7-44m9 46l-2-7 7-52m9-2l-2 44 7-16m36 31l-2 8 7-49m56 62l-1-16 7-32m29 76l-2-53 7-18m15 110l-1-65 6 18m23-62l-2 22 7 114m22-144l-2 61 7-48m16 8l-2 27 7-14m43-23l-2 63 7-42m50-34l-2 76 7-4l2-5-2 5 7-30m22 8l-2 34 7-18l2-32-2 32 7-1l2 142-2-142 7-12m50 23l-2-8 7 65m22-79l-2 30 7-7l2-45-2 45 7-86m64 110l-2-12 7 34m22-43l-2 22 7 0l2-55-2 55 7 158m9 21l-2-197 7 43m43 26l-2-22 7-62m15-2l-1 29 6-59m30 30l-2 41 7-16m43-15l-2 43 7 22l2 118-2-118 7 137m36-152l-2-2 7-16m15 11l-1 3 6-156m16 121l-2 39 7 3l2-46-2 46 7 45m43-38l-2 15 7-42m22 50l-1-17 6-54m30 90l-2-38 7 163m8-190l-1 36 6-31"/><path class="h15" d="M3560 3216l-2 2 7 27m8-58l-2 39 7-5l2-20-2 20 7 16l2-17-2 17 7 153m9-214l-2 34 7-4l2-49-2 49 7 2l1-19-1 19 6 35l2 48-2-48 7 15m23-49l-2 35 7-12l2-11-2 11 7 12l1-31-1 31 7-11l1 6-1-6 6 30m16-22l-2-6 7-9l2-48-2 48 7-13m9-24l-2 33 7 35l1-14-1 14 6 10m23-53l-2 20 7 7l2 40-2-40 7 4l2 12-2-12 7 97m8-43l-2-36 7 125m9-153l-2 23 7-36m16-28l-2 47 7 54m56-22l-1-14 6 54m16-59l-2 15 7 39m9-72l-2 20 7 42m8-40l-1 24 6-3l2 147-2-147 7 112m9-133l-2 10 7 4l2-16-2 16 7 49m9-42l-2-7 7 2l1-9-1 9 7 5l1-49-1 49 6-14l2-22-2 22 7 160m9-80l-2-63 7-6l2 27-2-27 7 149m15-109l-1-30 6-94m30 87l-2 12 7-7l2 109-2-109 7 52m15 23l-2-72 7 4l2 79-2-79 7 23m16 74l-2-91 7-6l1 44-1-44 6 54m9-56l-2 8 7 179m16-205l-2 47 7-44m8-16l-1 29 7 16l1-14-1 14 6 116m9-130l-2 14 7 55m9 147l-2-189 7-1l2 46-2-46 7 2l2-8-2 8 7-12l1 58-1-58 6 109m9-108l-2 11 7 122m23-136l-2 21 7 154m36-154l-2 11 7-43m15-23l-1 44 6 10l2 64-2-64 7 3l2-18-2 18 7 99m29 23l-1-114 6 32m37-27l-2 0 7 10l1 17-1-17 6 101m23-122l-2 11 7 32m15 17l-1-38 7 6l1-45-1 45 6 28m37 52l-2-81 7 11l1 1-1-1 6-31l2 0-2 0 7 92m23-84l-2 8 7 20l2-30-2 30 7 7m29-19l-2 1 7 30m9 12l-2-28 7-3l1 69-1-69 7-37m15-25l-2 31 7 38l2-30-2 30 7 24m22-10l-1-8 6 113m9-135l-2 7 7-1l2 22-2-22 7 39m9-48l-2 32 7-14l2 183-2-183 7 28m15-6l-2-23 7 33m29-70l-1 24 7-8m8-11l-2 20 7 23l2 12-2-12 7 47m9-65l-2 23 7-5l2-7-2 7 7 13l1-29-1 29 7 25m8-101l-2 47 7-35m16 88l-2-34 7 33m22-41l-2 19"/><path class="h16" d="M3539 3157l-2 35 7-11l2-36-2 36 7 9l2-30-2 30 7 28m146-49l-2 44 7 9m84-25l-2 25 7-4l2-44-2 44 7 23m29-65l-2 42 7-36m9 2l-2 31 7 110m304-74l-2 23 7 13m146-26l-2 31 7-17l1-33-1 33 7 38m255-38l-2 44 7-28m9-12l-2 34 7 47m29-59l-1 33 6-29m146 7l-1 43 6 9m57-65l-2 37 7 19l2-26-2 26 7 35"/><path class="h17" d="M3841 3138l-2 44 7 33m544 13l-2 45 7-44m9 3l-2 41 7 66m173-88l-2 40 7 22m43-49l-2 41 7 35"/><path class="h18" d="M4026 3148l-2 44 7-42m9 1l-2 43 7 115"/><path class="h19" d="M4397 3186l-2 43 7 44"/><path class="h20" d="M4033 3106l-2 44 7 44m688 11l-2 44 7 127"/><path class="h11" d="M3668 3233l-2 177 7-31m84-134l-2 205 7-27l2-81-2 81 7-163m372 72l-2 161 7-179m71-9l-2 243 7-127m461-52l-2 181 7-163m23-10l-2 175 7-72"/><path class="h12" d="M3674 3263l-1 116 6-52m263-55l-2 171 7-151m249 24l-2 101 7-79m22 76l-1 7 7-56m36 113l-2-45 7-57m8-10l-1 105 6-142m139 121l-1 19 7-57m49-28l-1 86 6-69m30-46l-2 158 7-47l2-100-2 100 7-101m15 92l-2 16 7-108m50-5l-2 115 7-32"/><path class="h13" d="M3558 3218l-2 90 7-33m77-20l-2 47 7-55m9-15l-2 69 7-51m22 144l-2-67 7-58m167 56l-2 4 7-47m50 16l-2 42 7-62m91 147l-2-78 7-51m43-5l-2 100 7-73m50-21l-2 73 7-66m77 54l-2 38 7 21m153-67l-2 56 7-60m9 70l-2-24 7-3m50-40l-2 51 7 69m8-44l-1-13 6 9l2 6-2-6 7-41m50 162l-2-121 7 18l2-73-2 73 7-77m50-11l-2 69 7-20m9-22l-2 66 7-95m29 41l-2 53 7-62m9-10l-2 76 7-56m29 11l-2 39 7-47m16-10l-2 56 7-27m22-6l-2 61 7-2l2-75-2 75 7 86m9-147l-2 75 7-188m22 120l-2 38 7-2l2 9-2-9 7-53"/><path class="h14" d="M3537 3192l-2 55 7-14m23 12l-2 30 7-45m29-20l-2 48 7-15m84-8l-2 34 7-33m23 21l-2 9 7-10m15 58l-2-40 7-23m36 137l-1-102 6-10l2-18-2 18 7-11m30 13l-2 29 7-39m36 47l-2-33 7 0m15 31l-2-3 7-5l2-36-2 36 7-2l2 5-2-5 7-28m36-7l-2 55 7 120m30-164l-2 20 7 29l1-63-1 63 6-16l2 113-2-113 7-10l2-20-2 20 7 8l2-34-2 34 7 37m57-63l-2 34 7-20m8 56l-1-37 7 23l1-53-1 53 6-22l2-27-2 27 7 27l2-31-2 31 7 2l2 81-2-81 7 23m15-25l-1-6 7-22m29-43l-2 60 7-22m15 107l-1-95 6 21l2-42-2 42 7 51m16-81l-2 23 7-1l2-20-2 20 7 211m15-231l-1 48 6-25l2 99-2-99 7-18m16 2l-2 15 7 94m8-23l-1-34 7 95m15-124l-2 5 7 11l2-28-2 28 7-41m36 103l-2-44 7 25m23-72l-2 55 7-47m36-3l-2 40 7 21m29-61l-2 41 7 7l2-16-2 16 7-36m9-1l-2 18 7-20m15 36l-2 17 7 20m43 6l-2-54 7 100m23-102l-2 29 7 44m43-70l-2 7 7 66m9-113l-2 57 7-40m15 27l-2 19 7 44m9-17l-2-30 7 20l2 147-2-147 7 26m8 57l-1-84 6 137m50-174l-1 54 6-34m50-9l-2 34 7-27m16-7l-2 30 7-10m15-36l-1 44 6-45m16 20l-2 23 7 31l2-21-2 21 7-31m9 19l-2 8 7 7l1-46-1 46"/><path class="h15" d="M3544 3181l-2 52 7-15l2-28-2 28 7 90m15-82l-1 4 6 4l2-13-2 13 7 1l2 2-2-2 7 6l2 149-2-149 7 17m9-52l-2 37 7-15l2-20-2 20 7 16l1-1-1 1 7-4l1 18-1-18 6 9l2 35-2-35 7 53m9-58l-2 3 7 54m9-57l-2 6 7 160m29-184l-2 10 7 12l2-35-2 35 7-1l2-25-2 25 7 19m8 1l-1-11 6-2l2 29-2-29 7 20m9-40l-2 17 7 9l2-19-2 19 7 190m15-187l-1-3 7 26m15-64l-2 43 7-13l2-34-2 34 7 0l2-11-2 11 7 13l2 30-2-30 7 42m8 79l-1-118 6-1l2-49-2 49 7-47m9-5l-2 38 7 76m16-70l-2 23 7-5l1 36-1-36 6 33m23-54l-2 19 7 65m9-58l-2-4 7 9l1-8-1 8 7-6l1 110-1-110 6 42m16-2l-2-29 7-6l2-14-2 14 7 0l2-12-2 12 7 13m43 19l-2-22 7-1l2-9-2 9 7-59m22 73l-2-7 7 89m16-55l-2-38 7 19m43-26l-2 13 7 35m8-42l-1 20 6-10l2 169-2-169 7 186m9-175l-2-4 7 20m9-47l-2 25 7 9l2-18-2 18 7 3m70 34l-2-36 7 2l2 30-2-30 7 15m29 9l-2-19 7 23m16-60l-2 30 7-3l2-44-2 44 7 0l2-6-2 6 7 14l1-10-1 10 6 0l2-7-2 7 7 48m16 34l-2-69 7 46m15-26l-1-24 6 2l2 15-2-15 7-40m71 101l-2-54 7 17m9-12l-2-8 7 122m29-61l-2-47 7 151m15-178l-1 30 6 8m16 40l-2-48 7 55m22-101l-1 30 7-22m8-14l-2 52 7 110m36-170l-1 46 6 31l2-42-2 42 7 15m50-29l-2 19 7 81m43-59l-2-13 7 54m16 83l-2-138 7-5l2-27-2 27 7 10l2-45-2 45 7-17l1-19-1 19 6 38m9 13l-2-40 7 3l2-5-2 5 7 20m9-17l-2 7 7-5l2 23-2-23 7 13m8-79l-2 34 7 28l2-43-2 43 7 15m16 173l-2-173 7 27"/><path class="h16" d="M3839 3182l-2 38 7 33m180-61l-1 44 6-43m9 1l-2 44 7 64m345-29l-2 31 7-34m9 3l-2 37 7 69m173-88l-1 36 6 38"/><path class="h17" d="M4395 3229l-2 41 7 40"/><path class="h18" d="M4031 3150l-2 43 7 45m688 11l-1 43 7 138"/><path class="h10" d="M3625 3240l-2 271 7-257"/><path class="h11" d="M4791 3394l-2 231 7-215"/><path class="h12" d="M3590 3241l-2 110 7-37m43-12l-2 50 7-88m23 146l-2-41 7-74m262 28l-1 68 6-61m167 40l-2 36 7-59m70-2l-1 75 7-36m36 37l-2 52 7-61m104-79l-1 102 7-7m97-7l-1 59 6-103m64-15l-2 114 7-106m57 74l-2 27 7-106m98 75l-2 56 7-105m29 75l-2 73 7-106m77-12l-1 98 6 106"/><path class="h13" d="M3535 3247l-1 47 6-42m16 56l-2 19 7-28l2-24-2 24 7-49m8-16l-1 64 7 24l1-87-1 87 6 29m9-93l-2 56 7-68m9-18l-2 90 7-2l2-72-2 72 7 195m63-242l-2 41 7-30m36-26l-1 99 7-79m15-14l-2 57 7-43m16-14l-2 99 7-27l2-46-2 46 7-27m8-40l-2 55 7-46m84 36l-1 29 7-46m70-7l-2 63 7 6l2-69-2 69 7-34m15-9l-1 41 6-37m30-21l-2 80 7-107m22 34l-2 72 7-43m9-13l-2 38 7-3m125 43l-1-12 6-47m37 28l-2 47 7-78m29 99l-2-37 7-2l2-18-2 18 7-53m63 40l-1 47 6-46m30-40l-2 74 7-62m29 25l-2 27 7-35m16 41l-2-9 7 77m15-93l-2 36 7-35m36 33l-2 19 7-15l2 14-2-14 7 51m36-3l-1-53 6-21m9 21l-2 14 7-35m84-2l-2 61 7-70m9 6l-2 46 7-42m57 82l-2-37 7-107m9 94l-2 20 7-24m29-36l-2 83 7-67m36 11l-2 48 7-55m36 3l-2 68 7-66m16 25l-2 35 7-57"/><path class="h14" d="M3542 3233l-2 19 7-13m23-9l-2 20 7 48m56-49l-1 5 6 98m9-105l-2 17 7 2l2 35-2-35 7 2l2-18-2 18 7 101m9 10l-2-84 7-24l1 56-1-56 6 39m9-74l-2 44 7-22m9-11l-2 24 7 1l2-6-2 6 7 28l2-44-2 44 7 53m8-79l-1 0 6 0l2-23-2 23 7 43m9 133l-2-176 7 0l2 149-2-149 7 85m15-83l-1 29 6 15m23-55l-2 40 7-26l2 28-2-28 7 25l2-36-2 36 7-6l1-31-1 31 6-35m9-10l-2 38 7 21l2 17-2-17 7-27l2-3-2 3 7 2l2-5-2 5 7 26l2-36-2 36 7 26m8-34l-1-12 6-3l2 13-2-13 7-1l2-14-2 14 7 10l2 41-2-41 7-8l2-13-2 13 7 5l2-9-2 9 7-2l2-13-2 13 7 97m8 52l-2-113 7-34l2-4-2 4 7 53m16-50l-2 22 7-22l2 29-2-29 7 54m8-51l-2 14 7-3l2-3-2 3 7-6l2 40-2-40 7 0l2-11-2 11 7 68m36 16l-2-60 7 25m9-58l-2 55 7-41l2 5-2-5 7 3l2 25-2-25 7 2l1 1-1-1 6 10l2 18-2-18 7-9l2 29-2-29 7 88m9-102l-2 43 7-19l2 11-2-11 7 7l2-18-2 18 7 24l1-52-1 52 6 0l2 134-2-134 7-38l2-7-2 7 7-2m9-7l-2 38 7-5l2-24-2 24 7-16l2-5-2 5 7 91m15-3l-2-80 7 27l2-26-2 26 7-20l2-7-2 7 7-8l2 212-2-212 7 137m15-133l-1-6 6-1m9-9l-2 46 7-17l2-14-2 14 7 43m16 75l-2-130 7 30l1-42-1 42 6-1l2-18-2 18 7 6l2-13-2 13 7-25l2-29-2 29 7 1l2-33-2 33 7-14m9-5l-2 47 7 55m15-29l-2-24 7-28l2-8-2 8 7 7l2 31-2-31 7 15l2 13-2-13 7 40m8-72l-1 10 7 8l1-58-1 58 6-46m9-6l-2 53 7 43m9-6l-2-29 7 6l2 92-2-92 7 26m15-23l-2-3 7 46m9-72l-2 37 7-6l2-14-2 14 7 23l2-57-2 57 7-35l2 100-2-100 7 24l1 7-1-7 6 46m23 73l-2-143 7 4l2 92-2-92 7 8l2-17-2 17 7 10l1-19-1 19 7 28m8-55l-2 34 7 35m9-34l-2-1 7 72m29 4l-2-67 7 7l2 28-2-28 7-33l2-1-2 1 7 29l2 36-2-36 7-25l2 5-2-5 7-16m8 12l-1 30 6 46m9-17l-2-53 7 52m9-26l-2-16 7 98m9-83l-2-22 7 1l1 158-1-158 7 6l1-11-1 11 6 22l2 48-2-48 7 119m9 13l-2-119 7 10m22-47l-1 30 6 3l2 21-2-21 7-23l2 42-2-42 7 1l2-12-2 12 7 66m9-73l-2 6 7 4l2-27-2 27 7 109m15-122l-2 13 7 55m9-58l-2 3 7 10l2-18-2 18 7 20l2-25-2 25 7-34m8-8l-1 28 6 55m9-37l-2-29 7 24l2-26-2 26 7 36m9-28l-2-29"/><path class="h15" d="M3549 3218l-2 21 7 88m50-84l-2 3 7 72m91-70l-2 10 7 13m91-19l-2 22 7-4l2-18-2 18 7 35m29-85l-2 43 7 28m181-55l-2 32 7-31m8 1l-1 45 6 91m112-40l-2-15 7 31m84-28l-2 11 7 37m71-51l-2 19 7 42m70-110l-2 46 7 47m174-14l-2 16 7 6l2-44-2 44 7-1l1-5-1 5 6 38m37-57l-2 19 7 42m200-42l-1 36 7 20"/><path class="h16" d="M4029 3193l-1 44 7 46m688 9l-2 44 7 114"/><path class="h10" d="M4494 3425l-1 174 6-209"/><path class="h11" d="M4117 3328l-2 147 7-138m98 136l-2 40 7-150m98 17l-2 154 7-74m118-37l-1 126 6-167"/><path class="h12" d="M3554 3327l-2 56 7-94m98-21l-2 128 7-118m16-7l-2 96 7-27m56-66l-1 102 6-85m167 0l-2 106 7-1l2-100-2 100 7-78m22-22l-2 132 7-117m57-4l-2 92 7-79m160 9l-2 89 7-42m22-12l-2 99 7-46m126 18l-2 25 7-4l2-28-2 28 7-27m145 11l-1 41 7 118m29-217l-2 105 7-79m63 0l-1 91 6-96m140 23l-2 82 7-71m36-27l-2 101 7-64m29-37l-2 91 7-57"/><path class="h13" d="M3630 3254l-2 71 7-36m49 21l-1 30 7-45m8-37l-2 71 7-50m9-7l-2 70 7-59m9 70l-2-6 7 3l2-76-2 76 7 26m22-102l-2 65 7-40m16 6l-2 52 7-46m22-6l-2 29 7-13m43-36l-2 62 7 7l2-67-2 67 7-50m29-15l-2 52 7-4l2-38-2 38 7 60m50-42l-2-9 7-8m16 15l-2 0 7 1l1-38-1 38 7-39m8-8l-2 72 7 20m36-25l-1 0 6-4l2-39-2 39 7-47m9 30l-2 37 7-64m9-11l-2 44 7 28l2-70-2 70 7 13l1-73-1 73 6-68m9 74l-2-44 7 25l2-40-2 40 7 88m36-156l-2 65 7-18m23 54l-2-44 7 7l2 1-2-1 7-34m15-5l-2 73 7-43m23-40l-2 70 7-13l1-58-1 58 6-43m43 22l-1 46 7-27l1-13-1 13 6 35l2-73-2 73 7-41m36-1l-1 47 6-64m16 11l-2 37 7 13l2-10-2 10 7-5l2-67-2 67 7-40m15-18l-2 38 7 39l2-34-2 34 7-56m9-7l-2 47 7-44m50-10l-2 62 7-51m63 18l-1 45 6-39m9-6l-2 23 7-20m50 9l-2 23 7 11l2-59-2 59 7-55m15 68l-1-19 7-8m56 108l-2-83 7-26m9 13l-2 26 7-94m139 64l-2 56 7 2l2-22-2 22 7-64"/><path class="h14" d="M3534 3294l-2-17 7-2l1-23-1 23 6-21l2-15-2 15 7 129m9-84l-2-10 7-29l2-10-2 10 7 4l2 34-2-34 7 4l2 54-2-54 7-5l1 88-1-88 6 16l2 35-2-35 7 15l2-48-2 48 7-10l2 34-2-34 7 12l2 20-2-20 7-28l2 243-2-243 7 57m8 27l-1-63 7-18l1-7-1 7 6 14l2-19-2 19 7 111m9-27l-2-91 7 14l2 3-2-3 7 75m15-87l-1 15 6 34m9-58l-2 8 7 63m9-42l-2-17 7 64m22-30l-2-26 7 18l2-35-2 35 7 30m9 20l-2-60 7 9l2 24-2-24 7 49m8-37l-1-9 6-28l2-9-2 9 7 8l2-21-2 21 7 43m9-55l-2 42 7-23l2 6-2-6 7-3l2 3-2-3 7-4l1-28-1 28 7 32l1-32-1 32 6-11l2 0-2 0 7 35m16-34l-2-9 7 1l2 34-2-34 7 13l2-25-2 25 7-16l1-12-1 12 6 39m30-47l-2 24 7 11l2 62-2-62 7-17l1 18-1-18 6 116m9-79l-2-38 7 35m9-25l-2 17 7-27l2-12-2 12 7 42m15-40l-1 2 6 64m16-4l-2-55 7 4l2-56-2 56 7-46m29 78l-2-33 7 67m9-78l-2 14 7 33m22-41l-2 14 7 30m23-27l-2 2 7-1l2 23-2-23 7-1l1 24-1-24 7 17l1-31-1 31 6 32m9-34l-2 16 7-28l2 7-2-7 7 80m22-81l-1 12 6 114m16-127l-2 38 7 139m9-101l-2-49 7 41m15-34l-2-22 7 7l2-2-2 2 7 7l2 34-2-34 7-10l2 42-2-42 7 3l2-14-2 14 7 0l2 16-2-16 7 61m22-64l-2 31 7-20l2-25-2 25 7 171m29-180l-2 11 7 2l2-6-2 6 7 46m23-51l-2 19 7-38m22 28l-2 13 7 40m9-21l-2-23 7 15l2 85-2-85 7-15l1-3-1 3 7 169m8-161l-2-6 7-5l2 5-2-5 7 15l2 13-2-13 7 40m9-38l-2-13 7 100m15-5l-2-86 7 1l2-21-2 21 7 7l2-24-2 24 7 89m9-95l-2 16 7-19l2 31-2-31 7 55m8-10l-2-29 7 17m9 49l-2-69 7-10l2-27-2 27 7 25l2-46-2 46 7-7l2-40-2 40 7 89m8-84l-2-12 7-3l2-18-2 18 7 34m16-64l-2 20 7 29l2-7-2 7 7 20m8-51l-1 43 6-29l2 38-2-38 7 16l2-20-2 20 7 2l2 76-2-76 7 15l2-44-2 44 7-21l2-22-2 22 7 5l2-21-2 21 7-1l1 2-1-2 6 38m9-23l-2-3 7 39m16-19l-2-21 7 79m8-79l-1 8 6 3l2-34-2 34 7-21l2-12-2 12 7 9l2 45-2-45 7-6l2-16-2 16 7 89m9 8l-2-72 7-16l1 194-1-194 7 6l1-27-1 27 6-15l2 43-2-43 7 79m9-81l-2 24 7-9l2 5-2-5 7 2l2-31-2 31 7 1l2-12-2 12 7-11l1 54-1-54 6 29l2-41-2 41 7 39m16-77l-2 15"/><path class="h15" d="M4028 3237l-2 41 7 23l2-18-2 18 7 73m351-58l-1 27 6 58m325-65l-2 39 7 54"/><path class="h10" d="M4348 3365l-1 211 6-144m78-37l-2 207 7 29l2-251-2 251 7-219"/><path class="h11" d="M3552 3383l-2 73 7-99m153-15l-2 80 7-104m222-6l-2 137 7-127m36 31l-2 113 7-133m98 54l-2 90 7-80m36-60l-2 197 7-154m125-25l-1 202 6-194m37 26l-2 113 7-120m36 74l-2 78 7-157m166 14l-2 137 7-126m50 0l-2 132 7-67m215-20l-2 116 7-129"/><path class="h12" d="M3545 3254l-1 96 6 106m9-167l-2 68 7-67m43-6l-2 73 7 18l2-79-2 79 7-79m43-18l-2 77 7-51m64 46l-2 70 7-51l2 7-2-7 7 15l1-93-1 93 7 4l1-79-1 79 6-89m30 12l-2 64 7-76m29-1l-2 119 7-82m36 19l-2 28 7-63m9-14l-2 109 7-37m228 10l-2 26 7 49l2 13-2-13 7 72m23-182l-2 77 7-16m63-39l-2 56 7 15l2 68-2-68 7-30m9-11l-2 27 7-68m43-8l-2 106 7-58m84 23l-2 21 7-66m43 43l-2 85 7-124m36-8l-2 82 7 16l2-83-2 83 7-81m9-13l-2 120 7-60m15-51l-1 76 6 62m16-41l-2-22 7-63m9-13l-2 111 7 4l2-60-2 60 7-72m43 67l-2-6 7-26m29-77l-2 96 7-47m112-2l-2 84 7-62m29 52l-2-5 7 57m91-130l-2 102"/><path class="h13" d="M3532 3277l-2 55 7-19l2-38-2 38 7 37m36-82l-2 70 7-62m8 3l-1 49 7-35m43-22l-2 43 7-8l1-21-1 21 6-15m23 76l-2-20 7-2l2-5-2 5 7-56m8 40l-1-4 6 16l2-62-2 62 7 81m9-139l-2 35 7-21m50 11l-2 32 7-13l2 30-2-30 7 48m15-84l-1 59 6-45m23-10l-2 40 7-35m50 18l-2 59 7-54m22 74l-2-35 7 16l2 18-2-18 7-9l2-51-2 51 7-11l2-29-2 29 7 91m22-103l-2 7 7-29m30-9l-2 58 7 3l1 3-1-3 6-3l2 26-2-26 7-23m43-27l-2 44 7-25m30 58l-2-3 7-27l1-38-1 38 7 6l1-14-1 14 6 37m23-77l-2 44 7-33m15 37l-1 29 6-34l2-13-2 13 7-27m9 66l-2-20 7-3l2-19-2 19 7-40m15 108l-1-51 6-20l2 25-2-25 7 38m16-67l-2 52 7 16m36-79l-2 32 7-14m16 46l-2-13 7 99m15-119l-2 24 7-37m16 90l-2-32 7 106m22-167l-2 65 7-27l2 8-2-8 7 42m43-63l-2 57 7 68m30 40l-2-137 7-20m36 89l-2-40 7-23l2 181-2-181 7 48m49-61l-1 27 7 7l1-17-1 17 6 95m9-142l-2 75 7-8l2-42-2 42 7-7l2-42-2 42 7 41m8-90l-1 64 7-58m8 25l-2 13 7-9l2 7-2-7 7 48m9-67l-2 20 7 33l2-33-2 33 7-32l2-9-2 9 7 22l1-60-1 60 6 16l2-60-2 60 7-47m23-12l-2 26 7 7l2-34-2 34 7-5l1 9-1-9 7-25m42 18l-1 19 7 31l1-71-1 71 6-47m9-21l-2 66 7 18m23-69l-2 61 7-56m43-15l-2 56 7-35m8 47l-2-24 7-26"/><path class="h14" d="M3566 3260l-2 30 7-13l2-13-2 13 7 61m9-75l-2 13 7 52m8-34l-1-1 6 64m16-89l-2 28 7-13l2 42-2-42 7 4l2 2-2-2 7 27m15 82l-2-105 7 64m9-63l-2 12 7 43m16-52l-2-6 7 36m29 22l-2-50 7 123m29-81l-2-40 7 0l2 0-2 0 7 41m22-57l-1 16 7 51m8-16l-2-29 7 4l2 12-2-12 7 108m16-126l-2 9 7 8l2 15-2-15 7 14l1-10-1 10 6-11l2 36-2-36 7 71m9-78l-2 15 7 95m16-112l-2 21 7 10l1 8-1-8 7-17l1 21-1-21 6 46m36 66l-1-106 7 9l1-20-1 20 6 22m9-15l-2-14 7 1l2-14-2 14 7 141m9-112l-2-21 7 40m22-53l-2 30 7-23l2-3-2 3 7-11l2-38-2 38 7 34l2-49-2 49 7-5l2 29-2-29 7-8l1 33-1-33 6 30m9 23l-2-48 7 12l2-28-2 28 7-6l2 11-2-11 7 129m57-142l-2 12 7 82m22-91l-2 14 7 46m16-15l-2-28 7 6l2-12-2 12 7 51m43-21l-2-28 7 3l1-18-1 18 7 191m8-195l-2 1 7 21m9-29l-2 15 7 91m22-37l-1-42 6 25m9-44l-2 7 7 4l2 160-2-160 7 54m16 1l-2-52 7 199m29-155l-2-40 7-4l2 4-2-4 7-9l2-25-2 25 7 9l1 24-1-24 7 15l1 48-1-48 6 49m16-61l-2 5 7 217m22-220l-1 10 6 67m16-27l-2-38 7 107m36-103l-2 4 7 63m9-57l-2-6 7 98m70-100l-1 9 6 38m57-27l-2 11 7-5l2 9-2-9 7 7l2-19-2 19 7 12m22-15l-1-8 6 4l2 43-2-43 7-23l2-28-2 28 7 33l2-7-2 7 7-8l2 80-2-80 7 93m22-93l-2 15 7 45m23-57l-2 3 7 64m8-76l-1 20 6 7l2 52-2-52 7-5l2 0-2 0 7-9l2 0-2 0 7 2l2 0-2 0 7 8l2-7-2 7 7 38m8-27l-1-8 6 23m9 26l-2-52 7 90"/><path class="h10" d="M3619 3296l-2 211 7-136m146-31l-2 182 7-190m880 146l-1 163 7-210"/><path class="h11" d="M3756 3299l-1 132 6-48m188-52l-2 135 7-128m36 35l-2 104 7-116m132 19l-2 103 7-36m125-84l-1 153 6-112m30 98l-2 25 7-145m201 84l-2 104 7-56m29-14l-2 61 7-143m29 49l-2 73 7-84m160-28l-2 192 7-115m125-60l-1 147 6-135"/><path class="h12" d="M3564 3290l-2 69 7-71m57-5l-2 88 7-70m16 5l-2 98 7-52l1-61-1 61 6-23m16 18l-2 47 7-57m9-48l-2 121 7-103m70-8l-2 84 7 139m57-187l-2 39 7-13m36-42l-2 92 7-32l2 35-2-35 7-31m23-32l-2 89 7 10l1-53-1 53 6-48m71-34l-2 69 7 75m15-104l-1 24 7 12l1-59-1 59 6-68m64 136l-2-56 7-49m29 90l-2-44 7-59m16-12l-2 100 7-85m63 30l-1 41 7-50m22 48l-2 38 7-43m9-60l-2 96 7-87m29 86l-2 18 7-93m22 21l-1 53 6-76m16 44l-2 16 7-33m9-34l-2 94 7-4l2 109-2-109 7-24l1-11-1 11 7-37m49 35l-1 17 6-13m9-60l-2 74 7-42m50 84l-2-32 7-62m22 121l-1-14 7-72m97 5l-1 45 6-61m23 41l-2 19 7-6l2-45-2 45 7 52l2-75-2 75 7 104m22-208l-2 105 7-88m16-3l-2 44 7-27m8-38l-1 87 6-75m23 83l-2-16 7-59m9 44l-2 42 7-87m29-11l-2 105 7-81m22-14l-1 66 6 10l2-85-2 85 7-33m23-39l-2 61 7-53"/><path class="h13" d="M3530 3332l-2-18 7-33m22 76l-1-65 6 67m23-83l-2 62 7-50m70 67l-2-26 7-10l2-15-2 15 7 75m9-49l-2-8 7 73m22 12l-1-82 6-31m16 111l-2-90 7-4l2 43-2-43 7 25l2 33-2-33 7-9l2 46-2-46 7 89m22-104l-2 5 7-18m9-15l-2 47 7-31m36-15l-2 61 7-15l2-38-2 38 7-6l2-18-2 18 7-12m8 54l-1-48 6 77m16-34l-2-29 7-11l2-14-2 14 7 5l2-9-2 9 7 63m15-27l-2-11 7-33m9 24l-2-6 7 14l2 83-2-83 7-1l2-43-2 43 7 101m15-142l-2 38 7-17m30 31l-2-15 7 36m29-47l-2 21 7 1l2-27-2 27 7-23m15-7l-1 47 6-32m23 40l-2-25 7-7l2 5-2-5 7-9m8 57l-1-31 6 36m37-5l-2-19 7-16l1 1-1-1 6 14l2-40-2 40 7-14l2 20-2-20 7 29l2-12-2 12 7-1l2-51-2 51 7-23l2-22-2 22 7 20l2 9-2-9 7 30m8-3l-1-47 6 15l2 47-2-47 7-13l2 30-2-30 7 84m9-106l-2 63 7 36m22-78l-2 20 7-24m64 154l-2-123 7 60m22-66l-1 1 6 12l2 29-2-29 7-26m9-15l-2 38 7-29m16 6l-2 26 7 40m8 51l-2-64 7 14m9 143l-2-185 7-15m22 57l-1-20 6 6l2 30-2-30 7-37m43-6l-1 40 6-17l2 40-2-40 7 22l2-45-2 45 7 114m23-122l-2-13 7 9l1 99-1-99 6 105m9-81l-2-3 7-36m9 73l-2-63 7-6m22 14l-2-7 7 18l2 37-2-37 7-23m43 0l-2 39 7 73m9-93l-2 5 7-5l2 7-2-7 7 46m9-69l-2 42 7 49m56-25l-2 5 7-13l2 26-2-26 7-27l2 110-2-110 7 86m9-41l-2-40 7 20l2-36-2 36 7-23m22-18l-2 50 7 7l2-49-2 49 7-40"/><path class="h14" d="M3537 3313l-2-32 7 1l2 68-2-68 7 4l1 170-1-170 7 6m15-15l-2 11 7-1l2 51-2-51 7 51m9-10l-2-40 7 2l2 3-2-3 7 0l1 67-1-67 6 5l2 80-2-80 7 212m16-220l-2 14 7 1l2 12-2-12 7 102m50-79l-2-18 7 1l1 33-1-33 7 32m8-22l-2-9 7-3l2-9-2 9 7 24m57 45l-2-61 7 32m9 4l-2-35 7 5l1-15-1 15 6 1l2-12-2 12 7 3l2 93-2-93 7 50m29-63l-1 17 7 6m63 35l-2-35 7 18m29 1l-1-15 6 24m9-37l-2 20 7-5l2 126-2-126 7 62m36-75l-2 14 7 1l2-26-2 26 7 29m16-34l-2 12 7 5l1 13-1-13 7 35m8-35l-2 3 7-1l2-8-2 8 7 65m23-45l-2-20 7 26m15 152l-2-175 7 124m16-54l-2-67 7 32m105 163l-2-182 7 141m15-146l-2 10 7 99m9-76l-2-17 7 141m9-145l-2 0 7 78m8-90l-2 14 7 6l2-16-2 16 7 54m50-63l-2 11 7 23m9-47l-2 18 7 10l2-19-2 19 7 22m36 213l-2-229 7 0l2 10-2-10 7 0l2-10-2 10 7 37m15-45l-2 14 7 61m9-28l-2-34 7 2l2 9-2-9 7 161m43-66l-2-86 7-2l2 16-2-16 7 10m29 26l-2-32 7 10m9 37l-2-43 7 3l2-18-2 18 7 65m22-53l-2-13 7 65m29-60l-1 0 6 34m50-62l-2 35 7 4l2-6-2 6 7 178m16-161l-2-13 7 86m8-89l-1 2 6 48m43-44l-1 6 7 55m29-27l-2-29 7 55m8-38l-1-15 7 136m8-57l-2-78"/><path class="h10" d="M3549 3286l-2 192 7-166m29 26l-2 167 7-171m139-4l-2 180 7-47"/><path class="h11" d="M3617 3507l-2-40 7-118m85-9l-2 86 7-108m22 8l-2 137 7-108m9-13l-2 125 7-109m8 25l-1 50 6-102m194 31l-1 129 7-54m84-83l-2 136 7-121m50 13l-2 147 7-122m235 60l-2 66 7-116m22-25l-2 137 7-45m36-39l-1 137 6-59l2-64-2 64 7-75m167-24l-2 119 7 60l2-176-2 176 7-153m118-8l-2 144 7-62m30-79l-2 168 7-140m22 66l-2 56 7-135m23 50l-2 81 7-93m36-42l-2 125 7 19l2-8-2 8 7-130"/><path class="h12" d="M3528 3314l-2 43 7-9l2-67-2 67 7-23m29-37l-2 84 7-4l2-81-2 81 7 137m43-134l-2-22 7-41m23 44l-2-1 7-36m22 22l-2 76 7-15l2 12-2-12 7-81m9-9l-2 99 7 19m77-112l-2 66 7-51m9-14l-2 56 7 41l2-92-2 92 7 12l1-103-1 103 7-82m8 32l-2 60 7-79m30-21l-2 62 7-17l1 32-1-32 6 48l2-48-2 48 7-87m9-3l-2 84 7-13l2-66-2 66 7-65m9 72l-2-27 7-36m15 0l-2 41 7-43m16 116l-2-32 7-77m15-12l-1 92 6-76m16 116l-2-69 7 19l2-66-2 66 7-8l2-22-2 22 7-19l2 9-2-9 7 20l1-79-1 79 6-27m9-22l-2 49 7-48m36-16l-2 98 7-20l2-13-2 13 7-62m36-13l-1 80 6-49m43-12l-1 42 6-17m57 66l-2-15 7-65m9 73l-2 3 7-47m22-38l-2 63 7-42m30 59l-2-18 7 11l1-69-1 69 7-5l1-58-1 58 6-46m37 4l-2 58 7-60m15 11l-2 69 7-23l2-75-2 75 7 19l2-84-2 84 7-66m50-12l-2 79 7-7l2-35-2 35 7-55m8-11l-1 103 6-45l2 3-2-3 7 54l2-113-2 113 7-24l2-87-2 87 7-37m22-34l-1 62 6-54m43 107l-1-48 6-30m9-42l-2 79 7-12l2-57-2 57 7 56m29-94l-1 68 6-42m23 62l-2-27 7-41m63-31l-1 53 6 95m9 34l-2-96 7-62m36 18l-1 51 6 17l2-95-2 95 7 47m23-140l-2 68 7 68"/><path class="h13" d="M3542 3282l-2 43 7 153m9-186l-2 20 7-7l1 54-1-54 6 67m23-84l-2 46 7-26l2-18-2 18 7-1l2-17-2 17 7-2l1-10-1 10 6 162m16-166l-2 7 7 0l2-6-2 6 7 2l2 94-2-94 7 41m8-22l-1-14 7 11l1-7-1 7 6-4l2 72-2-72 7 91m16-106l-2 10 7 90m15-98l-1 9 6 4l2-16-2 16 7 188m16-159l-2 4 7 112m9-36l-2-73 7 75m8 89l-2-191 7 14l2-13-2 13 7 35m9-34l-2-17 7 42m22-47l-1 18 6 92m9-73l-2-6 7-19l2 10-2-10 7 2l2 2-2-2 7-1l2-9-2 9 7 59m22-48l-2-8 7 81m16-16l-2-62 7 45m8-21l-1-15 6-5l2-13-2 13 7 46m9-27l-2-16 7 8l2 7-2-7 7 76m9-96l-2 19 7 134m15-151l-2 21 7-8l2 49-2-49 7 55m36-66l-2 51 7 27m9-48l-2 0 7-3l2-20-2 20 7 121m9-101l-2-20 7-5l1-7-1 7 6 90m16-82l-2 0 7 9l2-16-2 16 7-11l2-14-2 14 7 159m8-111l-1-11 7 32m8 44l-2-93 7-13l2 70-2-70 7 30l2-45-2 45 7-28l2 15-2-15 7 3l2-4-2 4 7-1l1 11-1-11 7 39m8-13l-2-4 7-23l2 26-2-26 7 2l2 1-2-1 7 33l2-12-2 12 7-16l2 34-2-34 7 9l2-25-2 25 7-18l1 8-1-8 6-4l2-1-2 1 7 68m9-28l-2-37 7 76m9-90l-2 43 7-28l2 126-2-126 7 21l1-7-1 7 6 32m9 36l-2-78 7 9l2-24-2 24 7 22l2 95-2-95 7-20l2-30-2 30 7 30m22 2l-2-42 7-2l2 11-2-11 7 14l2 57-2-57 7 119m9-90l-2-26 7 47m8-46l-1-14 6 125m30-111l-2-4 7 22l2 22-2-22 7 146m15-165l-2 31 7-35l2-11-2 11 7 8l2-19-2 19 7 60m15-36l-1-26 7 92m29 59l-2-111 7-37l2 92-2-92 7 39l2-19-2 19 7 26m8-40l-2-14 7 8l2 120-2-120 7-11l2-12-2 12 7-1l2-13-2 13 7 3l2-6-2 6 7-2l2 5-2-5 7 62m8-36l-2 6 7 37m30-7l-2-42 7-14l1-5-1 5 7 81m8-91l-2 49 7-1l2 17-2-17 7-17l2 28-2-28 7 53m9 131l-2-172 7-24l2-14-2 14 7 6l1 14-1-14 6 2l2 85-2-85 7-7l2 4-2-4 7 1l2-2-2 2 7 13l2 31-2-31 7 14l2-10-2 10 7-24l2 63-2-63 7 41m22 14l-2-43 7 25l2-41-2 41 7-32l2 77-2-77 7 158m8-120l-1-20 7 58m22-73l-2 2 7 19l2-1-2 1 7 44m15-3l-1-22 6-20l2 9-2-9 7-13l2 29-2-29 7 12l2-23-2 23 7 28l2 4-2-4 7 76m15-124l-1 13"/><path class="h10" d="M3629 3308l-2 184 7-171m126 112l-2 140 7-110m441-55l-2 163 7-160m50 0l-2 160 7-146m98-21l-2 182 7-147m393 34l-2 171 7-144"/><path class="h11" d="M3554 3312l-2 125 7-68m15-1l-1 75 6 2l2 60-2-60 7-129m132 6l-1 138 6-9l2 59-2-59 7-69m36-51l-1 132 7-124m8 41l-2 97 7-123m139 39l-1 88 6-92m9-31l-2 161 7-151m112 1l-2 102 7-89m118-2l-2 123 7-46m112-45l-2 138 7-110m36-26l-2 130 7-34l2 23-2-23 7-85m50-11l-2 119 7 25l2-122-2 122 7-97m8 62l-1 43 7-135m8-18l-2 111 7 3l2-106-2 106 7-96m71 56l-2 90 7-85m49-30l-1 105 7-59m15 35l-2-2 7-93m36 26l-2 136 7-136m98-12l-2 158 7-143m119 123l-2-23 7-92"/><path class="h12" d="M3526 3357l-2 12 7-58m30-6l-2 64 7-48m43-16l-2 64 7 11l1 87-1-87 7-59m36-6l-2 64 7-40m8-17l-1 94 6-46l2 43-2-43 7 17l2 11-2-11 7-49m9 69l-2-44 7 20l2 43-2-43 7-50m22 130l-2-81 7-38m16 14l-2 37 7 178m63-139l-1-1 6-64m16-31l-2 55 7-31m9 34l-2-10 7-31m22 66l-2-4 7-22l2 13-2-13 7-23m9 16l-2 4 7-19m8-26l-1 93 7 41m8-131l-2 39 7 130m23-28l-2-95 7-17m29 48l-2 5 7-60m9 28l-2 17 7-39m15 42l-2 40 7-77m9-14l-2 37 7-24m22 72l-1-1 7-14l1-5-1 5 6-50m16-19l-2 76 7-8l2 91-2-91 7-43m9 44l-2-12 7-4l1-33-1 33 6-34m16-10l-2 56 7 3l2-56-2 56 7 2l2-59-2 59 7 35l2-55-2 55 7-55m15-38l-2 75 7-29l2-13-2 13 7 21l2-50-2 50 7 122m15-185l-1 96 7 4l1-32-1 32 6-35l2-62-2 62 7-46m16-15l-2 68 7 113m43-129l-2-2 7-20m9 28l-2-1 7-31m91 166l-2-121 7 105m36-92l-2-3 7 43l2-95-2 95 7-56m8 8l-1 5 6 19l2 30-2-30 7 6l2 0-2 0 7-53m16 18l-2 24 7 92m8-144l-1 59 6-41m9-21l-2 70 7-47m9-21l-2 78 7-63m9 45l-2-5 7 80m8-68l-1 9 6-24l2 3-2-3 7 57m78-90l-2 36 7-24m22-3l-2 58 7-57m9-11l-2 75 7 20l2-54-2 54 7-16l1 57-1-57 7-56m22-18l-2 81 7-42m16 37l-2-31 7-17m15-23l-2 77 7-12l2-46-2 46 7-47m16 20l-2 17 7 10l1-47-1 47 6-46"/><path class="h13" d="M3533 3348l-2-37 7 11l2 3-2-3 7-9l2 165-2-165 7 124m15-65l-1-51 7 122m15-109l-2-18 7 4l2-12-2 12 7-1l2-12-2 12 7 50m15-20l-1-28 6 171m9-184l-2 13 7 2l2-13-2 13 7 20l2 8-2-8 7 36m9-53l-2 13 7 77m22-99l-2 21 7 25m16-45l-2 15 7 127m22-105l-2-11 7 15l2 108-2-108 7 36m22-50l-1-6 6 138m9-148l-2 25 7-10l2 27-2-27 7 11l2 57-2-57 7 5l2 64-2-64 7-6l2-12-2 12 7 79m8-78l-2 14 7-15l2-18-2 18 7 39m9-56l-2 25 7 24m9-7l-2-24 7 23l1 49-1-49 6-20l2-18-2 18 7 59m16-74l-2 29 7 20m9-40l-2 21 7 67m29-6l-2-66 7 8l2-19-2 19 7 20m9 41l-2-58 7 6l1-24-1 24 6-17l2-15-2 15 7 1l2 39-2-39 7 63m9-13l-2-47 7 45m9 3l-2-42 7-8l1 23-1-23 6 90m9-88l-2 11 7 23m9 84l-2-108 7 89m9-107l-2 18 7 71m15-81l-2 17 7-6l2-2-2 2 7 63m16-39l-2-12 7 32m15-50l-2 12 7 20l2-2-2 2 7 26m29-32l-1 17 6 83m37-113l-2 21 7 71m22-17l-2-60 7-2l2 15-2-15 7 55m15-15l-1-18 7-20l1-4-1 4 6 7l2-2-2 2 7-1l2 21-2-21 7 139m16-97l-2-33 7 27m8-45l-1 14 6 17l2-33-2 33 7 111m16-127l-2 8 7-9l2 48-2-48 7 170m8-57l-1-90 7-4l1 49-1-49 6 0l2 26-2-26 7-11l2 56-2-56 7 109m29-85l-1-17 6 93m16-43l-2-50 7 40m16 40l-2-53 7 13m22-12l-2-16 7 3l2-24-2 24 7 39m22-44l-2 10 7 49m9-71l-2 24 7 57m9-80l-2 17 7 40m36 116l-2-155 7 2l2 0-2 0 7 14l2-28-2 28 7-9l2 62-2-62 7-1l1 21-1-21 6 156m9-153l-2 17 7-16l2 52-2-52 7-3l2 14-2-14 7 1l2-11-2 11 7 31m8-34l-1 10 6-4l2-13-2 13 7 1l2-13-2 13 7 58m9-44l-2-13 7 64m22-1l-1-51 6 147m9-133l-2-10 7 59m9 77l-2-119 7 150m15-96l-1-65 6 5l2 107-2-107 7 49m16-14l-2-45 7 12l2 101-2-101 7 25m15-50l-2 14 7 25l2-27-2 27 7 4l2-3-2 3 7-6l2 79-2-79 7 75m9-107l-2 15"/><path class="h10" d="M3566 3321l-2 222 7-195m152 103l-1 121 7-184m496 98l-2 80 7-134m139 7l-2 180 7-175m146 48l-2 125 7-15"/><path class="h11" d="M3634 3321l-2 103 7-81m23-4l-2 100 7-82m22-19l-2 88 7 59l2-122-2 122 7-136m71-10l-2 134 7-17l1 21-1-21 6-98m37 75l-2 29 7-70m84-19l-2 79 7-75m36-1l-2 88 7-12m9-73l-2 82 7-9m22-20l-2 84 7-117m16-21l-2 125 7-119m43-2l-2 98 7-18m57-39l-2 114 7-106m43-11l-2 108 7-43m8-28l-1 43 6-68m64 26l-2 47 7 31l2 35-2-35 7-98m262 13l-1 151 7-140m22-15l-2 95 7-41m22-17l-1 69 6-34m43 91l-1-31 6-35m9-86l-2 104 7-72m29-31l-1 109 7 15l1-123-1 123 6-64m9-58l-2 143 7-112m43 44l-2 32 7-83m77-6l-1 128 7-111"/><path class="h12" d="M3538 3322l-2 44 7-6l2-47-2 47 7 20l2 57-2-57 7-48m16 111l-2-95 7 9l1 88-1-88 6-28m37-8l-2 88 7-54l1 137-1-137 6 69m37-8l-2-59 7-17m8 47l-1 6 6 33m23-93l-2 77 7-58m15 30l-1 6 6-22l2-22-2 22 7 48l2-55-2 55 7-63m50 4l-2 23 7 31l2-49-2 49 7 16l2-71-2 71 7 37m8-93l-1 23 6 49l2-87-2 87 7-80m16 25l-2 35 7-56m9 13l-2 10 7 54l1-84-1 84 7-45l1 20-1-20 6-11l2 9-2-9 7 23l2-37-2 37 7-40m23 112l-2-90 7-8m8 136l-2-76 7-65m16 18l-2 56 7 9m9-76l-2 67 7-22l1-62-1 62 6-41m23 28l-2-1 7 87m15-43l-1-34 7-38m8 18l-2 56 7-16l2-64-2 64 7-34l2 59-2-59 7 68m9-27l-2 9 7-70m15-9l-2 64 7-19l2 18-2-18 7-30m16 29l-2 44 7 66m8-148l-1 42 6-26m23 35l-2 15 7-49m15 97l-1-18 7 15m8-72l-2 4 7-20m9 159l-2-100 7-39l2-21-2 21 7 10l2 40-2-40 7 124m8-115l-1-19 6-17m9-12l-2 42 7 60m16-80l-2 13 7 37l2-70-2 70 7-3l1-60-1 60 6-52m9 130l-2-87 7-37m9-6l-2 46 7-24l2 5-2-5 7 34l2-60-2 60 7-35m8 103l-1-54 6-12l2 32-2-32 7-18l2-35-2 35 7 6l2-50-2 50 7-19m22-12l-1 68 6-46l2-33-2 33 7 14l2 62-2-62 7-23m9 13l-2 50 7-27l2 82-2-82 7-46m15 89l-2-67 7-17m9 28l-2 18 7-41m16 23l-2 32 7-36l1 23-1-23 7 3l1 26-1-26 6 53l2-80-2 80 7-48l2-29-2 29 7 18l2-8-2 8 7-43m29 3l-2 42 7 1l2 14-2-14 7 46m9-55l-2 14 7-28m22 68l-2-22 7-39l2-32-2 32 7 51l2-81-2 81 7-54m29-3l-2 70 7 18m9-107l-2 35 7-21m36 49l-2 1 7 85m16-59l-2-33 7-34m15 142l-1-117 6-22m23 163l-2-100 7-5l2-39-2 39 7 3l2-59-2 59 7-14l1-40-1 40 6-16l2 25-2-25 7 17l2-4-2 4 7-35m50 8l-2 57 7-63"/><path class="h13" d="M3524 3369l-1-39 7-8l1-11-1 11 6 44m23 3l-2-37 7 211m22-227l-2 13 7 1l2-10-2 10 7 3l2-14-2 14 7-2l2 38-2-38 7 4l2 45-2-45 7 74m22-86l-2 20 7 2l2-2-2 2 7 8l2 26-2-26 7 86m15-69l-1-30 7 53m22-10l-2-34 7 61m9 50l-2-108 7 220m29-177l-2-44 7 6l2 216-2-216 7 5l2 101-2-101 7 111m15-119l-2 4 7-3l2-11-2 11 7 23m43 15l-2-32 7 1l2 0-2 0 7 59m9-66l-2 10 7 23m36 4l-2-23 7 83m9-12l-2-63 7 14m8-2l-1-6 6 60m9-75l-2 10 7 86m36-95l-2 20 7 127m9-144l-2 27 7 17m16-46l-2 14 7 42m8-43l-1 5 6 74m37-23l-2-47 7 2l1-5-1 5 6 53m16-9l-2-40 7 0l2-3-2 3 7 73m22-62l-2-4 7-2l2 32-2-32 7 3l2 32-2-32 7 49m9 20l-2-69 7 122m29-79l-2-37 7 59m36-66l-2 10 7 30m43-34l-2 9 7 43m9-23l-2-14 7 40m22-33l-1 8 7 49m29 96l-2-139 7 172m9-184l-2 9 7 59m22 55l-2-110 7 63m16-80l-2 7 7 2l1 84-1-84 6 20m9-29l-2 12 7 46m9 25l-2-66 7-4l2 14-2-14 7 59m43 74l-2-127 7 167m15-117l-1-38 6 33m30 72l-2-94 7-11l2 46-2-46 7 91m29-89l-2 13 7-12l2-10-2 10 7 3l2-14-2 14 7 111m29-123l-2 13 7 11l2 7-2-7 7-7l2-10-2 10 7 95m29-43l-2-33 7 20m9 17l-2-51 7 1l2-6-2 6 7 24m8-26l-2 4 7 87m9-74l-2-9 7 59m43-66l-2 16 7-6l2 2-2-2 7 11l2 16-2-16 7-9l2 35-2-35 7 117m8-103l-1-8 6-1l2 13-2-13 7 64m9 18l-2-81 7 0l2-11-2 11"/><path class="h10" d="M3804 3409l-2 108 7-115m180 114l-1 61 6-162m43 47l-1 119 6-127m208 51l-2 69 7-131m167-5l-2 161 7-131m43 35l-2 131 7-122m153 67l-2 132 7-188m50 60l-2 71 7-40m29-136l-2 229 7-210m77-3l-2 156 7-139"/><path class="h11" d="M3543 3360l-2 64 7-6l2-38-2 38 7-13m29-76l-1 124 6-47m43 18l-1 25 7-94m43 38l-2 34 7-73m43 34l-2 86 7-73m22-44l-2 143 7-136m64 28l-2 60 7-78m8-13l-1 132 6-117m85 7l-2 111 7-21l1-30-1 30 7-84m8 75l-2-2 7-17m23-15l-2 57 7-91m36-12l-2 114 7 24l2-96-2 96 7-123m84 72l-2 47 7-92m15-21l-1 132 7-57m8-74l-2 93 7-79m64 22l-2 61 7-61m9-10l-2 74 7-79m36 48l-2 70 7-82m8-43l-1 135 7-120m36 6l-2 121 7-118m63 27l-2 84 7-71m85-14l-2 112 7-48l1-11-1 11 6-22m50-16l-2 99 7-5l2-48-2 48 7-105m50-8l-2 70 7-68m77 40l-1 95 6-70m37-41l-2 69 7-30m36 0l-2 26 7-62"/><path class="h12" d="M3523 3330l-2 44 7-15l2-37-2 37 7-8l1 15-1-15 6 73m16-92l-2 73 7-60l2 198-2-198 7 15l2-12-2 12 7 42l2-45-2 45 7 51m8-123l-2 76 7-59m9-16l-2 29 7-1l2-24-2 24 7-13m9 9l-2 13 7 81m8-106l-1 12 6-6m9 4l-2 48 7-50m9 6l-2 13 7-10l2-20-2 20 7 67m15 58l-2-104 7-16l2-16-2 16 7-6m16 213l-2-199 7 101m8-108l-1 35 6-35m30 107l-2-82 7-24m8-9l-1 29 7 48l1-80-1 80 6-35l2-22-2 22 7 117m9-92l-2-23 7-22l2 82-2-82 7 72m29-31l-2-7 7-33m9 7l-2 32 7-22l2 44-2-44 7-2l2 1-2-1 7 16l1-26-1 26 6-2l2-1-2 1 7 34l2-75-2 75 7-15l2 23-2-23 7-41m9 3l-2 7 7 96m29-42l-2-7 7 7l2 9-2-9 7-40l2 40-2-40 7 75m22-88l-2 16 7 20l2-19-2 19 7-36m36 47l-2 8 7-50m9 76l-2-57 7 0l2 39-2-39 7-5l2-26-2 26 7 18l2-42-2 42 7-18l1 29-1-29 6-8m9-12l-2 71 7-58m16 126l-2-111 7-14m15-9l-1 77 6 19m16-93l-2 51 7 26l2 45-2-45 7-57l2 59-2-59 7-6m8 12l-1-3 6 15l2-32-2 32 7-4l2 31-2-31 7-3l2-5-2 5 7 66m9 63l-2-124 7 64m29 30l-2-93 7 2l2-7-2 7 7 100m9-73l-2-9 7 92m22-89l-2-13 7-15m29 40l-1-24 6 11l2-5-2 5 7-19m9 1l-2 42 7-34l2 164-2-164 7-9m9 57l-2-4 7-15l1-27-1 27 6 71m9-107l-2 36 7 11l2 16-2-16 7 4l2-15-2 15 7 100m9-159l-2 28 7 53l1-61-1 61 7-63m8 31l-2-13 7 0l2-28-2 28 7 20l2-52-2 52 7 138m9-167l-2 45 7 70m15-107l-2 37 7-50m9-12l-2 25 7 15l2 127-2-127 7 37l2 75-2-75 7-29l2-36-2 36 7-5l1 2-1-2 6 102m16-94l-2-16 7-13m16 81l-2-47 7-26l1 39-1-39 7 10l1-10-1 10 6 9l2 32-2-32 7 48m29-3l-1-21 7-1l1 40-1-40 6-27l2-5-2 5 7-13m16-9l-2 17 7 18l2 60-2-60 7 146m15-50l-2-60 7-7l2-45-2 45 7-44m16-14l-2 18 7 75m8-91l-1 61 7-45m8-12l-2 40 7-26m9 40l-2-16 7 45m9-40l-2-22 7 19l1-13-1 13 7-18l1 22-1-22 6 143m9-162l-2 23 7 18l2-30-2 30 7-23m9 101l-2-97 7 53l2-67-2 67 7-31l1-37-1 37 6-25m9-11l-2 77 7-58l2-19-2 19"/><path class="h13" d="M3598 3333l-2 14 7 13m16 49l-2-63 7 22m22-23l-2 4 7 52m9 38l-2-88 7 19m22 56l-1-72 6 27m16 29l-2-51 7 4l2-11-2 11 7 10m22 41l-2-48 7 1l2-16-2 16 7 133m9-138l-2 2 7 27m9 65l-2-89 7 20m49 54l-1-67 7 119m8-131l-2 14 7 38m9-49l-2 16 7 39m50-43l-2 11 7 10m22-20l-1 11 6 73m36-73l-1 7 7 181m22-74l-2-104 7 99m16-110l-2 11 7 182m15-169l-2-8 7 19m36 5l-2-18 7 59m9-71l-2 13 7 107m16-87l-2-19 7 125m22-82l-2-35 7 37m23 43l-2-80 7 9m49-14l-1 12 6 3l2 15-2-15 7 144m43-111l-1-28 6 0l2-9-2 9 7 18m9-11l-2-4 7 0l2 38-2-38 7 124m9-72l-2-46 7 10m15 12l-2-20 7 43m16-45l-2 2 7 53m63-56l-1 15 6 18m57 17l-2-31 7 13m57-2l-2-1 7-1l2-9-2 9 7 35m36-41l-2 14 7-1l2-10-2 10 7 233m29-242l-2 13 7 1l2-3-2 3 7 7m43 22l-2-19 7 214m29-139l-1-71 6 28m9 19l-2-45 7 24m57-33l-2 16 7 4m22 49l-2-52 7 66"/><path class="h9" d="M4454 3476l-2 274 7-281m174 54l-2 260 7-276"/><path class="h10" d="M3548 3418l-2 144 7-204m345 86l-1 129 6-174m30 74l-2 67 7-69m427-16l-2 141 7-71m36-30l-2 209 7-234m64 42l-2 165 7-154m173-41l-2 145 7-99m30 86l-2 30 7-142m132 8l-2 164 7-90"/><path class="h11" d="M3528 3359l-2 50 7-61m36 12l-2 85 7-60m22-38l-1 95 6-82m9-1l-2 69 7-14m9-46l-2 64 7 31l2-14-2 14 7-95m22-17l-2 81 7-46m16 41l-2-2 7-56m22-10l-2 77 7-38m23 3l-2 52 7-65m8-21l-1 91 6-64m9-30l-2 80 7-60m9-17l-2 79 7-47m15 1l-1 91 6-33l2 59-2-59 7 6l2-62-2 62 7-61m29-27l-1 72 6-55m30 3l-2 121 7-93m57-35l-2 82 7-60m36-15l-2 76 7-58m8 1l-1 93 6-60m16 50l-2 24 7-6l2 6-2-6 7-58m22-54l-1 123 6-105m9 1l-2 115 7-8l2-112-2 112 7-90m9-22l-2 80 7-77m8 48l-1 20 6-64m16 1l-2 81 7-5l2-90-2 90 7-75m29 30l-2 35 7-48m23-15l-2 101 7-93m29 5l-2 63 7-57m50 15l-2 86 7-68m9-46l-2 129 7-103m29 101l-2-47 7-36m9-25l-2 92 7-62m15 5l-2 46 7 61m9-150l-2 79 7-66m91 175l-2-58 7 101m36-202l-2 69 7-55m23 4l-2 76 7-35m15-49l-2 84 7-67m50-23l-2 139 7-125m29 2l-1 59 6 73m23-119l-2 92 7-59m77-42l-2 77 7-59m71 46l-2 21 7 13l2-65-2 65 7 41l1-131-1 131 7-115"/><path class="h12" d="M3521 3374l-2-26 7 61m9-58l-2-3 7 55l1 21-1-21 6 159m9-157l-2-47 7 10l2-23-2 23 7 77m9-43l-2-17 7-24l2 92-2-92 7 1l1 44-1-44 7 80m8-82l-2 0 7 68m9-82l-2 68 7 18m16-77l-2 13 7 39l1-58-1 58 6-21l2 15-2-15 7 46m9-62l-2 16 7-20l2-6-2 6 7 59m9-71l-2 15 7 8l1 4-1-4 6-7l2-5-2 5 7 66m9-73l-2 35 7 8l2-33-2 33 7-30l2 98-2-98 7 77m8-87l-1 22 7 70m8 42l-2-106 7 50m9-53l-2-7 7 62m9-59l-2 12 7 32l2 4-2-4 7 60m22-111l-2 23 7-15l2 64-2-64 7 0l2-14-2 14 7 0l2 105-2-105 7 60m8-34l-2-21 7 5l2-17-2 17 7-7l2 29-2-29 7 3l2 4-2-4 7 123m9-105l-2 12 7-20l1 6-1-6 7 169m8-144l-2-30 7 16l2-27-2 27 7-7l2-10-2 10 7-9l2 95-2-95 7 141m15-78l-1-51 6 34l2 0-2 0 7 14l2-7-2 7 7-46l2-1-2 1 7-4l2 78-2-78 7 63m9 105l-2-163 7 94m8-73l-2 13 7-28l2-21-2 21 7 102m16-123l-2 59 7-17l2 140-2-140 7-22l1 35-1-35 7 108m8-104l-2-1 7 116m16-102l-2 4 7 58m8-88l-1 11 7 68m8-78l-2 14 7-1l2 94-2-94 7 83m16 30l-2-110 7 23l2 30-2-30 7-11l1 60-1-60 6 0l2-19-2 19 7 53m9-9l-2-39 7 3l2-21-2 21 7-7l2-20-2 20 7 90m8-86l-1-7 6 31l2-28-2 28 7 14l2-45-2 45 7-35l2 56-2-56 7 58m9 1l-2-58 7 26l2-47-2 47 7-28l1-16-1 16 7 16l1 112-1-112 6-6l2-13-2 13 7-13l2 2-2-2 7 2l2 100-2-100 7 104m9 6l-2-74 7 83m8-129l-1 26 6-9l2 1-2-1 7 7l2-21-2 21 7 38l2-59-2 59 7 18m9-71l-2 35 7 67m8-81l-1 19 6-28l2-10-2 10 7 79m23-36l-2-40 7 1l2 24-2-24 7 25l1 70-1-70 7-19l1 18-1-18 6 238m9-205l-2-29 7 22l2 107-2-107 7-4l2-20-2 20 7 10l2 23-2-23 7 26l2-66-2 66 7-52l1 4-1-4 6 278m9-254l-2-27 7 107m16 6l-2-59 7-49l2 60-2-60 7 54l1-16-1 16 6-53l2-13-2 13 7 69m9-54l-2-1 7 16l2 22-2-22 7-6l2-1-2 1 7 70m8 26l-1-61 7-41l1 97-1-97 6 76m9-97l-2 30 7-3l2-28-2 28 7-14l2 21-2-21 7 2l2-7-2 7 7 7l2-4-2 4 7-6l1 11-1-11 6 57l2 2-2-2 7 73m9-140l-2 15 7-1l2 219-2-219 7 291m9-261l-2-15 7 47m15-71l-2 45 7-8l2-30-2 30 7 80m9 54l-2-113 7 103m8-100l-1-42 7 19l1 16-1-16 6-15l2-13-2 13 7 50l2 151-2-151 7-37l2-22-2 22 7-1l2 54-2-54 7-13l2 37-2-37 7 16l2-24-2 24 7-13l1 17-1-17 6 68m9-53l-2-6 7 22l2 29-2-29 7-23l2-10-2 10 7 1l2 8-2-8 7 48l2-58-2 58 7-6l1 91-1-91 6-16l2-32-2 32 7 21l2-35-2 35 7-39l2-19-2 19 7 149m29-101l-1-50 6 27l2-35-2 35"/></g>
<path class="ax" d="M316.3 287.8L316.3 387.4L462.3 406.6L523.8 361.3M316.3 387.4l-3.2 -0.4M316.3 370.8l-3.2 -0.4M316.3 354.2l-3.2 -0.4M316.3 337.6l-3.2 -0.4M316.3 321l-3.2 -0.4M316.3 304.4l-3.2 -0.4M316.3 287.8l-3.2 -0.4M316.3 387.4l-2.6 1.9M340.6 390.6l-2.6 1.9M365 393.8l-2.6 1.9M389.3 397l-2.6 1.9M413.6 400.2l-2.6 1.9M438 403.4l-2.6 1.9M462.3 406.6l-2.6 1.9M462.3 406.6l3.2 0.4M477.7 395.3l3.2 0.4M493.1 384l3.2 0.4M508.4 372.6l3.2 0.4M523.8 361.3l3.2 0.4"/>
<text class="tk" x="308.9" y="389.6" text-anchor="end">−120</text>
<text class="tk" x="308.9" y="373" text-anchor="end">−100</text>
<text class="tk" x="308.9" y="356.4" text-anchor="end">−80</text>
<text class="tk" x="308.9" y="339.8" text-anchor="end">−60</text>
<text class="tk" x="308.9" y="323.2" text-anchor="end">−40</text>
<text class="tk" x="308.9" y="306.6" text-anchor="end">−20</text>
<text class="tk" x="308.9" y="290" text-anchor="end">0</text>
<text class="tk" x="310.7" y="398.2" text-anchor="end">−600</text>
<text class="tk" x="335" y="401.4" text-anchor="end">−400</text>
<text class="tk" x="359.4" y="404.6" text-anchor="end">−200</text>
<text class="tk" x="383.7" y="407.8" text-anchor="end">0</text>
<text class="tk" x="408" y="411" text-anchor="end">200</text>
<text class="tk" x="432.4" y="414.2" text-anchor="end">400</text>
<text class="tk" x="456.7" y="417.4" text-anchor="end">600</text>
<text class="tk" x="468.7" y="414">99</text>
<text class="tk" x="484.1" y="402.7">99.5</text>
<text class="tk" x="499.4" y="391.4">100</text>
<text class="tk" x="514.8" y="380">100.5</text>
<text class="tk" x="530.2" y="368.7">101</text>
<text class="ti" x="420.5" y="238.8" text-anchor="middle">APC-IARFT LFM</text>
<text class="lb" x="378.8" y="421.9" text-anchor="middle">Velocity(m/s)</text>
<text class="lb" x="505.7" y="415.6">Range(km)</text>
<text class="lb" x="0" y="0" text-anchor="middle" transform="translate(289.3 337.4) rotate(-90)">Normalized amplitude(dB)</text>
<text class="cap" x="415.2" y="444" text-anchor="middle">(<tspan font-weight="bold" fill="#000">d</tspan>)</text>

<text class="tg" x="197.3" y="283.1">Target 2</text>
<path class="ar" d="M202 285.5L196.6 294.5"/><path class="ah" d="M195.8 295.8l0.2-4.2 2.9 1.8z"/>
<ellipse class="el" cx="194" cy="313.4" rx="4.8" ry="16"/>
<text class="tg" x="477.3" y="290.6">Target 2</text>
<path class="ar" d="M481.2 293L475.6 302"/><path class="ah" d="M474.8 303.3l0.2-4.2 2.9 1.8z"/>
<ellipse class="el" cx="471.4" cy="320.2" rx="4.5" ry="15.7"/>

</svg>
</body></html>
